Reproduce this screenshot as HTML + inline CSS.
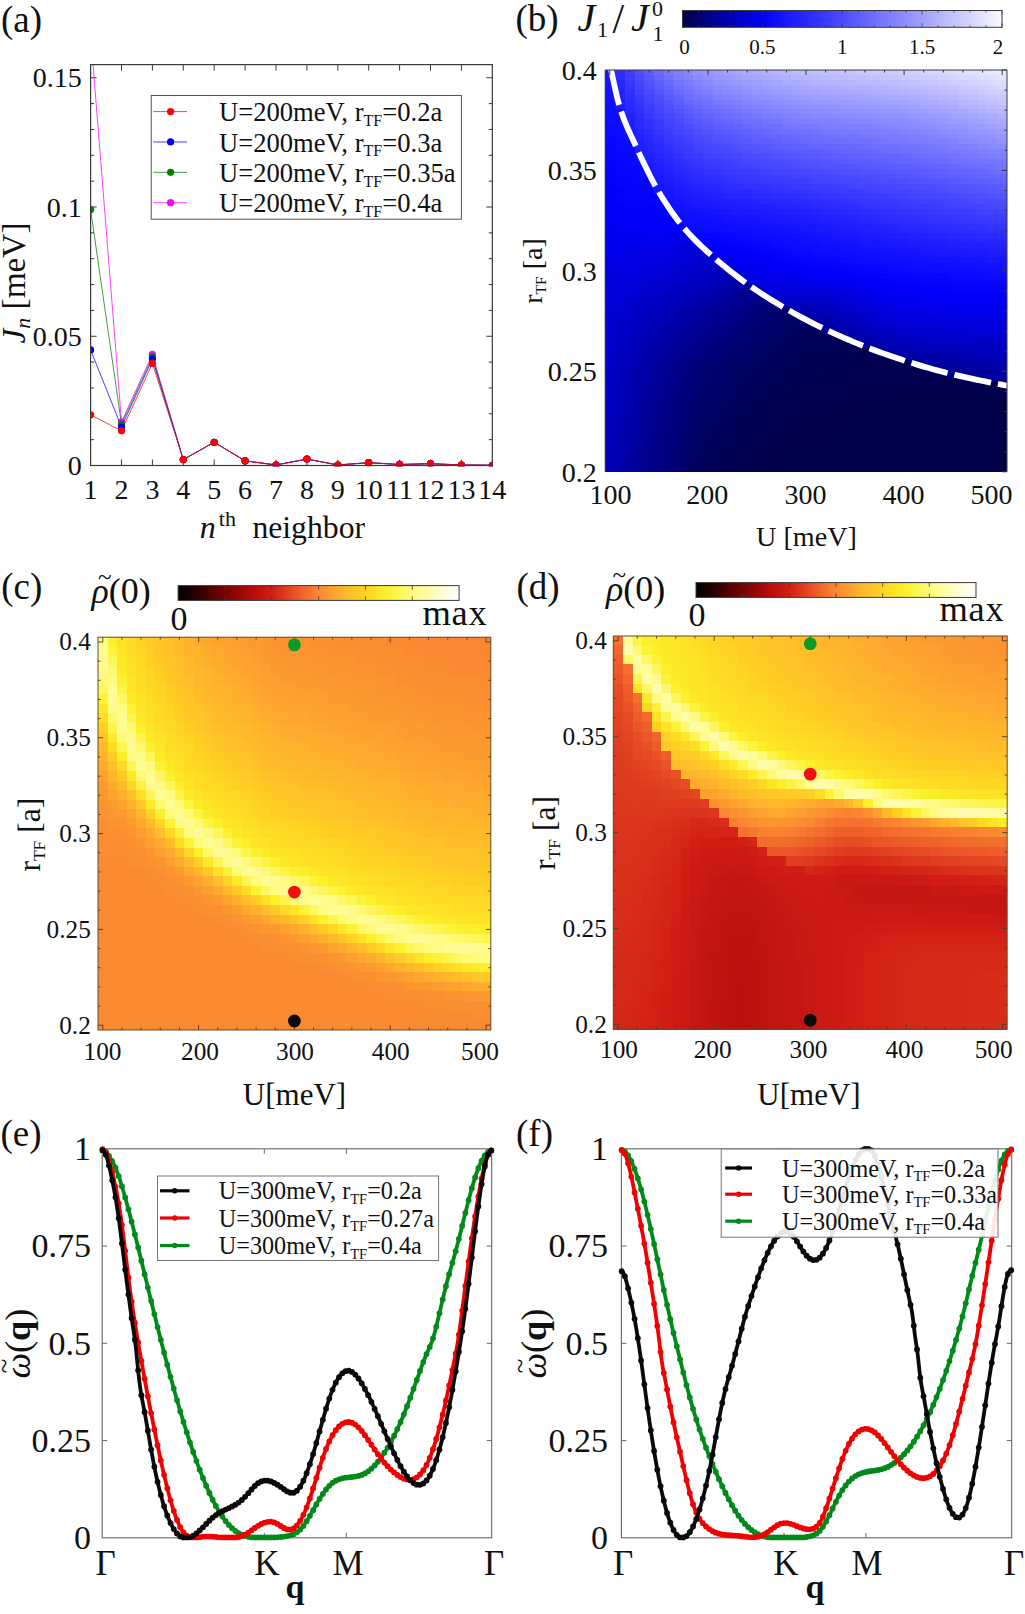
<!DOCTYPE html>
<html><head><meta charset="utf-8"><title>figure</title>
<style>html,body{margin:0;padding:0;background:#fff}svg{display:block}text{font-family:"Liberation Serif",serif;fill:#111}</style>
</head><body>
<svg width="1025" height="1614" viewBox="0 0 1025 1614">
<rect width="1025" height="1614" fill="#fff"/>
<clipPath id="ca"><rect x="90" y="64.6" width="402.9" height="401.7"/></clipPath>
<line x1="121.5" y1="465.5" x2="121.5" y2="459.5" stroke="#3a3a3a" stroke-width="1" />
<line x1="121.5" y1="64.6" x2="121.5" y2="70.6" stroke="#3a3a3a" stroke-width="1" />
<line x1="152.4" y1="465.5" x2="152.4" y2="459.5" stroke="#3a3a3a" stroke-width="1" />
<line x1="152.4" y1="64.6" x2="152.4" y2="70.6" stroke="#3a3a3a" stroke-width="1" />
<line x1="183.3" y1="465.5" x2="183.3" y2="459.5" stroke="#3a3a3a" stroke-width="1" />
<line x1="183.3" y1="64.6" x2="183.3" y2="70.6" stroke="#3a3a3a" stroke-width="1" />
<line x1="214.2" y1="465.5" x2="214.2" y2="459.5" stroke="#3a3a3a" stroke-width="1" />
<line x1="214.2" y1="64.6" x2="214.2" y2="70.6" stroke="#3a3a3a" stroke-width="1" />
<line x1="245.1" y1="465.5" x2="245.1" y2="459.5" stroke="#3a3a3a" stroke-width="1" />
<line x1="245.1" y1="64.6" x2="245.1" y2="70.6" stroke="#3a3a3a" stroke-width="1" />
<line x1="276" y1="465.5" x2="276" y2="459.5" stroke="#3a3a3a" stroke-width="1" />
<line x1="276" y1="64.6" x2="276" y2="70.6" stroke="#3a3a3a" stroke-width="1" />
<line x1="306.9" y1="465.5" x2="306.9" y2="459.5" stroke="#3a3a3a" stroke-width="1" />
<line x1="306.9" y1="64.6" x2="306.9" y2="70.6" stroke="#3a3a3a" stroke-width="1" />
<line x1="337.8" y1="465.5" x2="337.8" y2="459.5" stroke="#3a3a3a" stroke-width="1" />
<line x1="337.8" y1="64.6" x2="337.8" y2="70.6" stroke="#3a3a3a" stroke-width="1" />
<line x1="368.7" y1="465.5" x2="368.7" y2="459.5" stroke="#3a3a3a" stroke-width="1" />
<line x1="368.7" y1="64.6" x2="368.7" y2="70.6" stroke="#3a3a3a" stroke-width="1" />
<line x1="399.6" y1="465.5" x2="399.6" y2="459.5" stroke="#3a3a3a" stroke-width="1" />
<line x1="399.6" y1="64.6" x2="399.6" y2="70.6" stroke="#3a3a3a" stroke-width="1" />
<line x1="430.5" y1="465.5" x2="430.5" y2="459.5" stroke="#3a3a3a" stroke-width="1" />
<line x1="430.5" y1="64.6" x2="430.5" y2="70.6" stroke="#3a3a3a" stroke-width="1" />
<line x1="461.4" y1="465.5" x2="461.4" y2="459.5" stroke="#3a3a3a" stroke-width="1" />
<line x1="461.4" y1="64.6" x2="461.4" y2="70.6" stroke="#3a3a3a" stroke-width="1" />
<line x1="90.6" y1="465.5" x2="96.6" y2="465.5" stroke="#3a3a3a" stroke-width="1" />
<line x1="492.3" y1="465.5" x2="486.3" y2="465.5" stroke="#3a3a3a" stroke-width="1" />
<line x1="90.6" y1="439.65" x2="94.1" y2="439.65" stroke="#3a3a3a" stroke-width="1" />
<line x1="492.3" y1="439.65" x2="488.8" y2="439.65" stroke="#3a3a3a" stroke-width="1" />
<line x1="90.6" y1="413.8" x2="94.1" y2="413.8" stroke="#3a3a3a" stroke-width="1" />
<line x1="492.3" y1="413.8" x2="488.8" y2="413.8" stroke="#3a3a3a" stroke-width="1" />
<line x1="90.6" y1="387.95" x2="94.1" y2="387.95" stroke="#3a3a3a" stroke-width="1" />
<line x1="492.3" y1="387.95" x2="488.8" y2="387.95" stroke="#3a3a3a" stroke-width="1" />
<line x1="90.6" y1="362.1" x2="94.1" y2="362.1" stroke="#3a3a3a" stroke-width="1" />
<line x1="492.3" y1="362.1" x2="488.8" y2="362.1" stroke="#3a3a3a" stroke-width="1" />
<line x1="90.6" y1="336.25" x2="96.6" y2="336.25" stroke="#3a3a3a" stroke-width="1" />
<line x1="492.3" y1="336.25" x2="486.3" y2="336.25" stroke="#3a3a3a" stroke-width="1" />
<line x1="90.6" y1="310.4" x2="94.1" y2="310.4" stroke="#3a3a3a" stroke-width="1" />
<line x1="492.3" y1="310.4" x2="488.8" y2="310.4" stroke="#3a3a3a" stroke-width="1" />
<line x1="90.6" y1="284.55" x2="94.1" y2="284.55" stroke="#3a3a3a" stroke-width="1" />
<line x1="492.3" y1="284.55" x2="488.8" y2="284.55" stroke="#3a3a3a" stroke-width="1" />
<line x1="90.6" y1="258.7" x2="94.1" y2="258.7" stroke="#3a3a3a" stroke-width="1" />
<line x1="492.3" y1="258.7" x2="488.8" y2="258.7" stroke="#3a3a3a" stroke-width="1" />
<line x1="90.6" y1="232.85" x2="94.1" y2="232.85" stroke="#3a3a3a" stroke-width="1" />
<line x1="492.3" y1="232.85" x2="488.8" y2="232.85" stroke="#3a3a3a" stroke-width="1" />
<line x1="90.6" y1="207" x2="96.6" y2="207" stroke="#3a3a3a" stroke-width="1" />
<line x1="492.3" y1="207" x2="486.3" y2="207" stroke="#3a3a3a" stroke-width="1" />
<line x1="90.6" y1="181.15" x2="94.1" y2="181.15" stroke="#3a3a3a" stroke-width="1" />
<line x1="492.3" y1="181.15" x2="488.8" y2="181.15" stroke="#3a3a3a" stroke-width="1" />
<line x1="90.6" y1="155.3" x2="94.1" y2="155.3" stroke="#3a3a3a" stroke-width="1" />
<line x1="492.3" y1="155.3" x2="488.8" y2="155.3" stroke="#3a3a3a" stroke-width="1" />
<line x1="90.6" y1="129.45" x2="94.1" y2="129.45" stroke="#3a3a3a" stroke-width="1" />
<line x1="492.3" y1="129.45" x2="488.8" y2="129.45" stroke="#3a3a3a" stroke-width="1" />
<line x1="90.6" y1="103.6" x2="94.1" y2="103.6" stroke="#3a3a3a" stroke-width="1" />
<line x1="492.3" y1="103.6" x2="488.8" y2="103.6" stroke="#3a3a3a" stroke-width="1" />
<line x1="90.6" y1="77.75" x2="96.6" y2="77.75" stroke="#3a3a3a" stroke-width="1" />
<line x1="492.3" y1="77.75" x2="486.3" y2="77.75" stroke="#3a3a3a" stroke-width="1" />
<g clip-path="url(#ca)">
<polyline points="90.6,33.8 121.5,421.81 152.4,354.35 183.3,459.55 214.2,442.24 245.1,460.85 276,464.98 306.9,459.04 337.8,464.98 368.7,462.66 399.6,464.47 430.5,463.69 461.4,464.98 492.3,465.24" fill="none" stroke="#ff00ff" stroke-width="1" stroke-opacity="0.75"/>
<polyline points="90.6,209.58 121.5,424.14 152.4,356.93 183.3,459.55 214.2,442.24 245.1,460.85 276,464.98 306.9,459.04 337.8,464.98 368.7,462.66 399.6,464.47 430.5,463.69 461.4,464.98 492.3,465.24" fill="none" stroke="#008000" stroke-width="1" stroke-opacity="0.75"/>
<polyline points="90.6,349.95 121.5,426.98 152.4,359 183.3,459.55 214.2,442.24 245.1,460.85 276,464.98 306.9,459.04 337.8,464.98 368.7,462.66 399.6,464.47 430.5,463.69 461.4,464.98 492.3,465.24" fill="none" stroke="#0000ff" stroke-width="1" stroke-opacity="0.75"/>
<polyline points="90.6,414.83 121.5,430.86 152.4,363.39 183.3,459.55 214.2,442.24 245.1,460.85 276,464.98 306.9,459.04 337.8,464.98 368.7,462.66 399.6,464.47 430.5,463.69 461.4,464.98 492.3,465.24" fill="none" stroke="#ff0000" stroke-width="1" stroke-opacity="0.75"/>
<circle cx="90.6" cy="33.8" r="3.6" fill="#ff00ff"/>
<circle cx="121.5" cy="421.81" r="3.6" fill="#ff00ff"/>
<circle cx="152.4" cy="354.35" r="3.6" fill="#ff00ff"/>
<circle cx="183.3" cy="459.55" r="3.6" fill="#ff00ff"/>
<circle cx="214.2" cy="442.24" r="3.6" fill="#ff00ff"/>
<circle cx="245.1" cy="460.85" r="3.6" fill="#ff00ff"/>
<circle cx="276" cy="464.98" r="3.6" fill="#ff00ff"/>
<circle cx="306.9" cy="459.04" r="3.6" fill="#ff00ff"/>
<circle cx="337.8" cy="464.98" r="3.6" fill="#ff00ff"/>
<circle cx="368.7" cy="462.66" r="3.6" fill="#ff00ff"/>
<circle cx="399.6" cy="464.47" r="3.6" fill="#ff00ff"/>
<circle cx="430.5" cy="463.69" r="3.6" fill="#ff00ff"/>
<circle cx="461.4" cy="464.98" r="3.6" fill="#ff00ff"/>
<circle cx="492.3" cy="465.24" r="3.6" fill="#ff00ff"/>
<circle cx="90.6" cy="209.58" r="3.6" fill="#008000"/>
<circle cx="121.5" cy="424.14" r="3.6" fill="#008000"/>
<circle cx="152.4" cy="356.93" r="3.6" fill="#008000"/>
<circle cx="183.3" cy="459.55" r="3.6" fill="#008000"/>
<circle cx="214.2" cy="442.24" r="3.6" fill="#008000"/>
<circle cx="245.1" cy="460.85" r="3.6" fill="#008000"/>
<circle cx="276" cy="464.98" r="3.6" fill="#008000"/>
<circle cx="306.9" cy="459.04" r="3.6" fill="#008000"/>
<circle cx="337.8" cy="464.98" r="3.6" fill="#008000"/>
<circle cx="368.7" cy="462.66" r="3.6" fill="#008000"/>
<circle cx="399.6" cy="464.47" r="3.6" fill="#008000"/>
<circle cx="430.5" cy="463.69" r="3.6" fill="#008000"/>
<circle cx="461.4" cy="464.98" r="3.6" fill="#008000"/>
<circle cx="492.3" cy="465.24" r="3.6" fill="#008000"/>
<circle cx="90.6" cy="349.95" r="3.6" fill="#0000ff"/>
<circle cx="121.5" cy="426.98" r="3.6" fill="#0000ff"/>
<circle cx="152.4" cy="359" r="3.6" fill="#0000ff"/>
<circle cx="183.3" cy="459.55" r="3.6" fill="#0000ff"/>
<circle cx="214.2" cy="442.24" r="3.6" fill="#0000ff"/>
<circle cx="245.1" cy="460.85" r="3.6" fill="#0000ff"/>
<circle cx="276" cy="464.98" r="3.6" fill="#0000ff"/>
<circle cx="306.9" cy="459.04" r="3.6" fill="#0000ff"/>
<circle cx="337.8" cy="464.98" r="3.6" fill="#0000ff"/>
<circle cx="368.7" cy="462.66" r="3.6" fill="#0000ff"/>
<circle cx="399.6" cy="464.47" r="3.6" fill="#0000ff"/>
<circle cx="430.5" cy="463.69" r="3.6" fill="#0000ff"/>
<circle cx="461.4" cy="464.98" r="3.6" fill="#0000ff"/>
<circle cx="492.3" cy="465.24" r="3.6" fill="#0000ff"/>
<circle cx="90.6" cy="414.83" r="3.6" fill="#ff0000"/>
<circle cx="121.5" cy="430.86" r="3.6" fill="#ff0000"/>
<circle cx="152.4" cy="363.39" r="3.6" fill="#ff0000"/>
<circle cx="183.3" cy="459.55" r="3.6" fill="#ff0000"/>
<circle cx="214.2" cy="442.24" r="3.6" fill="#ff0000"/>
<circle cx="245.1" cy="460.85" r="3.6" fill="#ff0000"/>
<circle cx="276" cy="464.98" r="3.6" fill="#ff0000"/>
<circle cx="306.9" cy="459.04" r="3.6" fill="#ff0000"/>
<circle cx="337.8" cy="464.98" r="3.6" fill="#ff0000"/>
<circle cx="368.7" cy="462.66" r="3.6" fill="#ff0000"/>
<circle cx="399.6" cy="464.47" r="3.6" fill="#ff0000"/>
<circle cx="430.5" cy="463.69" r="3.6" fill="#ff0000"/>
<circle cx="461.4" cy="464.98" r="3.6" fill="#ff0000"/>
<circle cx="492.3" cy="465.24" r="3.6" fill="#ff0000"/>
</g>
<rect x="90.6" y="64.6" width="401.7" height="400.9" fill="none" stroke="#3a3a3a" stroke-width="1.2"/>
<text x="81.8" y="475.2" font-size="28" text-anchor="end" >0</text>
<text x="81.8" y="345.95" font-size="28" text-anchor="end" >0.05</text>
<text x="81.8" y="216.7" font-size="28" text-anchor="end" >0.1</text>
<text x="81.8" y="87.45" font-size="28" text-anchor="end" >0.15</text>
<text x="90.6" y="498.5" font-size="28" text-anchor="middle" >1</text>
<text x="121.5" y="498.5" font-size="28" text-anchor="middle" >2</text>
<text x="152.4" y="498.5" font-size="28" text-anchor="middle" >3</text>
<text x="183.3" y="498.5" font-size="28" text-anchor="middle" >4</text>
<text x="214.2" y="498.5" font-size="28" text-anchor="middle" >5</text>
<text x="245.1" y="498.5" font-size="28" text-anchor="middle" >6</text>
<text x="276" y="498.5" font-size="28" text-anchor="middle" >7</text>
<text x="306.9" y="498.5" font-size="28" text-anchor="middle" >8</text>
<text x="337.8" y="498.5" font-size="28" text-anchor="middle" >9</text>
<text x="368.7" y="498.5" font-size="28" text-anchor="middle" >10</text>
<text x="399.6" y="498.5" font-size="28" text-anchor="middle" >11</text>
<text x="430.5" y="498.5" font-size="28" text-anchor="middle" >12</text>
<text x="461.4" y="498.5" font-size="28" text-anchor="middle" >13</text>
<text x="492.3" y="498.5" font-size="28" text-anchor="middle" >14</text>
<text x="199.8" y="538" font-size="32" text-anchor="start" font-style="italic">n</text>
<text x="218.8" y="525.5" font-size="22" text-anchor="start" >th</text>
<text x="252.4" y="538" font-size="31.7" text-anchor="start" >neighbor</text>
<text transform="translate(25.2,283) rotate(-90)" font-size="33.3" text-anchor="middle" ><tspan font-style="italic">J</tspan><tspan font-style="italic" font-size="22" dy="5">n</tspan><tspan dy="-5"> [meV]</tspan></text>
<text x="1" y="31.8" font-size="37" text-anchor="start" >(a)</text>
<rect x="151.2" y="95.5" width="310.2" height="123.7" fill="#fff" stroke="#555" stroke-width="1"/>
<line x1="153.3" y1="111.6" x2="187" y2="111.6" stroke="#ff0000" stroke-width="1" stroke-opacity="0.75"/>
<circle cx="170.6" cy="111.6" r="3.6" fill="#ff0000"/>
<text x="219" y="121.2" font-size="26.6" text-anchor="start" >U=200meV, r<tspan font-size="16" dy="4.8">TF</tspan><tspan dy="-4.8">=0.2a</tspan></text>
<line x1="153.3" y1="141.97" x2="187" y2="141.97" stroke="#0000ff" stroke-width="1" stroke-opacity="0.75"/>
<circle cx="170.6" cy="141.97" r="3.6" fill="#0000ff"/>
<text x="219" y="151.57" font-size="26.6" text-anchor="start" >U=200meV, r<tspan font-size="16" dy="4.8">TF</tspan><tspan dy="-4.8">=0.3a</tspan></text>
<line x1="153.3" y1="172.34" x2="187" y2="172.34" stroke="#008000" stroke-width="1" stroke-opacity="0.75"/>
<circle cx="170.6" cy="172.34" r="3.6" fill="#008000"/>
<text x="219" y="181.94" font-size="26.6" text-anchor="start" >U=200meV, r<tspan font-size="16" dy="4.8">TF</tspan><tspan dy="-4.8">=0.35a</tspan></text>
<line x1="153.3" y1="202.71" x2="187" y2="202.71" stroke="#ff00ff" stroke-width="1" stroke-opacity="0.75"/>
<circle cx="170.6" cy="202.71" r="3.6" fill="#ff00ff"/>
<text x="219" y="212.31" font-size="26.6" text-anchor="start" >U=200meV, r<tspan font-size="16" dy="4.8">TF</tspan><tspan dy="-4.8">=0.4a</tspan></text>
<g transform="translate(605.2,70) scale(9.8000,4.9605)" shape-rendering="crispEdges" fill="none" stroke-width="1.08">
<path stroke="#1818ff" d="M0 0.5h1.04"/>
<path stroke="#2e2eff" d="M1 0.5h1.04"/>
<path stroke="#3e3eff" d="M2 0.5h1.04"/>
<path stroke="#4e4eff" d="M3 0.5h1.04"/>
<path stroke="#5e5eff" d="M4 0.5h1.04"/>
<path stroke="#6a6aff" d="M5 0.5h1.04"/>
<path stroke="#7676ff" d="M6 0.5h1.04"/>
<path stroke="#8080ff" d="M7 0.5h1.04"/>
<path stroke="#8888ff" d="M8 0.5h1.04"/>
<path stroke="#9090ff" d="M9 0.5h1.04"/>
<path stroke="#9696ff" d="M10 0.5h1.04"/>
<path stroke="#9c9cff" d="M11 0.5h1.04"/>
<path stroke="#a0a0ff" d="M12 0.5h1.04"/>
<path stroke="#a6a6ff" d="M13 0.5h1.04"/>
<path stroke="#aaaaff" d="M14 0.5h1.04"/>
<path stroke="#aeaeff" d="M15 0.5h1.04"/>
<path stroke="#b2b2ff" d="M16 0.5h1.04"/>
<path stroke="#b4b4ff" d="M17 0.5h1.04"/>
<path stroke="#b8b8ff" d="M18 0.5h1.04"/>
<path stroke="#babaff" d="M19 0.5h1.04"/>
<path stroke="#bcbcff" d="M20 0.5h1.04"/>
<path stroke="#c0c0ff" d="M21 0.5h1.04"/>
<path stroke="#c2c2ff" d="M22 0.5h2.04"/>
<path stroke="#c4c4ff" d="M24 0.5h1.04"/>
<path stroke="#c6c6ff" d="M25 0.5h1.04"/>
<path stroke="#c8c8ff" d="M26 0.5h1.04"/>
<path stroke="#cacaff" d="M27 0.5h2.04"/>
<path stroke="#ccccff" d="M29 0.5h1.04"/>
<path stroke="#ceceff" d="M30 0.5h1.04"/>
<path stroke="#d0d0ff" d="M31 0.5h1.04"/>
<path stroke="#d4d4ff" d="M32 0.5h1.04"/>
<path stroke="#d6d6ff" d="M33 0.5h1.04"/>
<path stroke="#d8d8ff" d="M34 0.5h1.04"/>
<path stroke="#dcdcff" d="M35 0.5h1.04"/>
<path stroke="#dedeff" d="M36 0.5h1.04"/>
<path stroke="#e0e0ff" d="M37 0.5h1.04"/>
<path stroke="#e4e4ff" d="M38 0.5h1.04"/>
<path stroke="#e8e8ff" d="M39 0.5h1.04"/>
<path stroke="#eaeaff" d="M40 0.5h1"/>
<path stroke="#1616ff" d="M0 1.5h1.04"/>
<path stroke="#2c2cff" d="M1 1.5h1.04"/>
<path stroke="#3c3cff" d="M2 1.5h1.04"/>
<path stroke="#4a4aff" d="M3 1.5h1.04"/>
<path stroke="#5858ff" d="M4 1.5h1.04"/>
<path stroke="#6464ff" d="M5 1.5h1.04"/>
<path stroke="#7070ff" d="M6 1.5h1.04"/>
<path stroke="#7a7aff" d="M7 1.5h1.04"/>
<path stroke="#8282ff" d="M8 1.5h1.04"/>
<path stroke="#8a8aff" d="M9 1.5h1.04"/>
<path stroke="#9090ff" d="M10 1.5h1.04"/>
<path stroke="#9696ff" d="M11 1.5h1.04"/>
<path stroke="#9a9aff" d="M12 1.5h1.04"/>
<path stroke="#9e9eff" d="M13 1.5h1.04"/>
<path stroke="#a2a2ff" d="M14 1.5h1.04"/>
<path stroke="#a6a6ff" d="M15 1.5h1.04"/>
<path stroke="#aaaaff" d="M16 1.5h1.04"/>
<path stroke="#aeaeff" d="M17 1.5h1.04"/>
<path stroke="#b0b0ff" d="M18 1.5h1.04"/>
<path stroke="#b4b4ff" d="M19 1.5h1.04"/>
<path stroke="#b6b6ff" d="M20 1.5h1.04"/>
<path stroke="#b8b8ff" d="M21 1.5h1.04"/>
<path stroke="#babaff" d="M22 1.5h1.04"/>
<path stroke="#bcbcff" d="M23 1.5h1.04"/>
<path stroke="#bebeff" d="M24 1.5h1.04"/>
<path stroke="#c0c0ff" d="M25 1.5h2.04"/>
<path stroke="#c2c2ff" d="M27 1.5h1.04"/>
<path stroke="#c4c4ff" d="M28 1.5h1.04"/>
<path stroke="#c6c6ff" d="M29 1.5h1.04"/>
<path stroke="#c8c8ff" d="M30 1.5h1.04"/>
<path stroke="#cacaff" d="M31 1.5h1.04"/>
<path stroke="#ccccff" d="M32 1.5h1.04"/>
<path stroke="#ceceff" d="M33 1.5h1.04"/>
<path stroke="#d2d2ff" d="M34 1.5h1.04"/>
<path stroke="#d4d4ff" d="M35 1.5h1.04"/>
<path stroke="#d8d8ff" d="M36 1.5h1.04"/>
<path stroke="#dadaff" d="M37 1.5h1.04"/>
<path stroke="#dedeff" d="M38 1.5h1.04"/>
<path stroke="#e0e0ff" d="M39 1.5h1.04"/>
<path stroke="#e4e4ff" d="M40 1.5h1"/>
<path stroke="#1414ff" d="M0 2.5h1.04"/>
<path stroke="#2828ff" d="M1 2.5h1.04"/>
<path stroke="#3838ff" d="M2 2.5h1.04"/>
<path stroke="#4646ff" d="M3 2.5h1.04"/>
<path stroke="#5252ff" d="M4 2.5h1.04"/>
<path stroke="#5e5eff" d="M5 2.5h1.04"/>
<path stroke="#6a6aff" d="M6 2.5h1.04"/>
<path stroke="#7474ff" d="M7 2.5h1.04"/>
<path stroke="#7c7cff" d="M8 2.5h1.04"/>
<path stroke="#8484ff" d="M9 2.5h1.04"/>
<path stroke="#8a8aff" d="M10 2.5h1.04"/>
<path stroke="#9090ff" d="M11 2.5h1.04"/>
<path stroke="#9494ff" d="M12 2.5h1.04"/>
<path stroke="#9898ff" d="M13 2.5h1.04"/>
<path stroke="#9c9cff" d="M14 2.5h1.04"/>
<path stroke="#a0a0ff" d="M15 2.5h1.04"/>
<path stroke="#a4a4ff" d="M16 2.5h1.04"/>
<path stroke="#a6a6ff" d="M17 2.5h1.04"/>
<path stroke="#aaaaff" d="M18 2.5h1.04"/>
<path stroke="#acacff" d="M19 2.5h1.04"/>
<path stroke="#b0b0ff" d="M20 2.5h1.04"/>
<path stroke="#b2b2ff" d="M21 2.5h1.04"/>
<path stroke="#b4b4ff" d="M22 2.5h2.04"/>
<path stroke="#b6b6ff" d="M24 2.5h1.04"/>
<path stroke="#b8b8ff" d="M25 2.5h1.04"/>
<path stroke="#babaff" d="M26 2.5h2.04"/>
<path stroke="#bcbcff" d="M28 2.5h1.04"/>
<path stroke="#bebeff" d="M29 2.5h1.04"/>
<path stroke="#c0c0ff" d="M30 2.5h1.04"/>
<path stroke="#c2c2ff" d="M31 2.5h1.04"/>
<path stroke="#c4c4ff" d="M32 2.5h1.04"/>
<path stroke="#c8c8ff" d="M33 2.5h1.04"/>
<path stroke="#cacaff" d="M34 2.5h1.04"/>
<path stroke="#ceceff" d="M35 2.5h1.04"/>
<path stroke="#d0d0ff" d="M36 2.5h1.04"/>
<path stroke="#d4d4ff" d="M37 2.5h1.04"/>
<path stroke="#d6d6ff" d="M38 2.5h1.04"/>
<path stroke="#dadaff" d="M39 2.5h1.04"/>
<path stroke="#dedeff" d="M40 2.5h1"/>
<path stroke="#1414ff" d="M0 3.5h1.04"/>
<path stroke="#2626ff" d="M1 3.5h1.04"/>
<path stroke="#3434ff" d="M2 3.5h1.04"/>
<path stroke="#4242ff" d="M3 3.5h1.04"/>
<path stroke="#4e4eff" d="M4 3.5h1.04"/>
<path stroke="#5a5aff" d="M5 3.5h1.04"/>
<path stroke="#6464ff" d="M6 3.5h1.04"/>
<path stroke="#6e6eff" d="M7 3.5h1.04"/>
<path stroke="#7676ff" d="M8 3.5h1.04"/>
<path stroke="#7e7eff" d="M9 3.5h1.04"/>
<path stroke="#8484ff" d="M10 3.5h1.04"/>
<path stroke="#8a8aff" d="M11 3.5h1.04"/>
<path stroke="#8e8eff" d="M12 3.5h1.04"/>
<path stroke="#9292ff" d="M13 3.5h1.04"/>
<path stroke="#9696ff" d="M14 3.5h1.04"/>
<path stroke="#9a9aff" d="M15 3.5h1.04"/>
<path stroke="#9e9eff" d="M16 3.5h1.04"/>
<path stroke="#a0a0ff" d="M17 3.5h1.04"/>
<path stroke="#a4a4ff" d="M18 3.5h1.04"/>
<path stroke="#a6a6ff" d="M19 3.5h1.04"/>
<path stroke="#a8a8ff" d="M20 3.5h1.04"/>
<path stroke="#aaaaff" d="M21 3.5h1.04"/>
<path stroke="#acacff" d="M22 3.5h1.04"/>
<path stroke="#aeaeff" d="M23 3.5h1.04"/>
<path stroke="#b0b0ff" d="M24 3.5h1.04"/>
<path stroke="#b2b2ff" d="M25 3.5h2.04"/>
<path stroke="#b4b4ff" d="M27 3.5h1.04"/>
<path stroke="#b6b6ff" d="M28 3.5h1.04"/>
<path stroke="#b8b8ff" d="M29 3.5h1.04"/>
<path stroke="#babaff" d="M30 3.5h1.04"/>
<path stroke="#bcbcff" d="M31 3.5h1.04"/>
<path stroke="#bebeff" d="M32 3.5h1.04"/>
<path stroke="#c0c0ff" d="M33 3.5h1.04"/>
<path stroke="#c4c4ff" d="M34 3.5h1.04"/>
<path stroke="#c6c6ff" d="M35 3.5h1.04"/>
<path stroke="#cacaff" d="M36 3.5h1.04"/>
<path stroke="#ccccff" d="M37 3.5h1.04"/>
<path stroke="#d0d0ff" d="M38 3.5h1.04"/>
<path stroke="#d4d4ff" d="M39 3.5h1.04"/>
<path stroke="#d8d8ff" d="M40 3.5h1"/>
<path stroke="#1212ff" d="M0 4.5h1.04"/>
<path stroke="#2424ff" d="M1 4.5h1.04"/>
<path stroke="#3030ff" d="M2 4.5h1.04"/>
<path stroke="#3e3eff" d="M3 4.5h1.04"/>
<path stroke="#4848ff" d="M4 4.5h1.04"/>
<path stroke="#5454ff" d="M5 4.5h1.04"/>
<path stroke="#5e5eff" d="M6 4.5h1.04"/>
<path stroke="#6868ff" d="M7 4.5h1.04"/>
<path stroke="#7070ff" d="M8 4.5h1.04"/>
<path stroke="#7878ff" d="M9 4.5h1.04"/>
<path stroke="#7e7eff" d="M10 4.5h1.04"/>
<path stroke="#8484ff" d="M11 4.5h1.04"/>
<path stroke="#8888ff" d="M12 4.5h1.04"/>
<path stroke="#8c8cff" d="M13 4.5h1.04"/>
<path stroke="#9090ff" d="M14 4.5h1.04"/>
<path stroke="#9494ff" d="M15 4.5h1.04"/>
<path stroke="#9696ff" d="M16 4.5h1.04"/>
<path stroke="#9a9aff" d="M17 4.5h1.04"/>
<path stroke="#9c9cff" d="M18 4.5h1.04"/>
<path stroke="#a0a0ff" d="M19 4.5h1.04"/>
<path stroke="#a2a2ff" d="M20 4.5h1.04"/>
<path stroke="#a4a4ff" d="M21 4.5h1.04"/>
<path stroke="#a6a6ff" d="M22 4.5h1.04"/>
<path stroke="#a8a8ff" d="M23 4.5h2.04"/>
<path stroke="#aaaaff" d="M25 4.5h1.04"/>
<path stroke="#acacff" d="M26 4.5h1.04"/>
<path stroke="#aeaeff" d="M27 4.5h2.04"/>
<path stroke="#b0b0ff" d="M29 4.5h1.04"/>
<path stroke="#b2b2ff" d="M30 4.5h1.04"/>
<path stroke="#b4b4ff" d="M31 4.5h1.04"/>
<path stroke="#b8b8ff" d="M32 4.5h1.04"/>
<path stroke="#babaff" d="M33 4.5h1.04"/>
<path stroke="#bcbcff" d="M34 4.5h1.04"/>
<path stroke="#c0c0ff" d="M35 4.5h1.04"/>
<path stroke="#c2c2ff" d="M36 4.5h1.04"/>
<path stroke="#c6c6ff" d="M37 4.5h1.04"/>
<path stroke="#cacaff" d="M38 4.5h1.04"/>
<path stroke="#ccccff" d="M39 4.5h1.04"/>
<path stroke="#d0d0ff" d="M40 4.5h1"/>
<path stroke="#1212ff" d="M0 5.5h1.04"/>
<path stroke="#2020ff" d="M1 5.5h1.04"/>
<path stroke="#2e2eff" d="M2 5.5h1.04"/>
<path stroke="#3a3aff" d="M3 5.5h1.04"/>
<path stroke="#4444ff" d="M4 5.5h1.04"/>
<path stroke="#4e4eff" d="M5 5.5h1.04"/>
<path stroke="#5a5aff" d="M6 5.5h1.04"/>
<path stroke="#6262ff" d="M7 5.5h1.04"/>
<path stroke="#6c6cff" d="M8 5.5h1.04"/>
<path stroke="#7272ff" d="M9 5.5h1.04"/>
<path stroke="#7878ff" d="M10 5.5h1.04"/>
<path stroke="#7e7eff" d="M11 5.5h1.04"/>
<path stroke="#8282ff" d="M12 5.5h1.04"/>
<path stroke="#8686ff" d="M13 5.5h1.04"/>
<path stroke="#8a8aff" d="M14 5.5h1.04"/>
<path stroke="#8e8eff" d="M15 5.5h1.04"/>
<path stroke="#9090ff" d="M16 5.5h1.04"/>
<path stroke="#9494ff" d="M17 5.5h1.04"/>
<path stroke="#9696ff" d="M18 5.5h1.04"/>
<path stroke="#9a9aff" d="M19 5.5h1.04"/>
<path stroke="#9c9cff" d="M20 5.5h1.04"/>
<path stroke="#9e9eff" d="M21 5.5h1.04"/>
<path stroke="#a0a0ff" d="M22 5.5h2.04"/>
<path stroke="#a2a2ff" d="M24 5.5h1.04"/>
<path stroke="#a4a4ff" d="M25 5.5h2.04"/>
<path stroke="#a6a6ff" d="M27 5.5h1.04"/>
<path stroke="#a8a8ff" d="M28 5.5h1.04"/>
<path stroke="#aaaaff" d="M29 5.5h1.04"/>
<path stroke="#acacff" d="M30 5.5h1.04"/>
<path stroke="#aeaeff" d="M31 5.5h1.04"/>
<path stroke="#b0b0ff" d="M32 5.5h1.04"/>
<path stroke="#b2b2ff" d="M33 5.5h1.04"/>
<path stroke="#b6b6ff" d="M34 5.5h1.04"/>
<path stroke="#b8b8ff" d="M35 5.5h1.04"/>
<path stroke="#bcbcff" d="M36 5.5h1.04"/>
<path stroke="#c0c0ff" d="M37 5.5h1.04"/>
<path stroke="#c2c2ff" d="M38 5.5h1.04"/>
<path stroke="#c6c6ff" d="M39 5.5h1.04"/>
<path stroke="#cacaff" d="M40 5.5h1"/>
<path stroke="#1010ff" d="M0 6.5h1.04"/>
<path stroke="#1e1eff" d="M1 6.5h1.04"/>
<path stroke="#2a2aff" d="M2 6.5h1.04"/>
<path stroke="#3636ff" d="M3 6.5h1.04"/>
<path stroke="#4040ff" d="M4 6.5h1.04"/>
<path stroke="#4a4aff" d="M5 6.5h1.04"/>
<path stroke="#5454ff" d="M6 6.5h1.04"/>
<path stroke="#5e5eff" d="M7 6.5h1.04"/>
<path stroke="#6666ff" d="M8 6.5h1.04"/>
<path stroke="#6c6cff" d="M9 6.5h1.04"/>
<path stroke="#7272ff" d="M10 6.5h1.04"/>
<path stroke="#7878ff" d="M11 6.5h1.04"/>
<path stroke="#7c7cff" d="M12 6.5h1.04"/>
<path stroke="#8080ff" d="M13 6.5h1.04"/>
<path stroke="#8484ff" d="M14 6.5h1.04"/>
<path stroke="#8888ff" d="M15 6.5h1.04"/>
<path stroke="#8a8aff" d="M16 6.5h1.04"/>
<path stroke="#8e8eff" d="M17 6.5h1.04"/>
<path stroke="#9090ff" d="M18 6.5h1.04"/>
<path stroke="#9292ff" d="M19 6.5h1.04"/>
<path stroke="#9696ff" d="M20 6.5h1.04"/>
<path stroke="#9898ff" d="M21 6.5h2.04"/>
<path stroke="#9a9aff" d="M23 6.5h1.04"/>
<path stroke="#9c9cff" d="M24 6.5h1.04"/>
<path stroke="#9e9eff" d="M25 6.5h2.04"/>
<path stroke="#a0a0ff" d="M27 6.5h1.04"/>
<path stroke="#a2a2ff" d="M28 6.5h2.04"/>
<path stroke="#a4a4ff" d="M30 6.5h1.04"/>
<path stroke="#a8a8ff" d="M31 6.5h1.04"/>
<path stroke="#aaaaff" d="M32 6.5h1.04"/>
<path stroke="#acacff" d="M33 6.5h1.04"/>
<path stroke="#b0b0ff" d="M34 6.5h1.04"/>
<path stroke="#b2b2ff" d="M35 6.5h1.04"/>
<path stroke="#b6b6ff" d="M36 6.5h1.04"/>
<path stroke="#b8b8ff" d="M37 6.5h1.04"/>
<path stroke="#bcbcff" d="M38 6.5h1.04"/>
<path stroke="#c0c0ff" d="M39 6.5h1.04"/>
<path stroke="#c4c4ff" d="M40 6.5h1"/>
<path stroke="#0e0efe" d="M0 7.5h1.04"/>
<path stroke="#1c1cff" d="M1 7.5h1.04"/>
<path stroke="#2828ff" d="M2 7.5h1.04"/>
<path stroke="#3232ff" d="M3 7.5h1.04"/>
<path stroke="#3c3cff" d="M4 7.5h1.04"/>
<path stroke="#4646ff" d="M5 7.5h1.04"/>
<path stroke="#4e4eff" d="M6 7.5h1.04"/>
<path stroke="#5858ff" d="M7 7.5h1.04"/>
<path stroke="#6060ff" d="M8 7.5h1.04"/>
<path stroke="#6868ff" d="M9 7.5h1.04"/>
<path stroke="#6e6eff" d="M10 7.5h1.04"/>
<path stroke="#7272ff" d="M11 7.5h1.04"/>
<path stroke="#7676ff" d="M12 7.5h1.04"/>
<path stroke="#7a7aff" d="M13 7.5h1.04"/>
<path stroke="#7e7eff" d="M14 7.5h1.04"/>
<path stroke="#8282ff" d="M15 7.5h1.04"/>
<path stroke="#8484ff" d="M16 7.5h1.04"/>
<path stroke="#8888ff" d="M17 7.5h1.04"/>
<path stroke="#8a8aff" d="M18 7.5h1.04"/>
<path stroke="#8c8cff" d="M19 7.5h1.04"/>
<path stroke="#9090ff" d="M20 7.5h1.04"/>
<path stroke="#9292ff" d="M21 7.5h2.04"/>
<path stroke="#9494ff" d="M23 7.5h1.04"/>
<path stroke="#9696ff" d="M24 7.5h2.04"/>
<path stroke="#9898ff" d="M26 7.5h1.04"/>
<path stroke="#9a9aff" d="M27 7.5h1.04"/>
<path stroke="#9c9cff" d="M28 7.5h2.04"/>
<path stroke="#9e9eff" d="M30 7.5h1.04"/>
<path stroke="#a0a0ff" d="M31 7.5h1.04"/>
<path stroke="#a4a4ff" d="M32 7.5h1.04"/>
<path stroke="#a6a6ff" d="M33 7.5h1.04"/>
<path stroke="#a8a8ff" d="M34 7.5h1.04"/>
<path stroke="#acacff" d="M35 7.5h1.04"/>
<path stroke="#b0b0ff" d="M36 7.5h1.04"/>
<path stroke="#b2b2ff" d="M37 7.5h1.04"/>
<path stroke="#b6b6ff" d="M38 7.5h1.04"/>
<path stroke="#babaff" d="M39 7.5h1.04"/>
<path stroke="#bebeff" d="M40 7.5h1"/>
<path stroke="#0e0efe" d="M0 8.5h2.04"/>
<path stroke="#2626ff" d="M2 8.5h1.04"/>
<path stroke="#3030ff" d="M3 8.5h1.04"/>
<path stroke="#3a3aff" d="M4 8.5h1.04"/>
<path stroke="#4242ff" d="M5 8.5h1.04"/>
<path stroke="#4a4aff" d="M6 8.5h1.04"/>
<path stroke="#5454ff" d="M7 8.5h1.04"/>
<path stroke="#5c5cff" d="M8 8.5h1.04"/>
<path stroke="#6262ff" d="M9 8.5h1.04"/>
<path stroke="#6868ff" d="M10 8.5h1.04"/>
<path stroke="#6c6cff" d="M11 8.5h1.04"/>
<path stroke="#7070ff" d="M12 8.5h1.04"/>
<path stroke="#7474ff" d="M13 8.5h1.04"/>
<path stroke="#7878ff" d="M14 8.5h1.04"/>
<path stroke="#7c7cff" d="M15 8.5h1.04"/>
<path stroke="#8080ff" d="M16 8.5h1.04"/>
<path stroke="#8282ff" d="M17 8.5h1.04"/>
<path stroke="#8484ff" d="M18 8.5h1.04"/>
<path stroke="#8686ff" d="M19 8.5h1.04"/>
<path stroke="#8a8aff" d="M20 8.5h1.04"/>
<path stroke="#8c8cff" d="M21 8.5h2.04"/>
<path stroke="#8e8eff" d="M23 8.5h1.04"/>
<path stroke="#9090ff" d="M24 8.5h2.04"/>
<path stroke="#9292ff" d="M26 8.5h1.04"/>
<path stroke="#9494ff" d="M27 8.5h1.04"/>
<path stroke="#9696ff" d="M28 8.5h2.04"/>
<path stroke="#9898ff" d="M30 8.5h1.04"/>
<path stroke="#9a9aff" d="M31 8.5h1.04"/>
<path stroke="#9c9cff" d="M32 8.5h1.04"/>
<path stroke="#a0a0ff" d="M33 8.5h1.04"/>
<path stroke="#a2a2ff" d="M34 8.5h1.04"/>
<path stroke="#a6a6ff" d="M35 8.5h1.04"/>
<path stroke="#a8a8ff" d="M36 8.5h1.04"/>
<path stroke="#acacff" d="M37 8.5h1.04"/>
<path stroke="#b0b0ff" d="M38 8.5h1.04"/>
<path stroke="#b4b4ff" d="M39 8.5h1.04"/>
<path stroke="#b8b8ff" d="M40 8.5h1"/>
<path stroke="#0c0cfe" d="M0 9.5h1.04"/>
<path stroke="#0e0efe" d="M1 9.5h1.04"/>
<path stroke="#2222ff" d="M2 9.5h1.04"/>
<path stroke="#2c2cff" d="M3 9.5h1.04"/>
<path stroke="#3636ff" d="M4 9.5h1.04"/>
<path stroke="#3e3eff" d="M5 9.5h1.04"/>
<path stroke="#4646ff" d="M6 9.5h1.04"/>
<path stroke="#4e4eff" d="M7 9.5h1.04"/>
<path stroke="#5656ff" d="M8 9.5h1.04"/>
<path stroke="#5e5eff" d="M9 9.5h1.04"/>
<path stroke="#6262ff" d="M10 9.5h1.04"/>
<path stroke="#6868ff" d="M11 9.5h1.04"/>
<path stroke="#6c6cff" d="M12 9.5h1.04"/>
<path stroke="#7070ff" d="M13 9.5h1.04"/>
<path stroke="#7474ff" d="M14 9.5h1.04"/>
<path stroke="#7676ff" d="M15 9.5h1.04"/>
<path stroke="#7a7aff" d="M16 9.5h1.04"/>
<path stroke="#7c7cff" d="M17 9.5h1.04"/>
<path stroke="#7e7eff" d="M18 9.5h1.04"/>
<path stroke="#8282ff" d="M19 9.5h1.04"/>
<path stroke="#8484ff" d="M20 9.5h1.04"/>
<path stroke="#8686ff" d="M21 9.5h2.04"/>
<path stroke="#8888ff" d="M23 9.5h1.04"/>
<path stroke="#8a8aff" d="M24 9.5h1.04"/>
<path stroke="#8c8cff" d="M25 9.5h2.04"/>
<path stroke="#8e8eff" d="M27 9.5h1.04"/>
<path stroke="#9090ff" d="M28 9.5h2.04"/>
<path stroke="#9292ff" d="M30 9.5h1.04"/>
<path stroke="#9494ff" d="M31 9.5h1.04"/>
<path stroke="#9898ff" d="M32 9.5h1.04"/>
<path stroke="#9a9aff" d="M33 9.5h1.04"/>
<path stroke="#9c9cff" d="M34 9.5h1.04"/>
<path stroke="#a0a0ff" d="M35 9.5h1.04"/>
<path stroke="#a2a2ff" d="M36 9.5h1.04"/>
<path stroke="#a6a6ff" d="M37 9.5h1.04"/>
<path stroke="#aaaaff" d="M38 9.5h1.04"/>
<path stroke="#acacff" d="M39 9.5h1.04"/>
<path stroke="#b0b0ff" d="M40 9.5h1"/>
<path stroke="#0c0cfe" d="M0 10.5h1.04"/>
<path stroke="#0e0efe" d="M1 10.5h1.04"/>
<path stroke="#2020ff" d="M2 10.5h1.04"/>
<path stroke="#2a2aff" d="M3 10.5h1.04"/>
<path stroke="#3232ff" d="M4 10.5h1.04"/>
<path stroke="#3a3aff" d="M5 10.5h1.04"/>
<path stroke="#4242ff" d="M6 10.5h1.04"/>
<path stroke="#4a4aff" d="M7 10.5h1.04"/>
<path stroke="#5252ff" d="M8 10.5h1.04"/>
<path stroke="#5858ff" d="M9 10.5h1.04"/>
<path stroke="#5e5eff" d="M10 10.5h1.04"/>
<path stroke="#6262ff" d="M11 10.5h1.04"/>
<path stroke="#6666ff" d="M12 10.5h1.04"/>
<path stroke="#6a6aff" d="M13 10.5h1.04"/>
<path stroke="#6e6eff" d="M14 10.5h1.04"/>
<path stroke="#7070ff" d="M15 10.5h1.04"/>
<path stroke="#7474ff" d="M16 10.5h1.04"/>
<path stroke="#7676ff" d="M17 10.5h1.04"/>
<path stroke="#7a7aff" d="M18 10.5h1.04"/>
<path stroke="#7c7cff" d="M19 10.5h1.04"/>
<path stroke="#7e7eff" d="M20 10.5h1.04"/>
<path stroke="#8080ff" d="M21 10.5h1.04"/>
<path stroke="#8282ff" d="M22 10.5h2.04"/>
<path stroke="#8484ff" d="M24 10.5h1.04"/>
<path stroke="#8686ff" d="M25 10.5h2.04"/>
<path stroke="#8888ff" d="M27 10.5h1.04"/>
<path stroke="#8a8aff" d="M28 10.5h1.04"/>
<path stroke="#8c8cff" d="M29 10.5h2.04"/>
<path stroke="#8e8eff" d="M31 10.5h1.04"/>
<path stroke="#9292ff" d="M32 10.5h1.04"/>
<path stroke="#9494ff" d="M33 10.5h1.04"/>
<path stroke="#9696ff" d="M34 10.5h1.04"/>
<path stroke="#9a9aff" d="M35 10.5h1.04"/>
<path stroke="#9c9cff" d="M36 10.5h1.04"/>
<path stroke="#a0a0ff" d="M37 10.5h1.04"/>
<path stroke="#a2a2ff" d="M38 10.5h1.04"/>
<path stroke="#a6a6ff" d="M39 10.5h1.04"/>
<path stroke="#aaaaff" d="M40 10.5h1"/>
<path stroke="#0a0afe" d="M0 11.5h1.04"/>
<path stroke="#0c0cfe" d="M1 11.5h1.04"/>
<path stroke="#1e1eff" d="M2 11.5h1.04"/>
<path stroke="#2828ff" d="M3 11.5h1.04"/>
<path stroke="#3030ff" d="M4 11.5h1.04"/>
<path stroke="#3838ff" d="M5 11.5h1.04"/>
<path stroke="#3e3eff" d="M6 11.5h1.04"/>
<path stroke="#4646ff" d="M7 11.5h1.04"/>
<path stroke="#4c4cff" d="M8 11.5h1.04"/>
<path stroke="#5454ff" d="M9 11.5h1.04"/>
<path stroke="#5858ff" d="M10 11.5h1.04"/>
<path stroke="#5c5cff" d="M11 11.5h1.04"/>
<path stroke="#6060ff" d="M12 11.5h1.04"/>
<path stroke="#6464ff" d="M13 11.5h1.04"/>
<path stroke="#6868ff" d="M14 11.5h1.04"/>
<path stroke="#6c6cff" d="M15 11.5h1.04"/>
<path stroke="#6e6eff" d="M16 11.5h1.04"/>
<path stroke="#7070ff" d="M17 11.5h1.04"/>
<path stroke="#7474ff" d="M18 11.5h1.04"/>
<path stroke="#7676ff" d="M19 11.5h1.04"/>
<path stroke="#7878ff" d="M20 11.5h1.04"/>
<path stroke="#7a7aff" d="M21 11.5h1.04"/>
<path stroke="#7c7cff" d="M22 11.5h1.04"/>
<path stroke="#7e7eff" d="M23 11.5h2.04"/>
<path stroke="#8080ff" d="M25 11.5h2.04"/>
<path stroke="#8282ff" d="M27 11.5h1.04"/>
<path stroke="#8484ff" d="M28 11.5h1.04"/>
<path stroke="#8686ff" d="M29 11.5h1.04"/>
<path stroke="#8888ff" d="M30 11.5h1.04"/>
<path stroke="#8a8aff" d="M31 11.5h1.04"/>
<path stroke="#8c8cff" d="M32 11.5h1.04"/>
<path stroke="#8e8eff" d="M33 11.5h1.04"/>
<path stroke="#9090ff" d="M34 11.5h1.04"/>
<path stroke="#9494ff" d="M35 11.5h1.04"/>
<path stroke="#9696ff" d="M36 11.5h1.04"/>
<path stroke="#9a9aff" d="M37 11.5h1.04"/>
<path stroke="#9c9cff" d="M38 11.5h1.04"/>
<path stroke="#a0a0ff" d="M39 11.5h1.04"/>
<path stroke="#a4a4ff" d="M40 11.5h1"/>
<path stroke="#0a0afe" d="M0 12.5h1.04"/>
<path stroke="#0c0cfe" d="M1 12.5h1.04"/>
<path stroke="#1c1cff" d="M2 12.5h1.04"/>
<path stroke="#2424ff" d="M3 12.5h1.04"/>
<path stroke="#2c2cff" d="M4 12.5h1.04"/>
<path stroke="#3434ff" d="M5 12.5h1.04"/>
<path stroke="#3c3cff" d="M6 12.5h1.04"/>
<path stroke="#4242ff" d="M7 12.5h1.04"/>
<path stroke="#4848ff" d="M8 12.5h1.04"/>
<path stroke="#4e4eff" d="M9 12.5h1.04"/>
<path stroke="#5454ff" d="M10 12.5h1.04"/>
<path stroke="#5858ff" d="M11 12.5h1.04"/>
<path stroke="#5c5cff" d="M12 12.5h1.04"/>
<path stroke="#6060ff" d="M13 12.5h1.04"/>
<path stroke="#6262ff" d="M14 12.5h1.04"/>
<path stroke="#6666ff" d="M15 12.5h1.04"/>
<path stroke="#6868ff" d="M16 12.5h1.04"/>
<path stroke="#6c6cff" d="M17 12.5h1.04"/>
<path stroke="#6e6eff" d="M18 12.5h1.04"/>
<path stroke="#7070ff" d="M19 12.5h1.04"/>
<path stroke="#7272ff" d="M20 12.5h1.04"/>
<path stroke="#7474ff" d="M21 12.5h1.04"/>
<path stroke="#7676ff" d="M22 12.5h1.04"/>
<path stroke="#7878ff" d="M23 12.5h2.04"/>
<path stroke="#7a7aff" d="M25 12.5h1.04"/>
<path stroke="#7c7cff" d="M26 12.5h2.04"/>
<path stroke="#7e7eff" d="M28 12.5h1.04"/>
<path stroke="#8080ff" d="M29 12.5h1.04"/>
<path stroke="#8282ff" d="M30 12.5h1.04"/>
<path stroke="#8484ff" d="M31 12.5h1.04"/>
<path stroke="#8686ff" d="M32 12.5h1.04"/>
<path stroke="#8888ff" d="M33 12.5h1.04"/>
<path stroke="#8c8cff" d="M34 12.5h1.04"/>
<path stroke="#8e8eff" d="M35 12.5h1.04"/>
<path stroke="#9090ff" d="M36 12.5h1.04"/>
<path stroke="#9494ff" d="M37 12.5h1.04"/>
<path stroke="#9696ff" d="M38 12.5h1.04"/>
<path stroke="#9a9aff" d="M39 12.5h1.04"/>
<path stroke="#9e9eff" d="M40 12.5h1"/>
<path stroke="#0808fc" d="M0 13.5h1.04"/>
<path stroke="#0c0cfe" d="M1 13.5h2.04"/>
<path stroke="#2222ff" d="M3 13.5h1.04"/>
<path stroke="#2a2aff" d="M4 13.5h1.04"/>
<path stroke="#3030ff" d="M5 13.5h1.04"/>
<path stroke="#3838ff" d="M6 13.5h1.04"/>
<path stroke="#3e3eff" d="M7 13.5h1.04"/>
<path stroke="#4444ff" d="M8 13.5h1.04"/>
<path stroke="#4a4aff" d="M9 13.5h1.04"/>
<path stroke="#4e4eff" d="M10 13.5h1.04"/>
<path stroke="#5252ff" d="M11 13.5h1.04"/>
<path stroke="#5656ff" d="M12 13.5h1.04"/>
<path stroke="#5a5aff" d="M13 13.5h1.04"/>
<path stroke="#5e5eff" d="M14 13.5h1.04"/>
<path stroke="#6060ff" d="M15 13.5h1.04"/>
<path stroke="#6464ff" d="M16 13.5h1.04"/>
<path stroke="#6666ff" d="M17 13.5h1.04"/>
<path stroke="#6868ff" d="M18 13.5h1.04"/>
<path stroke="#6a6aff" d="M19 13.5h1.04"/>
<path stroke="#6c6cff" d="M20 13.5h1.04"/>
<path stroke="#6e6eff" d="M21 13.5h1.04"/>
<path stroke="#7070ff" d="M22 13.5h1.04"/>
<path stroke="#7272ff" d="M23 13.5h1.04"/>
<path stroke="#7474ff" d="M24 13.5h2.04"/>
<path stroke="#7676ff" d="M26 13.5h1.04"/>
<path stroke="#7878ff" d="M27 13.5h1.04"/>
<path stroke="#7a7aff" d="M28 13.5h2.04"/>
<path stroke="#7c7cff" d="M30 13.5h1.04"/>
<path stroke="#7e7eff" d="M31 13.5h1.04"/>
<path stroke="#8080ff" d="M32 13.5h1.04"/>
<path stroke="#8484ff" d="M33 13.5h1.04"/>
<path stroke="#8686ff" d="M34 13.5h1.04"/>
<path stroke="#8888ff" d="M35 13.5h1.04"/>
<path stroke="#8c8cff" d="M36 13.5h1.04"/>
<path stroke="#8e8eff" d="M37 13.5h1.04"/>
<path stroke="#9090ff" d="M38 13.5h1.04"/>
<path stroke="#9494ff" d="M39 13.5h1.04"/>
<path stroke="#9898ff" d="M40 13.5h1"/>
<path stroke="#0808fc" d="M0 14.5h1.04"/>
<path stroke="#0a0afe" d="M1 14.5h1.04"/>
<path stroke="#0c0cfe" d="M2 14.5h1.04"/>
<path stroke="#2020ff" d="M3 14.5h1.04"/>
<path stroke="#2626ff" d="M4 14.5h1.04"/>
<path stroke="#2e2eff" d="M5 14.5h1.04"/>
<path stroke="#3434ff" d="M6 14.5h1.04"/>
<path stroke="#3a3aff" d="M7 14.5h1.04"/>
<path stroke="#4040ff" d="M8 14.5h1.04"/>
<path stroke="#4646ff" d="M9 14.5h1.04"/>
<path stroke="#4a4aff" d="M10 14.5h1.04"/>
<path stroke="#4e4eff" d="M11 14.5h1.04"/>
<path stroke="#5252ff" d="M12 14.5h1.04"/>
<path stroke="#5656ff" d="M13 14.5h1.04"/>
<path stroke="#5858ff" d="M14 14.5h1.04"/>
<path stroke="#5c5cff" d="M15 14.5h1.04"/>
<path stroke="#5e5eff" d="M16 14.5h1.04"/>
<path stroke="#6060ff" d="M17 14.5h1.04"/>
<path stroke="#6464ff" d="M18 14.5h1.04"/>
<path stroke="#6666ff" d="M19 14.5h1.04"/>
<path stroke="#6868ff" d="M20 14.5h1.04"/>
<path stroke="#6a6aff" d="M21 14.5h1.04"/>
<path stroke="#6c6cff" d="M22 14.5h2.04"/>
<path stroke="#6e6eff" d="M24 14.5h1.04"/>
<path stroke="#7070ff" d="M25 14.5h2.04"/>
<path stroke="#7272ff" d="M27 14.5h1.04"/>
<path stroke="#7474ff" d="M28 14.5h1.04"/>
<path stroke="#7676ff" d="M29 14.5h1.04"/>
<path stroke="#7878ff" d="M30 14.5h1.04"/>
<path stroke="#7a7aff" d="M31 14.5h1.04"/>
<path stroke="#7c7cff" d="M32 14.5h1.04"/>
<path stroke="#7e7eff" d="M33 14.5h1.04"/>
<path stroke="#8080ff" d="M34 14.5h1.04"/>
<path stroke="#8282ff" d="M35 14.5h1.04"/>
<path stroke="#8686ff" d="M36 14.5h1.04"/>
<path stroke="#8888ff" d="M37 14.5h1.04"/>
<path stroke="#8c8cff" d="M38 14.5h1.04"/>
<path stroke="#8e8eff" d="M39 14.5h1.04"/>
<path stroke="#9292ff" d="M40 14.5h1"/>
<path stroke="#0606fc" d="M0 15.5h1.04"/>
<path stroke="#0a0afe" d="M1 15.5h2.04"/>
<path stroke="#1e1eff" d="M3 15.5h1.04"/>
<path stroke="#2424ff" d="M4 15.5h1.04"/>
<path stroke="#2a2aff" d="M5 15.5h1.04"/>
<path stroke="#3030ff" d="M6 15.5h1.04"/>
<path stroke="#3838ff" d="M7 15.5h1.04"/>
<path stroke="#3c3cff" d="M8 15.5h1.04"/>
<path stroke="#4242ff" d="M9 15.5h1.04"/>
<path stroke="#4646ff" d="M10 15.5h1.04"/>
<path stroke="#4a4aff" d="M11 15.5h1.04"/>
<path stroke="#4c4cff" d="M12 15.5h1.04"/>
<path stroke="#5050ff" d="M13 15.5h1.04"/>
<path stroke="#5454ff" d="M14 15.5h1.04"/>
<path stroke="#5656ff" d="M15 15.5h1.04"/>
<path stroke="#5858ff" d="M16 15.5h1.04"/>
<path stroke="#5c5cff" d="M17 15.5h1.04"/>
<path stroke="#5e5eff" d="M18 15.5h1.04"/>
<path stroke="#6060ff" d="M19 15.5h1.04"/>
<path stroke="#6262ff" d="M20 15.5h1.04"/>
<path stroke="#6464ff" d="M21 15.5h1.04"/>
<path stroke="#6666ff" d="M22 15.5h1.04"/>
<path stroke="#6868ff" d="M23 15.5h1.04"/>
<path stroke="#6a6aff" d="M24 15.5h2.04"/>
<path stroke="#6c6cff" d="M26 15.5h1.04"/>
<path stroke="#6e6eff" d="M27 15.5h2.04"/>
<path stroke="#7070ff" d="M29 15.5h1.04"/>
<path stroke="#7272ff" d="M30 15.5h1.04"/>
<path stroke="#7474ff" d="M31 15.5h1.04"/>
<path stroke="#7676ff" d="M32 15.5h1.04"/>
<path stroke="#7878ff" d="M33 15.5h1.04"/>
<path stroke="#7a7aff" d="M34 15.5h1.04"/>
<path stroke="#7e7eff" d="M35 15.5h1.04"/>
<path stroke="#8080ff" d="M36 15.5h1.04"/>
<path stroke="#8282ff" d="M37 15.5h1.04"/>
<path stroke="#8686ff" d="M38 15.5h1.04"/>
<path stroke="#8888ff" d="M39 15.5h1.04"/>
<path stroke="#8a8aff" d="M40 15.5h1"/>
<path stroke="#0606fc" d="M0 16.5h1.04"/>
<path stroke="#0808fc" d="M1 16.5h1.04"/>
<path stroke="#0a0afe" d="M2 16.5h1.04"/>
<path stroke="#1c1cff" d="M3 16.5h1.04"/>
<path stroke="#2222ff" d="M4 16.5h1.04"/>
<path stroke="#2828ff" d="M5 16.5h1.04"/>
<path stroke="#2e2eff" d="M6 16.5h1.04"/>
<path stroke="#3434ff" d="M7 16.5h1.04"/>
<path stroke="#3838ff" d="M8 16.5h1.04"/>
<path stroke="#3e3eff" d="M9 16.5h1.04"/>
<path stroke="#4242ff" d="M10 16.5h1.04"/>
<path stroke="#4646ff" d="M11 16.5h1.04"/>
<path stroke="#4848ff" d="M12 16.5h1.04"/>
<path stroke="#4c4cff" d="M13 16.5h1.04"/>
<path stroke="#4e4eff" d="M14 16.5h1.04"/>
<path stroke="#5252ff" d="M15 16.5h1.04"/>
<path stroke="#5454ff" d="M16 16.5h1.04"/>
<path stroke="#5656ff" d="M17 16.5h1.04"/>
<path stroke="#5858ff" d="M18 16.5h1.04"/>
<path stroke="#5a5aff" d="M19 16.5h1.04"/>
<path stroke="#5c5cff" d="M20 16.5h1.04"/>
<path stroke="#5e5eff" d="M21 16.5h1.04"/>
<path stroke="#6060ff" d="M22 16.5h1.04"/>
<path stroke="#6262ff" d="M23 16.5h1.04"/>
<path stroke="#6464ff" d="M24 16.5h1.04"/>
<path stroke="#6666ff" d="M25 16.5h2.04"/>
<path stroke="#6868ff" d="M27 16.5h1.04"/>
<path stroke="#6a6aff" d="M28 16.5h1.04"/>
<path stroke="#6c6cff" d="M29 16.5h1.04"/>
<path stroke="#6e6eff" d="M30 16.5h1.04"/>
<path stroke="#7070ff" d="M31 16.5h1.04"/>
<path stroke="#7272ff" d="M32 16.5h1.04"/>
<path stroke="#7474ff" d="M33 16.5h1.04"/>
<path stroke="#7676ff" d="M34 16.5h1.04"/>
<path stroke="#7878ff" d="M35 16.5h1.04"/>
<path stroke="#7a7aff" d="M36 16.5h1.04"/>
<path stroke="#7c7cff" d="M37 16.5h1.04"/>
<path stroke="#8080ff" d="M38 16.5h1.04"/>
<path stroke="#8282ff" d="M39 16.5h1.04"/>
<path stroke="#8484ff" d="M40 16.5h1"/>
<path stroke="#0606fc" d="M0 17.5h1.04"/>
<path stroke="#0808fc" d="M1 17.5h2.04"/>
<path stroke="#0a0afe" d="M3 17.5h1.04"/>
<path stroke="#2020ff" d="M4 17.5h1.04"/>
<path stroke="#2626ff" d="M5 17.5h1.04"/>
<path stroke="#2a2aff" d="M6 17.5h1.04"/>
<path stroke="#3030ff" d="M7 17.5h1.04"/>
<path stroke="#3636ff" d="M8 17.5h1.04"/>
<path stroke="#3a3aff" d="M9 17.5h1.04"/>
<path stroke="#3e3eff" d="M10 17.5h1.04"/>
<path stroke="#4040ff" d="M11 17.5h1.04"/>
<path stroke="#4444ff" d="M12 17.5h1.04"/>
<path stroke="#4646ff" d="M13 17.5h1.04"/>
<path stroke="#4a4aff" d="M14 17.5h1.04"/>
<path stroke="#4c4cff" d="M15 17.5h1.04"/>
<path stroke="#4e4eff" d="M16 17.5h1.04"/>
<path stroke="#5252ff" d="M17 17.5h1.04"/>
<path stroke="#5454ff" d="M18 17.5h1.04"/>
<path stroke="#5656ff" d="M19 17.5h1.04"/>
<path stroke="#5858ff" d="M20 17.5h1.04"/>
<path stroke="#5a5aff" d="M21 17.5h1.04"/>
<path stroke="#5c5cff" d="M22 17.5h1.04"/>
<path stroke="#5e5eff" d="M23 17.5h2.04"/>
<path stroke="#6060ff" d="M25 17.5h1.04"/>
<path stroke="#6262ff" d="M26 17.5h1.04"/>
<path stroke="#6464ff" d="M27 17.5h2.04"/>
<path stroke="#6666ff" d="M29 17.5h1.04"/>
<path stroke="#6868ff" d="M30 17.5h1.04"/>
<path stroke="#6a6aff" d="M31 17.5h1.04"/>
<path stroke="#6c6cff" d="M32 17.5h1.04"/>
<path stroke="#6e6eff" d="M33 17.5h1.04"/>
<path stroke="#7070ff" d="M34 17.5h1.04"/>
<path stroke="#7272ff" d="M35 17.5h1.04"/>
<path stroke="#7474ff" d="M36 17.5h1.04"/>
<path stroke="#7878ff" d="M37 17.5h1.04"/>
<path stroke="#7a7aff" d="M38 17.5h1.04"/>
<path stroke="#7c7cff" d="M39 17.5h1.04"/>
<path stroke="#7e7eff" d="M40 17.5h1"/>
<path stroke="#0404fc" d="M0 18.5h1.04"/>
<path stroke="#0606fc" d="M1 18.5h1.04"/>
<path stroke="#0808fc" d="M2 18.5h2.04"/>
<path stroke="#1e1eff" d="M4 18.5h1.04"/>
<path stroke="#2222ff" d="M5 18.5h1.04"/>
<path stroke="#2828ff" d="M6 18.5h1.04"/>
<path stroke="#2c2cff" d="M7 18.5h1.04"/>
<path stroke="#3232ff" d="M8 18.5h1.04"/>
<path stroke="#3636ff" d="M9 18.5h1.04"/>
<path stroke="#3a3aff" d="M10 18.5h1.04"/>
<path stroke="#3c3cff" d="M11 18.5h1.04"/>
<path stroke="#4040ff" d="M12 18.5h1.04"/>
<path stroke="#4242ff" d="M13 18.5h1.04"/>
<path stroke="#4646ff" d="M14 18.5h1.04"/>
<path stroke="#4848ff" d="M15 18.5h1.04"/>
<path stroke="#4a4aff" d="M16 18.5h1.04"/>
<path stroke="#4c4cff" d="M17 18.5h1.04"/>
<path stroke="#4e4eff" d="M18 18.5h1.04"/>
<path stroke="#5050ff" d="M19 18.5h1.04"/>
<path stroke="#5252ff" d="M20 18.5h1.04"/>
<path stroke="#5454ff" d="M21 18.5h1.04"/>
<path stroke="#5656ff" d="M22 18.5h1.04"/>
<path stroke="#5858ff" d="M23 18.5h1.04"/>
<path stroke="#5a5aff" d="M24 18.5h1.04"/>
<path stroke="#5c5cff" d="M25 18.5h2.04"/>
<path stroke="#5e5eff" d="M27 18.5h1.04"/>
<path stroke="#6060ff" d="M28 18.5h1.04"/>
<path stroke="#6262ff" d="M29 18.5h1.04"/>
<path stroke="#6464ff" d="M30 18.5h1.04"/>
<path stroke="#6666ff" d="M31 18.5h1.04"/>
<path stroke="#6868ff" d="M32 18.5h1.04"/>
<path stroke="#6a6aff" d="M33 18.5h1.04"/>
<path stroke="#6c6cff" d="M34 18.5h1.04"/>
<path stroke="#6e6eff" d="M35 18.5h1.04"/>
<path stroke="#7070ff" d="M36 18.5h1.04"/>
<path stroke="#7272ff" d="M37 18.5h1.04"/>
<path stroke="#7474ff" d="M38 18.5h1.04"/>
<path stroke="#7676ff" d="M39 18.5h1.04"/>
<path stroke="#7878ff" d="M40 18.5h1"/>
<path stroke="#0404fc" d="M0 19.5h1.04"/>
<path stroke="#0606fc" d="M1 19.5h1.04"/>
<path stroke="#0808fc" d="M2 19.5h2.04"/>
<path stroke="#1a1aff" d="M4 19.5h1.04"/>
<path stroke="#2020ff" d="M5 19.5h1.04"/>
<path stroke="#2424ff" d="M6 19.5h1.04"/>
<path stroke="#2a2aff" d="M7 19.5h1.04"/>
<path stroke="#2e2eff" d="M8 19.5h1.04"/>
<path stroke="#3232ff" d="M9 19.5h1.04"/>
<path stroke="#3636ff" d="M10 19.5h1.04"/>
<path stroke="#3838ff" d="M11 19.5h1.04"/>
<path stroke="#3c3cff" d="M12 19.5h1.04"/>
<path stroke="#3e3eff" d="M13 19.5h1.04"/>
<path stroke="#4040ff" d="M14 19.5h1.04"/>
<path stroke="#4444ff" d="M15 19.5h1.04"/>
<path stroke="#4646ff" d="M16 19.5h1.04"/>
<path stroke="#4848ff" d="M17 19.5h1.04"/>
<path stroke="#4a4aff" d="M18 19.5h1.04"/>
<path stroke="#4c4cff" d="M19 19.5h1.04"/>
<path stroke="#4e4eff" d="M20 19.5h1.04"/>
<path stroke="#5050ff" d="M21 19.5h1.04"/>
<path stroke="#5252ff" d="M22 19.5h2.04"/>
<path stroke="#5454ff" d="M24 19.5h1.04"/>
<path stroke="#5656ff" d="M25 19.5h1.04"/>
<path stroke="#5858ff" d="M26 19.5h1.04"/>
<path stroke="#5a5aff" d="M27 19.5h2.04"/>
<path stroke="#5c5cff" d="M29 19.5h1.04"/>
<path stroke="#5e5eff" d="M30 19.5h1.04"/>
<path stroke="#6060ff" d="M31 19.5h1.04"/>
<path stroke="#6262ff" d="M32 19.5h1.04"/>
<path stroke="#6464ff" d="M33 19.5h1.04"/>
<path stroke="#6666ff" d="M34 19.5h1.04"/>
<path stroke="#6868ff" d="M35 19.5h1.04"/>
<path stroke="#6a6aff" d="M36 19.5h1.04"/>
<path stroke="#6c6cff" d="M37 19.5h1.04"/>
<path stroke="#6e6eff" d="M38 19.5h1.04"/>
<path stroke="#7070ff" d="M39 19.5h1.04"/>
<path stroke="#7474ff" d="M40 19.5h1"/>
<path stroke="#0202fa" d="M0 20.5h1.04"/>
<path stroke="#0606fc" d="M1 20.5h2.04"/>
<path stroke="#0808fc" d="M3 20.5h1.04"/>
<path stroke="#1818ff" d="M4 20.5h1.04"/>
<path stroke="#1e1eff" d="M5 20.5h1.04"/>
<path stroke="#2222ff" d="M6 20.5h1.04"/>
<path stroke="#2626ff" d="M7 20.5h1.04"/>
<path stroke="#2a2aff" d="M8 20.5h1.04"/>
<path stroke="#2e2eff" d="M9 20.5h1.04"/>
<path stroke="#3232ff" d="M10 20.5h1.04"/>
<path stroke="#3434ff" d="M11 20.5h1.04"/>
<path stroke="#3838ff" d="M12 20.5h1.04"/>
<path stroke="#3a3aff" d="M13 20.5h1.04"/>
<path stroke="#3c3cff" d="M14 20.5h1.04"/>
<path stroke="#3e3eff" d="M15 20.5h1.04"/>
<path stroke="#4040ff" d="M16 20.5h1.04"/>
<path stroke="#4242ff" d="M17 20.5h1.04"/>
<path stroke="#4444ff" d="M18 20.5h1.04"/>
<path stroke="#4646ff" d="M19 20.5h1.04"/>
<path stroke="#4848ff" d="M20 20.5h1.04"/>
<path stroke="#4a4aff" d="M21 20.5h1.04"/>
<path stroke="#4c4cff" d="M22 20.5h1.04"/>
<path stroke="#4e4eff" d="M23 20.5h1.04"/>
<path stroke="#5050ff" d="M24 20.5h2.04"/>
<path stroke="#5252ff" d="M26 20.5h1.04"/>
<path stroke="#5454ff" d="M27 20.5h1.04"/>
<path stroke="#5656ff" d="M28 20.5h1.04"/>
<path stroke="#5858ff" d="M29 20.5h1.04"/>
<path stroke="#5a5aff" d="M30 20.5h2.04"/>
<path stroke="#5c5cff" d="M32 20.5h1.04"/>
<path stroke="#5e5eff" d="M33 20.5h1.04"/>
<path stroke="#6060ff" d="M34 20.5h1.04"/>
<path stroke="#6262ff" d="M35 20.5h1.04"/>
<path stroke="#6464ff" d="M36 20.5h1.04"/>
<path stroke="#6666ff" d="M37 20.5h1.04"/>
<path stroke="#6868ff" d="M38 20.5h1.04"/>
<path stroke="#6c6cff" d="M39 20.5h1.04"/>
<path stroke="#6e6eff" d="M40 20.5h1"/>
<path stroke="#0202fa" d="M0 21.5h1.04"/>
<path stroke="#0404fc" d="M1 21.5h1.04"/>
<path stroke="#0606fc" d="M2 21.5h3.04"/>
<path stroke="#1a1aff" d="M5 21.5h1.04"/>
<path stroke="#2020ff" d="M6 21.5h1.04"/>
<path stroke="#2424ff" d="M7 21.5h1.04"/>
<path stroke="#2828ff" d="M8 21.5h1.04"/>
<path stroke="#2c2cff" d="M9 21.5h1.04"/>
<path stroke="#2e2eff" d="M10 21.5h1.04"/>
<path stroke="#3030ff" d="M11 21.5h1.04"/>
<path stroke="#3434ff" d="M12 21.5h1.04"/>
<path stroke="#3636ff" d="M13 21.5h1.04"/>
<path stroke="#3838ff" d="M14 21.5h1.04"/>
<path stroke="#3a3aff" d="M15 21.5h1.04"/>
<path stroke="#3c3cff" d="M16 21.5h1.04"/>
<path stroke="#3e3eff" d="M17 21.5h1.04"/>
<path stroke="#4040ff" d="M18 21.5h1.04"/>
<path stroke="#4242ff" d="M19 21.5h1.04"/>
<path stroke="#4444ff" d="M20 21.5h1.04"/>
<path stroke="#4646ff" d="M21 21.5h2.04"/>
<path stroke="#4848ff" d="M23 21.5h1.04"/>
<path stroke="#4a4aff" d="M24 21.5h1.04"/>
<path stroke="#4c4cff" d="M25 21.5h1.04"/>
<path stroke="#4e4eff" d="M26 21.5h2.04"/>
<path stroke="#5050ff" d="M28 21.5h1.04"/>
<path stroke="#5252ff" d="M29 21.5h1.04"/>
<path stroke="#5454ff" d="M30 21.5h1.04"/>
<path stroke="#5656ff" d="M31 21.5h1.04"/>
<path stroke="#5858ff" d="M32 21.5h1.04"/>
<path stroke="#5a5aff" d="M33 21.5h1.04"/>
<path stroke="#5c5cff" d="M34 21.5h1.04"/>
<path stroke="#5e5eff" d="M35 21.5h1.04"/>
<path stroke="#6060ff" d="M36 21.5h1.04"/>
<path stroke="#6262ff" d="M37 21.5h1.04"/>
<path stroke="#6464ff" d="M38 21.5h1.04"/>
<path stroke="#6666ff" d="M39 21.5h1.04"/>
<path stroke="#6868ff" d="M40 21.5h1"/>
<path stroke="#0202fa" d="M0 22.5h1.04"/>
<path stroke="#0404fc" d="M1 22.5h2.04"/>
<path stroke="#0606fc" d="M3 22.5h2.04"/>
<path stroke="#1818ff" d="M5 22.5h1.04"/>
<path stroke="#1c1cff" d="M6 22.5h1.04"/>
<path stroke="#2020ff" d="M7 22.5h1.04"/>
<path stroke="#2424ff" d="M8 22.5h1.04"/>
<path stroke="#2828ff" d="M9 22.5h1.04"/>
<path stroke="#2a2aff" d="M10 22.5h1.04"/>
<path stroke="#2c2cff" d="M11 22.5h1.04"/>
<path stroke="#3030ff" d="M12 22.5h1.04"/>
<path stroke="#3232ff" d="M13 22.5h1.04"/>
<path stroke="#3434ff" d="M14 22.5h1.04"/>
<path stroke="#3636ff" d="M15 22.5h1.04"/>
<path stroke="#3838ff" d="M16 22.5h1.04"/>
<path stroke="#3a3aff" d="M17 22.5h1.04"/>
<path stroke="#3c3cff" d="M18 22.5h2.04"/>
<path stroke="#3e3eff" d="M20 22.5h1.04"/>
<path stroke="#4040ff" d="M21 22.5h1.04"/>
<path stroke="#4242ff" d="M22 22.5h1.04"/>
<path stroke="#4444ff" d="M23 22.5h1.04"/>
<path stroke="#4646ff" d="M24 22.5h2.04"/>
<path stroke="#4848ff" d="M26 22.5h1.04"/>
<path stroke="#4a4aff" d="M27 22.5h1.04"/>
<path stroke="#4c4cff" d="M28 22.5h2.04"/>
<path stroke="#4e4eff" d="M30 22.5h1.04"/>
<path stroke="#5050ff" d="M31 22.5h1.04"/>
<path stroke="#5252ff" d="M32 22.5h1.04"/>
<path stroke="#5454ff" d="M33 22.5h1.04"/>
<path stroke="#5656ff" d="M34 22.5h1.04"/>
<path stroke="#5858ff" d="M35 22.5h1.04"/>
<path stroke="#5a5aff" d="M36 22.5h1.04"/>
<path stroke="#5c5cff" d="M37 22.5h1.04"/>
<path stroke="#5e5eff" d="M38 22.5h1.04"/>
<path stroke="#6060ff" d="M39 22.5h1.04"/>
<path stroke="#6262ff" d="M40 22.5h1"/>
<path stroke="#0000fa" d="M0 23.5h1.04"/>
<path stroke="#0404fc" d="M1 23.5h3.04"/>
<path stroke="#0606fc" d="M4 23.5h1.04"/>
<path stroke="#1616ff" d="M5 23.5h1.04"/>
<path stroke="#1a1aff" d="M6 23.5h1.04"/>
<path stroke="#1e1eff" d="M7 23.5h1.04"/>
<path stroke="#2020ff" d="M8 23.5h1.04"/>
<path stroke="#2424ff" d="M9 23.5h1.04"/>
<path stroke="#2626ff" d="M10 23.5h1.04"/>
<path stroke="#2828ff" d="M11 23.5h1.04"/>
<path stroke="#2c2cff" d="M12 23.5h1.04"/>
<path stroke="#2e2eff" d="M13 23.5h1.04"/>
<path stroke="#3030ff" d="M14 23.5h1.04"/>
<path stroke="#3232ff" d="M15 23.5h2.04"/>
<path stroke="#3434ff" d="M17 23.5h1.04"/>
<path stroke="#3636ff" d="M18 23.5h1.04"/>
<path stroke="#3838ff" d="M19 23.5h1.04"/>
<path stroke="#3a3aff" d="M20 23.5h1.04"/>
<path stroke="#3c3cff" d="M21 23.5h2.04"/>
<path stroke="#3e3eff" d="M23 23.5h1.04"/>
<path stroke="#4040ff" d="M24 23.5h1.04"/>
<path stroke="#4242ff" d="M25 23.5h1.04"/>
<path stroke="#4444ff" d="M26 23.5h2.04"/>
<path stroke="#4646ff" d="M28 23.5h1.04"/>
<path stroke="#4848ff" d="M29 23.5h1.04"/>
<path stroke="#4a4aff" d="M30 23.5h1.04"/>
<path stroke="#4c4cff" d="M31 23.5h1.04"/>
<path stroke="#4e4eff" d="M32 23.5h2.04"/>
<path stroke="#5050ff" d="M34 23.5h1.04"/>
<path stroke="#5252ff" d="M35 23.5h1.04"/>
<path stroke="#5454ff" d="M36 23.5h1.04"/>
<path stroke="#5656ff" d="M37 23.5h1.04"/>
<path stroke="#5858ff" d="M38 23.5h1.04"/>
<path stroke="#5a5aff" d="M39 23.5h1.04"/>
<path stroke="#5c5cff" d="M40 23.5h1"/>
<path stroke="#0000fa" d="M0 24.5h1.04"/>
<path stroke="#0202fa" d="M1 24.5h1.04"/>
<path stroke="#0404fc" d="M2 24.5h3.04"/>
<path stroke="#1414ff" d="M5 24.5h1.04"/>
<path stroke="#1616ff" d="M6 24.5h1.04"/>
<path stroke="#1a1aff" d="M7 24.5h1.04"/>
<path stroke="#1e1eff" d="M8 24.5h1.04"/>
<path stroke="#2020ff" d="M9 24.5h1.04"/>
<path stroke="#2222ff" d="M10 24.5h1.04"/>
<path stroke="#2424ff" d="M11 24.5h1.04"/>
<path stroke="#2828ff" d="M12 24.5h2.04"/>
<path stroke="#2a2aff" d="M14 24.5h1.04"/>
<path stroke="#2c2cff" d="M15 24.5h1.04"/>
<path stroke="#2e2eff" d="M16 24.5h1.04"/>
<path stroke="#3030ff" d="M17 24.5h1.04"/>
<path stroke="#3232ff" d="M18 24.5h2.04"/>
<path stroke="#3434ff" d="M20 24.5h1.04"/>
<path stroke="#3636ff" d="M21 24.5h1.04"/>
<path stroke="#3838ff" d="M22 24.5h1.04"/>
<path stroke="#3a3aff" d="M23 24.5h1.04"/>
<path stroke="#3c3cff" d="M24 24.5h2.04"/>
<path stroke="#3e3eff" d="M26 24.5h1.04"/>
<path stroke="#4040ff" d="M27 24.5h1.04"/>
<path stroke="#4242ff" d="M28 24.5h1.04"/>
<path stroke="#4444ff" d="M29 24.5h2.04"/>
<path stroke="#4646ff" d="M31 24.5h1.04"/>
<path stroke="#4848ff" d="M32 24.5h1.04"/>
<path stroke="#4a4aff" d="M33 24.5h1.04"/>
<path stroke="#4c4cff" d="M34 24.5h1.04"/>
<path stroke="#4e4eff" d="M35 24.5h1.04"/>
<path stroke="#5050ff" d="M36 24.5h1.04"/>
<path stroke="#5252ff" d="M37 24.5h1.04"/>
<path stroke="#5454ff" d="M38 24.5h1.04"/>
<path stroke="#5656ff" d="M39 24.5h1.04"/>
<path stroke="#5858ff" d="M40 24.5h1"/>
<path stroke="#0000fa" d="M0 25.5h1.04"/>
<path stroke="#0202fa" d="M1 25.5h1.04"/>
<path stroke="#0404fc" d="M2 25.5h4.04"/>
<path stroke="#1414ff" d="M6 25.5h1.04"/>
<path stroke="#1818ff" d="M7 25.5h1.04"/>
<path stroke="#1a1aff" d="M8 25.5h1.04"/>
<path stroke="#1c1cff" d="M9 25.5h1.04"/>
<path stroke="#2020ff" d="M10 25.5h1.04"/>
<path stroke="#2222ff" d="M11 25.5h1.04"/>
<path stroke="#2424ff" d="M12 25.5h2.04"/>
<path stroke="#2626ff" d="M14 25.5h1.04"/>
<path stroke="#2828ff" d="M15 25.5h1.04"/>
<path stroke="#2a2aff" d="M16 25.5h1.04"/>
<path stroke="#2c2cff" d="M17 25.5h2.04"/>
<path stroke="#2e2eff" d="M19 25.5h1.04"/>
<path stroke="#3030ff" d="M20 25.5h1.04"/>
<path stroke="#3232ff" d="M21 25.5h1.04"/>
<path stroke="#3434ff" d="M22 25.5h2.04"/>
<path stroke="#3636ff" d="M24 25.5h1.04"/>
<path stroke="#3838ff" d="M25 25.5h1.04"/>
<path stroke="#3a3aff" d="M26 25.5h1.04"/>
<path stroke="#3c3cff" d="M27 25.5h2.04"/>
<path stroke="#3e3eff" d="M29 25.5h1.04"/>
<path stroke="#4040ff" d="M30 25.5h1.04"/>
<path stroke="#4242ff" d="M31 25.5h1.04"/>
<path stroke="#4444ff" d="M32 25.5h1.04"/>
<path stroke="#4646ff" d="M33 25.5h2.04"/>
<path stroke="#4848ff" d="M35 25.5h1.04"/>
<path stroke="#4a4aff" d="M36 25.5h1.04"/>
<path stroke="#4c4cff" d="M37 25.5h1.04"/>
<path stroke="#4e4eff" d="M38 25.5h1.04"/>
<path stroke="#5050ff" d="M39 25.5h1.04"/>
<path stroke="#5252ff" d="M40 25.5h1"/>
<path stroke="#0000f8" d="M0 26.5h1.04"/>
<path stroke="#0202fa" d="M1 26.5h3.04"/>
<path stroke="#0404fc" d="M4 26.5h2.04"/>
<path stroke="#1212ff" d="M6 26.5h1.04"/>
<path stroke="#1414ff" d="M7 26.5h1.04"/>
<path stroke="#1616ff" d="M8 26.5h1.04"/>
<path stroke="#1a1aff" d="M9 26.5h1.04"/>
<path stroke="#1c1cff" d="M10 26.5h1.04"/>
<path stroke="#1e1eff" d="M11 26.5h1.04"/>
<path stroke="#2020ff" d="M12 26.5h2.04"/>
<path stroke="#2222ff" d="M14 26.5h1.04"/>
<path stroke="#2424ff" d="M15 26.5h1.04"/>
<path stroke="#2626ff" d="M16 26.5h2.04"/>
<path stroke="#2828ff" d="M18 26.5h1.04"/>
<path stroke="#2a2aff" d="M19 26.5h2.04"/>
<path stroke="#2c2cff" d="M21 26.5h1.04"/>
<path stroke="#2e2eff" d="M22 26.5h1.04"/>
<path stroke="#3030ff" d="M23 26.5h1.04"/>
<path stroke="#3232ff" d="M24 26.5h1.04"/>
<path stroke="#3434ff" d="M25 26.5h1.04"/>
<path stroke="#3636ff" d="M26 26.5h2.04"/>
<path stroke="#3838ff" d="M28 26.5h1.04"/>
<path stroke="#3a3aff" d="M29 26.5h1.04"/>
<path stroke="#3c3cff" d="M30 26.5h1.04"/>
<path stroke="#3e3eff" d="M31 26.5h1.04"/>
<path stroke="#4040ff" d="M32 26.5h2.04"/>
<path stroke="#4242ff" d="M34 26.5h1.04"/>
<path stroke="#4444ff" d="M35 26.5h1.04"/>
<path stroke="#4646ff" d="M36 26.5h1.04"/>
<path stroke="#4848ff" d="M37 26.5h1.04"/>
<path stroke="#4a4aff" d="M38 26.5h2.04"/>
<path stroke="#4c4cff" d="M40 26.5h1"/>
<path stroke="#0000f8" d="M0 27.5h1.04"/>
<path stroke="#0000fa" d="M1 27.5h1.04"/>
<path stroke="#0202fa" d="M2 27.5h4.04"/>
<path stroke="#1010ff" d="M6 27.5h1.04"/>
<path stroke="#1212ff" d="M7 27.5h1.04"/>
<path stroke="#1414ff" d="M8 27.5h1.04"/>
<path stroke="#1616ff" d="M9 27.5h1.04"/>
<path stroke="#1818ff" d="M10 27.5h1.04"/>
<path stroke="#1a1aff" d="M11 27.5h1.04"/>
<path stroke="#1c1cff" d="M12 27.5h2.04"/>
<path stroke="#1e1eff" d="M14 27.5h1.04"/>
<path stroke="#2020ff" d="M15 27.5h2.04"/>
<path stroke="#2222ff" d="M17 27.5h1.04"/>
<path stroke="#2424ff" d="M18 27.5h2.04"/>
<path stroke="#2626ff" d="M20 27.5h1.04"/>
<path stroke="#2828ff" d="M21 27.5h1.04"/>
<path stroke="#2a2aff" d="M22 27.5h1.04"/>
<path stroke="#2c2cff" d="M23 27.5h2.04"/>
<path stroke="#2e2eff" d="M25 27.5h1.04"/>
<path stroke="#3030ff" d="M26 27.5h1.04"/>
<path stroke="#3232ff" d="M27 27.5h1.04"/>
<path stroke="#3434ff" d="M28 27.5h1.04"/>
<path stroke="#3636ff" d="M29 27.5h1.04"/>
<path stroke="#3838ff" d="M30 27.5h1.04"/>
<path stroke="#3a3aff" d="M31 27.5h2.04"/>
<path stroke="#3c3cff" d="M33 27.5h1.04"/>
<path stroke="#3e3eff" d="M34 27.5h1.04"/>
<path stroke="#4040ff" d="M35 27.5h1.04"/>
<path stroke="#4242ff" d="M36 27.5h2.04"/>
<path stroke="#4444ff" d="M38 27.5h1.04"/>
<path stroke="#4646ff" d="M39 27.5h1.04"/>
<path stroke="#4848ff" d="M40 27.5h1"/>
<path stroke="#0000f6" d="M0 28.5h1.04"/>
<path stroke="#0000fa" d="M1 28.5h2.04"/>
<path stroke="#0202fa" d="M3 28.5h3.04"/>
<path stroke="#0000fa" d="M6 28.5h1.04"/>
<path stroke="#1010ff" d="M7 28.5h1.04"/>
<path stroke="#1212ff" d="M8 28.5h2.04"/>
<path stroke="#1414ff" d="M10 28.5h1.04"/>
<path stroke="#1616ff" d="M11 28.5h1.04"/>
<path stroke="#1818ff" d="M12 28.5h1.04"/>
<path stroke="#1a1aff" d="M13 28.5h2.04"/>
<path stroke="#1c1cff" d="M15 28.5h2.04"/>
<path stroke="#1e1eff" d="M17 28.5h1.04"/>
<path stroke="#2020ff" d="M18 28.5h2.04"/>
<path stroke="#2222ff" d="M20 28.5h1.04"/>
<path stroke="#2424ff" d="M21 28.5h1.04"/>
<path stroke="#2626ff" d="M22 28.5h2.04"/>
<path stroke="#2828ff" d="M24 28.5h1.04"/>
<path stroke="#2a2aff" d="M25 28.5h1.04"/>
<path stroke="#2c2cff" d="M26 28.5h1.04"/>
<path stroke="#2e2eff" d="M27 28.5h1.04"/>
<path stroke="#3030ff" d="M28 28.5h1.04"/>
<path stroke="#3232ff" d="M29 28.5h1.04"/>
<path stroke="#3434ff" d="M30 28.5h2.04"/>
<path stroke="#3636ff" d="M32 28.5h1.04"/>
<path stroke="#3838ff" d="M33 28.5h1.04"/>
<path stroke="#3a3aff" d="M34 28.5h1.04"/>
<path stroke="#3c3cff" d="M35 28.5h2.04"/>
<path stroke="#3e3eff" d="M37 28.5h1.04"/>
<path stroke="#4040ff" d="M38 28.5h1.04"/>
<path stroke="#4242ff" d="M39 28.5h1.04"/>
<path stroke="#4444ff" d="M40 28.5h1"/>
<path stroke="#0000f4" d="M0 29.5h1.04"/>
<path stroke="#0000f8" d="M1 29.5h1.04"/>
<path stroke="#0000fa" d="M2 29.5h5.04"/>
<path stroke="#0c0cfe" d="M7 29.5h1.04"/>
<path stroke="#0e0efe" d="M8 29.5h1.04"/>
<path stroke="#1010ff" d="M9 29.5h1.04"/>
<path stroke="#1212ff" d="M10 29.5h2.04"/>
<path stroke="#1414ff" d="M12 29.5h1.04"/>
<path stroke="#1616ff" d="M13 29.5h2.04"/>
<path stroke="#1818ff" d="M15 29.5h1.04"/>
<path stroke="#1a1aff" d="M16 29.5h2.04"/>
<path stroke="#1c1cff" d="M18 29.5h2.04"/>
<path stroke="#1e1eff" d="M20 29.5h1.04"/>
<path stroke="#2020ff" d="M21 29.5h1.04"/>
<path stroke="#2222ff" d="M22 29.5h2.04"/>
<path stroke="#2424ff" d="M24 29.5h1.04"/>
<path stroke="#2626ff" d="M25 29.5h1.04"/>
<path stroke="#2828ff" d="M26 29.5h1.04"/>
<path stroke="#2a2aff" d="M27 29.5h1.04"/>
<path stroke="#2c2cff" d="M28 29.5h1.04"/>
<path stroke="#2e2eff" d="M29 29.5h2.04"/>
<path stroke="#3030ff" d="M31 29.5h1.04"/>
<path stroke="#3232ff" d="M32 29.5h1.04"/>
<path stroke="#3434ff" d="M33 29.5h1.04"/>
<path stroke="#3636ff" d="M34 29.5h2.04"/>
<path stroke="#3838ff" d="M36 29.5h1.04"/>
<path stroke="#3a3aff" d="M37 29.5h1.04"/>
<path stroke="#3c3cff" d="M38 29.5h2.04"/>
<path stroke="#3e3eff" d="M40 29.5h1"/>
<path stroke="#0000f4" d="M0 30.5h1.04"/>
<path stroke="#0000f6" d="M1 30.5h1.04"/>
<path stroke="#0000f8" d="M2 30.5h1.04"/>
<path stroke="#0000fa" d="M3 30.5h3.04"/>
<path stroke="#0000f8" d="M6 30.5h1.04"/>
<path stroke="#0a0afe" d="M7 30.5h1.04"/>
<path stroke="#0c0cfe" d="M8 30.5h1.04"/>
<path stroke="#0e0efe" d="M9 30.5h2.04"/>
<path stroke="#1010ff" d="M11 30.5h1.04"/>
<path stroke="#1212ff" d="M12 30.5h2.04"/>
<path stroke="#1414ff" d="M14 30.5h2.04"/>
<path stroke="#1616ff" d="M16 30.5h2.04"/>
<path stroke="#1818ff" d="M18 30.5h1.04"/>
<path stroke="#1a1aff" d="M19 30.5h2.04"/>
<path stroke="#1c1cff" d="M21 30.5h1.04"/>
<path stroke="#1e1eff" d="M22 30.5h1.04"/>
<path stroke="#2020ff" d="M23 30.5h2.04"/>
<path stroke="#2222ff" d="M25 30.5h1.04"/>
<path stroke="#2424ff" d="M26 30.5h1.04"/>
<path stroke="#2626ff" d="M27 30.5h1.04"/>
<path stroke="#2828ff" d="M28 30.5h1.04"/>
<path stroke="#2a2aff" d="M29 30.5h1.04"/>
<path stroke="#2c2cff" d="M30 30.5h2.04"/>
<path stroke="#2e2eff" d="M32 30.5h1.04"/>
<path stroke="#3030ff" d="M33 30.5h1.04"/>
<path stroke="#3232ff" d="M34 30.5h2.04"/>
<path stroke="#3434ff" d="M36 30.5h1.04"/>
<path stroke="#3636ff" d="M37 30.5h1.04"/>
<path stroke="#3838ff" d="M38 30.5h2.04"/>
<path stroke="#3a3aff" d="M40 30.5h1"/>
<path stroke="#0000f2" d="M0 31.5h1.04"/>
<path stroke="#0000f4" d="M1 31.5h1.04"/>
<path stroke="#0000f6" d="M2 31.5h2.04"/>
<path stroke="#0000f8" d="M4 31.5h2.04"/>
<path stroke="#0000f6" d="M6 31.5h1.04"/>
<path stroke="#0000f0" d="M7 31.5h1.04"/>
<path stroke="#0a0afe" d="M8 31.5h2.04"/>
<path stroke="#0c0cfe" d="M10 31.5h1.04"/>
<path stroke="#0e0efe" d="M11 31.5h2.04"/>
<path stroke="#1010ff" d="M13 31.5h2.04"/>
<path stroke="#1212ff" d="M15 31.5h2.04"/>
<path stroke="#1414ff" d="M17 31.5h2.04"/>
<path stroke="#1616ff" d="M19 31.5h1.04"/>
<path stroke="#1818ff" d="M20 31.5h2.04"/>
<path stroke="#1a1aff" d="M22 31.5h1.04"/>
<path stroke="#1c1cff" d="M23 31.5h1.04"/>
<path stroke="#1e1eff" d="M24 31.5h1.04"/>
<path stroke="#2020ff" d="M25 31.5h2.04"/>
<path stroke="#2222ff" d="M27 31.5h1.04"/>
<path stroke="#2424ff" d="M28 31.5h1.04"/>
<path stroke="#2626ff" d="M29 31.5h1.04"/>
<path stroke="#2828ff" d="M30 31.5h2.04"/>
<path stroke="#2a2aff" d="M32 31.5h1.04"/>
<path stroke="#2c2cff" d="M33 31.5h1.04"/>
<path stroke="#2e2eff" d="M34 31.5h2.04"/>
<path stroke="#3030ff" d="M36 31.5h1.04"/>
<path stroke="#3232ff" d="M37 31.5h2.04"/>
<path stroke="#3434ff" d="M39 31.5h1.04"/>
<path stroke="#3636ff" d="M40 31.5h1"/>
<path stroke="#0000f0" d="M0 32.5h1.04"/>
<path stroke="#0000f2" d="M1 32.5h1.04"/>
<path stroke="#0000f4" d="M2 32.5h4.04"/>
<path stroke="#0000f2" d="M6 32.5h1.04"/>
<path stroke="#0000ee" d="M7 32.5h1.04"/>
<path stroke="#0808fc" d="M8 32.5h2.04"/>
<path stroke="#0a0afe" d="M10 32.5h2.04"/>
<path stroke="#0c0cfe" d="M12 32.5h2.04"/>
<path stroke="#0e0efe" d="M14 32.5h2.04"/>
<path stroke="#1010ff" d="M16 32.5h2.04"/>
<path stroke="#1212ff" d="M18 32.5h1.04"/>
<path stroke="#1414ff" d="M19 32.5h2.04"/>
<path stroke="#1616ff" d="M21 32.5h1.04"/>
<path stroke="#1818ff" d="M22 32.5h2.04"/>
<path stroke="#1a1aff" d="M24 32.5h1.04"/>
<path stroke="#1c1cff" d="M25 32.5h1.04"/>
<path stroke="#1e1eff" d="M26 32.5h2.04"/>
<path stroke="#2020ff" d="M28 32.5h1.04"/>
<path stroke="#2222ff" d="M29 32.5h1.04"/>
<path stroke="#2424ff" d="M30 32.5h2.04"/>
<path stroke="#2626ff" d="M32 32.5h1.04"/>
<path stroke="#2828ff" d="M33 32.5h2.04"/>
<path stroke="#2a2aff" d="M35 32.5h1.04"/>
<path stroke="#2c2cff" d="M36 32.5h2.04"/>
<path stroke="#2e2eff" d="M38 32.5h1.04"/>
<path stroke="#3030ff" d="M39 32.5h2"/>
<path stroke="#0000ee" d="M0 33.5h1.04"/>
<path stroke="#0000f0" d="M1 33.5h3.04"/>
<path stroke="#0000f2" d="M4 33.5h2.04"/>
<path stroke="#0000f0" d="M6 33.5h1.04"/>
<path stroke="#0000ea" d="M7 33.5h1.04"/>
<path stroke="#0000e4" d="M8 33.5h1.04"/>
<path stroke="#0606fc" d="M9 33.5h2.04"/>
<path stroke="#0808fc" d="M11 33.5h2.04"/>
<path stroke="#0a0afe" d="M13 33.5h2.04"/>
<path stroke="#0c0cfe" d="M15 33.5h2.04"/>
<path stroke="#0e0efe" d="M17 33.5h1.04"/>
<path stroke="#1010ff" d="M18 33.5h2.04"/>
<path stroke="#1212ff" d="M20 33.5h1.04"/>
<path stroke="#1414ff" d="M21 33.5h2.04"/>
<path stroke="#1616ff" d="M23 33.5h1.04"/>
<path stroke="#1818ff" d="M24 33.5h2.04"/>
<path stroke="#1a1aff" d="M26 33.5h1.04"/>
<path stroke="#1c1cff" d="M27 33.5h1.04"/>
<path stroke="#1e1eff" d="M28 33.5h2.04"/>
<path stroke="#2020ff" d="M30 33.5h1.04"/>
<path stroke="#2222ff" d="M31 33.5h2.04"/>
<path stroke="#2424ff" d="M33 33.5h2.04"/>
<path stroke="#2626ff" d="M35 33.5h1.04"/>
<path stroke="#2828ff" d="M36 33.5h2.04"/>
<path stroke="#2a2aff" d="M38 33.5h2.04"/>
<path stroke="#2c2cff" d="M40 33.5h1"/>
<path stroke="#0000ec" d="M0 34.5h1.04"/>
<path stroke="#0000ee" d="M1 34.5h5.04"/>
<path stroke="#0000ec" d="M6 34.5h1.04"/>
<path stroke="#0000e8" d="M7 34.5h1.04"/>
<path stroke="#0000e2" d="M8 34.5h1.04"/>
<path stroke="#0404fc" d="M9 34.5h3.04"/>
<path stroke="#0606fc" d="M12 34.5h2.04"/>
<path stroke="#0808fc" d="M14 34.5h1.04"/>
<path stroke="#0a0afe" d="M15 34.5h2.04"/>
<path stroke="#0c0cfe" d="M17 34.5h2.04"/>
<path stroke="#0e0efe" d="M19 34.5h1.04"/>
<path stroke="#1010ff" d="M20 34.5h2.04"/>
<path stroke="#1212ff" d="M22 34.5h1.04"/>
<path stroke="#1414ff" d="M23 34.5h2.04"/>
<path stroke="#1616ff" d="M25 34.5h1.04"/>
<path stroke="#1818ff" d="M26 34.5h2.04"/>
<path stroke="#1a1aff" d="M28 34.5h2.04"/>
<path stroke="#1c1cff" d="M30 34.5h1.04"/>
<path stroke="#1e1eff" d="M31 34.5h2.04"/>
<path stroke="#2020ff" d="M33 34.5h2.04"/>
<path stroke="#2222ff" d="M35 34.5h1.04"/>
<path stroke="#2424ff" d="M36 34.5h2.04"/>
<path stroke="#2626ff" d="M38 34.5h2.04"/>
<path stroke="#2828ff" d="M40 34.5h1"/>
<path stroke="#0000ea" d="M0 35.5h6.04"/>
<path stroke="#0000e8" d="M6 35.5h1.04"/>
<path stroke="#0000e4" d="M7 35.5h1.04"/>
<path stroke="#0000de" d="M8 35.5h1.04"/>
<path stroke="#0000d8" d="M9 35.5h1.04"/>
<path stroke="#0202fa" d="M10 35.5h3.04"/>
<path stroke="#0404fc" d="M13 35.5h1.04"/>
<path stroke="#0606fc" d="M14 35.5h2.04"/>
<path stroke="#0808fc" d="M16 35.5h1.04"/>
<path stroke="#0a0afe" d="M17 35.5h2.04"/>
<path stroke="#0c0cfe" d="M19 35.5h1.04"/>
<path stroke="#0e0efe" d="M20 35.5h2.04"/>
<path stroke="#1010ff" d="M22 35.5h2.04"/>
<path stroke="#1212ff" d="M24 35.5h2.04"/>
<path stroke="#1414ff" d="M26 35.5h1.04"/>
<path stroke="#1616ff" d="M27 35.5h2.04"/>
<path stroke="#1818ff" d="M29 35.5h2.04"/>
<path stroke="#1a1aff" d="M31 35.5h2.04"/>
<path stroke="#1c1cff" d="M33 35.5h2.04"/>
<path stroke="#1e1eff" d="M35 35.5h2.04"/>
<path stroke="#2020ff" d="M37 35.5h2.04"/>
<path stroke="#2222ff" d="M39 35.5h2"/>
<path stroke="#0000ea" d="M0 36.5h1.04"/>
<path stroke="#0000e8" d="M1 36.5h4.04"/>
<path stroke="#0000e6" d="M5 36.5h1.04"/>
<path stroke="#0000e4" d="M6 36.5h1.04"/>
<path stroke="#0000e0" d="M7 36.5h1.04"/>
<path stroke="#0000dc" d="M8 36.5h1.04"/>
<path stroke="#0000d4" d="M9 36.5h1.04"/>
<path stroke="#0000f8" d="M10 36.5h1.04"/>
<path stroke="#0000fa" d="M11 36.5h2.04"/>
<path stroke="#0202fa" d="M13 36.5h2.04"/>
<path stroke="#0404fc" d="M15 36.5h1.04"/>
<path stroke="#0606fc" d="M16 36.5h2.04"/>
<path stroke="#0808fc" d="M18 36.5h1.04"/>
<path stroke="#0a0afe" d="M19 36.5h2.04"/>
<path stroke="#0c0cfe" d="M21 36.5h2.04"/>
<path stroke="#0e0efe" d="M23 36.5h1.04"/>
<path stroke="#1010ff" d="M24 36.5h2.04"/>
<path stroke="#1212ff" d="M26 36.5h2.04"/>
<path stroke="#1414ff" d="M28 36.5h2.04"/>
<path stroke="#1616ff" d="M30 36.5h2.04"/>
<path stroke="#1818ff" d="M32 36.5h2.04"/>
<path stroke="#1a1aff" d="M34 36.5h3.04"/>
<path stroke="#1c1cff" d="M37 36.5h2.04"/>
<path stroke="#1e1eff" d="M39 36.5h2"/>
<path stroke="#0000e8" d="M0 37.5h2.04"/>
<path stroke="#0000e6" d="M2 37.5h2.04"/>
<path stroke="#0000e4" d="M4 37.5h1.04"/>
<path stroke="#0000e2" d="M5 37.5h1.04"/>
<path stroke="#0000e0" d="M6 37.5h1.04"/>
<path stroke="#0000dc" d="M7 37.5h1.04"/>
<path stroke="#0000d8" d="M8 37.5h1.04"/>
<path stroke="#0000d2" d="M9 37.5h1.04"/>
<path stroke="#0000cc" d="M10 37.5h1.04"/>
<path stroke="#0000f4" d="M11 37.5h1.04"/>
<path stroke="#0000f6" d="M12 37.5h1.04"/>
<path stroke="#0000f8" d="M13 37.5h1.04"/>
<path stroke="#0000fa" d="M14 37.5h1.04"/>
<path stroke="#0202fa" d="M15 37.5h2.04"/>
<path stroke="#0404fc" d="M17 37.5h1.04"/>
<path stroke="#0606fc" d="M18 37.5h1.04"/>
<path stroke="#0808fc" d="M19 37.5h2.04"/>
<path stroke="#0a0afe" d="M21 37.5h2.04"/>
<path stroke="#0c0cfe" d="M23 37.5h2.04"/>
<path stroke="#0e0efe" d="M25 37.5h2.04"/>
<path stroke="#1010ff" d="M27 37.5h2.04"/>
<path stroke="#1212ff" d="M29 37.5h3.04"/>
<path stroke="#1414ff" d="M32 37.5h2.04"/>
<path stroke="#1616ff" d="M34 37.5h2.04"/>
<path stroke="#1818ff" d="M36 37.5h3.04"/>
<path stroke="#1a1aff" d="M39 37.5h2"/>
<path stroke="#0000e6" d="M0 38.5h2.04"/>
<path stroke="#0000e4" d="M2 38.5h1.04"/>
<path stroke="#0000e2" d="M3 38.5h2.04"/>
<path stroke="#0000e0" d="M5 38.5h1.04"/>
<path stroke="#0000dc" d="M6 38.5h1.04"/>
<path stroke="#0000d8" d="M7 38.5h1.04"/>
<path stroke="#0000d4" d="M8 38.5h1.04"/>
<path stroke="#0000ce" d="M9 38.5h1.04"/>
<path stroke="#0000ca" d="M10 38.5h1.04"/>
<path stroke="#0000ee" d="M11 38.5h1.04"/>
<path stroke="#0000f0" d="M12 38.5h1.04"/>
<path stroke="#0000f2" d="M13 38.5h1.04"/>
<path stroke="#0000f4" d="M14 38.5h1.04"/>
<path stroke="#0000f8" d="M15 38.5h1.04"/>
<path stroke="#0000fa" d="M16 38.5h1.04"/>
<path stroke="#0202fa" d="M17 38.5h1.04"/>
<path stroke="#0404fc" d="M18 38.5h2.04"/>
<path stroke="#0606fc" d="M20 38.5h2.04"/>
<path stroke="#0808fc" d="M22 38.5h2.04"/>
<path stroke="#0a0afe" d="M24 38.5h2.04"/>
<path stroke="#0c0cfe" d="M26 38.5h2.04"/>
<path stroke="#0e0efe" d="M28 38.5h3.04"/>
<path stroke="#1010ff" d="M31 38.5h2.04"/>
<path stroke="#1212ff" d="M33 38.5h3.04"/>
<path stroke="#1414ff" d="M36 38.5h3.04"/>
<path stroke="#1616ff" d="M39 38.5h2"/>
<path stroke="#0000e4" d="M0 39.5h2.04"/>
<path stroke="#0000e2" d="M2 39.5h1.04"/>
<path stroke="#0000e0" d="M3 39.5h1.04"/>
<path stroke="#0000de" d="M4 39.5h1.04"/>
<path stroke="#0000dc" d="M5 39.5h1.04"/>
<path stroke="#0000d8" d="M6 39.5h1.04"/>
<path stroke="#0000d4" d="M7 39.5h1.04"/>
<path stroke="#0000d0" d="M8 39.5h1.04"/>
<path stroke="#0000cc" d="M9 39.5h1.04"/>
<path stroke="#0000c6" d="M10 39.5h1.04"/>
<path stroke="#0000c0" d="M11 39.5h1.04"/>
<path stroke="#0000ec" d="M12 39.5h1.04"/>
<path stroke="#0000ee" d="M13 39.5h1.04"/>
<path stroke="#0000f0" d="M14 39.5h1.04"/>
<path stroke="#0000f2" d="M15 39.5h1.04"/>
<path stroke="#0000f6" d="M16 39.5h1.04"/>
<path stroke="#0000f8" d="M17 39.5h1.04"/>
<path stroke="#0000fa" d="M18 39.5h1.04"/>
<path stroke="#0202fa" d="M19 39.5h2.04"/>
<path stroke="#0404fc" d="M21 39.5h2.04"/>
<path stroke="#0606fc" d="M23 39.5h2.04"/>
<path stroke="#0808fc" d="M25 39.5h2.04"/>
<path stroke="#0a0afe" d="M27 39.5h2.04"/>
<path stroke="#0c0cfe" d="M29 39.5h3.04"/>
<path stroke="#0e0efe" d="M32 39.5h3.04"/>
<path stroke="#1010ff" d="M35 39.5h3.04"/>
<path stroke="#1212ff" d="M38 39.5h3"/>
<path stroke="#0000e2" d="M0 40.5h1.04"/>
<path stroke="#0000e0" d="M1 40.5h2.04"/>
<path stroke="#0000de" d="M3 40.5h1.04"/>
<path stroke="#0000da" d="M4 40.5h1.04"/>
<path stroke="#0000d8" d="M5 40.5h1.04"/>
<path stroke="#0000d4" d="M6 40.5h1.04"/>
<path stroke="#0000d2" d="M7 40.5h1.04"/>
<path stroke="#0000ce" d="M8 40.5h1.04"/>
<path stroke="#0000c8" d="M9 40.5h1.04"/>
<path stroke="#0000c4" d="M10 40.5h1.04"/>
<path stroke="#0000be" d="M11 40.5h1.04"/>
<path stroke="#0000b6" d="M12 40.5h1.04"/>
<path stroke="#0000e8" d="M13 40.5h1.04"/>
<path stroke="#0000ea" d="M14 40.5h1.04"/>
<path stroke="#0000ee" d="M15 40.5h1.04"/>
<path stroke="#0000f0" d="M16 40.5h1.04"/>
<path stroke="#0000f2" d="M17 40.5h1.04"/>
<path stroke="#0000f6" d="M18 40.5h1.04"/>
<path stroke="#0000f8" d="M19 40.5h1.04"/>
<path stroke="#0000fa" d="M20 40.5h2.04"/>
<path stroke="#0202fa" d="M22 40.5h2.04"/>
<path stroke="#0404fc" d="M24 40.5h2.04"/>
<path stroke="#0606fc" d="M26 40.5h2.04"/>
<path stroke="#0808fc" d="M28 40.5h2.04"/>
<path stroke="#0a0afe" d="M30 40.5h3.04"/>
<path stroke="#0c0cfe" d="M33 40.5h4.04"/>
<path stroke="#0e0efe" d="M37 40.5h3.04"/>
<path stroke="#1010ff" d="M40 40.5h1"/>
<path stroke="#0000e0" d="M0 41.5h1.04"/>
<path stroke="#0000de" d="M1 41.5h1.04"/>
<path stroke="#0000dc" d="M2 41.5h1.04"/>
<path stroke="#0000da" d="M3 41.5h1.04"/>
<path stroke="#0000d8" d="M4 41.5h1.04"/>
<path stroke="#0000d4" d="M5 41.5h1.04"/>
<path stroke="#0000d2" d="M6 41.5h1.04"/>
<path stroke="#0000ce" d="M7 41.5h1.04"/>
<path stroke="#0000ca" d="M8 41.5h1.04"/>
<path stroke="#0000c6" d="M9 41.5h1.04"/>
<path stroke="#0000c0" d="M10 41.5h1.04"/>
<path stroke="#0000ba" d="M11 41.5h1.04"/>
<path stroke="#0000b2" d="M12 41.5h1.04"/>
<path stroke="#0000e4" d="M13 41.5h1.04"/>
<path stroke="#0000e6" d="M14 41.5h1.04"/>
<path stroke="#0000e8" d="M15 41.5h1.04"/>
<path stroke="#0000ea" d="M16 41.5h1.04"/>
<path stroke="#0000ec" d="M17 41.5h1.04"/>
<path stroke="#0000ee" d="M18 41.5h1.04"/>
<path stroke="#0000f0" d="M19 41.5h1.04"/>
<path stroke="#0000f2" d="M20 41.5h1.04"/>
<path stroke="#0000f4" d="M21 41.5h1.04"/>
<path stroke="#0000f6" d="M22 41.5h1.04"/>
<path stroke="#0000fa" d="M23 41.5h2.04"/>
<path stroke="#0202fa" d="M25 41.5h2.04"/>
<path stroke="#0404fc" d="M27 41.5h2.04"/>
<path stroke="#0606fc" d="M29 41.5h2.04"/>
<path stroke="#0808fc" d="M31 41.5h4.04"/>
<path stroke="#0a0afe" d="M35 41.5h3.04"/>
<path stroke="#0c0cfe" d="M38 41.5h3"/>
<path stroke="#0000de" d="M0 42.5h1.04"/>
<path stroke="#0000dc" d="M1 42.5h1.04"/>
<path stroke="#0000da" d="M2 42.5h1.04"/>
<path stroke="#0000d8" d="M3 42.5h1.04"/>
<path stroke="#0000d4" d="M4 42.5h1.04"/>
<path stroke="#0000d2" d="M5 42.5h1.04"/>
<path stroke="#0000ce" d="M6 42.5h1.04"/>
<path stroke="#0000ca" d="M7 42.5h1.04"/>
<path stroke="#0000c6" d="M8 42.5h1.04"/>
<path stroke="#0000c2" d="M9 42.5h1.04"/>
<path stroke="#0000bc" d="M10 42.5h1.04"/>
<path stroke="#0000b6" d="M11 42.5h1.04"/>
<path stroke="#0000b0" d="M12 42.5h1.04"/>
<path stroke="#0000a6" d="M13 42.5h1.04"/>
<path stroke="#0000e0" d="M14 42.5h1.04"/>
<path stroke="#0000e2" d="M15 42.5h1.04"/>
<path stroke="#0000e4" d="M16 42.5h1.04"/>
<path stroke="#0000e6" d="M17 42.5h2.04"/>
<path stroke="#0000e8" d="M19 42.5h1.04"/>
<path stroke="#0000ea" d="M20 42.5h1.04"/>
<path stroke="#0000ec" d="M21 42.5h1.04"/>
<path stroke="#0000ee" d="M22 42.5h1.04"/>
<path stroke="#0000f0" d="M23 42.5h1.04"/>
<path stroke="#0000f4" d="M24 42.5h1.04"/>
<path stroke="#0000f6" d="M25 42.5h1.04"/>
<path stroke="#0000fa" d="M26 42.5h2.04"/>
<path stroke="#0202fa" d="M28 42.5h1.04"/>
<path stroke="#0404fc" d="M29 42.5h3.04"/>
<path stroke="#0606fc" d="M32 42.5h3.04"/>
<path stroke="#0808fc" d="M35 42.5h5.04"/>
<path stroke="#0a0afe" d="M40 42.5h1"/>
<path stroke="#0000dc" d="M0 43.5h1.04"/>
<path stroke="#0000da" d="M1 43.5h1.04"/>
<path stroke="#0000d8" d="M2 43.5h1.04"/>
<path stroke="#0000d4" d="M3 43.5h1.04"/>
<path stroke="#0000d2" d="M4 43.5h1.04"/>
<path stroke="#0000ce" d="M5 43.5h1.04"/>
<path stroke="#0000ca" d="M6 43.5h1.04"/>
<path stroke="#0000c6" d="M7 43.5h1.04"/>
<path stroke="#0000c2" d="M8 43.5h1.04"/>
<path stroke="#0000bc" d="M9 43.5h1.04"/>
<path stroke="#0000b8" d="M10 43.5h1.04"/>
<path stroke="#0000b2" d="M11 43.5h1.04"/>
<path stroke="#0000aa" d="M12 43.5h1.04"/>
<path stroke="#0000a2" d="M13 43.5h1.04"/>
<path stroke="#00009a" d="M14 43.5h1.04"/>
<path stroke="#0000dc" d="M15 43.5h1.04"/>
<path stroke="#0000de" d="M16 43.5h2.04"/>
<path stroke="#0000e0" d="M18 43.5h2.04"/>
<path stroke="#0000e2" d="M20 43.5h1.04"/>
<path stroke="#0000e4" d="M21 43.5h1.04"/>
<path stroke="#0000e6" d="M22 43.5h1.04"/>
<path stroke="#0000e8" d="M23 43.5h1.04"/>
<path stroke="#0000ec" d="M24 43.5h1.04"/>
<path stroke="#0000ee" d="M25 43.5h1.04"/>
<path stroke="#0000f2" d="M26 43.5h1.04"/>
<path stroke="#0000f6" d="M27 43.5h1.04"/>
<path stroke="#0000f8" d="M28 43.5h1.04"/>
<path stroke="#0000fa" d="M29 43.5h1.04"/>
<path stroke="#0202fa" d="M30 43.5h3.04"/>
<path stroke="#0404fc" d="M33 43.5h3.04"/>
<path stroke="#0606fc" d="M36 43.5h5"/>
<path stroke="#0000dc" d="M0 44.5h1.04"/>
<path stroke="#0000d8" d="M1 44.5h1.04"/>
<path stroke="#0000d6" d="M2 44.5h1.04"/>
<path stroke="#0000d2" d="M3 44.5h1.04"/>
<path stroke="#0000ce" d="M4 44.5h1.04"/>
<path stroke="#0000ca" d="M5 44.5h1.04"/>
<path stroke="#0000c6" d="M6 44.5h1.04"/>
<path stroke="#0000c2" d="M7 44.5h1.04"/>
<path stroke="#0000bc" d="M8 44.5h1.04"/>
<path stroke="#0000b8" d="M9 44.5h1.04"/>
<path stroke="#0000b2" d="M10 44.5h1.04"/>
<path stroke="#0000ac" d="M11 44.5h1.04"/>
<path stroke="#0000a6" d="M12 44.5h1.04"/>
<path stroke="#00009e" d="M13 44.5h1.04"/>
<path stroke="#000094" d="M14 44.5h1.04"/>
<path stroke="#0000d8" d="M15 44.5h6.04"/>
<path stroke="#0000da" d="M21 44.5h1.04"/>
<path stroke="#0000dc" d="M22 44.5h1.04"/>
<path stroke="#0000de" d="M23 44.5h1.04"/>
<path stroke="#0000e2" d="M24 44.5h1.04"/>
<path stroke="#0000e6" d="M25 44.5h1.04"/>
<path stroke="#0000ea" d="M26 44.5h1.04"/>
<path stroke="#0000f0" d="M27 44.5h1.04"/>
<path stroke="#0000f2" d="M28 44.5h1.04"/>
<path stroke="#0000f6" d="M29 44.5h1.04"/>
<path stroke="#0000f8" d="M30 44.5h1.04"/>
<path stroke="#0000fa" d="M31 44.5h2.04"/>
<path stroke="#0202fa" d="M33 44.5h3.04"/>
<path stroke="#0404fc" d="M36 44.5h5"/>
<path stroke="#0000da" d="M0 45.5h1.04"/>
<path stroke="#0000d6" d="M1 45.5h1.04"/>
<path stroke="#0000d2" d="M2 45.5h1.04"/>
<path stroke="#0000ce" d="M3 45.5h1.04"/>
<path stroke="#0000ca" d="M4 45.5h1.04"/>
<path stroke="#0000c6" d="M5 45.5h1.04"/>
<path stroke="#0000c2" d="M6 45.5h1.04"/>
<path stroke="#0000be" d="M7 45.5h1.04"/>
<path stroke="#0000b8" d="M8 45.5h1.04"/>
<path stroke="#0000b2" d="M9 45.5h1.04"/>
<path stroke="#0000ae" d="M10 45.5h1.04"/>
<path stroke="#0000a8" d="M11 45.5h1.04"/>
<path stroke="#0000a0" d="M12 45.5h1.04"/>
<path stroke="#000098" d="M13 45.5h1.04"/>
<path stroke="#000090" d="M14 45.5h1.04"/>
<path stroke="#000088" d="M15 45.5h1.04"/>
<path stroke="#0000d0" d="M16 45.5h6.04"/>
<path stroke="#0000d2" d="M22 45.5h1.04"/>
<path stroke="#0000d6" d="M23 45.5h1.04"/>
<path stroke="#0000da" d="M24 45.5h1.04"/>
<path stroke="#0000e0" d="M25 45.5h1.04"/>
<path stroke="#0000e4" d="M26 45.5h1.04"/>
<path stroke="#0000ea" d="M27 45.5h1.04"/>
<path stroke="#0000ee" d="M28 45.5h1.04"/>
<path stroke="#0000f2" d="M29 45.5h1.04"/>
<path stroke="#0000f4" d="M30 45.5h2.04"/>
<path stroke="#0000f6" d="M32 45.5h1.04"/>
<path stroke="#0000f8" d="M33 45.5h1.04"/>
<path stroke="#0000fa" d="M34 45.5h3.04"/>
<path stroke="#0202fa" d="M37 45.5h4"/>
<path stroke="#0000d8" d="M0 46.5h1.04"/>
<path stroke="#0000d4" d="M1 46.5h1.04"/>
<path stroke="#0000d0" d="M2 46.5h1.04"/>
<path stroke="#0000cc" d="M3 46.5h1.04"/>
<path stroke="#0000c8" d="M4 46.5h1.04"/>
<path stroke="#0000c4" d="M5 46.5h1.04"/>
<path stroke="#0000be" d="M6 46.5h1.04"/>
<path stroke="#0000ba" d="M7 46.5h1.04"/>
<path stroke="#0000b4" d="M8 46.5h1.04"/>
<path stroke="#0000ae" d="M9 46.5h1.04"/>
<path stroke="#0000a8" d="M10 46.5h1.04"/>
<path stroke="#0000a2" d="M11 46.5h1.04"/>
<path stroke="#00009a" d="M12 46.5h1.04"/>
<path stroke="#000092" d="M13 46.5h1.04"/>
<path stroke="#00008a" d="M14 46.5h1.04"/>
<path stroke="#000084" d="M15 46.5h1.04"/>
<path stroke="#00007c" d="M16 46.5h1.04"/>
<path stroke="#0000c8" d="M17 46.5h1.04"/>
<path stroke="#0000c6" d="M18 46.5h4.04"/>
<path stroke="#0000ca" d="M22 46.5h1.04"/>
<path stroke="#0000ce" d="M23 46.5h1.04"/>
<path stroke="#0000d2" d="M24 46.5h1.04"/>
<path stroke="#0000d8" d="M25 46.5h1.04"/>
<path stroke="#0000de" d="M26 46.5h1.04"/>
<path stroke="#0000e4" d="M27 46.5h1.04"/>
<path stroke="#0000e8" d="M28 46.5h1.04"/>
<path stroke="#0000ec" d="M29 46.5h1.04"/>
<path stroke="#0000ee" d="M30 46.5h1.04"/>
<path stroke="#0000f0" d="M31 46.5h1.04"/>
<path stroke="#0000f2" d="M32 46.5h2.04"/>
<path stroke="#0000f4" d="M34 46.5h1.04"/>
<path stroke="#0000f6" d="M35 46.5h2.04"/>
<path stroke="#0000f8" d="M37 46.5h4"/>
<path stroke="#0000d6" d="M0 47.5h1.04"/>
<path stroke="#0000d2" d="M1 47.5h1.04"/>
<path stroke="#0000ce" d="M2 47.5h1.04"/>
<path stroke="#0000ca" d="M3 47.5h1.04"/>
<path stroke="#0000c4" d="M4 47.5h1.04"/>
<path stroke="#0000c0" d="M5 47.5h1.04"/>
<path stroke="#0000ba" d="M6 47.5h1.04"/>
<path stroke="#0000b4" d="M7 47.5h1.04"/>
<path stroke="#0000ae" d="M8 47.5h1.04"/>
<path stroke="#0000a8" d="M9 47.5h1.04"/>
<path stroke="#0000a2" d="M10 47.5h1.04"/>
<path stroke="#00009c" d="M11 47.5h1.04"/>
<path stroke="#000094" d="M12 47.5h1.04"/>
<path stroke="#00008e" d="M13 47.5h1.04"/>
<path stroke="#000086" d="M14 47.5h1.04"/>
<path stroke="#00007e" d="M15 47.5h1.04"/>
<path stroke="#000078" d="M16 47.5h1.04"/>
<path stroke="#000072" d="M17 47.5h1.04"/>
<path stroke="#0000be" d="M18 47.5h4.04"/>
<path stroke="#0000c2" d="M22 47.5h1.04"/>
<path stroke="#0000c6" d="M23 47.5h1.04"/>
<path stroke="#0000cc" d="M24 47.5h1.04"/>
<path stroke="#0000d2" d="M25 47.5h1.04"/>
<path stroke="#0000d8" d="M26 47.5h1.04"/>
<path stroke="#0000de" d="M27 47.5h1.04"/>
<path stroke="#0000e2" d="M28 47.5h1.04"/>
<path stroke="#0000e6" d="M29 47.5h1.04"/>
<path stroke="#0000ea" d="M30 47.5h2.04"/>
<path stroke="#0000ec" d="M32 47.5h1.04"/>
<path stroke="#0000ee" d="M33 47.5h1.04"/>
<path stroke="#0000f0" d="M34 47.5h2.04"/>
<path stroke="#0000f2" d="M36 47.5h3.04"/>
<path stroke="#0000f4" d="M39 47.5h2"/>
<path stroke="#0000d4" d="M0 48.5h1.04"/>
<path stroke="#0000d0" d="M1 48.5h1.04"/>
<path stroke="#0000cc" d="M2 48.5h1.04"/>
<path stroke="#0000c6" d="M3 48.5h1.04"/>
<path stroke="#0000c2" d="M4 48.5h1.04"/>
<path stroke="#0000bc" d="M5 48.5h1.04"/>
<path stroke="#0000b6" d="M6 48.5h1.04"/>
<path stroke="#0000b0" d="M7 48.5h1.04"/>
<path stroke="#0000aa" d="M8 48.5h1.04"/>
<path stroke="#0000a4" d="M9 48.5h1.04"/>
<path stroke="#00009c" d="M10 48.5h1.04"/>
<path stroke="#000096" d="M11 48.5h1.04"/>
<path stroke="#000090" d="M12 48.5h1.04"/>
<path stroke="#000088" d="M13 48.5h1.04"/>
<path stroke="#000082" d="M14 48.5h1.04"/>
<path stroke="#00007a" d="M15 48.5h1.04"/>
<path stroke="#000074" d="M16 48.5h1.04"/>
<path stroke="#00006e" d="M17 48.5h1.04"/>
<path stroke="#00006a" d="M18 48.5h1.04"/>
<path stroke="#0000b4" d="M19 48.5h2.04"/>
<path stroke="#0000b6" d="M21 48.5h1.04"/>
<path stroke="#0000b8" d="M22 48.5h1.04"/>
<path stroke="#0000be" d="M23 48.5h1.04"/>
<path stroke="#0000c4" d="M24 48.5h1.04"/>
<path stroke="#0000ca" d="M25 48.5h1.04"/>
<path stroke="#0000d2" d="M26 48.5h1.04"/>
<path stroke="#0000d8" d="M27 48.5h1.04"/>
<path stroke="#0000de" d="M28 48.5h1.04"/>
<path stroke="#0000e2" d="M29 48.5h1.04"/>
<path stroke="#0000e4" d="M30 48.5h1.04"/>
<path stroke="#0000e6" d="M31 48.5h1.04"/>
<path stroke="#0000e8" d="M32 48.5h2.04"/>
<path stroke="#0000ea" d="M34 48.5h1.04"/>
<path stroke="#0000ec" d="M35 48.5h3.04"/>
<path stroke="#0000ee" d="M38 48.5h3"/>
<path stroke="#0000d2" d="M0 49.5h1.04"/>
<path stroke="#0000ce" d="M1 49.5h1.04"/>
<path stroke="#0000ca" d="M2 49.5h1.04"/>
<path stroke="#0000c4" d="M3 49.5h1.04"/>
<path stroke="#0000c0" d="M4 49.5h1.04"/>
<path stroke="#0000ba" d="M5 49.5h1.04"/>
<path stroke="#0000b4" d="M6 49.5h1.04"/>
<path stroke="#0000ac" d="M7 49.5h1.04"/>
<path stroke="#0000a6" d="M8 49.5h1.04"/>
<path stroke="#00009e" d="M9 49.5h1.04"/>
<path stroke="#000098" d="M10 49.5h1.04"/>
<path stroke="#000090" d="M11 49.5h1.04"/>
<path stroke="#00008a" d="M12 49.5h1.04"/>
<path stroke="#000084" d="M13 49.5h1.04"/>
<path stroke="#00007e" d="M14 49.5h1.04"/>
<path stroke="#000076" d="M15 49.5h1.04"/>
<path stroke="#000072" d="M16 49.5h1.04"/>
<path stroke="#00006c" d="M17 49.5h1.04"/>
<path stroke="#000066" d="M18 49.5h1.04"/>
<path stroke="#000062" d="M19 49.5h1.04"/>
<path stroke="#0000ac" d="M20 49.5h1.04"/>
<path stroke="#0000ae" d="M21 49.5h1.04"/>
<path stroke="#0000b2" d="M22 49.5h1.04"/>
<path stroke="#0000b6" d="M23 49.5h1.04"/>
<path stroke="#0000bc" d="M24 49.5h1.04"/>
<path stroke="#0000c4" d="M25 49.5h1.04"/>
<path stroke="#0000ca" d="M26 49.5h1.04"/>
<path stroke="#0000d2" d="M27 49.5h1.04"/>
<path stroke="#0000d8" d="M28 49.5h1.04"/>
<path stroke="#0000dc" d="M29 49.5h1.04"/>
<path stroke="#0000de" d="M30 49.5h1.04"/>
<path stroke="#0000e0" d="M31 49.5h1.04"/>
<path stroke="#0000e2" d="M32 49.5h1.04"/>
<path stroke="#0000e4" d="M33 49.5h2.04"/>
<path stroke="#0000e6" d="M35 49.5h2.04"/>
<path stroke="#0000e8" d="M37 49.5h4"/>
<path stroke="#0000d2" d="M0 50.5h1.04"/>
<path stroke="#0000cc" d="M1 50.5h1.04"/>
<path stroke="#0000c8" d="M2 50.5h1.04"/>
<path stroke="#0000c2" d="M3 50.5h1.04"/>
<path stroke="#0000bc" d="M4 50.5h1.04"/>
<path stroke="#0000b6" d="M5 50.5h1.04"/>
<path stroke="#0000b0" d="M6 50.5h1.04"/>
<path stroke="#0000a8" d="M7 50.5h1.04"/>
<path stroke="#0000a2" d="M8 50.5h1.04"/>
<path stroke="#00009a" d="M9 50.5h1.04"/>
<path stroke="#000092" d="M10 50.5h1.04"/>
<path stroke="#00008c" d="M11 50.5h1.04"/>
<path stroke="#000086" d="M12 50.5h1.04"/>
<path stroke="#000080" d="M13 50.5h1.04"/>
<path stroke="#00007a" d="M14 50.5h1.04"/>
<path stroke="#000074" d="M15 50.5h1.04"/>
<path stroke="#00006e" d="M16 50.5h1.04"/>
<path stroke="#00006a" d="M17 50.5h1.04"/>
<path stroke="#000064" d="M18 50.5h1.04"/>
<path stroke="#000062" d="M19 50.5h1.04"/>
<path stroke="#0000a6" d="M20 50.5h1.04"/>
<path stroke="#0000a8" d="M21 50.5h1.04"/>
<path stroke="#0000aa" d="M22 50.5h1.04"/>
<path stroke="#0000b0" d="M23 50.5h1.04"/>
<path stroke="#0000b6" d="M24 50.5h1.04"/>
<path stroke="#0000be" d="M25 50.5h1.04"/>
<path stroke="#0000c4" d="M26 50.5h1.04"/>
<path stroke="#0000cc" d="M27 50.5h1.04"/>
<path stroke="#0000d2" d="M28 50.5h1.04"/>
<path stroke="#0000d6" d="M29 50.5h1.04"/>
<path stroke="#0000d8" d="M30 50.5h1.04"/>
<path stroke="#0000da" d="M31 50.5h1.04"/>
<path stroke="#0000dc" d="M32 50.5h1.04"/>
<path stroke="#0000de" d="M33 50.5h2.04"/>
<path stroke="#0000e0" d="M35 50.5h2.04"/>
<path stroke="#0000e2" d="M37 50.5h4"/>
<path stroke="#0000d0" d="M0 51.5h1.04"/>
<path stroke="#0000ca" d="M1 51.5h1.04"/>
<path stroke="#0000c6" d="M2 51.5h1.04"/>
<path stroke="#0000c0" d="M3 51.5h1.04"/>
<path stroke="#0000ba" d="M4 51.5h1.04"/>
<path stroke="#0000b4" d="M5 51.5h1.04"/>
<path stroke="#0000ac" d="M6 51.5h1.04"/>
<path stroke="#0000a6" d="M7 51.5h1.04"/>
<path stroke="#00009e" d="M8 51.5h1.04"/>
<path stroke="#000096" d="M9 51.5h1.04"/>
<path stroke="#00008e" d="M10 51.5h1.04"/>
<path stroke="#000088" d="M11 51.5h1.04"/>
<path stroke="#000082" d="M12 51.5h1.04"/>
<path stroke="#00007c" d="M13 51.5h1.04"/>
<path stroke="#000076" d="M14 51.5h1.04"/>
<path stroke="#000072" d="M15 51.5h1.04"/>
<path stroke="#00006c" d="M16 51.5h1.04"/>
<path stroke="#000068" d="M17 51.5h1.04"/>
<path stroke="#000064" d="M18 51.5h1.04"/>
<path stroke="#000060" d="M19 51.5h1.04"/>
<path stroke="#00005e" d="M20 51.5h1.04"/>
<path stroke="#0000a0" d="M21 51.5h1.04"/>
<path stroke="#0000a4" d="M22 51.5h1.04"/>
<path stroke="#0000aa" d="M23 51.5h1.04"/>
<path stroke="#0000b0" d="M24 51.5h1.04"/>
<path stroke="#0000b6" d="M25 51.5h1.04"/>
<path stroke="#0000be" d="M26 51.5h1.04"/>
<path stroke="#0000c4" d="M27 51.5h1.04"/>
<path stroke="#0000ca" d="M28 51.5h1.04"/>
<path stroke="#0000d0" d="M29 51.5h1.04"/>
<path stroke="#0000d2" d="M30 51.5h1.04"/>
<path stroke="#0000d4" d="M31 51.5h1.04"/>
<path stroke="#0000d6" d="M32 51.5h1.04"/>
<path stroke="#0000d8" d="M33 51.5h2.04"/>
<path stroke="#0000da" d="M35 51.5h2.04"/>
<path stroke="#0000dc" d="M37 51.5h4"/>
<path stroke="#0000ce" d="M0 52.5h1.04"/>
<path stroke="#0000ca" d="M1 52.5h1.04"/>
<path stroke="#0000c4" d="M2 52.5h1.04"/>
<path stroke="#0000be" d="M3 52.5h1.04"/>
<path stroke="#0000b6" d="M4 52.5h1.04"/>
<path stroke="#0000b0" d="M5 52.5h1.04"/>
<path stroke="#0000aa" d="M6 52.5h1.04"/>
<path stroke="#0000a2" d="M7 52.5h1.04"/>
<path stroke="#00009a" d="M8 52.5h1.04"/>
<path stroke="#000092" d="M9 52.5h1.04"/>
<path stroke="#00008a" d="M10 52.5h1.04"/>
<path stroke="#000084" d="M11 52.5h1.04"/>
<path stroke="#000080" d="M12 52.5h1.04"/>
<path stroke="#00007a" d="M13 52.5h1.04"/>
<path stroke="#000074" d="M14 52.5h1.04"/>
<path stroke="#00006e" d="M15 52.5h1.04"/>
<path stroke="#00006a" d="M16 52.5h1.04"/>
<path stroke="#000066" d="M17 52.5h1.04"/>
<path stroke="#000062" d="M18 52.5h1.04"/>
<path stroke="#00005e" d="M19 52.5h1.04"/>
<path stroke="#00005c" d="M20 52.5h1.04"/>
<path stroke="#00005a" d="M21 52.5h1.04"/>
<path stroke="#00009e" d="M22 52.5h1.04"/>
<path stroke="#0000a4" d="M23 52.5h1.04"/>
<path stroke="#0000aa" d="M24 52.5h1.04"/>
<path stroke="#0000b0" d="M25 52.5h1.04"/>
<path stroke="#0000b8" d="M26 52.5h1.04"/>
<path stroke="#0000be" d="M27 52.5h1.04"/>
<path stroke="#0000c4" d="M28 52.5h1.04"/>
<path stroke="#0000c8" d="M29 52.5h1.04"/>
<path stroke="#0000cc" d="M30 52.5h1.04"/>
<path stroke="#0000ce" d="M31 52.5h2.04"/>
<path stroke="#0000d0" d="M33 52.5h1.04"/>
<path stroke="#0000d2" d="M34 52.5h1.04"/>
<path stroke="#0000d4" d="M35 52.5h2.04"/>
<path stroke="#0000d6" d="M37 52.5h4"/>
<path stroke="#0000ce" d="M0 53.5h1.04"/>
<path stroke="#0000c8" d="M1 53.5h1.04"/>
<path stroke="#0000c2" d="M2 53.5h1.04"/>
<path stroke="#0000ba" d="M3 53.5h1.04"/>
<path stroke="#0000b4" d="M4 53.5h1.04"/>
<path stroke="#0000ae" d="M5 53.5h1.04"/>
<path stroke="#0000a6" d="M6 53.5h1.04"/>
<path stroke="#00009e" d="M7 53.5h1.04"/>
<path stroke="#000096" d="M8 53.5h1.04"/>
<path stroke="#00008e" d="M9 53.5h1.04"/>
<path stroke="#000088" d="M10 53.5h1.04"/>
<path stroke="#000082" d="M11 53.5h1.04"/>
<path stroke="#00007c" d="M12 53.5h1.04"/>
<path stroke="#000076" d="M13 53.5h1.04"/>
<path stroke="#000070" d="M14 53.5h1.04"/>
<path stroke="#00006c" d="M15 53.5h1.04"/>
<path stroke="#000068" d="M16 53.5h1.04"/>
<path stroke="#000064" d="M17 53.5h1.04"/>
<path stroke="#000060" d="M18 53.5h1.04"/>
<path stroke="#00005c" d="M19 53.5h1.04"/>
<path stroke="#00005a" d="M20 53.5h2.04"/>
<path stroke="#000058" d="M22 53.5h1.04"/>
<path stroke="#000056" d="M23 53.5h1.04"/>
<path stroke="#0000a2" d="M24 53.5h1.04"/>
<path stroke="#0000aa" d="M25 53.5h1.04"/>
<path stroke="#0000b0" d="M26 53.5h1.04"/>
<path stroke="#0000b6" d="M27 53.5h1.04"/>
<path stroke="#0000bc" d="M28 53.5h1.04"/>
<path stroke="#0000c2" d="M29 53.5h1.04"/>
<path stroke="#0000c4" d="M30 53.5h1.04"/>
<path stroke="#0000c6" d="M31 53.5h1.04"/>
<path stroke="#0000c8" d="M32 53.5h1.04"/>
<path stroke="#0000ca" d="M33 53.5h1.04"/>
<path stroke="#0000cc" d="M34 53.5h2.04"/>
<path stroke="#0000ce" d="M36 53.5h1.04"/>
<path stroke="#0000d0" d="M37 53.5h4"/>
<path stroke="#0000cc" d="M0 54.5h1.04"/>
<path stroke="#0000c6" d="M1 54.5h1.04"/>
<path stroke="#0000c0" d="M2 54.5h1.04"/>
<path stroke="#0000b8" d="M3 54.5h1.04"/>
<path stroke="#0000b2" d="M4 54.5h1.04"/>
<path stroke="#0000aa" d="M5 54.5h1.04"/>
<path stroke="#0000a2" d="M6 54.5h1.04"/>
<path stroke="#00009a" d="M7 54.5h1.04"/>
<path stroke="#000092" d="M8 54.5h1.04"/>
<path stroke="#00008a" d="M9 54.5h1.04"/>
<path stroke="#000084" d="M10 54.5h1.04"/>
<path stroke="#00007e" d="M11 54.5h1.04"/>
<path stroke="#000078" d="M12 54.5h1.04"/>
<path stroke="#000074" d="M13 54.5h1.04"/>
<path stroke="#00006e" d="M14 54.5h1.04"/>
<path stroke="#00006a" d="M15 54.5h1.04"/>
<path stroke="#000066" d="M16 54.5h1.04"/>
<path stroke="#000062" d="M17 54.5h1.04"/>
<path stroke="#00005e" d="M18 54.5h1.04"/>
<path stroke="#00005c" d="M19 54.5h1.04"/>
<path stroke="#00005a" d="M20 54.5h1.04"/>
<path stroke="#000058" d="M21 54.5h1.04"/>
<path stroke="#000056" d="M22 54.5h2.04"/>
<path stroke="#000054" d="M24 54.5h1.04"/>
<path stroke="#0000a2" d="M25 54.5h1.04"/>
<path stroke="#0000aa" d="M26 54.5h1.04"/>
<path stroke="#0000b0" d="M27 54.5h1.04"/>
<path stroke="#0000b4" d="M28 54.5h1.04"/>
<path stroke="#0000ba" d="M29 54.5h1.04"/>
<path stroke="#0000bc" d="M30 54.5h1.04"/>
<path stroke="#0000be" d="M31 54.5h1.04"/>
<path stroke="#0000c0" d="M32 54.5h1.04"/>
<path stroke="#0000c2" d="M33 54.5h1.04"/>
<path stroke="#0000c4" d="M34 54.5h1.04"/>
<path stroke="#0000c6" d="M35 54.5h1.04"/>
<path stroke="#0000c8" d="M36 54.5h2.04"/>
<path stroke="#0000ca" d="M38 54.5h3"/>
<path stroke="#0000cc" d="M0 55.5h1.04"/>
<path stroke="#0000c4" d="M1 55.5h1.04"/>
<path stroke="#0000be" d="M2 55.5h1.04"/>
<path stroke="#0000b6" d="M3 55.5h1.04"/>
<path stroke="#0000ae" d="M4 55.5h1.04"/>
<path stroke="#0000a8" d="M5 55.5h1.04"/>
<path stroke="#0000a0" d="M6 55.5h1.04"/>
<path stroke="#000096" d="M7 55.5h1.04"/>
<path stroke="#00008e" d="M8 55.5h1.04"/>
<path stroke="#000086" d="M9 55.5h1.04"/>
<path stroke="#000080" d="M10 55.5h1.04"/>
<path stroke="#00007a" d="M11 55.5h1.04"/>
<path stroke="#000076" d="M12 55.5h1.04"/>
<path stroke="#000070" d="M13 55.5h1.04"/>
<path stroke="#00006c" d="M14 55.5h1.04"/>
<path stroke="#000068" d="M15 55.5h1.04"/>
<path stroke="#000064" d="M16 55.5h1.04"/>
<path stroke="#000060" d="M17 55.5h1.04"/>
<path stroke="#00005c" d="M18 55.5h1.04"/>
<path stroke="#00005a" d="M19 55.5h1.04"/>
<path stroke="#000058" d="M20 55.5h2.04"/>
<path stroke="#000056" d="M22 55.5h1.04"/>
<path stroke="#000054" d="M23 55.5h2.04"/>
<path stroke="#000052" d="M25 55.5h1.04"/>
<path stroke="#0000a2" d="M26 55.5h1.04"/>
<path stroke="#0000a8" d="M27 55.5h1.04"/>
<path stroke="#0000ae" d="M28 55.5h1.04"/>
<path stroke="#0000b2" d="M29 55.5h1.04"/>
<path stroke="#0000b4" d="M30 55.5h1.04"/>
<path stroke="#0000b6" d="M31 55.5h1.04"/>
<path stroke="#0000ba" d="M32 55.5h1.04"/>
<path stroke="#0000bc" d="M33 55.5h1.04"/>
<path stroke="#0000be" d="M34 55.5h1.04"/>
<path stroke="#0000c0" d="M35 55.5h2.04"/>
<path stroke="#0000c2" d="M37 55.5h1.04"/>
<path stroke="#0000c4" d="M38 55.5h3"/>
<path stroke="#0000cc" d="M0 56.5h1.04"/>
<path stroke="#0000c4" d="M1 56.5h1.04"/>
<path stroke="#0000bc" d="M2 56.5h1.04"/>
<path stroke="#0000b4" d="M3 56.5h1.04"/>
<path stroke="#0000ac" d="M4 56.5h1.04"/>
<path stroke="#0000a4" d="M5 56.5h1.04"/>
<path stroke="#00009c" d="M6 56.5h1.04"/>
<path stroke="#000094" d="M7 56.5h1.04"/>
<path stroke="#00008a" d="M8 56.5h1.04"/>
<path stroke="#000082" d="M9 56.5h1.04"/>
<path stroke="#00007c" d="M10 56.5h1.04"/>
<path stroke="#000078" d="M11 56.5h1.04"/>
<path stroke="#000072" d="M12 56.5h1.04"/>
<path stroke="#00006e" d="M13 56.5h1.04"/>
<path stroke="#00006a" d="M14 56.5h1.04"/>
<path stroke="#000064" d="M15 56.5h1.04"/>
<path stroke="#000062" d="M16 56.5h1.04"/>
<path stroke="#00005e" d="M17 56.5h1.04"/>
<path stroke="#00005c" d="M18 56.5h1.04"/>
<path stroke="#000058" d="M19 56.5h2.04"/>
<path stroke="#000056" d="M21 56.5h1.04"/>
<path stroke="#000054" d="M22 56.5h2.04"/>
<path stroke="#000052" d="M24 56.5h2.04"/>
<path stroke="#000050" d="M26 56.5h1.04"/>
<path stroke="#0000a0" d="M27 56.5h1.04"/>
<path stroke="#0000a6" d="M28 56.5h1.04"/>
<path stroke="#0000aa" d="M29 56.5h1.04"/>
<path stroke="#0000ac" d="M30 56.5h1.04"/>
<path stroke="#0000b0" d="M31 56.5h1.04"/>
<path stroke="#0000b2" d="M32 56.5h1.04"/>
<path stroke="#0000b4" d="M33 56.5h1.04"/>
<path stroke="#0000b6" d="M34 56.5h1.04"/>
<path stroke="#0000b8" d="M35 56.5h1.04"/>
<path stroke="#0000ba" d="M36 56.5h2.04"/>
<path stroke="#0000bc" d="M38 56.5h1.04"/>
<path stroke="#0000be" d="M39 56.5h2"/>
<path stroke="#0000ca" d="M0 57.5h1.04"/>
<path stroke="#0000c2" d="M1 57.5h1.04"/>
<path stroke="#0000ba" d="M2 57.5h1.04"/>
<path stroke="#0000b2" d="M3 57.5h1.04"/>
<path stroke="#0000aa" d="M4 57.5h1.04"/>
<path stroke="#0000a2" d="M5 57.5h1.04"/>
<path stroke="#000098" d="M6 57.5h1.04"/>
<path stroke="#000090" d="M7 57.5h1.04"/>
<path stroke="#000088" d="M8 57.5h1.04"/>
<path stroke="#000080" d="M9 57.5h1.04"/>
<path stroke="#00007a" d="M10 57.5h1.04"/>
<path stroke="#000074" d="M11 57.5h1.04"/>
<path stroke="#000070" d="M12 57.5h1.04"/>
<path stroke="#00006a" d="M13 57.5h1.04"/>
<path stroke="#000066" d="M14 57.5h1.04"/>
<path stroke="#000062" d="M15 57.5h1.04"/>
<path stroke="#000060" d="M16 57.5h1.04"/>
<path stroke="#00005c" d="M17 57.5h1.04"/>
<path stroke="#00005a" d="M18 57.5h1.04"/>
<path stroke="#000058" d="M19 57.5h1.04"/>
<path stroke="#000056" d="M20 57.5h2.04"/>
<path stroke="#000054" d="M22 57.5h2.04"/>
<path stroke="#000052" d="M24 57.5h2.04"/>
<path stroke="#000050" d="M26 57.5h3.04"/>
<path stroke="#0000a2" d="M29 57.5h1.04"/>
<path stroke="#0000a4" d="M30 57.5h1.04"/>
<path stroke="#0000a8" d="M31 57.5h1.04"/>
<path stroke="#0000aa" d="M32 57.5h1.04"/>
<path stroke="#0000ac" d="M33 57.5h1.04"/>
<path stroke="#0000ae" d="M34 57.5h1.04"/>
<path stroke="#0000b0" d="M35 57.5h1.04"/>
<path stroke="#0000b2" d="M36 57.5h1.04"/>
<path stroke="#0000b4" d="M37 57.5h1.04"/>
<path stroke="#0000b6" d="M38 57.5h2.04"/>
<path stroke="#0000b8" d="M40 57.5h1"/>
<path stroke="#0000ca" d="M0 58.5h1.04"/>
<path stroke="#0000c0" d="M1 58.5h1.04"/>
<path stroke="#0000b8" d="M2 58.5h1.04"/>
<path stroke="#0000b0" d="M3 58.5h1.04"/>
<path stroke="#0000a8" d="M4 58.5h1.04"/>
<path stroke="#00009e" d="M5 58.5h1.04"/>
<path stroke="#000096" d="M6 58.5h1.04"/>
<path stroke="#00008c" d="M7 58.5h1.04"/>
<path stroke="#000084" d="M8 58.5h1.04"/>
<path stroke="#00007c" d="M9 58.5h1.04"/>
<path stroke="#000076" d="M10 58.5h1.04"/>
<path stroke="#000072" d="M11 58.5h1.04"/>
<path stroke="#00006c" d="M12 58.5h1.04"/>
<path stroke="#000068" d="M13 58.5h1.04"/>
<path stroke="#000064" d="M14 58.5h1.04"/>
<path stroke="#000060" d="M15 58.5h1.04"/>
<path stroke="#00005e" d="M16 58.5h1.04"/>
<path stroke="#00005a" d="M17 58.5h1.04"/>
<path stroke="#000058" d="M18 58.5h1.04"/>
<path stroke="#000056" d="M19 58.5h2.04"/>
<path stroke="#000054" d="M21 58.5h2.04"/>
<path stroke="#000052" d="M23 58.5h3.04"/>
<path stroke="#000050" d="M26 58.5h4.04"/>
<path stroke="#00009c" d="M30 58.5h1.04"/>
<path stroke="#0000a0" d="M31 58.5h1.04"/>
<path stroke="#0000a2" d="M32 58.5h1.04"/>
<path stroke="#0000a4" d="M33 58.5h1.04"/>
<path stroke="#0000a6" d="M34 58.5h1.04"/>
<path stroke="#0000aa" d="M35 58.5h1.04"/>
<path stroke="#0000ac" d="M36 58.5h1.04"/>
<path stroke="#0000ae" d="M37 58.5h2.04"/>
<path stroke="#0000b0" d="M39 58.5h1.04"/>
<path stroke="#0000b2" d="M40 58.5h1"/>
<path stroke="#0000c8" d="M0 59.5h1.04"/>
<path stroke="#0000c0" d="M1 59.5h1.04"/>
<path stroke="#0000b6" d="M2 59.5h1.04"/>
<path stroke="#0000ae" d="M3 59.5h1.04"/>
<path stroke="#0000a6" d="M4 59.5h1.04"/>
<path stroke="#00009c" d="M5 59.5h1.04"/>
<path stroke="#000094" d="M6 59.5h1.04"/>
<path stroke="#00008a" d="M7 59.5h1.04"/>
<path stroke="#000082" d="M8 59.5h1.04"/>
<path stroke="#00007a" d="M9 59.5h1.04"/>
<path stroke="#000074" d="M10 59.5h1.04"/>
<path stroke="#000070" d="M11 59.5h1.04"/>
<path stroke="#00006a" d="M12 59.5h1.04"/>
<path stroke="#000066" d="M13 59.5h1.04"/>
<path stroke="#000062" d="M14 59.5h1.04"/>
<path stroke="#000060" d="M15 59.5h1.04"/>
<path stroke="#00005c" d="M16 59.5h1.04"/>
<path stroke="#00005a" d="M17 59.5h1.04"/>
<path stroke="#000058" d="M18 59.5h1.04"/>
<path stroke="#000056" d="M19 59.5h1.04"/>
<path stroke="#000054" d="M20 59.5h2.04"/>
<path stroke="#000052" d="M22 59.5h3.04"/>
<path stroke="#000050" d="M25 59.5h7.04"/>
<path stroke="#00009a" d="M32 59.5h1.04"/>
<path stroke="#00009c" d="M33 59.5h1.04"/>
<path stroke="#0000a0" d="M34 59.5h1.04"/>
<path stroke="#0000a2" d="M35 59.5h1.04"/>
<path stroke="#0000a4" d="M36 59.5h1.04"/>
<path stroke="#0000a6" d="M37 59.5h1.04"/>
<path stroke="#0000a8" d="M38 59.5h1.04"/>
<path stroke="#0000aa" d="M39 59.5h1.04"/>
<path stroke="#0000ac" d="M40 59.5h1"/>
<path stroke="#0000c8" d="M0 60.5h1.04"/>
<path stroke="#0000be" d="M1 60.5h1.04"/>
<path stroke="#0000b4" d="M2 60.5h1.04"/>
<path stroke="#0000ac" d="M3 60.5h1.04"/>
<path stroke="#0000a4" d="M4 60.5h1.04"/>
<path stroke="#00009a" d="M5 60.5h1.04"/>
<path stroke="#000092" d="M6 60.5h1.04"/>
<path stroke="#000088" d="M7 60.5h1.04"/>
<path stroke="#00007e" d="M8 60.5h1.04"/>
<path stroke="#000078" d="M9 60.5h1.04"/>
<path stroke="#000072" d="M10 60.5h1.04"/>
<path stroke="#00006c" d="M11 60.5h1.04"/>
<path stroke="#000068" d="M12 60.5h1.04"/>
<path stroke="#000064" d="M13 60.5h1.04"/>
<path stroke="#000060" d="M14 60.5h1.04"/>
<path stroke="#00005e" d="M15 60.5h1.04"/>
<path stroke="#00005a" d="M16 60.5h1.04"/>
<path stroke="#000058" d="M17 60.5h1.04"/>
<path stroke="#000056" d="M18 60.5h1.04"/>
<path stroke="#000054" d="M19 60.5h2.04"/>
<path stroke="#000052" d="M21 60.5h3.04"/>
<path stroke="#000050" d="M24 60.5h9.04"/>
<path stroke="#000094" d="M33 60.5h1.04"/>
<path stroke="#000098" d="M34 60.5h1.04"/>
<path stroke="#00009a" d="M35 60.5h1.04"/>
<path stroke="#00009c" d="M36 60.5h1.04"/>
<path stroke="#0000a0" d="M37 60.5h1.04"/>
<path stroke="#0000a2" d="M38 60.5h1.04"/>
<path stroke="#0000a4" d="M39 60.5h1.04"/>
<path stroke="#0000a6" d="M40 60.5h1"/>
<path stroke="#0000c6" d="M0 61.5h1.04"/>
<path stroke="#0000bc" d="M1 61.5h1.04"/>
<path stroke="#0000b4" d="M2 61.5h1.04"/>
<path stroke="#0000aa" d="M3 61.5h1.04"/>
<path stroke="#0000a2" d="M4 61.5h1.04"/>
<path stroke="#000098" d="M5 61.5h1.04"/>
<path stroke="#000090" d="M6 61.5h1.04"/>
<path stroke="#000086" d="M7 61.5h1.04"/>
<path stroke="#00007c" d="M8 61.5h1.04"/>
<path stroke="#000076" d="M9 61.5h1.04"/>
<path stroke="#000070" d="M10 61.5h1.04"/>
<path stroke="#00006c" d="M11 61.5h1.04"/>
<path stroke="#000066" d="M12 61.5h1.04"/>
<path stroke="#000062" d="M13 61.5h1.04"/>
<path stroke="#000060" d="M14 61.5h1.04"/>
<path stroke="#00005c" d="M15 61.5h1.04"/>
<path stroke="#00005a" d="M16 61.5h1.04"/>
<path stroke="#000056" d="M17 61.5h1.04"/>
<path stroke="#000054" d="M18 61.5h2.04"/>
<path stroke="#000052" d="M20 61.5h3.04"/>
<path stroke="#000050" d="M23 61.5h12.04"/>
<path stroke="#000092" d="M35 61.5h1.04"/>
<path stroke="#000096" d="M36 61.5h1.04"/>
<path stroke="#000098" d="M37 61.5h1.04"/>
<path stroke="#00009c" d="M38 61.5h1.04"/>
<path stroke="#00009e" d="M39 61.5h1.04"/>
<path stroke="#0000a0" d="M40 61.5h1"/>
<path stroke="#0000c6" d="M0 62.5h1.04"/>
<path stroke="#0000bc" d="M1 62.5h1.04"/>
<path stroke="#0000b2" d="M2 62.5h1.04"/>
<path stroke="#0000a8" d="M3 62.5h1.04"/>
<path stroke="#0000a0" d="M4 62.5h1.04"/>
<path stroke="#000096" d="M5 62.5h1.04"/>
<path stroke="#00008e" d="M6 62.5h1.04"/>
<path stroke="#000084" d="M7 62.5h1.04"/>
<path stroke="#00007a" d="M8 62.5h1.04"/>
<path stroke="#000074" d="M9 62.5h1.04"/>
<path stroke="#00006e" d="M10 62.5h1.04"/>
<path stroke="#00006a" d="M11 62.5h1.04"/>
<path stroke="#000066" d="M12 62.5h1.04"/>
<path stroke="#000062" d="M13 62.5h1.04"/>
<path stroke="#00005e" d="M14 62.5h1.04"/>
<path stroke="#00005a" d="M15 62.5h1.04"/>
<path stroke="#000058" d="M16 62.5h1.04"/>
<path stroke="#000056" d="M17 62.5h1.04"/>
<path stroke="#000054" d="M18 62.5h1.04"/>
<path stroke="#000052" d="M19 62.5h3.04"/>
<path stroke="#000050" d="M22 62.5h6.04"/>
<path stroke="#00004e" d="M28 62.5h10.04"/>
<path stroke="#000094" d="M38 62.5h1.04"/>
<path stroke="#000098" d="M39 62.5h1.04"/>
<path stroke="#00009a" d="M40 62.5h1"/>
<path stroke="#0000c4" d="M0 63.5h1.04"/>
<path stroke="#0000ba" d="M1 63.5h1.04"/>
<path stroke="#0000b0" d="M2 63.5h1.04"/>
<path stroke="#0000a8" d="M3 63.5h1.04"/>
<path stroke="#00009e" d="M4 63.5h1.04"/>
<path stroke="#000094" d="M5 63.5h1.04"/>
<path stroke="#00008c" d="M6 63.5h1.04"/>
<path stroke="#000082" d="M7 63.5h1.04"/>
<path stroke="#00007a" d="M8 63.5h1.04"/>
<path stroke="#000072" d="M9 63.5h1.04"/>
<path stroke="#00006c" d="M10 63.5h1.04"/>
<path stroke="#000068" d="M11 63.5h1.04"/>
<path stroke="#000064" d="M12 63.5h1.04"/>
<path stroke="#000060" d="M13 63.5h1.04"/>
<path stroke="#00005c" d="M14 63.5h1.04"/>
<path stroke="#00005a" d="M15 63.5h1.04"/>
<path stroke="#000056" d="M16 63.5h1.04"/>
<path stroke="#000054" d="M17 63.5h1.04"/>
<path stroke="#000052" d="M18 63.5h2.04"/>
<path stroke="#000050" d="M20 63.5h5.04"/>
<path stroke="#00004e" d="M25 63.5h15.04"/>
<path stroke="#000094" d="M40 63.5h1"/>
<path stroke="#0000c4" d="M0 64.5h1.04"/>
<path stroke="#0000ba" d="M1 64.5h1.04"/>
<path stroke="#0000b0" d="M2 64.5h1.04"/>
<path stroke="#0000a6" d="M3 64.5h1.04"/>
<path stroke="#00009c" d="M4 64.5h1.04"/>
<path stroke="#000094" d="M5 64.5h1.04"/>
<path stroke="#00008a" d="M6 64.5h1.04"/>
<path stroke="#000080" d="M7 64.5h1.04"/>
<path stroke="#000078" d="M8 64.5h1.04"/>
<path stroke="#000070" d="M9 64.5h1.04"/>
<path stroke="#00006a" d="M10 64.5h1.04"/>
<path stroke="#000066" d="M11 64.5h1.04"/>
<path stroke="#000062" d="M12 64.5h1.04"/>
<path stroke="#00005e" d="M13 64.5h1.04"/>
<path stroke="#00005c" d="M14 64.5h1.04"/>
<path stroke="#000058" d="M15 64.5h1.04"/>
<path stroke="#000056" d="M16 64.5h1.04"/>
<path stroke="#000054" d="M17 64.5h1.04"/>
<path stroke="#000052" d="M18 64.5h1.04"/>
<path stroke="#000050" d="M19 64.5h4.04"/>
<path stroke="#00004e" d="M23 64.5h18"/>
<path stroke="#0000c2" d="M0 65.5h1.04"/>
<path stroke="#0000b8" d="M1 65.5h1.04"/>
<path stroke="#0000ae" d="M2 65.5h1.04"/>
<path stroke="#0000a6" d="M3 65.5h1.04"/>
<path stroke="#00009c" d="M4 65.5h1.04"/>
<path stroke="#000092" d="M5 65.5h1.04"/>
<path stroke="#000088" d="M6 65.5h1.04"/>
<path stroke="#00007e" d="M7 65.5h1.04"/>
<path stroke="#000076" d="M8 65.5h1.04"/>
<path stroke="#00006e" d="M9 65.5h1.04"/>
<path stroke="#000068" d="M10 65.5h1.04"/>
<path stroke="#000064" d="M11 65.5h1.04"/>
<path stroke="#000062" d="M12 65.5h1.04"/>
<path stroke="#00005e" d="M13 65.5h1.04"/>
<path stroke="#00005a" d="M14 65.5h1.04"/>
<path stroke="#000058" d="M15 65.5h1.04"/>
<path stroke="#000056" d="M16 65.5h1.04"/>
<path stroke="#000052" d="M17 65.5h2.04"/>
<path stroke="#000050" d="M19 65.5h2.04"/>
<path stroke="#00004e" d="M21 65.5h4.04"/>
<path stroke="#00004c" d="M25 65.5h16"/>
<path stroke="#0000c0" d="M0 66.5h1.04"/>
<path stroke="#0000b6" d="M1 66.5h1.04"/>
<path stroke="#0000ae" d="M2 66.5h1.04"/>
<path stroke="#0000a4" d="M3 66.5h1.04"/>
<path stroke="#00009a" d="M4 66.5h1.04"/>
<path stroke="#000090" d="M5 66.5h1.04"/>
<path stroke="#000088" d="M6 66.5h1.04"/>
<path stroke="#00007e" d="M7 66.5h1.04"/>
<path stroke="#000074" d="M8 66.5h1.04"/>
<path stroke="#00006c" d="M9 66.5h1.04"/>
<path stroke="#000068" d="M10 66.5h1.04"/>
<path stroke="#000064" d="M11 66.5h1.04"/>
<path stroke="#000060" d="M12 66.5h1.04"/>
<path stroke="#00005c" d="M13 66.5h1.04"/>
<path stroke="#00005a" d="M14 66.5h1.04"/>
<path stroke="#000056" d="M15 66.5h1.04"/>
<path stroke="#000054" d="M16 66.5h1.04"/>
<path stroke="#000052" d="M17 66.5h1.04"/>
<path stroke="#000050" d="M18 66.5h2.04"/>
<path stroke="#00004e" d="M20 66.5h3.04"/>
<path stroke="#00004c" d="M23 66.5h7.04"/>
<path stroke="#00004a" d="M30 66.5h11"/>
<path stroke="#0000c0" d="M0 67.5h1.04"/>
<path stroke="#0000b6" d="M1 67.5h1.04"/>
<path stroke="#0000ac" d="M2 67.5h1.04"/>
<path stroke="#0000a2" d="M3 67.5h1.04"/>
<path stroke="#000098" d="M4 67.5h1.04"/>
<path stroke="#000090" d="M5 67.5h1.04"/>
<path stroke="#000086" d="M6 67.5h1.04"/>
<path stroke="#00007c" d="M7 67.5h1.04"/>
<path stroke="#000074" d="M8 67.5h1.04"/>
<path stroke="#00006c" d="M9 67.5h1.04"/>
<path stroke="#000066" d="M10 67.5h1.04"/>
<path stroke="#000062" d="M11 67.5h1.04"/>
<path stroke="#00005e" d="M12 67.5h1.04"/>
<path stroke="#00005c" d="M13 67.5h1.04"/>
<path stroke="#000058" d="M14 67.5h1.04"/>
<path stroke="#000056" d="M15 67.5h1.04"/>
<path stroke="#000054" d="M16 67.5h1.04"/>
<path stroke="#000052" d="M17 67.5h1.04"/>
<path stroke="#000050" d="M18 67.5h1.04"/>
<path stroke="#00004e" d="M19 67.5h3.04"/>
<path stroke="#00004c" d="M22 67.5h4.04"/>
<path stroke="#00004a" d="M26 67.5h15"/>
<path stroke="#0000be" d="M0 68.5h1.04"/>
<path stroke="#0000b4" d="M1 68.5h1.04"/>
<path stroke="#0000aa" d="M2 68.5h1.04"/>
<path stroke="#0000a2" d="M3 68.5h1.04"/>
<path stroke="#000098" d="M4 68.5h1.04"/>
<path stroke="#00008e" d="M5 68.5h1.04"/>
<path stroke="#000084" d="M6 68.5h1.04"/>
<path stroke="#00007a" d="M7 68.5h1.04"/>
<path stroke="#000072" d="M8 68.5h1.04"/>
<path stroke="#00006a" d="M9 68.5h1.04"/>
<path stroke="#000064" d="M10 68.5h1.04"/>
<path stroke="#000062" d="M11 68.5h1.04"/>
<path stroke="#00005e" d="M12 68.5h1.04"/>
<path stroke="#00005a" d="M13 68.5h1.04"/>
<path stroke="#000058" d="M14 68.5h1.04"/>
<path stroke="#000054" d="M15 68.5h1.04"/>
<path stroke="#000052" d="M16 68.5h1.04"/>
<path stroke="#000050" d="M17 68.5h2.04"/>
<path stroke="#00004e" d="M19 68.5h2.04"/>
<path stroke="#00004c" d="M21 68.5h3.04"/>
<path stroke="#00004a" d="M24 68.5h17"/>
<path stroke="#0000be" d="M0 69.5h1.04"/>
<path stroke="#0000b4" d="M1 69.5h1.04"/>
<path stroke="#0000aa" d="M2 69.5h1.04"/>
<path stroke="#0000a0" d="M3 69.5h1.04"/>
<path stroke="#000096" d="M4 69.5h1.04"/>
<path stroke="#00008c" d="M5 69.5h1.04"/>
<path stroke="#000084" d="M6 69.5h1.04"/>
<path stroke="#00007a" d="M7 69.5h1.04"/>
<path stroke="#000070" d="M8 69.5h1.04"/>
<path stroke="#00006a" d="M9 69.5h1.04"/>
<path stroke="#000064" d="M10 69.5h1.04"/>
<path stroke="#000060" d="M11 69.5h1.04"/>
<path stroke="#00005c" d="M12 69.5h1.04"/>
<path stroke="#00005a" d="M13 69.5h1.04"/>
<path stroke="#000056" d="M14 69.5h1.04"/>
<path stroke="#000054" d="M15 69.5h1.04"/>
<path stroke="#000052" d="M16 69.5h1.04"/>
<path stroke="#000050" d="M17 69.5h1.04"/>
<path stroke="#00004e" d="M18 69.5h2.04"/>
<path stroke="#00004c" d="M20 69.5h3.04"/>
<path stroke="#00004a" d="M23 69.5h4.04"/>
<path stroke="#000048" d="M27 69.5h14"/>
<path stroke="#0000be" d="M0 70.5h1.04"/>
<path stroke="#0000b2" d="M1 70.5h1.04"/>
<path stroke="#0000a8" d="M2 70.5h1.04"/>
<path stroke="#00009e" d="M3 70.5h1.04"/>
<path stroke="#000094" d="M4 70.5h1.04"/>
<path stroke="#00008c" d="M5 70.5h1.04"/>
<path stroke="#000082" d="M6 70.5h1.04"/>
<path stroke="#000078" d="M7 70.5h1.04"/>
<path stroke="#000070" d="M8 70.5h1.04"/>
<path stroke="#000068" d="M9 70.5h1.04"/>
<path stroke="#000062" d="M10 70.5h1.04"/>
<path stroke="#00005e" d="M11 70.5h1.04"/>
<path stroke="#00005c" d="M12 70.5h1.04"/>
<path stroke="#000058" d="M13 70.5h1.04"/>
<path stroke="#000056" d="M14 70.5h1.04"/>
<path stroke="#000054" d="M15 70.5h1.04"/>
<path stroke="#000052" d="M16 70.5h1.04"/>
<path stroke="#000050" d="M17 70.5h1.04"/>
<path stroke="#00004e" d="M18 70.5h1.04"/>
<path stroke="#00004c" d="M19 70.5h3.04"/>
<path stroke="#00004a" d="M22 70.5h4.04"/>
<path stroke="#000048" d="M26 70.5h15"/>
<path stroke="#0000bc" d="M0 71.5h1.04"/>
<path stroke="#0000b2" d="M1 71.5h1.04"/>
<path stroke="#0000a8" d="M2 71.5h1.04"/>
<path stroke="#00009e" d="M3 71.5h1.04"/>
<path stroke="#000094" d="M4 71.5h1.04"/>
<path stroke="#00008a" d="M5 71.5h1.04"/>
<path stroke="#000080" d="M6 71.5h1.04"/>
<path stroke="#000076" d="M7 71.5h1.04"/>
<path stroke="#00006e" d="M8 71.5h1.04"/>
<path stroke="#000066" d="M9 71.5h1.04"/>
<path stroke="#000062" d="M10 71.5h1.04"/>
<path stroke="#00005e" d="M11 71.5h1.04"/>
<path stroke="#00005a" d="M12 71.5h1.04"/>
<path stroke="#000058" d="M13 71.5h1.04"/>
<path stroke="#000054" d="M14 71.5h1.04"/>
<path stroke="#000052" d="M15 71.5h1.04"/>
<path stroke="#000050" d="M16 71.5h1.04"/>
<path stroke="#00004e" d="M17 71.5h2.04"/>
<path stroke="#00004c" d="M19 71.5h2.04"/>
<path stroke="#00004a" d="M21 71.5h4.04"/>
<path stroke="#000048" d="M25 71.5h16"/>
<path stroke="#0000bc" d="M0 72.5h1.04"/>
<path stroke="#0000b2" d="M1 72.5h1.04"/>
<path stroke="#0000a6" d="M2 72.5h1.04"/>
<path stroke="#00009c" d="M3 72.5h1.04"/>
<path stroke="#000092" d="M4 72.5h1.04"/>
<path stroke="#000088" d="M5 72.5h1.04"/>
<path stroke="#000080" d="M6 72.5h1.04"/>
<path stroke="#000076" d="M7 72.5h1.04"/>
<path stroke="#00006c" d="M8 72.5h1.04"/>
<path stroke="#000066" d="M9 72.5h1.04"/>
<path stroke="#000060" d="M10 72.5h1.04"/>
<path stroke="#00005c" d="M11 72.5h1.04"/>
<path stroke="#00005a" d="M12 72.5h1.04"/>
<path stroke="#000056" d="M13 72.5h1.04"/>
<path stroke="#000054" d="M14 72.5h1.04"/>
<path stroke="#000052" d="M15 72.5h1.04"/>
<path stroke="#000050" d="M16 72.5h1.04"/>
<path stroke="#00004e" d="M17 72.5h1.04"/>
<path stroke="#00004c" d="M18 72.5h2.04"/>
<path stroke="#00004a" d="M20 72.5h5.04"/>
<path stroke="#000048" d="M25 72.5h16"/>
<path stroke="#0000ba" d="M0 73.5h1.04"/>
<path stroke="#0000b0" d="M1 73.5h1.04"/>
<path stroke="#0000a6" d="M2 73.5h1.04"/>
<path stroke="#00009c" d="M3 73.5h1.04"/>
<path stroke="#000092" d="M4 73.5h1.04"/>
<path stroke="#000088" d="M5 73.5h1.04"/>
<path stroke="#00007e" d="M6 73.5h1.04"/>
<path stroke="#000074" d="M7 73.5h1.04"/>
<path stroke="#00006c" d="M8 73.5h1.04"/>
<path stroke="#000064" d="M9 73.5h1.04"/>
<path stroke="#00005e" d="M10 73.5h1.04"/>
<path stroke="#00005c" d="M11 73.5h1.04"/>
<path stroke="#000058" d="M12 73.5h1.04"/>
<path stroke="#000056" d="M13 73.5h1.04"/>
<path stroke="#000054" d="M14 73.5h1.04"/>
<path stroke="#000050" d="M15 73.5h1.04"/>
<path stroke="#00004e" d="M16 73.5h2.04"/>
<path stroke="#00004c" d="M18 73.5h2.04"/>
<path stroke="#00004a" d="M20 73.5h4.04"/>
<path stroke="#000048" d="M24 73.5h17"/>
<path stroke="#0000ba" d="M0 74.5h1.04"/>
<path stroke="#0000b0" d="M1 74.5h1.04"/>
<path stroke="#0000a6" d="M2 74.5h1.04"/>
<path stroke="#00009a" d="M3 74.5h1.04"/>
<path stroke="#000090" d="M4 74.5h1.04"/>
<path stroke="#000086" d="M5 74.5h1.04"/>
<path stroke="#00007c" d="M6 74.5h1.04"/>
<path stroke="#000074" d="M7 74.5h1.04"/>
<path stroke="#00006a" d="M8 74.5h1.04"/>
<path stroke="#000062" d="M9 74.5h1.04"/>
<path stroke="#00005e" d="M10 74.5h1.04"/>
<path stroke="#00005a" d="M11 74.5h1.04"/>
<path stroke="#000058" d="M12 74.5h1.04"/>
<path stroke="#000054" d="M13 74.5h1.04"/>
<path stroke="#000052" d="M14 74.5h1.04"/>
<path stroke="#000050" d="M15 74.5h1.04"/>
<path stroke="#00004e" d="M16 74.5h1.04"/>
<path stroke="#00004c" d="M17 74.5h2.04"/>
<path stroke="#00004a" d="M19 74.5h5.04"/>
<path stroke="#000048" d="M24 74.5h17"/>
<path stroke="#0000ba" d="M0 75.5h1.04"/>
<path stroke="#0000ae" d="M1 75.5h1.04"/>
<path stroke="#0000a4" d="M2 75.5h1.04"/>
<path stroke="#00009a" d="M3 75.5h1.04"/>
<path stroke="#000090" d="M4 75.5h1.04"/>
<path stroke="#000086" d="M5 75.5h1.04"/>
<path stroke="#00007c" d="M6 75.5h1.04"/>
<path stroke="#000072" d="M7 75.5h1.04"/>
<path stroke="#000068" d="M8 75.5h1.04"/>
<path stroke="#000062" d="M9 75.5h1.04"/>
<path stroke="#00005c" d="M10 75.5h1.04"/>
<path stroke="#00005a" d="M11 75.5h1.04"/>
<path stroke="#000056" d="M12 75.5h1.04"/>
<path stroke="#000054" d="M13 75.5h1.04"/>
<path stroke="#000052" d="M14 75.5h1.04"/>
<path stroke="#000050" d="M15 75.5h1.04"/>
<path stroke="#00004e" d="M16 75.5h1.04"/>
<path stroke="#00004c" d="M17 75.5h1.04"/>
<path stroke="#00004a" d="M18 75.5h5.04"/>
<path stroke="#000048" d="M23 75.5h18"/>
<path stroke="#0000b8" d="M0 76.5h1.04"/>
<path stroke="#0000ae" d="M1 76.5h1.04"/>
<path stroke="#0000a4" d="M2 76.5h1.04"/>
<path stroke="#000098" d="M3 76.5h1.04"/>
<path stroke="#00008e" d="M4 76.5h1.04"/>
<path stroke="#000084" d="M5 76.5h1.04"/>
<path stroke="#00007a" d="M6 76.5h1.04"/>
<path stroke="#000070" d="M7 76.5h1.04"/>
<path stroke="#000068" d="M8 76.5h1.04"/>
<path stroke="#000060" d="M9 76.5h1.04"/>
<path stroke="#00005c" d="M10 76.5h1.04"/>
<path stroke="#000058" d="M11 76.5h1.04"/>
<path stroke="#000056" d="M12 76.5h1.04"/>
<path stroke="#000052" d="M13 76.5h1.04"/>
<path stroke="#000050" d="M14 76.5h1.04"/>
<path stroke="#00004e" d="M15 76.5h1.04"/>
<path stroke="#00004c" d="M16 76.5h2.04"/>
<path stroke="#00004a" d="M18 76.5h4.04"/>
<path stroke="#000048" d="M22 76.5h19"/>
<path stroke="#0000b8" d="M0 77.5h1.04"/>
<path stroke="#0000ae" d="M1 77.5h1.04"/>
<path stroke="#0000a2" d="M2 77.5h1.04"/>
<path stroke="#000098" d="M3 77.5h1.04"/>
<path stroke="#00008c" d="M4 77.5h1.04"/>
<path stroke="#000084" d="M5 77.5h1.04"/>
<path stroke="#00007a" d="M6 77.5h1.04"/>
<path stroke="#000070" d="M7 77.5h1.04"/>
<path stroke="#000066" d="M8 77.5h1.04"/>
<path stroke="#000060" d="M9 77.5h1.04"/>
<path stroke="#00005a" d="M10 77.5h1.04"/>
<path stroke="#000058" d="M11 77.5h1.04"/>
<path stroke="#000054" d="M12 77.5h1.04"/>
<path stroke="#000052" d="M13 77.5h1.04"/>
<path stroke="#000050" d="M14 77.5h1.04"/>
<path stroke="#00004e" d="M15 77.5h1.04"/>
<path stroke="#00004c" d="M16 77.5h1.04"/>
<path stroke="#00004a" d="M17 77.5h3.04"/>
<path stroke="#000048" d="M20 77.5h21"/>
<path stroke="#0000b8" d="M0 78.5h1.04"/>
<path stroke="#0000ac" d="M1 78.5h1.04"/>
<path stroke="#0000a2" d="M2 78.5h1.04"/>
<path stroke="#000096" d="M3 78.5h1.04"/>
<path stroke="#00008c" d="M4 78.5h1.04"/>
<path stroke="#000082" d="M5 78.5h1.04"/>
<path stroke="#000078" d="M6 78.5h1.04"/>
<path stroke="#00006e" d="M7 78.5h1.04"/>
<path stroke="#000066" d="M8 78.5h1.04"/>
<path stroke="#00005e" d="M9 78.5h1.04"/>
<path stroke="#00005a" d="M10 78.5h1.04"/>
<path stroke="#000056" d="M11 78.5h1.04"/>
<path stroke="#000054" d="M12 78.5h1.04"/>
<path stroke="#000052" d="M13 78.5h1.04"/>
<path stroke="#000050" d="M14 78.5h1.04"/>
<path stroke="#00004e" d="M15 78.5h1.04"/>
<path stroke="#00004c" d="M16 78.5h1.04"/>
<path stroke="#00004a" d="M17 78.5h2.04"/>
<path stroke="#000048" d="M19 78.5h22"/>
<path stroke="#0000b6" d="M0 79.5h1.04"/>
<path stroke="#0000ac" d="M1 79.5h1.04"/>
<path stroke="#0000a0" d="M2 79.5h1.04"/>
<path stroke="#000096" d="M3 79.5h1.04"/>
<path stroke="#00008a" d="M4 79.5h1.04"/>
<path stroke="#000082" d="M5 79.5h1.04"/>
<path stroke="#000078" d="M6 79.5h1.04"/>
<path stroke="#00006e" d="M7 79.5h1.04"/>
<path stroke="#000064" d="M8 79.5h1.04"/>
<path stroke="#00005c" d="M9 79.5h1.04"/>
<path stroke="#000058" d="M10 79.5h1.04"/>
<path stroke="#000056" d="M11 79.5h1.04"/>
<path stroke="#000052" d="M12 79.5h1.04"/>
<path stroke="#000050" d="M13 79.5h1.04"/>
<path stroke="#00004e" d="M14 79.5h1.04"/>
<path stroke="#00004c" d="M15 79.5h2.04"/>
<path stroke="#00004a" d="M17 79.5h2.04"/>
<path stroke="#000048" d="M19 79.5h22"/>
<path stroke="#0000b6" d="M0 80.5h1.04"/>
<path stroke="#0000aa" d="M1 80.5h1.04"/>
<path stroke="#0000a0" d="M2 80.5h1.04"/>
<path stroke="#000094" d="M3 80.5h1.04"/>
<path stroke="#00008a" d="M4 80.5h1.04"/>
<path stroke="#000080" d="M5 80.5h1.04"/>
<path stroke="#000076" d="M6 80.5h1.04"/>
<path stroke="#00006c" d="M7 80.5h1.04"/>
<path stroke="#000064" d="M8 80.5h1.04"/>
<path stroke="#00005c" d="M9 80.5h1.04"/>
<path stroke="#000058" d="M10 80.5h1.04"/>
<path stroke="#000054" d="M11 80.5h1.04"/>
<path stroke="#000052" d="M12 80.5h1.04"/>
<path stroke="#000050" d="M13 80.5h1.04"/>
<path stroke="#00004e" d="M14 80.5h1.04"/>
<path stroke="#00004c" d="M15 80.5h1.04"/>
<path stroke="#00004a" d="M16 80.5h2.04"/>
<path stroke="#000048" d="M18 80.5h23"/>
</g>
<clipPath id="cb"><rect x="605.2" y="70" width="401.8" height="401.8"/></clipPath>
<path d="M610.78 68.32 L614.11 84.26 L617.44 98.77 L620.77 110.35 L624.1 119.69 L627.43 127.81 L630.76 135.17 L634.09 142.25 L637.42 149.47 L640.76 156.66 L644.09 163.73 L647.42 170.61 L650.75 177.26 L654.08 183.61 L657.41 189.62 L660.74 195.24 L664.07 200.56 L667.4 205.68 L670.73 210.58 L674.06 215.27 L677.39 219.76 L680.72 224.03 L684.05 228.08 L687.38 231.92 L690.71 235.58 L694.04 239.06 L697.37 242.4 L700.7 245.61 L704.03 248.72 L707.36 251.74 L710.69 254.69 L714.03 257.6 L717.36 260.47 L720.69 263.31 L724.02 266.09 L727.35 268.81 L730.68 271.47 L734.01 274.08 L737.34 276.63 L740.67 279.14 L744 281.59 L747.33 283.98 L750.66 286.33 L753.99 288.63 L757.32 290.88 L760.65 293.09 L763.98 295.25 L767.31 297.37 L770.64 299.46 L773.97 301.5 L777.3 303.52 L780.63 305.51 L783.96 307.46 L787.3 309.4 L790.63 311.3 L793.96 313.18 L797.29 315.03 L800.62 316.85 L803.95 318.65 L807.28 320.4 L810.61 322.13 L813.94 323.82 L817.27 325.48 L820.6 327.11 L823.93 328.72 L827.26 330.3 L830.59 331.86 L833.92 333.39 L837.25 334.9 L840.58 336.38 L843.91 337.84 L847.24 339.27 L850.57 340.69 L853.9 342.07 L857.23 343.44 L860.57 344.78 L863.9 346.1 L867.23 347.4 L870.56 348.69 L873.89 349.95 L877.22 351.19 L880.55 352.41 L883.88 353.62 L887.21 354.8 L890.54 355.96 L893.87 357.1 L897.2 358.22 L900.53 359.32 L903.86 360.4 L907.19 361.48 L910.52 362.54 L913.85 363.58 L917.18 364.61 L920.51 365.62 L923.84 366.62 L927.17 367.59 L930.5 368.54 L933.84 369.48 L937.17 370.38 L940.5 371.27 L943.83 372.13 L947.16 372.97 L950.49 373.79 L953.82 374.6 L957.15 375.38 L960.48 376.15 L963.81 376.91 L967.14 377.65 L970.47 378.38 L973.8 379.1 L977.13 379.81 L980.46 380.51 L983.79 381.21 L987.12 381.89 L990.45 382.55 L993.78 383.2 L997.11 383.84 L1000.44 384.47 L1003.77 385.08 L1007.11 385.68" fill="none" stroke="#fff" stroke-width="5.8" stroke-dasharray="37.5 7" clip-path="url(#cb)"/>
<path d="M605.2 471.8V70H1007V471.8" fill="none" stroke="#3a3a3a" stroke-width="1"/>
<line x1="609.8" y1="70" x2="609.8" y2="75" stroke="#3a3a3a" stroke-width="1" />
<line x1="629.42" y1="70" x2="629.42" y2="72.5" stroke="#3a3a3a" stroke-width="1" />
<line x1="649.04" y1="70" x2="649.04" y2="72.5" stroke="#3a3a3a" stroke-width="1" />
<line x1="668.66" y1="70" x2="668.66" y2="72.5" stroke="#3a3a3a" stroke-width="1" />
<line x1="688.28" y1="70" x2="688.28" y2="72.5" stroke="#3a3a3a" stroke-width="1" />
<line x1="707.9" y1="70" x2="707.9" y2="75" stroke="#3a3a3a" stroke-width="1" />
<line x1="727.52" y1="70" x2="727.52" y2="72.5" stroke="#3a3a3a" stroke-width="1" />
<line x1="747.14" y1="70" x2="747.14" y2="72.5" stroke="#3a3a3a" stroke-width="1" />
<line x1="766.76" y1="70" x2="766.76" y2="72.5" stroke="#3a3a3a" stroke-width="1" />
<line x1="786.38" y1="70" x2="786.38" y2="72.5" stroke="#3a3a3a" stroke-width="1" />
<line x1="806" y1="70" x2="806" y2="75" stroke="#3a3a3a" stroke-width="1" />
<line x1="825.62" y1="70" x2="825.62" y2="72.5" stroke="#3a3a3a" stroke-width="1" />
<line x1="845.24" y1="70" x2="845.24" y2="72.5" stroke="#3a3a3a" stroke-width="1" />
<line x1="864.86" y1="70" x2="864.86" y2="72.5" stroke="#3a3a3a" stroke-width="1" />
<line x1="884.48" y1="70" x2="884.48" y2="72.5" stroke="#3a3a3a" stroke-width="1" />
<line x1="904.1" y1="70" x2="904.1" y2="75" stroke="#3a3a3a" stroke-width="1" />
<line x1="923.72" y1="70" x2="923.72" y2="72.5" stroke="#3a3a3a" stroke-width="1" />
<line x1="943.34" y1="70" x2="943.34" y2="72.5" stroke="#3a3a3a" stroke-width="1" />
<line x1="962.96" y1="70" x2="962.96" y2="72.5" stroke="#3a3a3a" stroke-width="1" />
<line x1="982.58" y1="70" x2="982.58" y2="72.5" stroke="#3a3a3a" stroke-width="1" />
<line x1="1002.2" y1="70" x2="1002.2" y2="75" stroke="#3a3a3a" stroke-width="1" />
<line x1="1007" y1="471.8" x2="1002" y2="471.8" stroke="#3a3a3a" stroke-width="1" />
<line x1="1007" y1="451.71" x2="1004.5" y2="451.71" stroke="#3a3a3a" stroke-width="1" />
<line x1="1007" y1="431.62" x2="1004.5" y2="431.62" stroke="#3a3a3a" stroke-width="1" />
<line x1="1007" y1="411.53" x2="1004.5" y2="411.53" stroke="#3a3a3a" stroke-width="1" />
<line x1="1007" y1="391.44" x2="1004.5" y2="391.44" stroke="#3a3a3a" stroke-width="1" />
<line x1="1007" y1="371.35" x2="1002" y2="371.35" stroke="#3a3a3a" stroke-width="1" />
<line x1="1007" y1="351.26" x2="1004.5" y2="351.26" stroke="#3a3a3a" stroke-width="1" />
<line x1="1007" y1="331.17" x2="1004.5" y2="331.17" stroke="#3a3a3a" stroke-width="1" />
<line x1="1007" y1="311.08" x2="1004.5" y2="311.08" stroke="#3a3a3a" stroke-width="1" />
<line x1="1007" y1="290.99" x2="1004.5" y2="290.99" stroke="#3a3a3a" stroke-width="1" />
<line x1="1007" y1="270.9" x2="1002" y2="270.9" stroke="#3a3a3a" stroke-width="1" />
<line x1="1007" y1="250.81" x2="1004.5" y2="250.81" stroke="#3a3a3a" stroke-width="1" />
<line x1="1007" y1="230.72" x2="1004.5" y2="230.72" stroke="#3a3a3a" stroke-width="1" />
<line x1="1007" y1="210.63" x2="1004.5" y2="210.63" stroke="#3a3a3a" stroke-width="1" />
<line x1="1007" y1="190.54" x2="1004.5" y2="190.54" stroke="#3a3a3a" stroke-width="1" />
<line x1="1007" y1="170.45" x2="1002" y2="170.45" stroke="#3a3a3a" stroke-width="1" />
<line x1="1007" y1="150.36" x2="1004.5" y2="150.36" stroke="#3a3a3a" stroke-width="1" />
<line x1="1007" y1="130.27" x2="1004.5" y2="130.27" stroke="#3a3a3a" stroke-width="1" />
<line x1="1007" y1="110.18" x2="1004.5" y2="110.18" stroke="#3a3a3a" stroke-width="1" />
<line x1="1007" y1="90.09" x2="1004.5" y2="90.09" stroke="#3a3a3a" stroke-width="1" />
<line x1="1007" y1="70" x2="1002" y2="70" stroke="#3a3a3a" stroke-width="1" />
<text x="596.8" y="80" font-size="28" text-anchor="end" >0.4</text>
<text x="596.8" y="180.45" font-size="28" text-anchor="end" >0.35</text>
<text x="596.8" y="280.9" font-size="28" text-anchor="end" >0.3</text>
<text x="596.8" y="381.35" font-size="28" text-anchor="end" >0.25</text>
<text x="596.8" y="481.8" font-size="28" text-anchor="end" >0.2</text>
<text x="610.5" y="504.2" font-size="28" text-anchor="middle" >100</text>
<text x="707.3" y="504.2" font-size="28" text-anchor="middle" >200</text>
<text x="805.5" y="504.2" font-size="28" text-anchor="middle" >300</text>
<text x="903.6" y="504.2" font-size="28" text-anchor="middle" >400</text>
<text x="991.5" y="504.2" font-size="28" text-anchor="middle" >500</text>
<text x="806.5" y="546" font-size="28.2" text-anchor="middle" >U [meV]</text>
<text transform="translate(541.5,271) rotate(-90)" font-size="28" text-anchor="middle" >r<tspan font-size="15.5" dy="4.5">TF</tspan><tspan dy="-4.5"> [a]</tspan></text>
<text x="515.5" y="31" font-size="37" text-anchor="start" >(b)</text>
<text x="577.5" y="30.5" font-size="40" text-anchor="start" font-style="italic">J</text>
<text x="597" y="37" font-size="22" text-anchor="start" >1</text>
<text x="612.5" y="33" font-size="42" text-anchor="start" >/</text>
<text x="631" y="30.5" font-size="40" text-anchor="start" font-style="italic">J</text>
<text x="652" y="15.5" font-size="22" text-anchor="start" >0</text>
<text x="652.5" y="40.5" font-size="22" text-anchor="start" >1</text>
<linearGradient id="gb" x1="0" x2="1" y1="0" y2="0"><stop offset="0" stop-color="#000048"/><stop offset="0.04" stop-color="#000067"/><stop offset="0.08" stop-color="#000086"/><stop offset="0.12" stop-color="#0000a5"/><stop offset="0.17" stop-color="#0000c1"/><stop offset="0.21" stop-color="#0000de"/><stop offset="0.25" stop-color="#0000fa"/><stop offset="0.29" stop-color="#0d0dfe"/><stop offset="0.33" stop-color="#1919ff"/><stop offset="0.38" stop-color="#2626ff"/><stop offset="0.42" stop-color="#3232ff"/><stop offset="0.46" stop-color="#3e3eff"/><stop offset="0.5" stop-color="#4b4bff"/><stop offset="0.54" stop-color="#5959ff"/><stop offset="0.58" stop-color="#6767ff"/><stop offset="0.62" stop-color="#7676ff"/><stop offset="0.67" stop-color="#8484ff"/><stop offset="0.71" stop-color="#9292ff"/><stop offset="0.75" stop-color="#a0a0ff"/><stop offset="0.79" stop-color="#afafff"/><stop offset="0.83" stop-color="#bebeff"/><stop offset="0.88" stop-color="#cdcdff"/><stop offset="0.92" stop-color="#dcdcff"/><stop offset="0.96" stop-color="#ebebff"/><stop offset="1" stop-color="#fafaff"/></linearGradient>
<rect x="682.5" y="10.5" width="319.5" height="16.8" fill="url(#gb)" stroke="#3a3a3a" stroke-width="1"/>
<line x1="682.5" y1="10.5" x2="682.5" y2="14.5" stroke="#3a3a3a" stroke-width="0.8" />
<line x1="682.5" y1="27.3" x2="682.5" y2="23.3" stroke="#3a3a3a" stroke-width="0.8" />
<line x1="698.48" y1="10.5" x2="698.48" y2="12.5" stroke="#3a3a3a" stroke-width="0.8" />
<line x1="698.48" y1="27.3" x2="698.48" y2="25.3" stroke="#3a3a3a" stroke-width="0.8" />
<line x1="714.45" y1="10.5" x2="714.45" y2="12.5" stroke="#3a3a3a" stroke-width="0.8" />
<line x1="714.45" y1="27.3" x2="714.45" y2="25.3" stroke="#3a3a3a" stroke-width="0.8" />
<line x1="730.42" y1="10.5" x2="730.42" y2="12.5" stroke="#3a3a3a" stroke-width="0.8" />
<line x1="730.42" y1="27.3" x2="730.42" y2="25.3" stroke="#3a3a3a" stroke-width="0.8" />
<line x1="746.4" y1="10.5" x2="746.4" y2="12.5" stroke="#3a3a3a" stroke-width="0.8" />
<line x1="746.4" y1="27.3" x2="746.4" y2="25.3" stroke="#3a3a3a" stroke-width="0.8" />
<line x1="762.38" y1="10.5" x2="762.38" y2="14.5" stroke="#3a3a3a" stroke-width="0.8" />
<line x1="762.38" y1="27.3" x2="762.38" y2="23.3" stroke="#3a3a3a" stroke-width="0.8" />
<line x1="778.35" y1="10.5" x2="778.35" y2="12.5" stroke="#3a3a3a" stroke-width="0.8" />
<line x1="778.35" y1="27.3" x2="778.35" y2="25.3" stroke="#3a3a3a" stroke-width="0.8" />
<line x1="794.33" y1="10.5" x2="794.33" y2="12.5" stroke="#3a3a3a" stroke-width="0.8" />
<line x1="794.33" y1="27.3" x2="794.33" y2="25.3" stroke="#3a3a3a" stroke-width="0.8" />
<line x1="810.3" y1="10.5" x2="810.3" y2="12.5" stroke="#3a3a3a" stroke-width="0.8" />
<line x1="810.3" y1="27.3" x2="810.3" y2="25.3" stroke="#3a3a3a" stroke-width="0.8" />
<line x1="826.27" y1="10.5" x2="826.27" y2="12.5" stroke="#3a3a3a" stroke-width="0.8" />
<line x1="826.27" y1="27.3" x2="826.27" y2="25.3" stroke="#3a3a3a" stroke-width="0.8" />
<line x1="842.25" y1="10.5" x2="842.25" y2="14.5" stroke="#3a3a3a" stroke-width="0.8" />
<line x1="842.25" y1="27.3" x2="842.25" y2="23.3" stroke="#3a3a3a" stroke-width="0.8" />
<line x1="858.23" y1="10.5" x2="858.23" y2="12.5" stroke="#3a3a3a" stroke-width="0.8" />
<line x1="858.23" y1="27.3" x2="858.23" y2="25.3" stroke="#3a3a3a" stroke-width="0.8" />
<line x1="874.2" y1="10.5" x2="874.2" y2="12.5" stroke="#3a3a3a" stroke-width="0.8" />
<line x1="874.2" y1="27.3" x2="874.2" y2="25.3" stroke="#3a3a3a" stroke-width="0.8" />
<line x1="890.17" y1="10.5" x2="890.17" y2="12.5" stroke="#3a3a3a" stroke-width="0.8" />
<line x1="890.17" y1="27.3" x2="890.17" y2="25.3" stroke="#3a3a3a" stroke-width="0.8" />
<line x1="906.15" y1="10.5" x2="906.15" y2="12.5" stroke="#3a3a3a" stroke-width="0.8" />
<line x1="906.15" y1="27.3" x2="906.15" y2="25.3" stroke="#3a3a3a" stroke-width="0.8" />
<line x1="922.12" y1="10.5" x2="922.12" y2="14.5" stroke="#3a3a3a" stroke-width="0.8" />
<line x1="922.12" y1="27.3" x2="922.12" y2="23.3" stroke="#3a3a3a" stroke-width="0.8" />
<line x1="938.1" y1="10.5" x2="938.1" y2="12.5" stroke="#3a3a3a" stroke-width="0.8" />
<line x1="938.1" y1="27.3" x2="938.1" y2="25.3" stroke="#3a3a3a" stroke-width="0.8" />
<line x1="954.08" y1="10.5" x2="954.08" y2="12.5" stroke="#3a3a3a" stroke-width="0.8" />
<line x1="954.08" y1="27.3" x2="954.08" y2="25.3" stroke="#3a3a3a" stroke-width="0.8" />
<line x1="970.05" y1="10.5" x2="970.05" y2="12.5" stroke="#3a3a3a" stroke-width="0.8" />
<line x1="970.05" y1="27.3" x2="970.05" y2="25.3" stroke="#3a3a3a" stroke-width="0.8" />
<line x1="986.02" y1="10.5" x2="986.02" y2="12.5" stroke="#3a3a3a" stroke-width="0.8" />
<line x1="986.02" y1="27.3" x2="986.02" y2="25.3" stroke="#3a3a3a" stroke-width="0.8" />
<line x1="1002" y1="10.5" x2="1002" y2="14.5" stroke="#3a3a3a" stroke-width="0.8" />
<line x1="1002" y1="27.3" x2="1002" y2="23.3" stroke="#3a3a3a" stroke-width="0.8" />
<text x="684.5" y="53.8" font-size="21" text-anchor="middle" >0</text>
<text x="762.38" y="53.8" font-size="21" text-anchor="middle" >0.5</text>
<text x="842.25" y="53.8" font-size="21" text-anchor="middle" >1</text>
<text x="922.12" y="53.8" font-size="21" text-anchor="middle" >1.5</text>
<text x="998" y="53.8" font-size="21" text-anchor="middle" >2</text>
<g transform="translate(98,637.2) scale(9.5805,9.5805)" shape-rendering="crispEdges" fill="none" stroke-width="1.08">
<path stroke="#fffa8a" d="M0 0.5h1.04"/>
<path stroke="#fcf02e" d="M1 0.5h1.04"/>
<path stroke="#fee226" d="M2 0.5h1.04"/>
<path stroke="#feda24" d="M3 0.5h1.04"/>
<path stroke="#ffd224" d="M4 0.5h1.04"/>
<path stroke="#ffca26" d="M5 0.5h1.04"/>
<path stroke="#ffc428" d="M6 0.5h1.04"/>
<path stroke="#ffbe2a" d="M7 0.5h1.04"/>
<path stroke="#ffb82a" d="M8 0.5h1.04"/>
<path stroke="#ffb22c" d="M9 0.5h1.04"/>
<path stroke="#feac2e" d="M10 0.5h1.04"/>
<path stroke="#fea82e" d="M11 0.5h1.04"/>
<path stroke="#fea42e" d="M12 0.5h1.04"/>
<path stroke="#fea22e" d="M13 0.5h1.04"/>
<path stroke="#fc9e30" d="M14 0.5h1.04"/>
<path stroke="#fc9c30" d="M15 0.5h1.04"/>
<path stroke="#fc9a30" d="M16 0.5h1.04"/>
<path stroke="#fc9630" d="M17 0.5h1.04"/>
<path stroke="#fc9430" d="M18 0.5h1.04"/>
<path stroke="#fc9230" d="M19 0.5h3.04"/>
<path stroke="#fc9030" d="M22 0.5h3.04"/>
<path stroke="#fa8e32" d="M25 0.5h2.04"/>
<path stroke="#fa8c32" d="M27 0.5h3.04"/>
<path stroke="#fa8a32" d="M30 0.5h2.04"/>
<path stroke="#fa8832" d="M32 0.5h4.04"/>
<path stroke="#fa8632" d="M36 0.5h5"/>
<path stroke="#fffc94" d="M0 1.5h1.04"/>
<path stroke="#fcf240" d="M1 1.5h1.04"/>
<path stroke="#fee426" d="M2 1.5h1.04"/>
<path stroke="#fedc24" d="M3 1.5h1.04"/>
<path stroke="#fed624" d="M4 1.5h1.04"/>
<path stroke="#ffce24" d="M5 1.5h1.04"/>
<path stroke="#ffc626" d="M6 1.5h1.04"/>
<path stroke="#ffc028" d="M7 1.5h1.04"/>
<path stroke="#ffba2a" d="M8 1.5h1.04"/>
<path stroke="#ffb42c" d="M9 1.5h1.04"/>
<path stroke="#ffb02c" d="M10 1.5h1.04"/>
<path stroke="#feac2e" d="M11 1.5h1.04"/>
<path stroke="#fea82e" d="M12 1.5h1.04"/>
<path stroke="#fea42e" d="M13 1.5h1.04"/>
<path stroke="#fea22e" d="M14 1.5h1.04"/>
<path stroke="#fc9e30" d="M15 1.5h1.04"/>
<path stroke="#fc9c30" d="M16 1.5h1.04"/>
<path stroke="#fc9830" d="M17 1.5h1.04"/>
<path stroke="#fc9630" d="M18 1.5h1.04"/>
<path stroke="#fc9430" d="M19 1.5h3.04"/>
<path stroke="#fc9230" d="M22 1.5h2.04"/>
<path stroke="#fc9030" d="M24 1.5h3.04"/>
<path stroke="#fa8e32" d="M27 1.5h3.04"/>
<path stroke="#fa8c32" d="M30 1.5h2.04"/>
<path stroke="#fa8a32" d="M32 1.5h2.04"/>
<path stroke="#fa8832" d="M34 1.5h5.04"/>
<path stroke="#fa8632" d="M39 1.5h2"/>
<path stroke="#fffc96" d="M0 2.5h1.04"/>
<path stroke="#fef656" d="M1 2.5h1.04"/>
<path stroke="#fce826" d="M2 2.5h1.04"/>
<path stroke="#fede24" d="M3 2.5h1.04"/>
<path stroke="#fed824" d="M4 2.5h1.04"/>
<path stroke="#ffd024" d="M5 2.5h1.04"/>
<path stroke="#ffca26" d="M6 2.5h1.04"/>
<path stroke="#ffc428" d="M7 2.5h1.04"/>
<path stroke="#ffbe2a" d="M8 2.5h1.04"/>
<path stroke="#ffb82a" d="M9 2.5h1.04"/>
<path stroke="#ffb22c" d="M10 2.5h1.04"/>
<path stroke="#feae2e" d="M11 2.5h1.04"/>
<path stroke="#feaa2e" d="M12 2.5h1.04"/>
<path stroke="#fea62e" d="M13 2.5h1.04"/>
<path stroke="#fea42e" d="M14 2.5h1.04"/>
<path stroke="#fea22e" d="M15 2.5h1.04"/>
<path stroke="#fc9e30" d="M16 2.5h1.04"/>
<path stroke="#fc9c30" d="M17 2.5h1.04"/>
<path stroke="#fc9830" d="M18 2.5h1.04"/>
<path stroke="#fc9630" d="M19 2.5h3.04"/>
<path stroke="#fc9430" d="M22 2.5h2.04"/>
<path stroke="#fc9230" d="M24 2.5h3.04"/>
<path stroke="#fc9030" d="M27 2.5h2.04"/>
<path stroke="#fa8e32" d="M29 2.5h2.04"/>
<path stroke="#fa8c32" d="M31 2.5h3.04"/>
<path stroke="#fa8a32" d="M34 2.5h3.04"/>
<path stroke="#fa8832" d="M37 2.5h4"/>
<path stroke="#fffa8c" d="M0 3.5h1.04"/>
<path stroke="#fef86e" d="M1 3.5h1.04"/>
<path stroke="#fcec28" d="M2 3.5h1.04"/>
<path stroke="#fee026" d="M3 3.5h1.04"/>
<path stroke="#feda24" d="M4 3.5h1.04"/>
<path stroke="#ffd424" d="M5 3.5h1.04"/>
<path stroke="#ffcc26" d="M6 3.5h1.04"/>
<path stroke="#ffc626" d="M7 3.5h1.04"/>
<path stroke="#ffc028" d="M8 3.5h1.04"/>
<path stroke="#ffba2a" d="M9 3.5h1.04"/>
<path stroke="#ffb62c" d="M10 3.5h1.04"/>
<path stroke="#ffb22c" d="M11 3.5h1.04"/>
<path stroke="#feae2e" d="M12 3.5h1.04"/>
<path stroke="#feaa2e" d="M13 3.5h1.04"/>
<path stroke="#fea82e" d="M14 3.5h1.04"/>
<path stroke="#fea42e" d="M15 3.5h1.04"/>
<path stroke="#fea22e" d="M16 3.5h1.04"/>
<path stroke="#fc9e30" d="M17 3.5h1.04"/>
<path stroke="#fc9a30" d="M18 3.5h2.04"/>
<path stroke="#fc9830" d="M20 3.5h2.04"/>
<path stroke="#fc9630" d="M22 3.5h2.04"/>
<path stroke="#fc9430" d="M24 3.5h3.04"/>
<path stroke="#fc9230" d="M27 3.5h2.04"/>
<path stroke="#fc9030" d="M29 3.5h2.04"/>
<path stroke="#fa8e32" d="M31 3.5h2.04"/>
<path stroke="#fa8c32" d="M33 3.5h3.04"/>
<path stroke="#fa8a32" d="M36 3.5h5"/>
<path stroke="#fffa78" d="M0 4.5h1.04"/>
<path stroke="#fffa84" d="M1 4.5h1.04"/>
<path stroke="#fcf030" d="M2 4.5h1.04"/>
<path stroke="#fee426" d="M3 4.5h1.04"/>
<path stroke="#fedc24" d="M4 4.5h1.04"/>
<path stroke="#fed624" d="M5 4.5h1.04"/>
<path stroke="#ffd024" d="M6 4.5h1.04"/>
<path stroke="#ffc826" d="M7 4.5h1.04"/>
<path stroke="#ffc228" d="M8 4.5h1.04"/>
<path stroke="#ffbe2a" d="M9 4.5h1.04"/>
<path stroke="#ffb82a" d="M10 4.5h1.04"/>
<path stroke="#ffb42c" d="M11 4.5h1.04"/>
<path stroke="#ffb02c" d="M12 4.5h1.04"/>
<path stroke="#feae2e" d="M13 4.5h1.04"/>
<path stroke="#feaa2e" d="M14 4.5h1.04"/>
<path stroke="#fea82e" d="M15 4.5h1.04"/>
<path stroke="#fea42e" d="M16 4.5h1.04"/>
<path stroke="#fea02e" d="M17 4.5h1.04"/>
<path stroke="#fc9e30" d="M18 4.5h1.04"/>
<path stroke="#fc9c30" d="M19 4.5h2.04"/>
<path stroke="#fc9a30" d="M21 4.5h2.04"/>
<path stroke="#fc9830" d="M23 4.5h2.04"/>
<path stroke="#fc9630" d="M25 4.5h2.04"/>
<path stroke="#fc9430" d="M27 4.5h2.04"/>
<path stroke="#fc9230" d="M29 4.5h2.04"/>
<path stroke="#fc9030" d="M31 4.5h2.04"/>
<path stroke="#fa8e32" d="M33 4.5h3.04"/>
<path stroke="#fa8c32" d="M36 4.5h4.04"/>
<path stroke="#fa8a32" d="M40 4.5h1"/>
<path stroke="#fef65c" d="M0 5.5h1.04"/>
<path stroke="#fffc94" d="M1 5.5h1.04"/>
<path stroke="#fef446" d="M2 5.5h1.04"/>
<path stroke="#fee626" d="M3 5.5h1.04"/>
<path stroke="#fede24" d="M4 5.5h1.04"/>
<path stroke="#fed824" d="M5 5.5h1.04"/>
<path stroke="#ffd224" d="M6 5.5h1.04"/>
<path stroke="#ffcc26" d="M7 5.5h1.04"/>
<path stroke="#ffc626" d="M8 5.5h1.04"/>
<path stroke="#ffc028" d="M9 5.5h1.04"/>
<path stroke="#ffbc2a" d="M10 5.5h1.04"/>
<path stroke="#ffb62a" d="M11 5.5h1.04"/>
<path stroke="#ffb42c" d="M12 5.5h1.04"/>
<path stroke="#ffb02c" d="M13 5.5h1.04"/>
<path stroke="#feae2e" d="M14 5.5h1.04"/>
<path stroke="#feaa2e" d="M15 5.5h1.04"/>
<path stroke="#fea62e" d="M16 5.5h1.04"/>
<path stroke="#fea42e" d="M17 5.5h1.04"/>
<path stroke="#fea02e" d="M18 5.5h1.04"/>
<path stroke="#fc9e30" d="M19 5.5h2.04"/>
<path stroke="#fc9c30" d="M21 5.5h2.04"/>
<path stroke="#fc9a30" d="M23 5.5h2.04"/>
<path stroke="#fc9830" d="M25 5.5h2.04"/>
<path stroke="#fc9630" d="M27 5.5h2.04"/>
<path stroke="#fc9430" d="M29 5.5h2.04"/>
<path stroke="#fc9230" d="M31 5.5h2.04"/>
<path stroke="#fc9030" d="M33 5.5h2.04"/>
<path stroke="#fa8e32" d="M35 5.5h4.04"/>
<path stroke="#fa8c32" d="M39 5.5h2"/>
<path stroke="#fcf23c" d="M0 6.5h1.04"/>
<path stroke="#fffc96" d="M1 6.5h1.04"/>
<path stroke="#fef864" d="M2 6.5h1.04"/>
<path stroke="#fcec28" d="M3 6.5h1.04"/>
<path stroke="#fee226" d="M4 6.5h1.04"/>
<path stroke="#fedc24" d="M5 6.5h1.04"/>
<path stroke="#fed624" d="M6 6.5h1.04"/>
<path stroke="#ffd024" d="M7 6.5h1.04"/>
<path stroke="#ffca26" d="M8 6.5h1.04"/>
<path stroke="#ffc428" d="M9 6.5h1.04"/>
<path stroke="#ffbe28" d="M10 6.5h1.04"/>
<path stroke="#ffba2a" d="M11 6.5h1.04"/>
<path stroke="#ffb62c" d="M12 6.5h1.04"/>
<path stroke="#ffb42c" d="M13 6.5h1.04"/>
<path stroke="#ffb02c" d="M14 6.5h1.04"/>
<path stroke="#feae2e" d="M15 6.5h1.04"/>
<path stroke="#feaa2e" d="M16 6.5h1.04"/>
<path stroke="#fea62e" d="M17 6.5h1.04"/>
<path stroke="#fea42e" d="M18 6.5h1.04"/>
<path stroke="#fea22e" d="M19 6.5h1.04"/>
<path stroke="#fea02e" d="M20 6.5h2.04"/>
<path stroke="#fc9e30" d="M22 6.5h2.04"/>
<path stroke="#fc9c30" d="M24 6.5h2.04"/>
<path stroke="#fc9a30" d="M26 6.5h1.04"/>
<path stroke="#fc9830" d="M27 6.5h2.04"/>
<path stroke="#fc9630" d="M29 6.5h2.04"/>
<path stroke="#fc9430" d="M31 6.5h2.04"/>
<path stroke="#fc9230" d="M33 6.5h2.04"/>
<path stroke="#fc9030" d="M35 6.5h3.04"/>
<path stroke="#fa8e32" d="M38 6.5h3"/>
<path stroke="#fcea28" d="M0 7.5h1.04"/>
<path stroke="#fffa88" d="M1 7.5h1.04"/>
<path stroke="#fffa80" d="M2 7.5h1.04"/>
<path stroke="#fcf232" d="M3 7.5h1.04"/>
<path stroke="#fee426" d="M4 7.5h1.04"/>
<path stroke="#fede24" d="M5 7.5h1.04"/>
<path stroke="#fed824" d="M6 7.5h1.04"/>
<path stroke="#ffd224" d="M7 7.5h1.04"/>
<path stroke="#ffcc26" d="M8 7.5h1.04"/>
<path stroke="#ffc626" d="M9 7.5h1.04"/>
<path stroke="#ffc228" d="M10 7.5h1.04"/>
<path stroke="#ffbe2a" d="M11 7.5h1.04"/>
<path stroke="#ffba2a" d="M12 7.5h1.04"/>
<path stroke="#ffb62c" d="M13 7.5h1.04"/>
<path stroke="#ffb42c" d="M14 7.5h1.04"/>
<path stroke="#ffb02c" d="M15 7.5h1.04"/>
<path stroke="#feae2e" d="M16 7.5h1.04"/>
<path stroke="#feaa2e" d="M17 7.5h1.04"/>
<path stroke="#fea62e" d="M18 7.5h1.04"/>
<path stroke="#fea42e" d="M19 7.5h2.04"/>
<path stroke="#fea22e" d="M21 7.5h2.04"/>
<path stroke="#fea02e" d="M23 7.5h1.04"/>
<path stroke="#fc9e30" d="M24 7.5h2.04"/>
<path stroke="#fc9c30" d="M26 7.5h2.04"/>
<path stroke="#fc9a30" d="M28 7.5h2.04"/>
<path stroke="#fc9830" d="M30 7.5h1.04"/>
<path stroke="#fc9630" d="M31 7.5h2.04"/>
<path stroke="#fc9430" d="M33 7.5h2.04"/>
<path stroke="#fc9230" d="M35 7.5h3.04"/>
<path stroke="#fc9030" d="M38 7.5h3"/>
<path stroke="#fede24" d="M0 8.5h1.04"/>
<path stroke="#fef86c" d="M1 8.5h1.04"/>
<path stroke="#fffc94" d="M2 8.5h1.04"/>
<path stroke="#fef450" d="M3 8.5h1.04"/>
<path stroke="#fcea26" d="M4 8.5h1.04"/>
<path stroke="#fee026" d="M5 8.5h1.04"/>
<path stroke="#feda24" d="M6 8.5h1.04"/>
<path stroke="#fed624" d="M7 8.5h1.04"/>
<path stroke="#ffd024" d="M8 8.5h1.04"/>
<path stroke="#ffca26" d="M9 8.5h1.04"/>
<path stroke="#ffc628" d="M10 8.5h1.04"/>
<path stroke="#ffc028" d="M11 8.5h1.04"/>
<path stroke="#ffbc2a" d="M12 8.5h1.04"/>
<path stroke="#ffba2a" d="M13 8.5h1.04"/>
<path stroke="#ffb62a" d="M14 8.5h1.04"/>
<path stroke="#ffb42c" d="M15 8.5h1.04"/>
<path stroke="#ffb02c" d="M16 8.5h1.04"/>
<path stroke="#feae2e" d="M17 8.5h1.04"/>
<path stroke="#feaa2e" d="M18 8.5h1.04"/>
<path stroke="#fea82e" d="M19 8.5h1.04"/>
<path stroke="#fea62e" d="M20 8.5h2.04"/>
<path stroke="#fea42e" d="M22 8.5h2.04"/>
<path stroke="#fea22e" d="M24 8.5h1.04"/>
<path stroke="#fea02e" d="M25 8.5h2.04"/>
<path stroke="#fc9e30" d="M27 8.5h1.04"/>
<path stroke="#fc9c30" d="M28 8.5h2.04"/>
<path stroke="#fc9a30" d="M30 8.5h2.04"/>
<path stroke="#fc9830" d="M32 8.5h1.04"/>
<path stroke="#fc9630" d="M33 8.5h2.04"/>
<path stroke="#fc9430" d="M35 8.5h3.04"/>
<path stroke="#fc9230" d="M38 8.5h3"/>
<path stroke="#ffd024" d="M0 9.5h1.04"/>
<path stroke="#fef448" d="M1 9.5h1.04"/>
<path stroke="#fffc94" d="M2 9.5h1.04"/>
<path stroke="#fefa72" d="M3 9.5h1.04"/>
<path stroke="#fcf02c" d="M4 9.5h1.04"/>
<path stroke="#fee426" d="M5 9.5h1.04"/>
<path stroke="#fede24" d="M6 9.5h1.04"/>
<path stroke="#fed824" d="M7 9.5h1.04"/>
<path stroke="#ffd424" d="M8 9.5h1.04"/>
<path stroke="#ffce24" d="M9 9.5h1.04"/>
<path stroke="#ffc826" d="M10 9.5h1.04"/>
<path stroke="#ffc428" d="M11 9.5h1.04"/>
<path stroke="#ffc028" d="M12 9.5h1.04"/>
<path stroke="#ffbc2a" d="M13 9.5h1.04"/>
<path stroke="#ffba2a" d="M14 9.5h1.04"/>
<path stroke="#ffb82a" d="M15 9.5h1.04"/>
<path stroke="#ffb42c" d="M16 9.5h1.04"/>
<path stroke="#ffb02c" d="M17 9.5h1.04"/>
<path stroke="#feae2e" d="M18 9.5h1.04"/>
<path stroke="#feac2e" d="M19 9.5h1.04"/>
<path stroke="#feaa2e" d="M20 9.5h2.04"/>
<path stroke="#fea82e" d="M22 9.5h1.04"/>
<path stroke="#fea62e" d="M23 9.5h1.04"/>
<path stroke="#fea42e" d="M24 9.5h2.04"/>
<path stroke="#fea22e" d="M26 9.5h1.04"/>
<path stroke="#fea02e" d="M27 9.5h2.04"/>
<path stroke="#fc9e30" d="M29 9.5h2.04"/>
<path stroke="#fc9c30" d="M31 9.5h1.04"/>
<path stroke="#fc9a30" d="M32 9.5h2.04"/>
<path stroke="#fc9830" d="M34 9.5h2.04"/>
<path stroke="#fc9630" d="M36 9.5h3.04"/>
<path stroke="#fc9430" d="M39 9.5h2"/>
<path stroke="#ffc428" d="M0 10.5h1.04"/>
<path stroke="#fcec28" d="M1 10.5h1.04"/>
<path stroke="#fffa7c" d="M2 10.5h1.04"/>
<path stroke="#fffa8e" d="M3 10.5h1.04"/>
<path stroke="#fef44a" d="M4 10.5h1.04"/>
<path stroke="#fcea26" d="M5 10.5h1.04"/>
<path stroke="#fee226" d="M6 10.5h1.04"/>
<path stroke="#fedc24" d="M7 10.5h1.04"/>
<path stroke="#fed624" d="M8 10.5h1.04"/>
<path stroke="#ffd224" d="M9 10.5h1.04"/>
<path stroke="#ffcc26" d="M10 10.5h1.04"/>
<path stroke="#ffc826" d="M11 10.5h1.04"/>
<path stroke="#ffc428" d="M12 10.5h1.04"/>
<path stroke="#ffc028" d="M13 10.5h1.04"/>
<path stroke="#ffbe2a" d="M14 10.5h1.04"/>
<path stroke="#ffba2a" d="M15 10.5h1.04"/>
<path stroke="#ffb82a" d="M16 10.5h1.04"/>
<path stroke="#ffb42c" d="M17 10.5h1.04"/>
<path stroke="#ffb02c" d="M18 10.5h1.04"/>
<path stroke="#feae2e" d="M19 10.5h2.04"/>
<path stroke="#feac2e" d="M21 10.5h2.04"/>
<path stroke="#feaa2e" d="M23 10.5h1.04"/>
<path stroke="#fea82e" d="M24 10.5h1.04"/>
<path stroke="#fea62e" d="M25 10.5h2.04"/>
<path stroke="#fea42e" d="M27 10.5h1.04"/>
<path stroke="#fea22e" d="M28 10.5h2.04"/>
<path stroke="#fea02e" d="M30 10.5h1.04"/>
<path stroke="#fc9e30" d="M31 10.5h1.04"/>
<path stroke="#fc9c30" d="M32 10.5h2.04"/>
<path stroke="#fc9a30" d="M34 10.5h2.04"/>
<path stroke="#fc9830" d="M36 10.5h4.04"/>
<path stroke="#fc9630" d="M40 10.5h1"/>
<path stroke="#ffba2a" d="M0 11.5h1.04"/>
<path stroke="#fedc24" d="M1 11.5h1.04"/>
<path stroke="#fef654" d="M2 11.5h1.04"/>
<path stroke="#fffc96" d="M3 11.5h1.04"/>
<path stroke="#fef870" d="M4 11.5h1.04"/>
<path stroke="#fcf02e" d="M5 11.5h1.04"/>
<path stroke="#fee626" d="M6 11.5h1.04"/>
<path stroke="#fede24" d="M7 11.5h1.04"/>
<path stroke="#feda24" d="M8 11.5h1.04"/>
<path stroke="#fed624" d="M9 11.5h1.04"/>
<path stroke="#ffd024" d="M10 11.5h1.04"/>
<path stroke="#ffcc26" d="M11 11.5h1.04"/>
<path stroke="#ffc826" d="M12 11.5h1.04"/>
<path stroke="#ffc428" d="M13 11.5h1.04"/>
<path stroke="#ffc028" d="M14 11.5h1.04"/>
<path stroke="#ffbe2a" d="M15 11.5h1.04"/>
<path stroke="#ffba2a" d="M16 11.5h1.04"/>
<path stroke="#ffb82a" d="M17 11.5h1.04"/>
<path stroke="#ffb42c" d="M18 11.5h1.04"/>
<path stroke="#ffb22c" d="M19 11.5h2.04"/>
<path stroke="#ffb02c" d="M21 11.5h1.04"/>
<path stroke="#feae2e" d="M22 11.5h2.04"/>
<path stroke="#feac2e" d="M24 11.5h1.04"/>
<path stroke="#feaa2e" d="M25 11.5h1.04"/>
<path stroke="#fea82e" d="M26 11.5h2.04"/>
<path stroke="#fea62e" d="M28 11.5h1.04"/>
<path stroke="#fea42e" d="M29 11.5h2.04"/>
<path stroke="#fea22e" d="M31 11.5h1.04"/>
<path stroke="#fea02e" d="M32 11.5h1.04"/>
<path stroke="#fc9e30" d="M33 11.5h2.04"/>
<path stroke="#fc9c30" d="M35 11.5h2.04"/>
<path stroke="#fc9a30" d="M37 11.5h4"/>
<path stroke="#ffb22c" d="M0 12.5h1.04"/>
<path stroke="#ffcc26" d="M1 12.5h1.04"/>
<path stroke="#fcee28" d="M2 12.5h1.04"/>
<path stroke="#fffa80" d="M3 12.5h1.04"/>
<path stroke="#fffa8e" d="M4 12.5h1.04"/>
<path stroke="#fef652" d="M5 12.5h1.04"/>
<path stroke="#fcec28" d="M6 12.5h1.04"/>
<path stroke="#fee226" d="M7 12.5h1.04"/>
<path stroke="#fede24" d="M8 12.5h1.04"/>
<path stroke="#fed824" d="M9 12.5h1.04"/>
<path stroke="#ffd424" d="M10 12.5h1.04"/>
<path stroke="#ffd024" d="M11 12.5h1.04"/>
<path stroke="#ffcc26" d="M12 12.5h1.04"/>
<path stroke="#ffc826" d="M13 12.5h1.04"/>
<path stroke="#ffc428" d="M14 12.5h1.04"/>
<path stroke="#ffc228" d="M15 12.5h1.04"/>
<path stroke="#ffbe2a" d="M16 12.5h1.04"/>
<path stroke="#ffba2a" d="M17 12.5h1.04"/>
<path stroke="#ffb82a" d="M18 12.5h1.04"/>
<path stroke="#ffb62c" d="M19 12.5h1.04"/>
<path stroke="#ffb42c" d="M20 12.5h2.04"/>
<path stroke="#ffb22c" d="M22 12.5h1.04"/>
<path stroke="#ffb02c" d="M23 12.5h2.04"/>
<path stroke="#feae2e" d="M25 12.5h1.04"/>
<path stroke="#feac2e" d="M26 12.5h1.04"/>
<path stroke="#feaa2e" d="M27 12.5h2.04"/>
<path stroke="#fea82e" d="M29 12.5h1.04"/>
<path stroke="#fea62e" d="M30 12.5h1.04"/>
<path stroke="#fea42e" d="M31 12.5h1.04"/>
<path stroke="#fea22e" d="M32 12.5h2.04"/>
<path stroke="#fea02e" d="M34 12.5h2.04"/>
<path stroke="#fc9e30" d="M36 12.5h2.04"/>
<path stroke="#fc9c30" d="M38 12.5h3"/>
<path stroke="#feaa2e" d="M0 13.5h1.04"/>
<path stroke="#ffc028" d="M1 13.5h1.04"/>
<path stroke="#feda24" d="M2 13.5h1.04"/>
<path stroke="#fef652" d="M3 13.5h1.04"/>
<path stroke="#fffc96" d="M4 13.5h1.04"/>
<path stroke="#fffa7a" d="M5 13.5h1.04"/>
<path stroke="#fcf23a" d="M6 13.5h1.04"/>
<path stroke="#fce826" d="M7 13.5h1.04"/>
<path stroke="#fee026" d="M8 13.5h1.04"/>
<path stroke="#fedc24" d="M9 13.5h1.04"/>
<path stroke="#fed824" d="M10 13.5h1.04"/>
<path stroke="#ffd424" d="M11 13.5h1.04"/>
<path stroke="#ffd024" d="M12 13.5h1.04"/>
<path stroke="#ffcc26" d="M13 13.5h1.04"/>
<path stroke="#ffc826" d="M14 13.5h1.04"/>
<path stroke="#ffc628" d="M15 13.5h1.04"/>
<path stroke="#ffc228" d="M16 13.5h1.04"/>
<path stroke="#ffbe28" d="M17 13.5h1.04"/>
<path stroke="#ffbc2a" d="M18 13.5h1.04"/>
<path stroke="#ffba2a" d="M19 13.5h1.04"/>
<path stroke="#ffb82a" d="M20 13.5h1.04"/>
<path stroke="#ffb62a" d="M21 13.5h1.04"/>
<path stroke="#ffb62c" d="M22 13.5h1.04"/>
<path stroke="#ffb42c" d="M23 13.5h1.04"/>
<path stroke="#ffb22c" d="M24 13.5h2.04"/>
<path stroke="#ffb02c" d="M26 13.5h1.04"/>
<path stroke="#feae2e" d="M27 13.5h1.04"/>
<path stroke="#feac2e" d="M28 13.5h2.04"/>
<path stroke="#feaa2e" d="M30 13.5h1.04"/>
<path stroke="#fea82e" d="M31 13.5h1.04"/>
<path stroke="#fea62e" d="M32 13.5h1.04"/>
<path stroke="#fea42e" d="M33 13.5h2.04"/>
<path stroke="#fea22e" d="M35 13.5h2.04"/>
<path stroke="#fea02e" d="M37 13.5h3.04"/>
<path stroke="#fc9e30" d="M40 13.5h1"/>
<path stroke="#fea22e" d="M0 14.5h1.04"/>
<path stroke="#ffb42c" d="M1 14.5h1.04"/>
<path stroke="#ffc826" d="M2 14.5h1.04"/>
<path stroke="#fcea26" d="M3 14.5h1.04"/>
<path stroke="#fefa76" d="M4 14.5h1.04"/>
<path stroke="#fffc94" d="M5 14.5h1.04"/>
<path stroke="#fef864" d="M6 14.5h1.04"/>
<path stroke="#fcf02c" d="M7 14.5h1.04"/>
<path stroke="#fee626" d="M8 14.5h1.04"/>
<path stroke="#fee024" d="M9 14.5h1.04"/>
<path stroke="#fedc24" d="M10 14.5h1.04"/>
<path stroke="#fed824" d="M11 14.5h1.04"/>
<path stroke="#ffd424" d="M12 14.5h1.04"/>
<path stroke="#ffd024" d="M13 14.5h1.04"/>
<path stroke="#ffcc26" d="M14 14.5h1.04"/>
<path stroke="#ffca26" d="M15 14.5h1.04"/>
<path stroke="#ffc626" d="M16 14.5h1.04"/>
<path stroke="#ffc228" d="M17 14.5h1.04"/>
<path stroke="#ffc028" d="M18 14.5h1.04"/>
<path stroke="#ffbe2a" d="M19 14.5h1.04"/>
<path stroke="#ffbc2a" d="M20 14.5h1.04"/>
<path stroke="#ffba2a" d="M21 14.5h1.04"/>
<path stroke="#ffb82a" d="M22 14.5h2.04"/>
<path stroke="#ffb62c" d="M24 14.5h1.04"/>
<path stroke="#ffb42c" d="M25 14.5h2.04"/>
<path stroke="#ffb22c" d="M27 14.5h1.04"/>
<path stroke="#ffb02c" d="M28 14.5h1.04"/>
<path stroke="#feae2e" d="M29 14.5h2.04"/>
<path stroke="#feac2e" d="M31 14.5h1.04"/>
<path stroke="#feaa2e" d="M32 14.5h1.04"/>
<path stroke="#fea82e" d="M33 14.5h1.04"/>
<path stroke="#fea62e" d="M34 14.5h2.04"/>
<path stroke="#fea42e" d="M36 14.5h3.04"/>
<path stroke="#fea22e" d="M39 14.5h2"/>
<path stroke="#fc9c30" d="M0 15.5h1.04"/>
<path stroke="#feaa2e" d="M1 15.5h1.04"/>
<path stroke="#ffba2a" d="M2 15.5h1.04"/>
<path stroke="#ffd424" d="M3 15.5h1.04"/>
<path stroke="#fcf23e" d="M4 15.5h1.04"/>
<path stroke="#fffa8c" d="M5 15.5h2.04"/>
<path stroke="#fef654" d="M7 15.5h1.04"/>
<path stroke="#fcee28" d="M8 15.5h1.04"/>
<path stroke="#fee426" d="M9 15.5h1.04"/>
<path stroke="#fede24" d="M10 15.5h1.04"/>
<path stroke="#feda24" d="M11 15.5h1.04"/>
<path stroke="#fed824" d="M12 15.5h1.04"/>
<path stroke="#ffd424" d="M13 15.5h1.04"/>
<path stroke="#ffd024" d="M14 15.5h1.04"/>
<path stroke="#ffce24" d="M15 15.5h1.04"/>
<path stroke="#ffca26" d="M16 15.5h1.04"/>
<path stroke="#ffc626" d="M17 15.5h1.04"/>
<path stroke="#ffc428" d="M18 15.5h1.04"/>
<path stroke="#ffc228" d="M19 15.5h1.04"/>
<path stroke="#ffc028" d="M20 15.5h1.04"/>
<path stroke="#ffbe28" d="M21 15.5h1.04"/>
<path stroke="#ffbc2a" d="M22 15.5h2.04"/>
<path stroke="#ffba2a" d="M24 15.5h1.04"/>
<path stroke="#ffb82a" d="M25 15.5h1.04"/>
<path stroke="#ffb62c" d="M26 15.5h1.04"/>
<path stroke="#ffb42c" d="M27 15.5h2.04"/>
<path stroke="#ffb22c" d="M29 15.5h1.04"/>
<path stroke="#ffb02c" d="M30 15.5h2.04"/>
<path stroke="#feae2e" d="M32 15.5h1.04"/>
<path stroke="#feac2e" d="M33 15.5h1.04"/>
<path stroke="#feaa2e" d="M34 15.5h2.04"/>
<path stroke="#fea82e" d="M36 15.5h2.04"/>
<path stroke="#fea62e" d="M38 15.5h2.04"/>
<path stroke="#fea42e" d="M40 15.5h1"/>
<path stroke="#fc9830" d="M0 16.5h1.04"/>
<path stroke="#fea22e" d="M1 16.5h1.04"/>
<path stroke="#feae2e" d="M2 16.5h1.04"/>
<path stroke="#ffc028" d="M3 16.5h1.04"/>
<path stroke="#fee026" d="M4 16.5h1.04"/>
<path stroke="#fef65c" d="M5 16.5h1.04"/>
<path stroke="#fffc96" d="M6 16.5h1.04"/>
<path stroke="#fffa80" d="M7 16.5h1.04"/>
<path stroke="#fef44a" d="M8 16.5h1.04"/>
<path stroke="#fcec28" d="M9 16.5h1.04"/>
<path stroke="#fee426" d="M10 16.5h1.04"/>
<path stroke="#fede24" d="M11 16.5h1.04"/>
<path stroke="#fedc24" d="M12 16.5h1.04"/>
<path stroke="#fed824" d="M13 16.5h1.04"/>
<path stroke="#fed624" d="M14 16.5h1.04"/>
<path stroke="#ffd224" d="M15 16.5h1.04"/>
<path stroke="#ffce24" d="M16 16.5h1.04"/>
<path stroke="#ffca26" d="M17 16.5h1.04"/>
<path stroke="#ffc826" d="M18 16.5h1.04"/>
<path stroke="#ffc628" d="M19 16.5h1.04"/>
<path stroke="#ffc428" d="M20 16.5h1.04"/>
<path stroke="#ffc228" d="M21 16.5h1.04"/>
<path stroke="#ffc028" d="M22 16.5h2.04"/>
<path stroke="#ffbe2a" d="M24 16.5h1.04"/>
<path stroke="#ffbc2a" d="M25 16.5h1.04"/>
<path stroke="#ffba2a" d="M26 16.5h1.04"/>
<path stroke="#ffb82a" d="M27 16.5h2.04"/>
<path stroke="#ffb62c" d="M29 16.5h1.04"/>
<path stroke="#ffb42c" d="M30 16.5h1.04"/>
<path stroke="#ffb22c" d="M31 16.5h1.04"/>
<path stroke="#ffb02c" d="M32 16.5h2.04"/>
<path stroke="#feae2e" d="M34 16.5h1.04"/>
<path stroke="#feac2e" d="M35 16.5h2.04"/>
<path stroke="#feaa2e" d="M37 16.5h3.04"/>
<path stroke="#fea82e" d="M40 16.5h1"/>
<path stroke="#fc9430" d="M0 17.5h1.04"/>
<path stroke="#fc9c30" d="M1 17.5h1.04"/>
<path stroke="#fea22e" d="M2 17.5h1.04"/>
<path stroke="#ffb22c" d="M3 17.5h1.04"/>
<path stroke="#ffca26" d="M4 17.5h1.04"/>
<path stroke="#fcea26" d="M5 17.5h1.04"/>
<path stroke="#fef86e" d="M6 17.5h1.04"/>
<path stroke="#fffc98" d="M7 17.5h1.04"/>
<path stroke="#fffa78" d="M8 17.5h1.04"/>
<path stroke="#fef444" d="M9 17.5h1.04"/>
<path stroke="#fcec28" d="M10 17.5h1.04"/>
<path stroke="#fee426" d="M11 17.5h1.04"/>
<path stroke="#fee024" d="M12 17.5h1.04"/>
<path stroke="#fedc24" d="M13 17.5h1.04"/>
<path stroke="#fed824" d="M14 17.5h1.04"/>
<path stroke="#fed624" d="M15 17.5h1.04"/>
<path stroke="#ffd224" d="M16 17.5h1.04"/>
<path stroke="#ffce24" d="M17 17.5h1.04"/>
<path stroke="#ffcc26" d="M18 17.5h1.04"/>
<path stroke="#ffca26" d="M19 17.5h1.04"/>
<path stroke="#ffc826" d="M20 17.5h1.04"/>
<path stroke="#ffc626" d="M21 17.5h1.04"/>
<path stroke="#ffc428" d="M22 17.5h2.04"/>
<path stroke="#ffc228" d="M24 17.5h1.04"/>
<path stroke="#ffc028" d="M25 17.5h1.04"/>
<path stroke="#ffbe2a" d="M26 17.5h1.04"/>
<path stroke="#ffbc2a" d="M27 17.5h1.04"/>
<path stroke="#ffba2a" d="M28 17.5h2.04"/>
<path stroke="#ffb82a" d="M30 17.5h1.04"/>
<path stroke="#ffb62c" d="M31 17.5h1.04"/>
<path stroke="#ffb42c" d="M32 17.5h1.04"/>
<path stroke="#ffb22c" d="M33 17.5h2.04"/>
<path stroke="#ffb02c" d="M35 17.5h2.04"/>
<path stroke="#feae2e" d="M37 17.5h2.04"/>
<path stroke="#feac2e" d="M39 17.5h2"/>
<path stroke="#fc9230" d="M0 18.5h1.04"/>
<path stroke="#fc9630" d="M1 18.5h1.04"/>
<path stroke="#fc9a30" d="M2 18.5h1.04"/>
<path stroke="#fea42e" d="M3 18.5h1.04"/>
<path stroke="#ffb62a" d="M4 18.5h1.04"/>
<path stroke="#ffd024" d="M5 18.5h1.04"/>
<path stroke="#fcf02c" d="M6 18.5h1.04"/>
<path stroke="#fffa7a" d="M7 18.5h1.04"/>
<path stroke="#fffc96" d="M8 18.5h1.04"/>
<path stroke="#fefa74" d="M9 18.5h1.04"/>
<path stroke="#fef444" d="M10 18.5h1.04"/>
<path stroke="#fcec28" d="M11 18.5h1.04"/>
<path stroke="#fee426" d="M12 18.5h1.04"/>
<path stroke="#fee026" d="M13 18.5h1.04"/>
<path stroke="#fede24" d="M14 18.5h1.04"/>
<path stroke="#feda24" d="M15 18.5h1.04"/>
<path stroke="#fed624" d="M16 18.5h1.04"/>
<path stroke="#ffd424" d="M17 18.5h1.04"/>
<path stroke="#ffd024" d="M18 18.5h1.04"/>
<path stroke="#ffce24" d="M19 18.5h1.04"/>
<path stroke="#ffcc26" d="M20 18.5h2.04"/>
<path stroke="#ffca26" d="M22 18.5h1.04"/>
<path stroke="#ffc826" d="M23 18.5h1.04"/>
<path stroke="#ffc628" d="M24 18.5h1.04"/>
<path stroke="#ffc428" d="M25 18.5h1.04"/>
<path stroke="#ffc228" d="M26 18.5h1.04"/>
<path stroke="#ffc028" d="M27 18.5h1.04"/>
<path stroke="#ffbe28" d="M28 18.5h1.04"/>
<path stroke="#ffbe2a" d="M29 18.5h1.04"/>
<path stroke="#ffbc2a" d="M30 18.5h1.04"/>
<path stroke="#ffba2a" d="M31 18.5h1.04"/>
<path stroke="#ffb82a" d="M32 18.5h1.04"/>
<path stroke="#ffb62c" d="M33 18.5h2.04"/>
<path stroke="#ffb42c" d="M35 18.5h2.04"/>
<path stroke="#ffb22c" d="M37 18.5h2.04"/>
<path stroke="#ffb02c" d="M39 18.5h2"/>
<path stroke="#fa8e32" d="M0 19.5h1.04"/>
<path stroke="#fc9230" d="M1 19.5h1.04"/>
<path stroke="#fc9430" d="M2 19.5h1.04"/>
<path stroke="#fc9c30" d="M3 19.5h1.04"/>
<path stroke="#fea82e" d="M4 19.5h1.04"/>
<path stroke="#ffba2a" d="M5 19.5h1.04"/>
<path stroke="#fed624" d="M6 19.5h1.04"/>
<path stroke="#fcf238" d="M7 19.5h1.04"/>
<path stroke="#fffa80" d="M8 19.5h1.04"/>
<path stroke="#fffc96" d="M9 19.5h1.04"/>
<path stroke="#fefa76" d="M10 19.5h1.04"/>
<path stroke="#fef448" d="M11 19.5h1.04"/>
<path stroke="#fcf028" d="M12 19.5h1.04"/>
<path stroke="#fee626" d="M13 19.5h1.04"/>
<path stroke="#fee226" d="M14 19.5h1.04"/>
<path stroke="#fede24" d="M15 19.5h1.04"/>
<path stroke="#fedc24" d="M16 19.5h1.04"/>
<path stroke="#fed824" d="M17 19.5h1.04"/>
<path stroke="#fed624" d="M18 19.5h1.04"/>
<path stroke="#ffd424" d="M19 19.5h1.04"/>
<path stroke="#ffd224" d="M20 19.5h1.04"/>
<path stroke="#ffd024" d="M21 19.5h1.04"/>
<path stroke="#ffce24" d="M22 19.5h1.04"/>
<path stroke="#ffcc26" d="M23 19.5h1.04"/>
<path stroke="#ffca26" d="M24 19.5h1.04"/>
<path stroke="#ffc826" d="M25 19.5h1.04"/>
<path stroke="#ffc626" d="M26 19.5h1.04"/>
<path stroke="#ffc428" d="M27 19.5h1.04"/>
<path stroke="#ffc228" d="M28 19.5h2.04"/>
<path stroke="#ffc028" d="M30 19.5h1.04"/>
<path stroke="#ffbe2a" d="M31 19.5h1.04"/>
<path stroke="#ffbc2a" d="M32 19.5h1.04"/>
<path stroke="#ffba2a" d="M33 19.5h1.04"/>
<path stroke="#ffb82a" d="M34 19.5h2.04"/>
<path stroke="#ffb62a" d="M36 19.5h1.04"/>
<path stroke="#ffb62c" d="M37 19.5h1.04"/>
<path stroke="#ffb42c" d="M38 19.5h3"/>
<path stroke="#fa8e32" d="M0 20.5h1.04"/>
<path stroke="#fc9030" d="M1 20.5h2.04"/>
<path stroke="#fc9430" d="M3 20.5h1.04"/>
<path stroke="#fc9c30" d="M4 20.5h1.04"/>
<path stroke="#feaa2e" d="M5 20.5h1.04"/>
<path stroke="#ffbe2a" d="M6 20.5h1.04"/>
<path stroke="#fed824" d="M7 20.5h1.04"/>
<path stroke="#fcf23c" d="M8 20.5h1.04"/>
<path stroke="#fffa80" d="M9 20.5h1.04"/>
<path stroke="#fffc96" d="M10 20.5h1.04"/>
<path stroke="#fffa7e" d="M11 20.5h1.04"/>
<path stroke="#fef654" d="M12 20.5h1.04"/>
<path stroke="#fcf030" d="M13 20.5h1.04"/>
<path stroke="#fcea26" d="M14 20.5h1.04"/>
<path stroke="#fee426" d="M15 20.5h1.04"/>
<path stroke="#fee024" d="M16 20.5h1.04"/>
<path stroke="#fedc24" d="M17 20.5h1.04"/>
<path stroke="#feda24" d="M18 20.5h1.04"/>
<path stroke="#fed824" d="M19 20.5h1.04"/>
<path stroke="#fed624" d="M20 20.5h1.04"/>
<path stroke="#ffd424" d="M21 20.5h1.04"/>
<path stroke="#ffd224" d="M22 20.5h1.04"/>
<path stroke="#ffd024" d="M23 20.5h1.04"/>
<path stroke="#ffce24" d="M24 20.5h1.04"/>
<path stroke="#ffcc26" d="M25 20.5h1.04"/>
<path stroke="#ffca26" d="M26 20.5h1.04"/>
<path stroke="#ffc826" d="M27 20.5h2.04"/>
<path stroke="#ffc628" d="M29 20.5h1.04"/>
<path stroke="#ffc428" d="M30 20.5h1.04"/>
<path stroke="#ffc228" d="M31 20.5h1.04"/>
<path stroke="#ffc028" d="M32 20.5h1.04"/>
<path stroke="#ffbe28" d="M33 20.5h1.04"/>
<path stroke="#ffbc2a" d="M34 20.5h2.04"/>
<path stroke="#ffba2a" d="M36 20.5h2.04"/>
<path stroke="#ffb82a" d="M38 20.5h3"/>
<path stroke="#fa8c32" d="M0 21.5h1.04"/>
<path stroke="#fa8e32" d="M1 21.5h2.04"/>
<path stroke="#fc9030" d="M3 21.5h1.04"/>
<path stroke="#fc9430" d="M4 21.5h1.04"/>
<path stroke="#fc9e30" d="M5 21.5h1.04"/>
<path stroke="#feac2e" d="M6 21.5h1.04"/>
<path stroke="#ffbe28" d="M7 21.5h1.04"/>
<path stroke="#feda24" d="M8 21.5h1.04"/>
<path stroke="#fcf238" d="M9 21.5h1.04"/>
<path stroke="#fffa78" d="M10 21.5h1.04"/>
<path stroke="#fffc96" d="M11 21.5h1.04"/>
<path stroke="#fffa88" d="M12 21.5h1.04"/>
<path stroke="#fef862" d="M13 21.5h1.04"/>
<path stroke="#fcf23c" d="M14 21.5h1.04"/>
<path stroke="#fcee28" d="M15 21.5h1.04"/>
<path stroke="#fee626" d="M16 21.5h1.04"/>
<path stroke="#fee226" d="M17 21.5h1.04"/>
<path stroke="#fede24" d="M18 21.5h1.04"/>
<path stroke="#fedc24" d="M19 21.5h1.04"/>
<path stroke="#feda24" d="M20 21.5h1.04"/>
<path stroke="#fed824" d="M21 21.5h1.04"/>
<path stroke="#fed624" d="M22 21.5h2.04"/>
<path stroke="#ffd424" d="M24 21.5h1.04"/>
<path stroke="#ffd224" d="M25 21.5h1.04"/>
<path stroke="#ffd024" d="M26 21.5h1.04"/>
<path stroke="#ffce26" d="M27 21.5h1.04"/>
<path stroke="#ffcc26" d="M28 21.5h1.04"/>
<path stroke="#ffca26" d="M29 21.5h1.04"/>
<path stroke="#ffc826" d="M30 21.5h1.04"/>
<path stroke="#ffc626" d="M31 21.5h1.04"/>
<path stroke="#ffc428" d="M32 21.5h1.04"/>
<path stroke="#ffc228" d="M33 21.5h2.04"/>
<path stroke="#ffc028" d="M35 21.5h1.04"/>
<path stroke="#ffbe28" d="M36 21.5h1.04"/>
<path stroke="#ffbe2a" d="M37 21.5h1.04"/>
<path stroke="#ffbc2a" d="M38 21.5h3"/>
<path stroke="#fa8c32" d="M0 22.5h4.04"/>
<path stroke="#fc9030" d="M4 22.5h1.04"/>
<path stroke="#fc9430" d="M5 22.5h1.04"/>
<path stroke="#fc9e30" d="M6 22.5h1.04"/>
<path stroke="#feac2e" d="M7 22.5h1.04"/>
<path stroke="#ffbe28" d="M8 22.5h1.04"/>
<path stroke="#fed624" d="M9 22.5h1.04"/>
<path stroke="#fcf02c" d="M10 22.5h1.04"/>
<path stroke="#fef86c" d="M11 22.5h1.04"/>
<path stroke="#fffa92" d="M12 22.5h1.04"/>
<path stroke="#fffa90" d="M13 22.5h1.04"/>
<path stroke="#fefa74" d="M14 22.5h1.04"/>
<path stroke="#fef44e" d="M15 22.5h1.04"/>
<path stroke="#fcf02e" d="M16 22.5h1.04"/>
<path stroke="#fcea26" d="M17 22.5h1.04"/>
<path stroke="#fee426" d="M18 22.5h1.04"/>
<path stroke="#fee226" d="M19 22.5h1.04"/>
<path stroke="#fee024" d="M20 22.5h1.04"/>
<path stroke="#fede24" d="M21 22.5h1.04"/>
<path stroke="#fedc24" d="M22 22.5h1.04"/>
<path stroke="#feda24" d="M23 22.5h1.04"/>
<path stroke="#fed824" d="M24 22.5h1.04"/>
<path stroke="#fed624" d="M25 22.5h1.04"/>
<path stroke="#ffd424" d="M26 22.5h1.04"/>
<path stroke="#ffd224" d="M27 22.5h1.04"/>
<path stroke="#ffd024" d="M28 22.5h1.04"/>
<path stroke="#ffce24" d="M29 22.5h1.04"/>
<path stroke="#ffcc26" d="M30 22.5h1.04"/>
<path stroke="#ffca26" d="M31 22.5h1.04"/>
<path stroke="#ffc826" d="M32 22.5h1.04"/>
<path stroke="#ffc626" d="M33 22.5h1.04"/>
<path stroke="#ffc628" d="M34 22.5h1.04"/>
<path stroke="#ffc428" d="M35 22.5h1.04"/>
<path stroke="#ffc228" d="M36 22.5h3.04"/>
<path stroke="#ffc028" d="M39 22.5h2"/>
<path stroke="#fa8a32" d="M0 23.5h3.04"/>
<path stroke="#fa8c32" d="M3 23.5h2.04"/>
<path stroke="#fc9030" d="M5 23.5h1.04"/>
<path stroke="#fc9430" d="M6 23.5h1.04"/>
<path stroke="#fc9e30" d="M7 23.5h1.04"/>
<path stroke="#feaa2e" d="M8 23.5h1.04"/>
<path stroke="#ffbc2a" d="M9 23.5h1.04"/>
<path stroke="#ffd024" d="M10 23.5h1.04"/>
<path stroke="#fcea26" d="M11 23.5h1.04"/>
<path stroke="#fef656" d="M12 23.5h1.04"/>
<path stroke="#fffa86" d="M13 23.5h1.04"/>
<path stroke="#fffc96" d="M14 23.5h1.04"/>
<path stroke="#fffa84" d="M15 23.5h1.04"/>
<path stroke="#fef862" d="M16 23.5h1.04"/>
<path stroke="#fcf440" d="M17 23.5h1.04"/>
<path stroke="#fcf02a" d="M18 23.5h1.04"/>
<path stroke="#fcea26" d="M19 23.5h1.04"/>
<path stroke="#fee626" d="M20 23.5h1.04"/>
<path stroke="#fee226" d="M21 23.5h1.04"/>
<path stroke="#fee026" d="M22 23.5h1.04"/>
<path stroke="#fede24" d="M23 23.5h1.04"/>
<path stroke="#fedc24" d="M24 23.5h1.04"/>
<path stroke="#feda24" d="M25 23.5h1.04"/>
<path stroke="#fed824" d="M26 23.5h1.04"/>
<path stroke="#fed624" d="M27 23.5h1.04"/>
<path stroke="#ffd424" d="M28 23.5h2.04"/>
<path stroke="#ffd224" d="M30 23.5h1.04"/>
<path stroke="#ffd024" d="M31 23.5h1.04"/>
<path stroke="#ffce26" d="M32 23.5h1.04"/>
<path stroke="#ffcc26" d="M33 23.5h1.04"/>
<path stroke="#ffca26" d="M34 23.5h1.04"/>
<path stroke="#ffc826" d="M35 23.5h2.04"/>
<path stroke="#ffc626" d="M37 23.5h1.04"/>
<path stroke="#ffc628" d="M38 23.5h1.04"/>
<path stroke="#ffc428" d="M39 23.5h2"/>
<path stroke="#fa8a32" d="M0 24.5h5.04"/>
<path stroke="#fa8c32" d="M5 24.5h1.04"/>
<path stroke="#fa8e32" d="M6 24.5h1.04"/>
<path stroke="#fc9430" d="M7 24.5h1.04"/>
<path stroke="#fc9c30" d="M8 24.5h1.04"/>
<path stroke="#fea82e" d="M9 24.5h1.04"/>
<path stroke="#ffb62c" d="M10 24.5h1.04"/>
<path stroke="#ffc826" d="M11 24.5h1.04"/>
<path stroke="#fee024" d="M12 24.5h1.04"/>
<path stroke="#fcf23c" d="M13 24.5h1.04"/>
<path stroke="#fefa72" d="M14 24.5h1.04"/>
<path stroke="#fffc94" d="M15 24.5h1.04"/>
<path stroke="#fffa92" d="M16 24.5h1.04"/>
<path stroke="#fffa7c" d="M17 24.5h1.04"/>
<path stroke="#fef660" d="M18 24.5h1.04"/>
<path stroke="#fef446" d="M19 24.5h1.04"/>
<path stroke="#fcf232" d="M20 24.5h1.04"/>
<path stroke="#fcee28" d="M21 24.5h1.04"/>
<path stroke="#fce826" d="M22 24.5h1.04"/>
<path stroke="#fee426" d="M23 24.5h1.04"/>
<path stroke="#fee226" d="M24 24.5h1.04"/>
<path stroke="#fee024" d="M25 24.5h1.04"/>
<path stroke="#fede24" d="M26 24.5h1.04"/>
<path stroke="#fedc24" d="M27 24.5h1.04"/>
<path stroke="#feda24" d="M28 24.5h1.04"/>
<path stroke="#fed824" d="M29 24.5h1.04"/>
<path stroke="#fed624" d="M30 24.5h1.04"/>
<path stroke="#ffd424" d="M31 24.5h1.04"/>
<path stroke="#ffd224" d="M32 24.5h1.04"/>
<path stroke="#ffd024" d="M33 24.5h1.04"/>
<path stroke="#ffce24" d="M34 24.5h2.04"/>
<path stroke="#ffcc26" d="M36 24.5h2.04"/>
<path stroke="#ffca26" d="M38 24.5h2.04"/>
<path stroke="#ffc826" d="M40 24.5h1"/>
<path stroke="#fa8a32" d="M0 25.5h6.04"/>
<path stroke="#fa8c32" d="M6 25.5h1.04"/>
<path stroke="#fa8e32" d="M7 25.5h1.04"/>
<path stroke="#fc9230" d="M8 25.5h1.04"/>
<path stroke="#fc9a30" d="M9 25.5h1.04"/>
<path stroke="#fea22e" d="M10 25.5h1.04"/>
<path stroke="#ffb02c" d="M11 25.5h1.04"/>
<path stroke="#ffc028" d="M12 25.5h1.04"/>
<path stroke="#ffd424" d="M13 25.5h1.04"/>
<path stroke="#fcec28" d="M14 25.5h1.04"/>
<path stroke="#fef656" d="M15 25.5h1.04"/>
<path stroke="#fffa82" d="M16 25.5h1.04"/>
<path stroke="#fffc96" d="M17 25.5h1.04"/>
<path stroke="#fffa92" d="M18 25.5h1.04"/>
<path stroke="#fffa82" d="M19 25.5h1.04"/>
<path stroke="#fef86c" d="M20 25.5h1.04"/>
<path stroke="#fef654" d="M21 25.5h1.04"/>
<path stroke="#fcf23c" d="M22 25.5h1.04"/>
<path stroke="#fcf028" d="M23 25.5h1.04"/>
<path stroke="#fcea26" d="M24 25.5h1.04"/>
<path stroke="#fee626" d="M25 25.5h1.04"/>
<path stroke="#fee226" d="M26 25.5h1.04"/>
<path stroke="#fee026" d="M27 25.5h1.04"/>
<path stroke="#fede24" d="M28 25.5h1.04"/>
<path stroke="#fedc24" d="M29 25.5h1.04"/>
<path stroke="#feda24" d="M30 25.5h1.04"/>
<path stroke="#fed824" d="M31 25.5h1.04"/>
<path stroke="#fed624" d="M32 25.5h2.04"/>
<path stroke="#ffd424" d="M34 25.5h1.04"/>
<path stroke="#ffd224" d="M35 25.5h2.04"/>
<path stroke="#ffd024" d="M37 25.5h1.04"/>
<path stroke="#ffce24" d="M38 25.5h2.04"/>
<path stroke="#ffce26" d="M40 25.5h1"/>
<path stroke="#fa8a32" d="M0 26.5h7.04"/>
<path stroke="#fa8c32" d="M7 26.5h1.04"/>
<path stroke="#fa8e32" d="M8 26.5h1.04"/>
<path stroke="#fc9030" d="M9 26.5h1.04"/>
<path stroke="#fc9630" d="M10 26.5h1.04"/>
<path stroke="#fc9e30" d="M11 26.5h1.04"/>
<path stroke="#feaa2e" d="M12 26.5h1.04"/>
<path stroke="#ffb82a" d="M13 26.5h1.04"/>
<path stroke="#ffca26" d="M14 26.5h1.04"/>
<path stroke="#fede24" d="M15 26.5h1.04"/>
<path stroke="#fcf230" d="M16 26.5h1.04"/>
<path stroke="#fef65e" d="M17 26.5h1.04"/>
<path stroke="#fffa80" d="M18 26.5h1.04"/>
<path stroke="#fffa92" d="M19 26.5h1.04"/>
<path stroke="#fffc96" d="M20 26.5h1.04"/>
<path stroke="#fffa8c" d="M21 26.5h1.04"/>
<path stroke="#fefa78" d="M22 26.5h1.04"/>
<path stroke="#fef65e" d="M23 26.5h1.04"/>
<path stroke="#fef446" d="M24 26.5h1.04"/>
<path stroke="#fcf230" d="M25 26.5h1.04"/>
<path stroke="#fcec28" d="M26 26.5h1.04"/>
<path stroke="#fce826" d="M27 26.5h1.04"/>
<path stroke="#fee426" d="M28 26.5h1.04"/>
<path stroke="#fee226" d="M29 26.5h1.04"/>
<path stroke="#fee024" d="M30 26.5h1.04"/>
<path stroke="#fede24" d="M31 26.5h1.04"/>
<path stroke="#fedc24" d="M32 26.5h1.04"/>
<path stroke="#feda24" d="M33 26.5h1.04"/>
<path stroke="#fed824" d="M34 26.5h2.04"/>
<path stroke="#fed624" d="M36 26.5h1.04"/>
<path stroke="#ffd424" d="M37 26.5h3.04"/>
<path stroke="#ffd224" d="M40 26.5h1"/>
<path stroke="#fa8a32" d="M0 27.5h8.04"/>
<path stroke="#fa8c32" d="M8 27.5h2.04"/>
<path stroke="#fc9030" d="M10 27.5h1.04"/>
<path stroke="#fc9430" d="M11 27.5h1.04"/>
<path stroke="#fc9a30" d="M12 27.5h1.04"/>
<path stroke="#fea22e" d="M13 27.5h1.04"/>
<path stroke="#ffb02c" d="M14 27.5h1.04"/>
<path stroke="#ffbe2a" d="M15 27.5h1.04"/>
<path stroke="#ffce24" d="M16 27.5h1.04"/>
<path stroke="#fee024" d="M17 27.5h1.04"/>
<path stroke="#fcf028" d="M18 27.5h1.04"/>
<path stroke="#fef44c" d="M19 27.5h1.04"/>
<path stroke="#fef86e" d="M20 27.5h1.04"/>
<path stroke="#fffa8a" d="M21 27.5h1.04"/>
<path stroke="#fffc96" d="M22 27.5h1.04"/>
<path stroke="#fffa92" d="M23 27.5h1.04"/>
<path stroke="#fffa82" d="M24 27.5h1.04"/>
<path stroke="#fef86a" d="M25 27.5h1.04"/>
<path stroke="#fef652" d="M26 27.5h1.04"/>
<path stroke="#fcf23a" d="M27 27.5h1.04"/>
<path stroke="#fcf028" d="M28 27.5h1.04"/>
<path stroke="#fcea26" d="M29 27.5h1.04"/>
<path stroke="#fee626" d="M30 27.5h1.04"/>
<path stroke="#fee226" d="M31 27.5h1.04"/>
<path stroke="#fee026" d="M32 27.5h1.04"/>
<path stroke="#fede24" d="M33 27.5h2.04"/>
<path stroke="#fedc24" d="M35 27.5h1.04"/>
<path stroke="#feda24" d="M36 27.5h2.04"/>
<path stroke="#fed824" d="M38 27.5h3"/>
<path stroke="#fa8a32" d="M0 28.5h10.04"/>
<path stroke="#fa8c32" d="M10 28.5h1.04"/>
<path stroke="#fa8e32" d="M11 28.5h1.04"/>
<path stroke="#fc9030" d="M12 28.5h1.04"/>
<path stroke="#fc9630" d="M13 28.5h1.04"/>
<path stroke="#fc9c30" d="M14 28.5h1.04"/>
<path stroke="#fea82e" d="M15 28.5h1.04"/>
<path stroke="#ffb22c" d="M16 28.5h1.04"/>
<path stroke="#ffbe2a" d="M17 28.5h1.04"/>
<path stroke="#ffca26" d="M18 28.5h1.04"/>
<path stroke="#fed824" d="M19 28.5h1.04"/>
<path stroke="#fee626" d="M20 28.5h1.04"/>
<path stroke="#fcf23a" d="M21 28.5h1.04"/>
<path stroke="#fef860" d="M22 28.5h1.04"/>
<path stroke="#fffa80" d="M23 28.5h1.04"/>
<path stroke="#fffc94" d="M24 28.5h1.04"/>
<path stroke="#fffc96" d="M25 28.5h1.04"/>
<path stroke="#fffa8a" d="M26 28.5h1.04"/>
<path stroke="#fefa76" d="M27 28.5h1.04"/>
<path stroke="#fef65e" d="M28 28.5h1.04"/>
<path stroke="#fef448" d="M29 28.5h1.04"/>
<path stroke="#fcf232" d="M30 28.5h1.04"/>
<path stroke="#fcee28" d="M31 28.5h1.04"/>
<path stroke="#fce826" d="M32 28.5h1.04"/>
<path stroke="#fee626" d="M33 28.5h1.04"/>
<path stroke="#fee426" d="M34 28.5h1.04"/>
<path stroke="#fee226" d="M35 28.5h1.04"/>
<path stroke="#fee026" d="M36 28.5h1.04"/>
<path stroke="#fede24" d="M37 28.5h2.04"/>
<path stroke="#fedc24" d="M39 28.5h2"/>
<path stroke="#fa8a32" d="M0 29.5h12.04"/>
<path stroke="#fa8c32" d="M12 29.5h1.04"/>
<path stroke="#fa8e32" d="M13 29.5h1.04"/>
<path stroke="#fc9230" d="M14 29.5h1.04"/>
<path stroke="#fc9830" d="M15 29.5h1.04"/>
<path stroke="#fc9e30" d="M16 29.5h1.04"/>
<path stroke="#fea62e" d="M17 29.5h1.04"/>
<path stroke="#feae2e" d="M18 29.5h1.04"/>
<path stroke="#ffb62a" d="M19 29.5h1.04"/>
<path stroke="#ffc228" d="M20 29.5h1.04"/>
<path stroke="#ffd024" d="M21 29.5h1.04"/>
<path stroke="#fee024" d="M22 29.5h1.04"/>
<path stroke="#fcf028" d="M23 29.5h1.04"/>
<path stroke="#fef450" d="M24 29.5h1.04"/>
<path stroke="#fefa72" d="M25 29.5h1.04"/>
<path stroke="#fffa8c" d="M26 29.5h1.04"/>
<path stroke="#fffc96" d="M27 29.5h1.04"/>
<path stroke="#fffa92" d="M28 29.5h1.04"/>
<path stroke="#fffa82" d="M29 29.5h1.04"/>
<path stroke="#fef86e" d="M30 29.5h1.04"/>
<path stroke="#fef656" d="M31 29.5h1.04"/>
<path stroke="#fcf442" d="M32 29.5h1.04"/>
<path stroke="#fcf232" d="M33 29.5h1.04"/>
<path stroke="#fcee28" d="M34 29.5h1.04"/>
<path stroke="#fcea28" d="M35 29.5h1.04"/>
<path stroke="#fce826" d="M36 29.5h1.04"/>
<path stroke="#fee626" d="M37 29.5h1.04"/>
<path stroke="#fee426" d="M38 29.5h1.04"/>
<path stroke="#fee226" d="M39 29.5h2"/>
<path stroke="#fa8a32" d="M0 30.5h13.04"/>
<path stroke="#fa8c32" d="M13 30.5h2.04"/>
<path stroke="#fc9030" d="M15 30.5h1.04"/>
<path stroke="#fc9230" d="M16 30.5h1.04"/>
<path stroke="#fc9630" d="M17 30.5h1.04"/>
<path stroke="#fc9a30" d="M18 30.5h1.04"/>
<path stroke="#fea02e" d="M19 30.5h1.04"/>
<path stroke="#fea82e" d="M20 30.5h1.04"/>
<path stroke="#ffb22c" d="M21 30.5h1.04"/>
<path stroke="#ffbe2a" d="M22 30.5h1.04"/>
<path stroke="#ffca26" d="M23 30.5h1.04"/>
<path stroke="#fed824" d="M24 30.5h1.04"/>
<path stroke="#fce826" d="M25 30.5h1.04"/>
<path stroke="#fcf23c" d="M26 30.5h1.04"/>
<path stroke="#fef862" d="M27 30.5h1.04"/>
<path stroke="#fffa7e" d="M28 30.5h1.04"/>
<path stroke="#fffa92" d="M29 30.5h1.04"/>
<path stroke="#fffc96" d="M30 30.5h1.04"/>
<path stroke="#fffa8e" d="M31 30.5h1.04"/>
<path stroke="#fffa7e" d="M32 30.5h1.04"/>
<path stroke="#fef86c" d="M33 30.5h1.04"/>
<path stroke="#fef65c" d="M34 30.5h1.04"/>
<path stroke="#fef44c" d="M35 30.5h1.04"/>
<path stroke="#fcf23e" d="M36 30.5h1.04"/>
<path stroke="#fcf234" d="M37 30.5h1.04"/>
<path stroke="#fcf02a" d="M38 30.5h1.04"/>
<path stroke="#fcee28" d="M39 30.5h1.04"/>
<path stroke="#fcec28" d="M40 30.5h1"/>
<path stroke="#fa8a32" d="M0 31.5h15.04"/>
<path stroke="#fa8c32" d="M15 31.5h2.04"/>
<path stroke="#fa8e32" d="M17 31.5h1.04"/>
<path stroke="#fc9030" d="M18 31.5h1.04"/>
<path stroke="#fc9430" d="M19 31.5h1.04"/>
<path stroke="#fc9830" d="M20 31.5h1.04"/>
<path stroke="#fc9e30" d="M21 31.5h1.04"/>
<path stroke="#fea62e" d="M22 31.5h1.04"/>
<path stroke="#feae2e" d="M23 31.5h1.04"/>
<path stroke="#ffb82a" d="M24 31.5h1.04"/>
<path stroke="#ffc428" d="M25 31.5h1.04"/>
<path stroke="#ffd224" d="M26 31.5h1.04"/>
<path stroke="#fee026" d="M27 31.5h1.04"/>
<path stroke="#fcf028" d="M28 31.5h1.04"/>
<path stroke="#fef44c" d="M29 31.5h1.04"/>
<path stroke="#fef86e" d="M30 31.5h1.04"/>
<path stroke="#fffa86" d="M31 31.5h1.04"/>
<path stroke="#fffc94" d="M32 31.5h1.04"/>
<path stroke="#fffc96" d="M33 31.5h1.04"/>
<path stroke="#fffa92" d="M34 31.5h1.04"/>
<path stroke="#fffa88" d="M35 31.5h1.04"/>
<path stroke="#fffa7c" d="M36 31.5h1.04"/>
<path stroke="#fefa70" d="M37 31.5h1.04"/>
<path stroke="#fef864" d="M38 31.5h1.04"/>
<path stroke="#fef65a" d="M39 31.5h1.04"/>
<path stroke="#fef650" d="M40 31.5h1"/>
<path stroke="#fa8a32" d="M0 32.5h17.04"/>
<path stroke="#fa8c32" d="M17 32.5h2.04"/>
<path stroke="#fa8e32" d="M19 32.5h1.04"/>
<path stroke="#fc9030" d="M20 32.5h1.04"/>
<path stroke="#fc9230" d="M21 32.5h1.04"/>
<path stroke="#fc9630" d="M22 32.5h1.04"/>
<path stroke="#fc9a30" d="M23 32.5h1.04"/>
<path stroke="#fea22e" d="M24 32.5h1.04"/>
<path stroke="#feaa2e" d="M25 32.5h1.04"/>
<path stroke="#ffb42c" d="M26 32.5h1.04"/>
<path stroke="#ffbe2a" d="M27 32.5h1.04"/>
<path stroke="#ffca26" d="M28 32.5h1.04"/>
<path stroke="#fed824" d="M29 32.5h1.04"/>
<path stroke="#fee626" d="M30 32.5h1.04"/>
<path stroke="#fcf232" d="M31 32.5h1.04"/>
<path stroke="#fef650" d="M32 32.5h1.04"/>
<path stroke="#fef86a" d="M33 32.5h1.04"/>
<path stroke="#fffa7e" d="M34 32.5h1.04"/>
<path stroke="#fffa8c" d="M35 32.5h1.04"/>
<path stroke="#fffc94" d="M36 32.5h1.04"/>
<path stroke="#fffc98" d="M37 32.5h1.04"/>
<path stroke="#fffc96" d="M38 32.5h1.04"/>
<path stroke="#fffa92" d="M39 32.5h1.04"/>
<path stroke="#fffa8c" d="M40 32.5h1"/>
<path stroke="#fa8a32" d="M0 33.5h20.04"/>
<path stroke="#fa8c32" d="M20 33.5h2.04"/>
<path stroke="#fa8e32" d="M22 33.5h1.04"/>
<path stroke="#fc9030" d="M23 33.5h1.04"/>
<path stroke="#fc9430" d="M24 33.5h1.04"/>
<path stroke="#fc9830" d="M25 33.5h1.04"/>
<path stroke="#fc9e30" d="M26 33.5h1.04"/>
<path stroke="#fea62e" d="M27 33.5h1.04"/>
<path stroke="#feae2e" d="M28 33.5h1.04"/>
<path stroke="#ffb62a" d="M29 33.5h1.04"/>
<path stroke="#ffc228" d="M30 33.5h1.04"/>
<path stroke="#ffcc26" d="M31 33.5h1.04"/>
<path stroke="#fed824" d="M32 33.5h1.04"/>
<path stroke="#fee226" d="M33 33.5h1.04"/>
<path stroke="#fcee28" d="M34 33.5h1.04"/>
<path stroke="#fcf23a" d="M35 33.5h1.04"/>
<path stroke="#fef450" d="M36 33.5h1.04"/>
<path stroke="#fef862" d="M37 33.5h1.04"/>
<path stroke="#fefa72" d="M38 33.5h1.04"/>
<path stroke="#fffa7e" d="M39 33.5h1.04"/>
<path stroke="#fffa86" d="M40 33.5h1"/>
<path stroke="#fa8a32" d="M0 34.5h23.04"/>
<path stroke="#fa8c32" d="M23 34.5h1.04"/>
<path stroke="#fa8e32" d="M24 34.5h1.04"/>
<path stroke="#fc9030" d="M25 34.5h1.04"/>
<path stroke="#fc9230" d="M26 34.5h1.04"/>
<path stroke="#fc9630" d="M27 34.5h1.04"/>
<path stroke="#fc9a30" d="M28 34.5h1.04"/>
<path stroke="#fea02e" d="M29 34.5h1.04"/>
<path stroke="#fea82e" d="M30 34.5h1.04"/>
<path stroke="#ffb02c" d="M31 34.5h1.04"/>
<path stroke="#ffb82a" d="M32 34.5h1.04"/>
<path stroke="#ffbe28" d="M33 34.5h1.04"/>
<path stroke="#ffc626" d="M34 34.5h1.04"/>
<path stroke="#ffd024" d="M35 34.5h1.04"/>
<path stroke="#fed824" d="M36 34.5h1.04"/>
<path stroke="#fede24" d="M37 34.5h1.04"/>
<path stroke="#fee626" d="M38 34.5h1.04"/>
<path stroke="#fcec28" d="M39 34.5h1.04"/>
<path stroke="#fcf02e" d="M40 34.5h1"/>
<path stroke="#fa8a32" d="M0 35.5h25.04"/>
<path stroke="#fa8c32" d="M25 35.5h2.04"/>
<path stroke="#fa8e32" d="M27 35.5h1.04"/>
<path stroke="#fc9030" d="M28 35.5h1.04"/>
<path stroke="#fc9430" d="M29 35.5h1.04"/>
<path stroke="#fc9830" d="M30 35.5h1.04"/>
<path stroke="#fc9c30" d="M31 35.5h1.04"/>
<path stroke="#fea02e" d="M32 35.5h1.04"/>
<path stroke="#fea62e" d="M33 35.5h1.04"/>
<path stroke="#feac2e" d="M34 35.5h1.04"/>
<path stroke="#ffb22c" d="M35 35.5h1.04"/>
<path stroke="#ffb62c" d="M36 35.5h1.04"/>
<path stroke="#ffbc2a" d="M37 35.5h1.04"/>
<path stroke="#ffc028" d="M38 35.5h1.04"/>
<path stroke="#ffc628" d="M39 35.5h1.04"/>
<path stroke="#ffca26" d="M40 35.5h1"/>
<path stroke="#fa8a32" d="M0 36.5h28.04"/>
<path stroke="#fa8c32" d="M28 36.5h1.04"/>
<path stroke="#fa8e32" d="M29 36.5h2.04"/>
<path stroke="#fc9030" d="M31 36.5h1.04"/>
<path stroke="#fc9430" d="M32 36.5h1.04"/>
<path stroke="#fc9630" d="M33 36.5h1.04"/>
<path stroke="#fc9830" d="M34 36.5h1.04"/>
<path stroke="#fc9c30" d="M35 36.5h1.04"/>
<path stroke="#fea02e" d="M36 36.5h1.04"/>
<path stroke="#fea22e" d="M37 36.5h1.04"/>
<path stroke="#fea62e" d="M38 36.5h1.04"/>
<path stroke="#feaa2e" d="M39 36.5h1.04"/>
<path stroke="#feae2e" d="M40 36.5h1"/>
<path stroke="#fa8a32" d="M0 37.5h30.04"/>
<path stroke="#fa8c32" d="M30 37.5h3.04"/>
<path stroke="#fa8e32" d="M33 37.5h1.04"/>
<path stroke="#fc9030" d="M34 37.5h2.04"/>
<path stroke="#fc9230" d="M36 37.5h1.04"/>
<path stroke="#fc9430" d="M37 37.5h1.04"/>
<path stroke="#fc9630" d="M38 37.5h1.04"/>
<path stroke="#fc9830" d="M39 37.5h1.04"/>
<path stroke="#fc9a30" d="M40 37.5h1"/>
<path stroke="#fa8a32" d="M0 38.5h34.04"/>
<path stroke="#fa8c32" d="M34 38.5h3.04"/>
<path stroke="#fa8e32" d="M37 38.5h3.04"/>
<path stroke="#fc9030" d="M40 38.5h1"/>
<path stroke="#fa8a32" d="M0 39.5h39.04"/>
<path stroke="#fa8c32" d="M39 39.5h2"/>
<path stroke="#fa8a32" d="M0 40.5h41"/>
</g>
<rect x="98" y="637.2" width="392.8" height="392.8" fill="none" stroke="#6b4a2a" stroke-width="1"/>
<line x1="102.79" y1="637.2" x2="102.79" y2="642.2" stroke="#5a3a20" stroke-width="0.9" />
<line x1="102.79" y1="1030" x2="102.79" y2="1025" stroke="#5a3a20" stroke-width="0.9" />
<line x1="98" y1="1025.21" x2="103" y2="1025.21" stroke="#5a3a20" stroke-width="0.9" />
<line x1="490.8" y1="1025.21" x2="485.8" y2="1025.21" stroke="#5a3a20" stroke-width="0.9" />
<line x1="121.95" y1="637.2" x2="121.95" y2="639.7" stroke="#5a3a20" stroke-width="0.9" />
<line x1="121.95" y1="1030" x2="121.95" y2="1027.5" stroke="#5a3a20" stroke-width="0.9" />
<line x1="98" y1="1006.05" x2="100.5" y2="1006.05" stroke="#5a3a20" stroke-width="0.9" />
<line x1="490.8" y1="1006.05" x2="488.3" y2="1006.05" stroke="#5a3a20" stroke-width="0.9" />
<line x1="141.11" y1="637.2" x2="141.11" y2="639.7" stroke="#5a3a20" stroke-width="0.9" />
<line x1="141.11" y1="1030" x2="141.11" y2="1027.5" stroke="#5a3a20" stroke-width="0.9" />
<line x1="98" y1="986.89" x2="100.5" y2="986.89" stroke="#5a3a20" stroke-width="0.9" />
<line x1="490.8" y1="986.89" x2="488.3" y2="986.89" stroke="#5a3a20" stroke-width="0.9" />
<line x1="160.27" y1="637.2" x2="160.27" y2="639.7" stroke="#5a3a20" stroke-width="0.9" />
<line x1="160.27" y1="1030" x2="160.27" y2="1027.5" stroke="#5a3a20" stroke-width="0.9" />
<line x1="98" y1="967.73" x2="100.5" y2="967.73" stroke="#5a3a20" stroke-width="0.9" />
<line x1="490.8" y1="967.73" x2="488.3" y2="967.73" stroke="#5a3a20" stroke-width="0.9" />
<line x1="179.43" y1="637.2" x2="179.43" y2="639.7" stroke="#5a3a20" stroke-width="0.9" />
<line x1="179.43" y1="1030" x2="179.43" y2="1027.5" stroke="#5a3a20" stroke-width="0.9" />
<line x1="98" y1="948.57" x2="100.5" y2="948.57" stroke="#5a3a20" stroke-width="0.9" />
<line x1="490.8" y1="948.57" x2="488.3" y2="948.57" stroke="#5a3a20" stroke-width="0.9" />
<line x1="198.6" y1="637.2" x2="198.6" y2="642.2" stroke="#5a3a20" stroke-width="0.9" />
<line x1="198.6" y1="1030" x2="198.6" y2="1025" stroke="#5a3a20" stroke-width="0.9" />
<line x1="98" y1="929.4" x2="103" y2="929.4" stroke="#5a3a20" stroke-width="0.9" />
<line x1="490.8" y1="929.4" x2="485.8" y2="929.4" stroke="#5a3a20" stroke-width="0.9" />
<line x1="217.76" y1="637.2" x2="217.76" y2="639.7" stroke="#5a3a20" stroke-width="0.9" />
<line x1="217.76" y1="1030" x2="217.76" y2="1027.5" stroke="#5a3a20" stroke-width="0.9" />
<line x1="98" y1="910.24" x2="100.5" y2="910.24" stroke="#5a3a20" stroke-width="0.9" />
<line x1="490.8" y1="910.24" x2="488.3" y2="910.24" stroke="#5a3a20" stroke-width="0.9" />
<line x1="236.92" y1="637.2" x2="236.92" y2="639.7" stroke="#5a3a20" stroke-width="0.9" />
<line x1="236.92" y1="1030" x2="236.92" y2="1027.5" stroke="#5a3a20" stroke-width="0.9" />
<line x1="98" y1="891.08" x2="100.5" y2="891.08" stroke="#5a3a20" stroke-width="0.9" />
<line x1="490.8" y1="891.08" x2="488.3" y2="891.08" stroke="#5a3a20" stroke-width="0.9" />
<line x1="256.08" y1="637.2" x2="256.08" y2="639.7" stroke="#5a3a20" stroke-width="0.9" />
<line x1="256.08" y1="1030" x2="256.08" y2="1027.5" stroke="#5a3a20" stroke-width="0.9" />
<line x1="98" y1="871.92" x2="100.5" y2="871.92" stroke="#5a3a20" stroke-width="0.9" />
<line x1="490.8" y1="871.92" x2="488.3" y2="871.92" stroke="#5a3a20" stroke-width="0.9" />
<line x1="275.24" y1="637.2" x2="275.24" y2="639.7" stroke="#5a3a20" stroke-width="0.9" />
<line x1="275.24" y1="1030" x2="275.24" y2="1027.5" stroke="#5a3a20" stroke-width="0.9" />
<line x1="98" y1="852.76" x2="100.5" y2="852.76" stroke="#5a3a20" stroke-width="0.9" />
<line x1="490.8" y1="852.76" x2="488.3" y2="852.76" stroke="#5a3a20" stroke-width="0.9" />
<line x1="294.4" y1="637.2" x2="294.4" y2="642.2" stroke="#5a3a20" stroke-width="0.9" />
<line x1="294.4" y1="1030" x2="294.4" y2="1025" stroke="#5a3a20" stroke-width="0.9" />
<line x1="98" y1="833.6" x2="103" y2="833.6" stroke="#5a3a20" stroke-width="0.9" />
<line x1="490.8" y1="833.6" x2="485.8" y2="833.6" stroke="#5a3a20" stroke-width="0.9" />
<line x1="313.56" y1="637.2" x2="313.56" y2="639.7" stroke="#5a3a20" stroke-width="0.9" />
<line x1="313.56" y1="1030" x2="313.56" y2="1027.5" stroke="#5a3a20" stroke-width="0.9" />
<line x1="98" y1="814.44" x2="100.5" y2="814.44" stroke="#5a3a20" stroke-width="0.9" />
<line x1="490.8" y1="814.44" x2="488.3" y2="814.44" stroke="#5a3a20" stroke-width="0.9" />
<line x1="332.72" y1="637.2" x2="332.72" y2="639.7" stroke="#5a3a20" stroke-width="0.9" />
<line x1="332.72" y1="1030" x2="332.72" y2="1027.5" stroke="#5a3a20" stroke-width="0.9" />
<line x1="98" y1="795.28" x2="100.5" y2="795.28" stroke="#5a3a20" stroke-width="0.9" />
<line x1="490.8" y1="795.28" x2="488.3" y2="795.28" stroke="#5a3a20" stroke-width="0.9" />
<line x1="351.88" y1="637.2" x2="351.88" y2="639.7" stroke="#5a3a20" stroke-width="0.9" />
<line x1="351.88" y1="1030" x2="351.88" y2="1027.5" stroke="#5a3a20" stroke-width="0.9" />
<line x1="98" y1="776.12" x2="100.5" y2="776.12" stroke="#5a3a20" stroke-width="0.9" />
<line x1="490.8" y1="776.12" x2="488.3" y2="776.12" stroke="#5a3a20" stroke-width="0.9" />
<line x1="371.04" y1="637.2" x2="371.04" y2="639.7" stroke="#5a3a20" stroke-width="0.9" />
<line x1="371.04" y1="1030" x2="371.04" y2="1027.5" stroke="#5a3a20" stroke-width="0.9" />
<line x1="98" y1="756.96" x2="100.5" y2="756.96" stroke="#5a3a20" stroke-width="0.9" />
<line x1="490.8" y1="756.96" x2="488.3" y2="756.96" stroke="#5a3a20" stroke-width="0.9" />
<line x1="390.2" y1="637.2" x2="390.2" y2="642.2" stroke="#5a3a20" stroke-width="0.9" />
<line x1="390.2" y1="1030" x2="390.2" y2="1025" stroke="#5a3a20" stroke-width="0.9" />
<line x1="98" y1="737.8" x2="103" y2="737.8" stroke="#5a3a20" stroke-width="0.9" />
<line x1="490.8" y1="737.8" x2="485.8" y2="737.8" stroke="#5a3a20" stroke-width="0.9" />
<line x1="409.37" y1="637.2" x2="409.37" y2="639.7" stroke="#5a3a20" stroke-width="0.9" />
<line x1="409.37" y1="1030" x2="409.37" y2="1027.5" stroke="#5a3a20" stroke-width="0.9" />
<line x1="98" y1="718.63" x2="100.5" y2="718.63" stroke="#5a3a20" stroke-width="0.9" />
<line x1="490.8" y1="718.63" x2="488.3" y2="718.63" stroke="#5a3a20" stroke-width="0.9" />
<line x1="428.53" y1="637.2" x2="428.53" y2="639.7" stroke="#5a3a20" stroke-width="0.9" />
<line x1="428.53" y1="1030" x2="428.53" y2="1027.5" stroke="#5a3a20" stroke-width="0.9" />
<line x1="98" y1="699.47" x2="100.5" y2="699.47" stroke="#5a3a20" stroke-width="0.9" />
<line x1="490.8" y1="699.47" x2="488.3" y2="699.47" stroke="#5a3a20" stroke-width="0.9" />
<line x1="447.69" y1="637.2" x2="447.69" y2="639.7" stroke="#5a3a20" stroke-width="0.9" />
<line x1="447.69" y1="1030" x2="447.69" y2="1027.5" stroke="#5a3a20" stroke-width="0.9" />
<line x1="98" y1="680.31" x2="100.5" y2="680.31" stroke="#5a3a20" stroke-width="0.9" />
<line x1="490.8" y1="680.31" x2="488.3" y2="680.31" stroke="#5a3a20" stroke-width="0.9" />
<line x1="466.85" y1="637.2" x2="466.85" y2="639.7" stroke="#5a3a20" stroke-width="0.9" />
<line x1="466.85" y1="1030" x2="466.85" y2="1027.5" stroke="#5a3a20" stroke-width="0.9" />
<line x1="98" y1="661.15" x2="100.5" y2="661.15" stroke="#5a3a20" stroke-width="0.9" />
<line x1="490.8" y1="661.15" x2="488.3" y2="661.15" stroke="#5a3a20" stroke-width="0.9" />
<line x1="486.01" y1="637.2" x2="486.01" y2="642.2" stroke="#5a3a20" stroke-width="0.9" />
<line x1="486.01" y1="1030" x2="486.01" y2="1025" stroke="#5a3a20" stroke-width="0.9" />
<line x1="98" y1="641.99" x2="103" y2="641.99" stroke="#5a3a20" stroke-width="0.9" />
<line x1="490.8" y1="641.99" x2="485.8" y2="641.99" stroke="#5a3a20" stroke-width="0.9" />
<circle cx="294.4" cy="644.86" r="6.4" fill="#0a9a28"/>
<circle cx="294.4" cy="892.04" r="6.4" fill="#f01010"/>
<circle cx="294.4" cy="1020.99" r="6.4" fill="#0a0a0a"/>
<text x="90.8" y="650.49" font-size="25.3" text-anchor="end" >0.4</text>
<text x="90.8" y="746.3" font-size="25.3" text-anchor="end" >0.35</text>
<text x="90.8" y="842.1" font-size="25.3" text-anchor="end" >0.3</text>
<text x="90.8" y="937.9" font-size="25.3" text-anchor="end" >0.25</text>
<text x="90.8" y="1033.71" font-size="25.3" text-anchor="end" >0.2</text>
<text x="102.5" y="1060.2" font-size="25.3" text-anchor="middle" >100</text>
<text x="200" y="1060.2" font-size="25.3" text-anchor="middle" >200</text>
<text x="295" y="1060.2" font-size="25.3" text-anchor="middle" >300</text>
<text x="390.8" y="1060.2" font-size="25.3" text-anchor="middle" >400</text>
<text x="480" y="1060.2" font-size="25.3" text-anchor="middle" >500</text>
<text x="294.5" y="1105" font-size="31" text-anchor="middle" >U[meV]</text>
<text transform="translate(39.6,834.7) rotate(-90)" font-size="31.5" text-anchor="middle" >r<tspan font-size="17.5" dy="5">TF</tspan><tspan dy="-5"> [a]</tspan></text>
<text x="1.2" y="598.8" font-size="37" text-anchor="start" >(c)</text>
<text x="91.5" y="602.5" font-size="36" text-anchor="start" ><tspan font-style="italic">ρ</tspan>(0)</text>
<text x="98" y="584.5" font-size="25" text-anchor="start" >~</text>
<linearGradient id="gh" x1="0" x2="1" y1="0" y2="0"><stop offset="0" stop-color="#000000"/><stop offset="0.04" stop-color="#1a0000"/><stop offset="0.08" stop-color="#350000"/><stop offset="0.12" stop-color="#580101"/><stop offset="0.17" stop-color="#7a0303"/><stop offset="0.21" stop-color="#950606"/><stop offset="0.25" stop-color="#af0a0a"/><stop offset="0.29" stop-color="#c0130f"/><stop offset="0.33" stop-color="#d11e15"/><stop offset="0.38" stop-color="#de3a1e"/><stop offset="0.42" stop-color="#eb5627"/><stop offset="0.46" stop-color="#f36f2d"/><stop offset="0.5" stop-color="#fa8732"/><stop offset="0.54" stop-color="#fd9c2f"/><stop offset="0.58" stop-color="#ffb02d"/><stop offset="0.62" stop-color="#ffc228"/><stop offset="0.67" stop-color="#ffd423"/><stop offset="0.71" stop-color="#fde426"/><stop offset="0.75" stop-color="#fcf131"/><stop offset="0.79" stop-color="#fef656"/><stop offset="0.83" stop-color="#fffa7b"/><stop offset="0.88" stop-color="#fffca0"/><stop offset="0.92" stop-color="#fffdc5"/><stop offset="0.96" stop-color="#fffee2"/><stop offset="1" stop-color="#ffffff"/></linearGradient>
<rect x="178.1" y="585.6" width="281" height="14.8" fill="url(#gh)" stroke="#3a3a3a" stroke-width="1"/>
<line x1="224.93" y1="585.6" x2="224.93" y2="589.6" stroke="#3a3a3a" stroke-width="0.8" />
<line x1="224.93" y1="600.4" x2="224.93" y2="596.4" stroke="#3a3a3a" stroke-width="0.8" />
<line x1="271.77" y1="585.6" x2="271.77" y2="589.6" stroke="#3a3a3a" stroke-width="0.8" />
<line x1="271.77" y1="600.4" x2="271.77" y2="596.4" stroke="#3a3a3a" stroke-width="0.8" />
<line x1="318.6" y1="585.6" x2="318.6" y2="589.6" stroke="#3a3a3a" stroke-width="0.8" />
<line x1="318.6" y1="600.4" x2="318.6" y2="596.4" stroke="#3a3a3a" stroke-width="0.8" />
<line x1="365.43" y1="585.6" x2="365.43" y2="589.6" stroke="#3a3a3a" stroke-width="0.8" />
<line x1="365.43" y1="600.4" x2="365.43" y2="596.4" stroke="#3a3a3a" stroke-width="0.8" />
<line x1="412.27" y1="585.6" x2="412.27" y2="589.6" stroke="#3a3a3a" stroke-width="0.8" />
<line x1="412.27" y1="600.4" x2="412.27" y2="596.4" stroke="#3a3a3a" stroke-width="0.8" />
<text x="179" y="629.5" font-size="34" text-anchor="middle" >0</text>
<text x="422.5" y="625" font-size="36.5" text-anchor="start" letter-spacing="0.7">max</text>
<g transform="translate(613.3,636) scale(9.6073,9.5902)" shape-rendering="crispEdges" fill="none" stroke-width="1.08">
<path stroke="#f4722e" d="M0 0.5h1.04"/>
<path stroke="#fffc98" d="M1 0.5h1.04"/>
<path stroke="#fef444" d="M2 0.5h1.04"/>
<path stroke="#fcee28" d="M3 0.5h1.04"/>
<path stroke="#fcec28" d="M4 0.5h1.04"/>
<path stroke="#fcea26" d="M5 0.5h1.04"/>
<path stroke="#fee626" d="M6 0.5h1.04"/>
<path stroke="#fee226" d="M7 0.5h1.04"/>
<path stroke="#fede24" d="M8 0.5h1.04"/>
<path stroke="#feda24" d="M9 0.5h1.04"/>
<path stroke="#fed624" d="M10 0.5h1.04"/>
<path stroke="#ffd224" d="M11 0.5h1.04"/>
<path stroke="#ffd024" d="M12 0.5h1.04"/>
<path stroke="#ffcc26" d="M13 0.5h1.04"/>
<path stroke="#ffca26" d="M14 0.5h1.04"/>
<path stroke="#ffc826" d="M15 0.5h1.04"/>
<path stroke="#ffc428" d="M16 0.5h1.04"/>
<path stroke="#ffc228" d="M17 0.5h1.04"/>
<path stroke="#ffc028" d="M18 0.5h1.04"/>
<path stroke="#ffbe2a" d="M19 0.5h1.04"/>
<path stroke="#ffba2a" d="M20 0.5h1.04"/>
<path stroke="#ffb82a" d="M21 0.5h1.04"/>
<path stroke="#ffb62c" d="M22 0.5h1.04"/>
<path stroke="#ffb22c" d="M23 0.5h1.04"/>
<path stroke="#ffb02c" d="M24 0.5h1.04"/>
<path stroke="#feae2e" d="M25 0.5h1.04"/>
<path stroke="#feaa2e" d="M26 0.5h1.04"/>
<path stroke="#fea82e" d="M27 0.5h1.04"/>
<path stroke="#fea42e" d="M28 0.5h1.04"/>
<path stroke="#fea22e" d="M29 0.5h1.04"/>
<path stroke="#fea02e" d="M30 0.5h1.04"/>
<path stroke="#fc9e30" d="M31 0.5h1.04"/>
<path stroke="#fc9c30" d="M32 0.5h1.04"/>
<path stroke="#fc9a30" d="M33 0.5h2.04"/>
<path stroke="#fc9830" d="M35 0.5h1.04"/>
<path stroke="#fc9630" d="M36 0.5h2.04"/>
<path stroke="#fc9430" d="M38 0.5h2.04"/>
<path stroke="#fc9230" d="M40 0.5h1"/>
<path stroke="#f0682c" d="M0 1.5h1.04"/>
<path stroke="#fffcae" d="M1 1.5h1.04"/>
<path stroke="#fefa76" d="M2 1.5h1.04"/>
<path stroke="#fcf238" d="M3 1.5h1.04"/>
<path stroke="#fcee28" d="M4 1.5h1.04"/>
<path stroke="#fcea26" d="M5 1.5h1.04"/>
<path stroke="#fce826" d="M6 1.5h1.04"/>
<path stroke="#fee426" d="M7 1.5h1.04"/>
<path stroke="#fee026" d="M8 1.5h1.04"/>
<path stroke="#fedc24" d="M9 1.5h1.04"/>
<path stroke="#fed824" d="M10 1.5h1.04"/>
<path stroke="#ffd424" d="M11 1.5h1.04"/>
<path stroke="#ffd224" d="M12 1.5h1.04"/>
<path stroke="#ffce24" d="M13 1.5h1.04"/>
<path stroke="#ffcc26" d="M14 1.5h1.04"/>
<path stroke="#ffc826" d="M15 1.5h1.04"/>
<path stroke="#ffc626" d="M16 1.5h1.04"/>
<path stroke="#ffc428" d="M17 1.5h1.04"/>
<path stroke="#ffc228" d="M18 1.5h1.04"/>
<path stroke="#ffbe28" d="M19 1.5h1.04"/>
<path stroke="#ffbc2a" d="M20 1.5h1.04"/>
<path stroke="#ffba2a" d="M21 1.5h1.04"/>
<path stroke="#ffb82a" d="M22 1.5h1.04"/>
<path stroke="#ffb42c" d="M23 1.5h1.04"/>
<path stroke="#ffb22c" d="M24 1.5h1.04"/>
<path stroke="#ffb02c" d="M25 1.5h1.04"/>
<path stroke="#feac2e" d="M26 1.5h1.04"/>
<path stroke="#feaa2e" d="M27 1.5h1.04"/>
<path stroke="#fea62e" d="M28 1.5h1.04"/>
<path stroke="#fea42e" d="M29 1.5h1.04"/>
<path stroke="#fea22e" d="M30 1.5h1.04"/>
<path stroke="#fea02e" d="M31 1.5h1.04"/>
<path stroke="#fc9e30" d="M32 1.5h2.04"/>
<path stroke="#fc9c30" d="M34 1.5h1.04"/>
<path stroke="#fc9a30" d="M35 1.5h1.04"/>
<path stroke="#fc9830" d="M36 1.5h2.04"/>
<path stroke="#fc9630" d="M38 1.5h2.04"/>
<path stroke="#fc9430" d="M40 1.5h1"/>
<path stroke="#ee602a" d="M0 2.5h1.04"/>
<path stroke="#fef866" d="M1 2.5h1.04"/>
<path stroke="#fffca6" d="M2 2.5h1.04"/>
<path stroke="#fef866" d="M3 2.5h1.04"/>
<path stroke="#fcf234" d="M4 2.5h1.04"/>
<path stroke="#fcec28" d="M5 2.5h1.04"/>
<path stroke="#fce826" d="M6 2.5h1.04"/>
<path stroke="#fee626" d="M7 2.5h1.04"/>
<path stroke="#fee226" d="M8 2.5h1.04"/>
<path stroke="#fede24" d="M9 2.5h1.04"/>
<path stroke="#feda24" d="M10 2.5h1.04"/>
<path stroke="#fed624" d="M11 2.5h1.04"/>
<path stroke="#ffd424" d="M12 2.5h1.04"/>
<path stroke="#ffd024" d="M13 2.5h1.04"/>
<path stroke="#ffce24" d="M14 2.5h1.04"/>
<path stroke="#ffca26" d="M15 2.5h1.04"/>
<path stroke="#ffc826" d="M16 2.5h1.04"/>
<path stroke="#ffc626" d="M17 2.5h1.04"/>
<path stroke="#ffc428" d="M18 2.5h1.04"/>
<path stroke="#ffc228" d="M19 2.5h1.04"/>
<path stroke="#ffbe28" d="M20 2.5h1.04"/>
<path stroke="#ffbc2a" d="M21 2.5h1.04"/>
<path stroke="#ffba2a" d="M22 2.5h1.04"/>
<path stroke="#ffb62a" d="M23 2.5h1.04"/>
<path stroke="#ffb42c" d="M24 2.5h1.04"/>
<path stroke="#ffb22c" d="M25 2.5h1.04"/>
<path stroke="#ffb02c" d="M26 2.5h1.04"/>
<path stroke="#feac2e" d="M27 2.5h1.04"/>
<path stroke="#feaa2e" d="M28 2.5h1.04"/>
<path stroke="#fea82e" d="M29 2.5h1.04"/>
<path stroke="#fea62e" d="M30 2.5h1.04"/>
<path stroke="#fea42e" d="M31 2.5h1.04"/>
<path stroke="#fea22e" d="M32 2.5h1.04"/>
<path stroke="#fea02e" d="M33 2.5h1.04"/>
<path stroke="#fc9e30" d="M34 2.5h1.04"/>
<path stroke="#fc9c30" d="M35 2.5h2.04"/>
<path stroke="#fc9a30" d="M37 2.5h2.04"/>
<path stroke="#fc9830" d="M39 2.5h2"/>
<path stroke="#ec5a28" d="M0 3.5h1.04"/>
<path stroke="#f4722e" d="M1 3.5h1.04"/>
<path stroke="#fffc96" d="M2 3.5h1.04"/>
<path stroke="#fffc9e" d="M3 3.5h1.04"/>
<path stroke="#fef65a" d="M4 3.5h1.04"/>
<path stroke="#fcee28" d="M5 3.5h1.04"/>
<path stroke="#fcea26" d="M6 3.5h1.04"/>
<path stroke="#fee626" d="M7 3.5h1.04"/>
<path stroke="#fee426" d="M8 3.5h1.04"/>
<path stroke="#fee024" d="M9 3.5h1.04"/>
<path stroke="#fedc24" d="M10 3.5h1.04"/>
<path stroke="#fed824" d="M11 3.5h1.04"/>
<path stroke="#fed624" d="M12 3.5h1.04"/>
<path stroke="#ffd224" d="M13 3.5h1.04"/>
<path stroke="#ffd024" d="M14 3.5h1.04"/>
<path stroke="#ffce26" d="M15 3.5h1.04"/>
<path stroke="#ffca26" d="M16 3.5h1.04"/>
<path stroke="#ffc826" d="M17 3.5h1.04"/>
<path stroke="#ffc628" d="M18 3.5h1.04"/>
<path stroke="#ffc428" d="M19 3.5h1.04"/>
<path stroke="#ffc028" d="M20 3.5h1.04"/>
<path stroke="#ffbe28" d="M21 3.5h1.04"/>
<path stroke="#ffbc2a" d="M22 3.5h1.04"/>
<path stroke="#ffba2a" d="M23 3.5h1.04"/>
<path stroke="#ffb62a" d="M24 3.5h1.04"/>
<path stroke="#ffb42c" d="M25 3.5h1.04"/>
<path stroke="#ffb22c" d="M26 3.5h1.04"/>
<path stroke="#ffb02c" d="M27 3.5h1.04"/>
<path stroke="#feac2e" d="M28 3.5h1.04"/>
<path stroke="#feaa2e" d="M29 3.5h1.04"/>
<path stroke="#fea82e" d="M30 3.5h1.04"/>
<path stroke="#fea62e" d="M31 3.5h1.04"/>
<path stroke="#fea42e" d="M32 3.5h1.04"/>
<path stroke="#fea22e" d="M33 3.5h2.04"/>
<path stroke="#fea02e" d="M35 3.5h1.04"/>
<path stroke="#fc9e30" d="M36 3.5h2.04"/>
<path stroke="#fc9c30" d="M38 3.5h2.04"/>
<path stroke="#fc9a30" d="M40 3.5h1"/>
<path stroke="#ea5426" d="M0 4.5h1.04"/>
<path stroke="#f0682c" d="M1 4.5h1.04"/>
<path stroke="#fef44e" d="M2 4.5h1.04"/>
<path stroke="#fffca4" d="M3 4.5h1.04"/>
<path stroke="#fffa8e" d="M4 4.5h1.04"/>
<path stroke="#fcf23c" d="M5 4.5h1.04"/>
<path stroke="#fcec28" d="M6 4.5h1.04"/>
<path stroke="#fce826" d="M7 4.5h1.04"/>
<path stroke="#fee426" d="M8 4.5h1.04"/>
<path stroke="#fee226" d="M9 4.5h1.04"/>
<path stroke="#fede24" d="M10 4.5h1.04"/>
<path stroke="#feda24" d="M11 4.5h1.04"/>
<path stroke="#fed824" d="M12 4.5h1.04"/>
<path stroke="#fed624" d="M13 4.5h1.04"/>
<path stroke="#ffd224" d="M14 4.5h1.04"/>
<path stroke="#ffd024" d="M15 4.5h1.04"/>
<path stroke="#ffcc26" d="M16 4.5h1.04"/>
<path stroke="#ffca26" d="M17 4.5h1.04"/>
<path stroke="#ffc826" d="M18 4.5h1.04"/>
<path stroke="#ffc628" d="M19 4.5h1.04"/>
<path stroke="#ffc428" d="M20 4.5h1.04"/>
<path stroke="#ffc028" d="M21 4.5h1.04"/>
<path stroke="#ffbe28" d="M22 4.5h1.04"/>
<path stroke="#ffbc2a" d="M23 4.5h1.04"/>
<path stroke="#ffba2a" d="M24 4.5h1.04"/>
<path stroke="#ffb62a" d="M25 4.5h1.04"/>
<path stroke="#ffb42c" d="M26 4.5h1.04"/>
<path stroke="#ffb22c" d="M27 4.5h1.04"/>
<path stroke="#ffb02c" d="M28 4.5h1.04"/>
<path stroke="#feae2e" d="M29 4.5h1.04"/>
<path stroke="#feac2e" d="M30 4.5h1.04"/>
<path stroke="#feaa2e" d="M31 4.5h1.04"/>
<path stroke="#fea82e" d="M32 4.5h1.04"/>
<path stroke="#fea62e" d="M33 4.5h1.04"/>
<path stroke="#fea42e" d="M34 4.5h1.04"/>
<path stroke="#fea22e" d="M35 4.5h2.04"/>
<path stroke="#fea02e" d="M37 4.5h2.04"/>
<path stroke="#fc9e30" d="M39 4.5h2"/>
<path stroke="#e84e24" d="M0 5.5h1.04"/>
<path stroke="#ee5e2a" d="M1 5.5h1.04"/>
<path stroke="#fee226" d="M2 5.5h1.04"/>
<path stroke="#fef864" d="M3 5.5h1.04"/>
<path stroke="#fffcae" d="M4 5.5h1.04"/>
<path stroke="#fef870" d="M5 5.5h1.04"/>
<path stroke="#fcf02c" d="M6 5.5h1.04"/>
<path stroke="#fcea26" d="M7 5.5h1.04"/>
<path stroke="#fee626" d="M8 5.5h1.04"/>
<path stroke="#fee426" d="M9 5.5h1.04"/>
<path stroke="#fee026" d="M10 5.5h1.04"/>
<path stroke="#fedc24" d="M11 5.5h1.04"/>
<path stroke="#feda24" d="M12 5.5h1.04"/>
<path stroke="#fed824" d="M13 5.5h1.04"/>
<path stroke="#ffd424" d="M14 5.5h1.04"/>
<path stroke="#ffd224" d="M15 5.5h1.04"/>
<path stroke="#ffd024" d="M16 5.5h1.04"/>
<path stroke="#ffce26" d="M17 5.5h1.04"/>
<path stroke="#ffca26" d="M18 5.5h1.04"/>
<path stroke="#ffc826" d="M19 5.5h1.04"/>
<path stroke="#ffc626" d="M20 5.5h1.04"/>
<path stroke="#ffc428" d="M21 5.5h1.04"/>
<path stroke="#ffc228" d="M22 5.5h1.04"/>
<path stroke="#ffbe28" d="M23 5.5h1.04"/>
<path stroke="#ffbc2a" d="M24 5.5h1.04"/>
<path stroke="#ffba2a" d="M25 5.5h1.04"/>
<path stroke="#ffb82a" d="M26 5.5h1.04"/>
<path stroke="#ffb42c" d="M27 5.5h1.04"/>
<path stroke="#ffb22c" d="M28 5.5h1.04"/>
<path stroke="#ffb02c" d="M29 5.5h1.04"/>
<path stroke="#feae2e" d="M30 5.5h1.04"/>
<path stroke="#feac2e" d="M31 5.5h2.04"/>
<path stroke="#feaa2e" d="M33 5.5h1.04"/>
<path stroke="#fea82e" d="M34 5.5h1.04"/>
<path stroke="#fea62e" d="M35 5.5h2.04"/>
<path stroke="#fea42e" d="M37 5.5h1.04"/>
<path stroke="#fea22e" d="M38 5.5h2.04"/>
<path stroke="#fea02e" d="M40 5.5h1"/>
<path stroke="#e64a24" d="M0 6.5h1.04"/>
<path stroke="#ec5828" d="M1 6.5h1.04"/>
<path stroke="#f4702e" d="M2 6.5h1.04"/>
<path stroke="#fcea28" d="M3 6.5h1.04"/>
<path stroke="#fffa84" d="M4 6.5h1.04"/>
<path stroke="#fffca4" d="M5 6.5h1.04"/>
<path stroke="#fef65e" d="M6 6.5h1.04"/>
<path stroke="#fcf02e" d="M7 6.5h1.04"/>
<path stroke="#fcea28" d="M8 6.5h1.04"/>
<path stroke="#fee626" d="M9 6.5h1.04"/>
<path stroke="#fee226" d="M10 6.5h1.04"/>
<path stroke="#fee024" d="M11 6.5h1.04"/>
<path stroke="#fedc24" d="M12 6.5h1.04"/>
<path stroke="#feda24" d="M13 6.5h1.04"/>
<path stroke="#fed824" d="M14 6.5h1.04"/>
<path stroke="#fed624" d="M15 6.5h1.04"/>
<path stroke="#ffd224" d="M16 6.5h1.04"/>
<path stroke="#ffd024" d="M17 6.5h1.04"/>
<path stroke="#ffce24" d="M18 6.5h1.04"/>
<path stroke="#ffcc26" d="M19 6.5h1.04"/>
<path stroke="#ffca26" d="M20 6.5h1.04"/>
<path stroke="#ffc626" d="M21 6.5h1.04"/>
<path stroke="#ffc428" d="M22 6.5h1.04"/>
<path stroke="#ffc228" d="M23 6.5h1.04"/>
<path stroke="#ffc028" d="M24 6.5h1.04"/>
<path stroke="#ffbc2a" d="M25 6.5h1.04"/>
<path stroke="#ffba2a" d="M26 6.5h1.04"/>
<path stroke="#ffb82a" d="M27 6.5h1.04"/>
<path stroke="#ffb62c" d="M28 6.5h1.04"/>
<path stroke="#ffb42c" d="M29 6.5h1.04"/>
<path stroke="#ffb22c" d="M30 6.5h1.04"/>
<path stroke="#ffb02c" d="M31 6.5h1.04"/>
<path stroke="#feae2e" d="M32 6.5h2.04"/>
<path stroke="#feac2e" d="M34 6.5h1.04"/>
<path stroke="#feaa2e" d="M35 6.5h1.04"/>
<path stroke="#fea82e" d="M36 6.5h2.04"/>
<path stroke="#fea62e" d="M38 6.5h2.04"/>
<path stroke="#fea42e" d="M40 6.5h1"/>
<path stroke="#e44622" d="M0 7.5h1.04"/>
<path stroke="#ea5226" d="M1 7.5h1.04"/>
<path stroke="#f0662a" d="M2 7.5h1.04"/>
<path stroke="#fed624" d="M3 7.5h1.04"/>
<path stroke="#fcf23e" d="M4 7.5h1.04"/>
<path stroke="#fffc98" d="M5 7.5h1.04"/>
<path stroke="#fffca2" d="M6 7.5h1.04"/>
<path stroke="#fef86c" d="M7 7.5h1.04"/>
<path stroke="#fcf23c" d="M8 7.5h1.04"/>
<path stroke="#fcec28" d="M9 7.5h1.04"/>
<path stroke="#fee626" d="M10 7.5h1.04"/>
<path stroke="#fee226" d="M11 7.5h1.04"/>
<path stroke="#fee024" d="M12 7.5h1.04"/>
<path stroke="#fedc24" d="M13 7.5h1.04"/>
<path stroke="#feda24" d="M14 7.5h1.04"/>
<path stroke="#fed824" d="M15 7.5h1.04"/>
<path stroke="#fed624" d="M16 7.5h1.04"/>
<path stroke="#ffd424" d="M17 7.5h1.04"/>
<path stroke="#ffd024" d="M18 7.5h1.04"/>
<path stroke="#ffce24" d="M19 7.5h1.04"/>
<path stroke="#ffcc26" d="M20 7.5h1.04"/>
<path stroke="#ffca26" d="M21 7.5h1.04"/>
<path stroke="#ffc826" d="M22 7.5h1.04"/>
<path stroke="#ffc428" d="M23 7.5h1.04"/>
<path stroke="#ffc228" d="M24 7.5h1.04"/>
<path stroke="#ffc028" d="M25 7.5h1.04"/>
<path stroke="#ffbe2a" d="M26 7.5h1.04"/>
<path stroke="#ffbc2a" d="M27 7.5h1.04"/>
<path stroke="#ffb82a" d="M28 7.5h1.04"/>
<path stroke="#ffb62a" d="M29 7.5h1.04"/>
<path stroke="#ffb62c" d="M30 7.5h1.04"/>
<path stroke="#ffb42c" d="M31 7.5h1.04"/>
<path stroke="#ffb22c" d="M32 7.5h1.04"/>
<path stroke="#ffb02c" d="M33 7.5h2.04"/>
<path stroke="#feae2e" d="M35 7.5h2.04"/>
<path stroke="#feac2e" d="M37 7.5h1.04"/>
<path stroke="#feaa2e" d="M38 7.5h2.04"/>
<path stroke="#fea82e" d="M40 7.5h1"/>
<path stroke="#e24422" d="M0 8.5h1.04"/>
<path stroke="#e64c24" d="M1 8.5h1.04"/>
<path stroke="#ee5c28" d="M2 8.5h1.04"/>
<path stroke="#f26a2c" d="M3 8.5h1.04"/>
<path stroke="#fee026" d="M4 8.5h1.04"/>
<path stroke="#fef450" d="M5 8.5h1.04"/>
<path stroke="#fffa92" d="M6 8.5h1.04"/>
<path stroke="#fffcac" d="M7 8.5h1.04"/>
<path stroke="#fffa86" d="M8 8.5h1.04"/>
<path stroke="#fef44e" d="M9 8.5h1.04"/>
<path stroke="#fcee28" d="M10 8.5h1.04"/>
<path stroke="#fee626" d="M11 8.5h1.04"/>
<path stroke="#fee226" d="M12 8.5h1.04"/>
<path stroke="#fee026" d="M13 8.5h1.04"/>
<path stroke="#fede24" d="M14 8.5h1.04"/>
<path stroke="#fedc24" d="M15 8.5h1.04"/>
<path stroke="#fed824" d="M16 8.5h1.04"/>
<path stroke="#fed624" d="M17 8.5h1.04"/>
<path stroke="#ffd424" d="M18 8.5h1.04"/>
<path stroke="#ffd224" d="M19 8.5h1.04"/>
<path stroke="#ffd024" d="M20 8.5h1.04"/>
<path stroke="#ffce24" d="M21 8.5h1.04"/>
<path stroke="#ffcc26" d="M22 8.5h1.04"/>
<path stroke="#ffc826" d="M23 8.5h1.04"/>
<path stroke="#ffc626" d="M24 8.5h1.04"/>
<path stroke="#ffc428" d="M25 8.5h1.04"/>
<path stroke="#ffc228" d="M26 8.5h1.04"/>
<path stroke="#ffbe28" d="M27 8.5h1.04"/>
<path stroke="#ffbc2a" d="M28 8.5h1.04"/>
<path stroke="#ffba2a" d="M29 8.5h2.04"/>
<path stroke="#ffb82a" d="M31 8.5h1.04"/>
<path stroke="#ffb62c" d="M32 8.5h1.04"/>
<path stroke="#ffb42c" d="M33 8.5h2.04"/>
<path stroke="#ffb22c" d="M35 8.5h2.04"/>
<path stroke="#ffb02c" d="M37 8.5h2.04"/>
<path stroke="#feae2e" d="M39 8.5h2"/>
<path stroke="#e24220" d="M0 9.5h1.04"/>
<path stroke="#e44822" d="M1 9.5h1.04"/>
<path stroke="#ea5628" d="M2 9.5h1.04"/>
<path stroke="#ee602a" d="M3 9.5h1.04"/>
<path stroke="#ffd024" d="M4 9.5h1.04"/>
<path stroke="#fee426" d="M5 9.5h1.04"/>
<path stroke="#fcf23a" d="M6 9.5h1.04"/>
<path stroke="#fefa76" d="M7 9.5h1.04"/>
<path stroke="#fffca8" d="M8 9.5h1.04"/>
<path stroke="#fffc9a" d="M9 9.5h1.04"/>
<path stroke="#fef65e" d="M10 9.5h1.04"/>
<path stroke="#fcf02c" d="M11 9.5h1.04"/>
<path stroke="#fce826" d="M12 9.5h1.04"/>
<path stroke="#fee426" d="M13 9.5h1.04"/>
<path stroke="#fee226" d="M14 9.5h1.04"/>
<path stroke="#fede24" d="M15 9.5h1.04"/>
<path stroke="#fedc24" d="M16 9.5h1.04"/>
<path stroke="#feda24" d="M17 9.5h1.04"/>
<path stroke="#fed824" d="M18 9.5h1.04"/>
<path stroke="#fed624" d="M19 9.5h1.04"/>
<path stroke="#ffd424" d="M20 9.5h1.04"/>
<path stroke="#ffd224" d="M21 9.5h1.04"/>
<path stroke="#ffd024" d="M22 9.5h1.04"/>
<path stroke="#ffcc26" d="M23 9.5h1.04"/>
<path stroke="#ffca26" d="M24 9.5h1.04"/>
<path stroke="#ffc826" d="M25 9.5h1.04"/>
<path stroke="#ffc628" d="M26 9.5h1.04"/>
<path stroke="#ffc428" d="M27 9.5h1.04"/>
<path stroke="#ffc028" d="M28 9.5h1.04"/>
<path stroke="#ffbe28" d="M29 9.5h1.04"/>
<path stroke="#ffbe2a" d="M30 9.5h1.04"/>
<path stroke="#ffbc2a" d="M31 9.5h1.04"/>
<path stroke="#ffba2a" d="M32 9.5h1.04"/>
<path stroke="#ffb82a" d="M33 9.5h2.04"/>
<path stroke="#ffb62c" d="M35 9.5h2.04"/>
<path stroke="#ffb42c" d="M37 9.5h2.04"/>
<path stroke="#ffb22c" d="M39 9.5h2"/>
<path stroke="#e04020" d="M0 10.5h1.04"/>
<path stroke="#e44422" d="M1 10.5h1.04"/>
<path stroke="#e84e24" d="M2 10.5h1.04"/>
<path stroke="#ec5828" d="M3 10.5h1.04"/>
<path stroke="#f0662a" d="M4 10.5h1.04"/>
<path stroke="#ffd224" d="M5 10.5h1.04"/>
<path stroke="#fede24" d="M6 10.5h1.04"/>
<path stroke="#fcea28" d="M7 10.5h1.04"/>
<path stroke="#fef654" d="M8 10.5h1.04"/>
<path stroke="#fffc96" d="M9 10.5h1.04"/>
<path stroke="#fffca6" d="M10 10.5h1.04"/>
<path stroke="#fefa76" d="M11 10.5h1.04"/>
<path stroke="#fcf442" d="M12 10.5h1.04"/>
<path stroke="#fcee28" d="M13 10.5h1.04"/>
<path stroke="#fce826" d="M14 10.5h1.04"/>
<path stroke="#fee426" d="M15 10.5h1.04"/>
<path stroke="#fee026" d="M16 10.5h1.04"/>
<path stroke="#fede24" d="M17 10.5h1.04"/>
<path stroke="#fedc24" d="M18 10.5h1.04"/>
<path stroke="#feda24" d="M19 10.5h1.04"/>
<path stroke="#fed824" d="M20 10.5h1.04"/>
<path stroke="#fed624" d="M21 10.5h1.04"/>
<path stroke="#ffd424" d="M22 10.5h1.04"/>
<path stroke="#ffd224" d="M23 10.5h1.04"/>
<path stroke="#ffce24" d="M24 10.5h1.04"/>
<path stroke="#ffcc26" d="M25 10.5h1.04"/>
<path stroke="#ffca26" d="M26 10.5h1.04"/>
<path stroke="#ffc826" d="M27 10.5h1.04"/>
<path stroke="#ffc628" d="M28 10.5h1.04"/>
<path stroke="#ffc428" d="M29 10.5h1.04"/>
<path stroke="#ffc228" d="M30 10.5h1.04"/>
<path stroke="#ffc028" d="M31 10.5h1.04"/>
<path stroke="#ffbe28" d="M32 10.5h1.04"/>
<path stroke="#ffbe2a" d="M33 10.5h1.04"/>
<path stroke="#ffbc2a" d="M34 10.5h2.04"/>
<path stroke="#ffba2a" d="M36 10.5h2.04"/>
<path stroke="#ffb82a" d="M38 10.5h2.04"/>
<path stroke="#ffb62a" d="M40 10.5h1"/>
<path stroke="#e03e20" d="M0 11.5h1.04"/>
<path stroke="#e24220" d="M1 11.5h1.04"/>
<path stroke="#e64a24" d="M2 11.5h1.04"/>
<path stroke="#e85026" d="M3 11.5h1.04"/>
<path stroke="#ec5c28" d="M4 11.5h1.04"/>
<path stroke="#ffc826" d="M5 11.5h1.04"/>
<path stroke="#ffd024" d="M6 11.5h1.04"/>
<path stroke="#fed624" d="M7 11.5h1.04"/>
<path stroke="#fee026" d="M8 11.5h1.04"/>
<path stroke="#fcf238" d="M9 11.5h1.04"/>
<path stroke="#fffa7e" d="M10 11.5h1.04"/>
<path stroke="#fffcac" d="M11 11.5h1.04"/>
<path stroke="#fffc96" d="M12 11.5h1.04"/>
<path stroke="#fef86c" d="M13 11.5h1.04"/>
<path stroke="#fef444" d="M14 11.5h1.04"/>
<path stroke="#fcee28" d="M15 11.5h1.04"/>
<path stroke="#fce826" d="M16 11.5h1.04"/>
<path stroke="#fee226" d="M17 11.5h1.04"/>
<path stroke="#fee026" d="M18 11.5h1.04"/>
<path stroke="#fede24" d="M19 11.5h1.04"/>
<path stroke="#fedc24" d="M20 11.5h1.04"/>
<path stroke="#feda24" d="M21 11.5h1.04"/>
<path stroke="#fed824" d="M22 11.5h1.04"/>
<path stroke="#fed624" d="M23 11.5h1.04"/>
<path stroke="#ffd424" d="M24 11.5h1.04"/>
<path stroke="#ffd224" d="M25 11.5h1.04"/>
<path stroke="#ffd024" d="M26 11.5h1.04"/>
<path stroke="#ffcc26" d="M27 11.5h1.04"/>
<path stroke="#ffca26" d="M28 11.5h1.04"/>
<path stroke="#ffc826" d="M29 11.5h1.04"/>
<path stroke="#ffc626" d="M30 11.5h1.04"/>
<path stroke="#ffc628" d="M31 11.5h1.04"/>
<path stroke="#ffc428" d="M32 11.5h1.04"/>
<path stroke="#ffc228" d="M33 11.5h2.04"/>
<path stroke="#ffc028" d="M35 11.5h2.04"/>
<path stroke="#ffbe2a" d="M37 11.5h2.04"/>
<path stroke="#ffbc2a" d="M39 11.5h2"/>
<path stroke="#de3c1e" d="M0 12.5h1.04"/>
<path stroke="#e04020" d="M1 12.5h1.04"/>
<path stroke="#e44622" d="M2 12.5h1.04"/>
<path stroke="#e64a24" d="M3 12.5h1.04"/>
<path stroke="#ea5226" d="M4 12.5h1.04"/>
<path stroke="#ee5e2a" d="M5 12.5h1.04"/>
<path stroke="#ffc628" d="M6 12.5h1.04"/>
<path stroke="#ffca26" d="M7 12.5h1.04"/>
<path stroke="#ffce24" d="M8 12.5h1.04"/>
<path stroke="#fed824" d="M9 12.5h1.04"/>
<path stroke="#fcec28" d="M10 12.5h1.04"/>
<path stroke="#fef65a" d="M11 12.5h1.04"/>
<path stroke="#fffa90" d="M12 12.5h1.04"/>
<path stroke="#fffcac" d="M13 12.5h1.04"/>
<path stroke="#fffc9a" d="M14 12.5h1.04"/>
<path stroke="#fefa72" d="M15 12.5h1.04"/>
<path stroke="#fef448" d="M16 12.5h1.04"/>
<path stroke="#fcf02a" d="M17 12.5h1.04"/>
<path stroke="#fcea26" d="M18 12.5h1.04"/>
<path stroke="#fee426" d="M19 12.5h1.04"/>
<path stroke="#fee226" d="M20 12.5h1.04"/>
<path stroke="#fee024" d="M21 12.5h1.04"/>
<path stroke="#fedc24" d="M22 12.5h1.04"/>
<path stroke="#feda24" d="M23 12.5h1.04"/>
<path stroke="#fed824" d="M24 12.5h1.04"/>
<path stroke="#fed624" d="M25 12.5h1.04"/>
<path stroke="#ffd424" d="M26 12.5h1.04"/>
<path stroke="#ffd224" d="M27 12.5h1.04"/>
<path stroke="#ffd024" d="M28 12.5h1.04"/>
<path stroke="#ffce24" d="M29 12.5h1.04"/>
<path stroke="#ffcc26" d="M30 12.5h1.04"/>
<path stroke="#ffca26" d="M31 12.5h2.04"/>
<path stroke="#ffc826" d="M33 12.5h1.04"/>
<path stroke="#ffc626" d="M34 12.5h1.04"/>
<path stroke="#ffc628" d="M35 12.5h1.04"/>
<path stroke="#ffc428" d="M36 12.5h2.04"/>
<path stroke="#ffc228" d="M38 12.5h3"/>
<path stroke="#de3a1e" d="M0 13.5h1.04"/>
<path stroke="#e03e20" d="M1 13.5h1.04"/>
<path stroke="#e24220" d="M2 13.5h1.04"/>
<path stroke="#e44422" d="M3 13.5h1.04"/>
<path stroke="#e64a24" d="M4 13.5h1.04"/>
<path stroke="#ea5426" d="M5 13.5h1.04"/>
<path stroke="#ffbc2a" d="M6 13.5h1.04"/>
<path stroke="#ffc028" d="M7 13.5h1.04"/>
<path stroke="#ffc228" d="M8 13.5h1.04"/>
<path stroke="#ffc826" d="M9 13.5h1.04"/>
<path stroke="#ffd024" d="M10 13.5h1.04"/>
<path stroke="#fede24" d="M11 13.5h1.04"/>
<path stroke="#fcee28" d="M12 13.5h1.04"/>
<path stroke="#fef656" d="M13 13.5h1.04"/>
<path stroke="#fffa88" d="M14 13.5h1.04"/>
<path stroke="#fffcaa" d="M15 13.5h1.04"/>
<path stroke="#fffca0" d="M16 13.5h1.04"/>
<path stroke="#fffa7e" d="M17 13.5h1.04"/>
<path stroke="#fef65c" d="M18 13.5h1.04"/>
<path stroke="#fcf440" d="M19 13.5h1.04"/>
<path stroke="#fcf02a" d="M20 13.5h1.04"/>
<path stroke="#fcea26" d="M21 13.5h1.04"/>
<path stroke="#fee426" d="M22 13.5h1.04"/>
<path stroke="#fee226" d="M23 13.5h1.04"/>
<path stroke="#fede24" d="M24 13.5h1.04"/>
<path stroke="#fedc24" d="M25 13.5h1.04"/>
<path stroke="#feda24" d="M26 13.5h1.04"/>
<path stroke="#fed824" d="M27 13.5h1.04"/>
<path stroke="#fed624" d="M28 13.5h1.04"/>
<path stroke="#ffd424" d="M29 13.5h1.04"/>
<path stroke="#ffd224" d="M30 13.5h1.04"/>
<path stroke="#ffd024" d="M31 13.5h2.04"/>
<path stroke="#ffce24" d="M33 13.5h1.04"/>
<path stroke="#ffcc26" d="M34 13.5h2.04"/>
<path stroke="#ffca26" d="M36 13.5h3.04"/>
<path stroke="#ffc826" d="M39 13.5h2"/>
<path stroke="#de3a1e" d="M0 14.5h1.04"/>
<path stroke="#de3c1e" d="M1 14.5h1.04"/>
<path stroke="#e03e20" d="M2 14.5h1.04"/>
<path stroke="#e24020" d="M3 14.5h1.04"/>
<path stroke="#e24422" d="M4 14.5h1.04"/>
<path stroke="#e64a24" d="M5 14.5h1.04"/>
<path stroke="#ea5226" d="M6 14.5h1.04"/>
<path stroke="#ffb42c" d="M7 14.5h1.04"/>
<path stroke="#ffb62a" d="M8 14.5h1.04"/>
<path stroke="#ffba2a" d="M9 14.5h1.04"/>
<path stroke="#ffc028" d="M10 14.5h1.04"/>
<path stroke="#ffc826" d="M11 14.5h1.04"/>
<path stroke="#ffd224" d="M12 14.5h1.04"/>
<path stroke="#fedc24" d="M13 14.5h1.04"/>
<path stroke="#fcec28" d="M14 14.5h1.04"/>
<path stroke="#fef44c" d="M15 14.5h1.04"/>
<path stroke="#fffa7c" d="M16 14.5h1.04"/>
<path stroke="#fffca0" d="M17 14.5h1.04"/>
<path stroke="#fffcac" d="M18 14.5h1.04"/>
<path stroke="#fffc9e" d="M19 14.5h1.04"/>
<path stroke="#fffa84" d="M20 14.5h1.04"/>
<path stroke="#fef866" d="M21 14.5h1.04"/>
<path stroke="#fef448" d="M22 14.5h1.04"/>
<path stroke="#fcf230" d="M23 14.5h1.04"/>
<path stroke="#fcec28" d="M24 14.5h1.04"/>
<path stroke="#fce826" d="M25 14.5h1.04"/>
<path stroke="#fee226" d="M26 14.5h1.04"/>
<path stroke="#fede24" d="M27 14.5h1.04"/>
<path stroke="#fedc24" d="M28 14.5h1.04"/>
<path stroke="#feda24" d="M29 14.5h1.04"/>
<path stroke="#fed824" d="M30 14.5h2.04"/>
<path stroke="#fed624" d="M32 14.5h1.04"/>
<path stroke="#ffd424" d="M33 14.5h2.04"/>
<path stroke="#ffd224" d="M35 14.5h2.04"/>
<path stroke="#ffd024" d="M37 14.5h2.04"/>
<path stroke="#ffce24" d="M39 14.5h2"/>
<path stroke="#de381e" d="M0 15.5h1.04"/>
<path stroke="#de3a1e" d="M1 15.5h1.04"/>
<path stroke="#de3c1e" d="M2 15.5h1.04"/>
<path stroke="#e03e20" d="M3 15.5h1.04"/>
<path stroke="#e04020" d="M4 15.5h1.04"/>
<path stroke="#e24422" d="M5 15.5h1.04"/>
<path stroke="#e44822" d="M6 15.5h1.04"/>
<path stroke="#e64c24" d="M7 15.5h1.04"/>
<path stroke="#feaa2e" d="M8 15.5h1.04"/>
<path stroke="#feae2e" d="M9 15.5h1.04"/>
<path stroke="#ffb22c" d="M10 15.5h1.04"/>
<path stroke="#ffba2a" d="M11 15.5h1.04"/>
<path stroke="#ffc028" d="M12 15.5h1.04"/>
<path stroke="#ffc626" d="M13 15.5h1.04"/>
<path stroke="#ffce24" d="M14 15.5h1.04"/>
<path stroke="#fed824" d="M15 15.5h1.04"/>
<path stroke="#fee426" d="M16 15.5h1.04"/>
<path stroke="#fcee28" d="M17 15.5h1.04"/>
<path stroke="#fcf442" d="M18 15.5h1.04"/>
<path stroke="#fef868" d="M19 15.5h1.04"/>
<path stroke="#fffc94" d="M20 15.5h1.04"/>
<path stroke="#fffcb2" d="M21 15.5h1.04"/>
<path stroke="#fffca4" d="M22 15.5h1.04"/>
<path stroke="#fffa90" d="M23 15.5h1.04"/>
<path stroke="#fffa78" d="M24 15.5h1.04"/>
<path stroke="#fef65e" d="M25 15.5h1.04"/>
<path stroke="#fef444" d="M26 15.5h1.04"/>
<path stroke="#fcf02a" d="M27 15.5h1.04"/>
<path stroke="#fcea26" d="M28 15.5h1.04"/>
<path stroke="#fee426" d="M29 15.5h1.04"/>
<path stroke="#fee226" d="M30 15.5h1.04"/>
<path stroke="#fee024" d="M31 15.5h1.04"/>
<path stroke="#fede24" d="M32 15.5h1.04"/>
<path stroke="#fedc24" d="M33 15.5h1.04"/>
<path stroke="#feda24" d="M34 15.5h2.04"/>
<path stroke="#fed824" d="M36 15.5h2.04"/>
<path stroke="#fed624" d="M38 15.5h3"/>
<path stroke="#dc381e" d="M0 16.5h1.04"/>
<path stroke="#de381e" d="M1 16.5h1.04"/>
<path stroke="#de3a1e" d="M2 16.5h2.04"/>
<path stroke="#de3c1e" d="M4 16.5h1.04"/>
<path stroke="#e03e20" d="M5 16.5h1.04"/>
<path stroke="#e04020" d="M6 16.5h1.04"/>
<path stroke="#e24220" d="M7 16.5h1.04"/>
<path stroke="#e44622" d="M8 16.5h1.04"/>
<path stroke="#fc9e30" d="M9 16.5h1.04"/>
<path stroke="#fea42e" d="M10 16.5h1.04"/>
<path stroke="#feaa2e" d="M11 16.5h1.04"/>
<path stroke="#ffb22c" d="M12 16.5h1.04"/>
<path stroke="#ffb82a" d="M13 16.5h1.04"/>
<path stroke="#ffbe2a" d="M14 16.5h1.04"/>
<path stroke="#ffc428" d="M15 16.5h1.04"/>
<path stroke="#ffc826" d="M16 16.5h1.04"/>
<path stroke="#ffca26" d="M17 16.5h2.04"/>
<path stroke="#ffcc26" d="M19 16.5h1.04"/>
<path stroke="#ffd024" d="M20 16.5h1.04"/>
<path stroke="#fede24" d="M21 16.5h1.04"/>
<path stroke="#fcf236" d="M22 16.5h1.04"/>
<path stroke="#fef86e" d="M23 16.5h1.04"/>
<path stroke="#fffc9e" d="M24 16.5h1.04"/>
<path stroke="#fffcae" d="M25 16.5h1.04"/>
<path stroke="#fffca2" d="M26 16.5h1.04"/>
<path stroke="#fffa8a" d="M27 16.5h1.04"/>
<path stroke="#fef870" d="M28 16.5h1.04"/>
<path stroke="#fef65a" d="M29 16.5h1.04"/>
<path stroke="#fef446" d="M30 16.5h1.04"/>
<path stroke="#fcf238" d="M31 16.5h1.04"/>
<path stroke="#fcf02c" d="M32 16.5h1.04"/>
<path stroke="#fcee28" d="M33 16.5h1.04"/>
<path stroke="#fcea26" d="M34 16.5h1.04"/>
<path stroke="#fce826" d="M35 16.5h1.04"/>
<path stroke="#fee426" d="M36 16.5h2.04"/>
<path stroke="#fee226" d="M38 16.5h1.04"/>
<path stroke="#fee026" d="M39 16.5h1.04"/>
<path stroke="#fee024" d="M40 16.5h1"/>
<path stroke="#dc361c" d="M0 17.5h1.04"/>
<path stroke="#dc381e" d="M1 17.5h1.04"/>
<path stroke="#de381e" d="M2 17.5h1.04"/>
<path stroke="#dc381e" d="M3 17.5h1.04"/>
<path stroke="#de381e" d="M4 17.5h1.04"/>
<path stroke="#de3a1e" d="M5 17.5h4.04"/>
<path stroke="#e03e20" d="M9 17.5h1.04"/>
<path stroke="#fc9230" d="M10 17.5h1.04"/>
<path stroke="#fc9a30" d="M11 17.5h1.04"/>
<path stroke="#fea02e" d="M12 17.5h1.04"/>
<path stroke="#fea82e" d="M13 17.5h1.04"/>
<path stroke="#ffb02c" d="M14 17.5h1.04"/>
<path stroke="#ffb42c" d="M15 17.5h1.04"/>
<path stroke="#ffb82a" d="M16 17.5h2.04"/>
<path stroke="#ffb62c" d="M18 17.5h1.04"/>
<path stroke="#ffb02c" d="M19 17.5h1.04"/>
<path stroke="#feac2e" d="M20 17.5h1.04"/>
<path stroke="#fea62e" d="M21 17.5h1.04"/>
<path stroke="#fea42e" d="M22 17.5h1.04"/>
<path stroke="#feaa2e" d="M23 17.5h1.04"/>
<path stroke="#ffb62c" d="M24 17.5h1.04"/>
<path stroke="#ffce24" d="M25 17.5h1.04"/>
<path stroke="#fcf02a" d="M26 17.5h1.04"/>
<path stroke="#fefa78" d="M27 17.5h1.04"/>
<path stroke="#fffca8" d="M28 17.5h1.04"/>
<path stroke="#fffcac" d="M29 17.5h1.04"/>
<path stroke="#fffca6" d="M30 17.5h1.04"/>
<path stroke="#fffc9c" d="M31 17.5h1.04"/>
<path stroke="#fffa90" d="M32 17.5h1.04"/>
<path stroke="#fffa84" d="M33 17.5h1.04"/>
<path stroke="#fefa76" d="M34 17.5h1.04"/>
<path stroke="#fef86c" d="M35 17.5h1.04"/>
<path stroke="#fef860" d="M36 17.5h1.04"/>
<path stroke="#fef658" d="M37 17.5h1.04"/>
<path stroke="#fef44e" d="M38 17.5h1.04"/>
<path stroke="#fef446" d="M39 17.5h1.04"/>
<path stroke="#fcf240" d="M40 17.5h1"/>
<path stroke="#dc361c" d="M0 18.5h6.04"/>
<path stroke="#dc341c" d="M6 18.5h1.04"/>
<path stroke="#da321c" d="M7 18.5h2.04"/>
<path stroke="#da341c" d="M9 18.5h1.04"/>
<path stroke="#dc361c" d="M10 18.5h1.04"/>
<path stroke="#fa8832" d="M11 18.5h1.04"/>
<path stroke="#fc9030" d="M12 18.5h1.04"/>
<path stroke="#fc9630" d="M13 18.5h1.04"/>
<path stroke="#fc9e30" d="M14 18.5h1.04"/>
<path stroke="#fea42e" d="M15 18.5h1.04"/>
<path stroke="#fea82e" d="M16 18.5h2.04"/>
<path stroke="#fea42e" d="M18 18.5h1.04"/>
<path stroke="#fc9e30" d="M19 18.5h1.04"/>
<path stroke="#fc9830" d="M20 18.5h1.04"/>
<path stroke="#fc9230" d="M21 18.5h1.04"/>
<path stroke="#fa8c32" d="M22 18.5h1.04"/>
<path stroke="#fa8632" d="M23 18.5h1.04"/>
<path stroke="#f88432" d="M24 18.5h1.04"/>
<path stroke="#fa8832" d="M25 18.5h1.04"/>
<path stroke="#fc9030" d="M26 18.5h1.04"/>
<path stroke="#fea22e" d="M27 18.5h1.04"/>
<path stroke="#ffba2a" d="M28 18.5h1.04"/>
<path stroke="#ffd024" d="M29 18.5h1.04"/>
<path stroke="#fee626" d="M30 18.5h1.04"/>
<path stroke="#fcf23c" d="M31 18.5h1.04"/>
<path stroke="#fef864" d="M32 18.5h1.04"/>
<path stroke="#fffa82" d="M33 18.5h1.04"/>
<path stroke="#fffc9a" d="M34 18.5h1.04"/>
<path stroke="#fffcaa" d="M35 18.5h1.04"/>
<path stroke="#fffcb2" d="M36 18.5h1.04"/>
<path stroke="#fffcac" d="M37 18.5h1.04"/>
<path stroke="#fffcaa" d="M38 18.5h1.04"/>
<path stroke="#fffca6" d="M39 18.5h1.04"/>
<path stroke="#fffca4" d="M40 18.5h1"/>
<path stroke="#dc341c" d="M0 19.5h4.04"/>
<path stroke="#da321c" d="M4 19.5h2.04"/>
<path stroke="#da301a" d="M6 19.5h1.04"/>
<path stroke="#d82e1a" d="M7 19.5h1.04"/>
<path stroke="#d62a18" d="M8 19.5h2.04"/>
<path stroke="#d82c1a" d="M10 19.5h1.04"/>
<path stroke="#d82e1a" d="M11 19.5h1.04"/>
<path stroke="#f87e30" d="M12 19.5h1.04"/>
<path stroke="#fa8632" d="M13 19.5h1.04"/>
<path stroke="#fa8c32" d="M14 19.5h1.04"/>
<path stroke="#fc9230" d="M15 19.5h1.04"/>
<path stroke="#fc9630" d="M16 19.5h1.04"/>
<path stroke="#fc9430" d="M17 19.5h1.04"/>
<path stroke="#fc9230" d="M18 19.5h1.04"/>
<path stroke="#fa8c32" d="M19 19.5h1.04"/>
<path stroke="#fa8832" d="M20 19.5h1.04"/>
<path stroke="#f88030" d="M21 19.5h1.04"/>
<path stroke="#f6782e" d="M22 19.5h1.04"/>
<path stroke="#f4722e" d="M23 19.5h1.04"/>
<path stroke="#f4702e" d="M24 19.5h2.04"/>
<path stroke="#f4742e" d="M26 19.5h1.04"/>
<path stroke="#f67a30" d="M27 19.5h1.04"/>
<path stroke="#f88030" d="M28 19.5h1.04"/>
<path stroke="#fa8432" d="M29 19.5h1.04"/>
<path stroke="#fa8c32" d="M30 19.5h1.04"/>
<path stroke="#fc9430" d="M31 19.5h1.04"/>
<path stroke="#fc9c30" d="M32 19.5h1.04"/>
<path stroke="#fea62e" d="M33 19.5h1.04"/>
<path stroke="#ffb02c" d="M34 19.5h1.04"/>
<path stroke="#ffba2a" d="M35 19.5h1.04"/>
<path stroke="#ffc428" d="M36 19.5h1.04"/>
<path stroke="#ffce24" d="M37 19.5h1.04"/>
<path stroke="#fed824" d="M38 19.5h1.04"/>
<path stroke="#fee226" d="M39 19.5h1.04"/>
<path stroke="#fcea26" d="M40 19.5h1"/>
<path stroke="#dc341c" d="M0 20.5h3.04"/>
<path stroke="#da321c" d="M3 20.5h1.04"/>
<path stroke="#da301a" d="M4 20.5h2.04"/>
<path stroke="#d82c1a" d="M6 20.5h1.04"/>
<path stroke="#d62a18" d="M7 20.5h1.04"/>
<path stroke="#d42618" d="M8 20.5h1.04"/>
<path stroke="#d42416" d="M9 20.5h3.04"/>
<path stroke="#d42618" d="M12 20.5h1.04"/>
<path stroke="#f4702e" d="M13 20.5h1.04"/>
<path stroke="#f6782e" d="M14 20.5h1.04"/>
<path stroke="#f87e30" d="M15 20.5h1.04"/>
<path stroke="#f88232" d="M16 20.5h1.04"/>
<path stroke="#f88230" d="M17 20.5h1.04"/>
<path stroke="#f87e30" d="M18 20.5h1.04"/>
<path stroke="#f67a30" d="M19 20.5h1.04"/>
<path stroke="#f4742e" d="M20 20.5h1.04"/>
<path stroke="#f26e2c" d="M21 20.5h1.04"/>
<path stroke="#f0662c" d="M22 20.5h1.04"/>
<path stroke="#ee602a" d="M23 20.5h1.04"/>
<path stroke="#ee5e2a" d="M24 20.5h2.04"/>
<path stroke="#f0622a" d="M26 20.5h1.04"/>
<path stroke="#f0662a" d="M27 20.5h1.04"/>
<path stroke="#f26a2c" d="M28 20.5h1.04"/>
<path stroke="#f26c2c" d="M29 20.5h1.04"/>
<path stroke="#f4702e" d="M30 20.5h1.04"/>
<path stroke="#f4742e" d="M31 20.5h1.04"/>
<path stroke="#f6762e" d="M32 20.5h1.04"/>
<path stroke="#f67a30" d="M33 20.5h1.04"/>
<path stroke="#f67c30" d="M34 20.5h1.04"/>
<path stroke="#f87e30" d="M35 20.5h1.04"/>
<path stroke="#f88230" d="M36 20.5h1.04"/>
<path stroke="#fa8432" d="M37 20.5h1.04"/>
<path stroke="#fa8832" d="M38 20.5h1.04"/>
<path stroke="#fa8a32" d="M39 20.5h1.04"/>
<path stroke="#fa8c32" d="M40 20.5h1"/>
<path stroke="#da341c" d="M0 21.5h2.04"/>
<path stroke="#da321c" d="M2 21.5h1.04"/>
<path stroke="#da301a" d="M3 21.5h1.04"/>
<path stroke="#d8301a" d="M4 21.5h1.04"/>
<path stroke="#d82e1a" d="M5 21.5h1.04"/>
<path stroke="#d62a18" d="M6 21.5h1.04"/>
<path stroke="#d42618" d="M7 21.5h1.04"/>
<path stroke="#d22016" d="M8 21.5h1.04"/>
<path stroke="#d01e14" d="M9 21.5h2.04"/>
<path stroke="#d01c14" d="M11 21.5h1.04"/>
<path stroke="#d01e14" d="M12 21.5h1.04"/>
<path stroke="#d22016" d="M13 21.5h1.04"/>
<path stroke="#d42618" d="M14 21.5h1.04"/>
<path stroke="#f26a2c" d="M15 21.5h1.04"/>
<path stroke="#f26e2c" d="M16 21.5h1.04"/>
<path stroke="#f26c2c" d="M17 21.5h1.04"/>
<path stroke="#f26a2c" d="M18 21.5h1.04"/>
<path stroke="#f0662a" d="M19 21.5h1.04"/>
<path stroke="#ee622a" d="M20 21.5h1.04"/>
<path stroke="#ec5a28" d="M21 21.5h1.04"/>
<path stroke="#ea5426" d="M22 21.5h1.04"/>
<path stroke="#e84e24" d="M23 21.5h1.04"/>
<path stroke="#e64c24" d="M24 21.5h2.04"/>
<path stroke="#e85026" d="M26 21.5h1.04"/>
<path stroke="#ea5426" d="M27 21.5h1.04"/>
<path stroke="#ec5628" d="M28 21.5h1.04"/>
<path stroke="#ec5a28" d="M29 21.5h1.04"/>
<path stroke="#ee5c2a" d="M30 21.5h1.04"/>
<path stroke="#ee602a" d="M31 21.5h1.04"/>
<path stroke="#f0622a" d="M32 21.5h1.04"/>
<path stroke="#f0642a" d="M33 21.5h1.04"/>
<path stroke="#f0662c" d="M34 21.5h1.04"/>
<path stroke="#f2682c" d="M35 21.5h1.04"/>
<path stroke="#f26a2c" d="M36 21.5h1.04"/>
<path stroke="#f26c2c" d="M37 21.5h1.04"/>
<path stroke="#f26e2c" d="M38 21.5h1.04"/>
<path stroke="#f2702c" d="M39 21.5h1.04"/>
<path stroke="#f4702e" d="M40 21.5h1"/>
<path stroke="#da321c" d="M0 22.5h3.04"/>
<path stroke="#da301a" d="M3 22.5h1.04"/>
<path stroke="#d82e1a" d="M4 22.5h1.04"/>
<path stroke="#d82c1a" d="M5 22.5h1.04"/>
<path stroke="#d62818" d="M6 22.5h1.04"/>
<path stroke="#d22216" d="M7 22.5h1.04"/>
<path stroke="#d01e14" d="M8 22.5h1.04"/>
<path stroke="#ce1c14" d="M9 22.5h1.04"/>
<path stroke="#ce1a14" d="M10 22.5h1.04"/>
<path stroke="#cc1a12" d="M11 22.5h2.04"/>
<path stroke="#ce1a14" d="M13 22.5h1.04"/>
<path stroke="#d01c14" d="M14 22.5h1.04"/>
<path stroke="#d22216" d="M15 22.5h1.04"/>
<path stroke="#ec5828" d="M16 22.5h2.04"/>
<path stroke="#ea5628" d="M18 22.5h1.04"/>
<path stroke="#ea5226" d="M19 22.5h1.04"/>
<path stroke="#e84e24" d="M20 22.5h1.04"/>
<path stroke="#e44822" d="M21 22.5h1.04"/>
<path stroke="#e24220" d="M22 22.5h1.04"/>
<path stroke="#e03c1e" d="M23 22.5h1.04"/>
<path stroke="#de3a1e" d="M24 22.5h2.04"/>
<path stroke="#e03c1e" d="M26 22.5h1.04"/>
<path stroke="#e04020" d="M27 22.5h1.04"/>
<path stroke="#e24220" d="M28 22.5h1.04"/>
<path stroke="#e44622" d="M29 22.5h1.04"/>
<path stroke="#e44822" d="M30 22.5h1.04"/>
<path stroke="#e64c24" d="M31 22.5h1.04"/>
<path stroke="#e84e24" d="M32 22.5h1.04"/>
<path stroke="#e85226" d="M33 22.5h1.04"/>
<path stroke="#ea5426" d="M34 22.5h1.04"/>
<path stroke="#ea5628" d="M35 22.5h1.04"/>
<path stroke="#ec5828" d="M36 22.5h1.04"/>
<path stroke="#ec5a28" d="M37 22.5h2.04"/>
<path stroke="#ee5c28" d="M39 22.5h1.04"/>
<path stroke="#ee5e2a" d="M40 22.5h1"/>
<path stroke="#da321c" d="M0 23.5h2.04"/>
<path stroke="#da301a" d="M2 23.5h1.04"/>
<path stroke="#d82e1a" d="M3 23.5h1.04"/>
<path stroke="#d82c1a" d="M4 23.5h1.04"/>
<path stroke="#d62a18" d="M5 23.5h1.04"/>
<path stroke="#d42618" d="M6 23.5h1.04"/>
<path stroke="#d22016" d="M7 23.5h1.04"/>
<path stroke="#ce1c14" d="M8 23.5h1.04"/>
<path stroke="#cc1a12" d="M9 23.5h1.04"/>
<path stroke="#ca1a12" d="M10 23.5h1.04"/>
<path stroke="#ca1812" d="M11 23.5h3.04"/>
<path stroke="#cc1a12" d="M14 23.5h1.04"/>
<path stroke="#d01c14" d="M15 23.5h1.04"/>
<path stroke="#d21e14" d="M16 23.5h1.04"/>
<path stroke="#d22016" d="M17 23.5h1.04"/>
<path stroke="#e03e20" d="M18 23.5h1.04"/>
<path stroke="#e03c1e" d="M19 23.5h1.04"/>
<path stroke="#de3a1e" d="M20 23.5h1.04"/>
<path stroke="#dc341c" d="M21 23.5h1.04"/>
<path stroke="#d8301a" d="M22 23.5h1.04"/>
<path stroke="#d82c1a" d="M23 23.5h1.04"/>
<path stroke="#d62a18" d="M24 23.5h2.04"/>
<path stroke="#d82c1a" d="M26 23.5h1.04"/>
<path stroke="#d82e1a" d="M27 23.5h1.04"/>
<path stroke="#da301a" d="M28 23.5h1.04"/>
<path stroke="#da321c" d="M29 23.5h1.04"/>
<path stroke="#dc361c" d="M30 23.5h1.04"/>
<path stroke="#de381e" d="M31 23.5h1.04"/>
<path stroke="#de3a1e" d="M32 23.5h1.04"/>
<path stroke="#e03e20" d="M33 23.5h1.04"/>
<path stroke="#e04020" d="M34 23.5h1.04"/>
<path stroke="#e24220" d="M35 23.5h1.04"/>
<path stroke="#e24422" d="M36 23.5h1.04"/>
<path stroke="#e44422" d="M37 23.5h1.04"/>
<path stroke="#e44622" d="M38 23.5h1.04"/>
<path stroke="#e44822" d="M39 23.5h1.04"/>
<path stroke="#e64a24" d="M40 23.5h1"/>
<path stroke="#da301a" d="M0 24.5h3.04"/>
<path stroke="#d82e1a" d="M3 24.5h1.04"/>
<path stroke="#d82c1a" d="M4 24.5h1.04"/>
<path stroke="#d62818" d="M5 24.5h1.04"/>
<path stroke="#d42416" d="M6 24.5h1.04"/>
<path stroke="#d01e14" d="M7 24.5h1.04"/>
<path stroke="#ce1a14" d="M8 24.5h1.04"/>
<path stroke="#ca1a12" d="M9 24.5h1.04"/>
<path stroke="#c81812" d="M10 24.5h1.04"/>
<path stroke="#c61812" d="M11 24.5h1.04"/>
<path stroke="#c61612" d="M12 24.5h1.04"/>
<path stroke="#c81812" d="M13 24.5h2.04"/>
<path stroke="#cc1a12" d="M15 24.5h1.04"/>
<path stroke="#ce1a14" d="M16 24.5h1.04"/>
<path stroke="#d01c14" d="M17 24.5h3.04"/>
<path stroke="#d62818" d="M20 24.5h1.04"/>
<path stroke="#d42216" d="M21 24.5h1.04"/>
<path stroke="#d21e14" d="M22 24.5h1.04"/>
<path stroke="#d01c14" d="M23 24.5h4.04"/>
<path stroke="#d01e14" d="M27 24.5h1.04"/>
<path stroke="#d22016" d="M28 24.5h1.04"/>
<path stroke="#d22216" d="M29 24.5h1.04"/>
<path stroke="#d42416" d="M30 24.5h1.04"/>
<path stroke="#d42618" d="M31 24.5h1.04"/>
<path stroke="#d62818" d="M32 24.5h1.04"/>
<path stroke="#d62a18" d="M33 24.5h1.04"/>
<path stroke="#d82c1a" d="M34 24.5h1.04"/>
<path stroke="#d82e1a" d="M35 24.5h1.04"/>
<path stroke="#da301a" d="M36 24.5h1.04"/>
<path stroke="#da321c" d="M37 24.5h1.04"/>
<path stroke="#da341c" d="M38 24.5h1.04"/>
<path stroke="#dc341c" d="M39 24.5h1.04"/>
<path stroke="#dc361c" d="M40 24.5h1"/>
<path stroke="#da301a" d="M0 25.5h2.04"/>
<path stroke="#d82e1a" d="M2 25.5h1.04"/>
<path stroke="#d82c1a" d="M3 25.5h1.04"/>
<path stroke="#d62a18" d="M4 25.5h1.04"/>
<path stroke="#d62818" d="M5 25.5h1.04"/>
<path stroke="#d42216" d="M6 25.5h1.04"/>
<path stroke="#d01c14" d="M7 25.5h1.04"/>
<path stroke="#cc1a12" d="M8 25.5h1.04"/>
<path stroke="#ca1812" d="M9 25.5h1.04"/>
<path stroke="#c61612" d="M10 25.5h1.04"/>
<path stroke="#c41610" d="M11 25.5h3.04"/>
<path stroke="#c61612" d="M14 25.5h1.04"/>
<path stroke="#c81812" d="M15 25.5h1.04"/>
<path stroke="#ca1a12" d="M16 25.5h1.04"/>
<path stroke="#cc1a12" d="M17 25.5h1.04"/>
<path stroke="#ce1a14" d="M18 25.5h1.04"/>
<path stroke="#ce1c14" d="M19 25.5h3.04"/>
<path stroke="#ce1a14" d="M22 25.5h1.04"/>
<path stroke="#c81812" d="M23 25.5h4.04"/>
<path stroke="#ca1812" d="M27 25.5h2.04"/>
<path stroke="#ca1a12" d="M29 25.5h1.04"/>
<path stroke="#cc1a12" d="M30 25.5h1.04"/>
<path stroke="#cc1a14" d="M31 25.5h1.04"/>
<path stroke="#ce1a14" d="M32 25.5h1.04"/>
<path stroke="#d01c14" d="M33 25.5h2.04"/>
<path stroke="#d01e14" d="M35 25.5h1.04"/>
<path stroke="#d22016" d="M36 25.5h2.04"/>
<path stroke="#d22216" d="M38 25.5h1.04"/>
<path stroke="#d42416" d="M39 25.5h2"/>
<path stroke="#da301a" d="M0 26.5h1.04"/>
<path stroke="#d8301a" d="M1 26.5h1.04"/>
<path stroke="#d82e1a" d="M2 26.5h1.04"/>
<path stroke="#d82c1a" d="M3 26.5h1.04"/>
<path stroke="#d62a18" d="M4 26.5h1.04"/>
<path stroke="#d42618" d="M5 26.5h1.04"/>
<path stroke="#d22216" d="M6 26.5h1.04"/>
<path stroke="#d01c14" d="M7 26.5h1.04"/>
<path stroke="#cc1a12" d="M8 26.5h1.04"/>
<path stroke="#c81812" d="M9 26.5h1.04"/>
<path stroke="#c61610" d="M10 26.5h1.04"/>
<path stroke="#c41610" d="M11 26.5h1.04"/>
<path stroke="#c21410" d="M12 26.5h2.04"/>
<path stroke="#c41610" d="M14 26.5h1.04"/>
<path stroke="#c61612" d="M15 26.5h1.04"/>
<path stroke="#c81812" d="M16 26.5h1.04"/>
<path stroke="#ca1812" d="M17 26.5h1.04"/>
<path stroke="#cc1a12" d="M18 26.5h2.04"/>
<path stroke="#ce1a14" d="M20 26.5h2.04"/>
<path stroke="#cc1a12" d="M22 26.5h1.04"/>
<path stroke="#ca1812" d="M23 26.5h1.04"/>
<path stroke="#c81812" d="M24 26.5h1.04"/>
<path stroke="#c61610" d="M25 26.5h1.04"/>
<path stroke="#c41610" d="M26 26.5h7.04"/>
<path stroke="#c81812" d="M33 26.5h3.04"/>
<path stroke="#ca1812" d="M36 26.5h2.04"/>
<path stroke="#ca1a12" d="M38 26.5h1.04"/>
<path stroke="#cc1a12" d="M39 26.5h2"/>
<path stroke="#d82e1a" d="M0 27.5h3.04"/>
<path stroke="#d62a18" d="M3 27.5h1.04"/>
<path stroke="#d62818" d="M4 27.5h1.04"/>
<path stroke="#d42416" d="M5 27.5h1.04"/>
<path stroke="#d22016" d="M6 27.5h1.04"/>
<path stroke="#ce1c14" d="M7 27.5h1.04"/>
<path stroke="#ca1812" d="M8 27.5h1.04"/>
<path stroke="#c61812" d="M9 27.5h1.04"/>
<path stroke="#c41610" d="M10 27.5h1.04"/>
<path stroke="#c21410" d="M11 27.5h1.04"/>
<path stroke="#c01410" d="M12 27.5h2.04"/>
<path stroke="#c21410" d="M14 27.5h1.04"/>
<path stroke="#c41610" d="M15 27.5h1.04"/>
<path stroke="#c61612" d="M16 27.5h1.04"/>
<path stroke="#c81812" d="M17 27.5h1.04"/>
<path stroke="#ca1812" d="M18 27.5h1.04"/>
<path stroke="#cc1a12" d="M19 27.5h2.04"/>
<path stroke="#cc1a14" d="M21 27.5h1.04"/>
<path stroke="#cc1a12" d="M22 27.5h1.04"/>
<path stroke="#ca1a12" d="M23 27.5h1.04"/>
<path stroke="#c81812" d="M24 27.5h2.04"/>
<path stroke="#c61612" d="M26 27.5h4.04"/>
<path stroke="#c61610" d="M30 27.5h3.04"/>
<path stroke="#c41610" d="M33 27.5h8"/>
<path stroke="#d82e1a" d="M0 28.5h2.04"/>
<path stroke="#d82c1a" d="M2 28.5h1.04"/>
<path stroke="#d62a18" d="M3 28.5h1.04"/>
<path stroke="#d62818" d="M4 28.5h1.04"/>
<path stroke="#d42416" d="M5 28.5h1.04"/>
<path stroke="#d22016" d="M6 28.5h1.04"/>
<path stroke="#ce1a14" d="M7 28.5h1.04"/>
<path stroke="#ca1812" d="M8 28.5h1.04"/>
<path stroke="#c61610" d="M9 28.5h1.04"/>
<path stroke="#c41610" d="M10 28.5h1.04"/>
<path stroke="#c01410" d="M11 28.5h4.04"/>
<path stroke="#c21410" d="M15 28.5h1.04"/>
<path stroke="#c61610" d="M16 28.5h1.04"/>
<path stroke="#c81812" d="M17 28.5h2.04"/>
<path stroke="#ca1812" d="M19 28.5h1.04"/>
<path stroke="#cc1a12" d="M20 28.5h4.04"/>
<path stroke="#ca1812" d="M24 28.5h7.04"/>
<path stroke="#c81812" d="M31 28.5h6.04"/>
<path stroke="#c61612" d="M37 28.5h3.04"/>
<path stroke="#c61610" d="M40 28.5h1"/>
<path stroke="#d82e1a" d="M0 29.5h1.04"/>
<path stroke="#d82c1a" d="M1 29.5h2.04"/>
<path stroke="#d62a18" d="M3 29.5h1.04"/>
<path stroke="#d42618" d="M4 29.5h1.04"/>
<path stroke="#d42416" d="M5 29.5h1.04"/>
<path stroke="#d21e14" d="M6 29.5h1.04"/>
<path stroke="#ce1a14" d="M7 29.5h1.04"/>
<path stroke="#c81812" d="M8 29.5h1.04"/>
<path stroke="#c61610" d="M9 29.5h1.04"/>
<path stroke="#c21410" d="M10 29.5h1.04"/>
<path stroke="#c01410" d="M11 29.5h1.04"/>
<path stroke="#be120e" d="M12 29.5h2.04"/>
<path stroke="#c01410" d="M14 29.5h1.04"/>
<path stroke="#c21410" d="M15 29.5h1.04"/>
<path stroke="#c41610" d="M16 29.5h1.04"/>
<path stroke="#c61610" d="M17 29.5h1.04"/>
<path stroke="#c81812" d="M18 29.5h1.04"/>
<path stroke="#ca1812" d="M19 29.5h2.04"/>
<path stroke="#cc1a12" d="M21 29.5h6.04"/>
<path stroke="#ce1a14" d="M27 29.5h5.04"/>
<path stroke="#cc1a14" d="M32 29.5h1.04"/>
<path stroke="#cc1a12" d="M33 29.5h5.04"/>
<path stroke="#ca1a12" d="M38 29.5h1.04"/>
<path stroke="#ca1812" d="M39 29.5h2"/>
<path stroke="#d82c1a" d="M0 30.5h2.04"/>
<path stroke="#d62a18" d="M2 30.5h1.04"/>
<path stroke="#d62818" d="M3 30.5h1.04"/>
<path stroke="#d42618" d="M4 30.5h1.04"/>
<path stroke="#d42216" d="M5 30.5h1.04"/>
<path stroke="#d01e14" d="M6 30.5h1.04"/>
<path stroke="#cc1a14" d="M7 30.5h1.04"/>
<path stroke="#c81812" d="M8 30.5h1.04"/>
<path stroke="#c41610" d="M9 30.5h1.04"/>
<path stroke="#c21410" d="M10 30.5h1.04"/>
<path stroke="#c0120e" d="M11 30.5h1.04"/>
<path stroke="#be120e" d="M12 30.5h3.04"/>
<path stroke="#c01410" d="M15 30.5h1.04"/>
<path stroke="#c21410" d="M16 30.5h1.04"/>
<path stroke="#c61610" d="M17 30.5h1.04"/>
<path stroke="#c61812" d="M18 30.5h1.04"/>
<path stroke="#c81812" d="M19 30.5h1.04"/>
<path stroke="#ca1812" d="M20 30.5h1.04"/>
<path stroke="#cc1a12" d="M21 30.5h2.04"/>
<path stroke="#cc1a14" d="M23 30.5h1.04"/>
<path stroke="#ce1a14" d="M24 30.5h2.04"/>
<path stroke="#ce1c14" d="M26 30.5h1.04"/>
<path stroke="#d01c14" d="M27 30.5h2.04"/>
<path stroke="#d01e14" d="M29 30.5h4.04"/>
<path stroke="#d01c14" d="M33 30.5h7.04"/>
<path stroke="#ce1c14" d="M40 30.5h1"/>
<path stroke="#d82c1a" d="M0 31.5h2.04"/>
<path stroke="#d62a18" d="M2 31.5h1.04"/>
<path stroke="#d62818" d="M3 31.5h1.04"/>
<path stroke="#d42416" d="M4 31.5h1.04"/>
<path stroke="#d22216" d="M5 31.5h1.04"/>
<path stroke="#d01c14" d="M6 31.5h1.04"/>
<path stroke="#cc1a12" d="M7 31.5h1.04"/>
<path stroke="#c81812" d="M8 31.5h1.04"/>
<path stroke="#c41610" d="M9 31.5h1.04"/>
<path stroke="#c21410" d="M10 31.5h1.04"/>
<path stroke="#be120e" d="M11 31.5h4.04"/>
<path stroke="#c01410" d="M15 31.5h1.04"/>
<path stroke="#c21410" d="M16 31.5h1.04"/>
<path stroke="#c41610" d="M17 31.5h1.04"/>
<path stroke="#c61612" d="M18 31.5h1.04"/>
<path stroke="#c81812" d="M19 31.5h1.04"/>
<path stroke="#ca1812" d="M20 31.5h1.04"/>
<path stroke="#ca1a12" d="M21 31.5h1.04"/>
<path stroke="#cc1a12" d="M22 31.5h1.04"/>
<path stroke="#ce1a14" d="M23 31.5h1.04"/>
<path stroke="#ce1c14" d="M24 31.5h1.04"/>
<path stroke="#d01c14" d="M25 31.5h2.04"/>
<path stroke="#d21e14" d="M27 31.5h1.04"/>
<path stroke="#d22016" d="M28 31.5h1.04"/>
<path stroke="#d22216" d="M29 31.5h11.04"/>
<path stroke="#d22016" d="M40 31.5h1"/>
<path stroke="#d82c1a" d="M0 32.5h1.04"/>
<path stroke="#d62a18" d="M1 32.5h2.04"/>
<path stroke="#d62818" d="M3 32.5h1.04"/>
<path stroke="#d42416" d="M4 32.5h1.04"/>
<path stroke="#d22216" d="M5 32.5h1.04"/>
<path stroke="#d01c14" d="M6 32.5h1.04"/>
<path stroke="#cc1a12" d="M7 32.5h1.04"/>
<path stroke="#c81812" d="M8 32.5h1.04"/>
<path stroke="#c41610" d="M9 32.5h1.04"/>
<path stroke="#c21410" d="M10 32.5h1.04"/>
<path stroke="#be120e" d="M11 32.5h1.04"/>
<path stroke="#bc120e" d="M12 32.5h2.04"/>
<path stroke="#be120e" d="M14 32.5h1.04"/>
<path stroke="#c0120e" d="M15 32.5h1.04"/>
<path stroke="#c21410" d="M16 32.5h1.04"/>
<path stroke="#c41610" d="M17 32.5h1.04"/>
<path stroke="#c61610" d="M18 32.5h1.04"/>
<path stroke="#c81812" d="M19 32.5h1.04"/>
<path stroke="#ca1812" d="M20 32.5h1.04"/>
<path stroke="#ca1a12" d="M21 32.5h1.04"/>
<path stroke="#cc1a12" d="M22 32.5h1.04"/>
<path stroke="#ce1a14" d="M23 32.5h1.04"/>
<path stroke="#ce1c14" d="M24 32.5h1.04"/>
<path stroke="#d01c14" d="M25 32.5h1.04"/>
<path stroke="#d21e14" d="M26 32.5h1.04"/>
<path stroke="#d22016" d="M27 32.5h1.04"/>
<path stroke="#d42216" d="M28 32.5h1.04"/>
<path stroke="#d42416" d="M29 32.5h2.04"/>
<path stroke="#d42618" d="M31 32.5h10"/>
<path stroke="#d62a18" d="M0 33.5h2.04"/>
<path stroke="#d62818" d="M2 33.5h1.04"/>
<path stroke="#d42618" d="M3 33.5h1.04"/>
<path stroke="#d42416" d="M4 33.5h1.04"/>
<path stroke="#d22016" d="M5 33.5h1.04"/>
<path stroke="#d01c14" d="M6 33.5h1.04"/>
<path stroke="#cc1a12" d="M7 33.5h1.04"/>
<path stroke="#c81812" d="M8 33.5h1.04"/>
<path stroke="#c41610" d="M9 33.5h1.04"/>
<path stroke="#c01410" d="M10 33.5h1.04"/>
<path stroke="#be120e" d="M11 33.5h1.04"/>
<path stroke="#bc120e" d="M12 33.5h2.04"/>
<path stroke="#be120e" d="M14 33.5h1.04"/>
<path stroke="#c0120e" d="M15 33.5h1.04"/>
<path stroke="#c21410" d="M16 33.5h1.04"/>
<path stroke="#c41610" d="M17 33.5h1.04"/>
<path stroke="#c61610" d="M18 33.5h1.04"/>
<path stroke="#c81812" d="M19 33.5h2.04"/>
<path stroke="#ca1812" d="M21 33.5h1.04"/>
<path stroke="#cc1a12" d="M22 33.5h1.04"/>
<path stroke="#ce1a14" d="M23 33.5h1.04"/>
<path stroke="#d01c14" d="M24 33.5h2.04"/>
<path stroke="#d22016" d="M26 33.5h1.04"/>
<path stroke="#d22216" d="M27 33.5h1.04"/>
<path stroke="#d42416" d="M28 33.5h1.04"/>
<path stroke="#d42618" d="M29 33.5h2.04"/>
<path stroke="#d62618" d="M31 33.5h1.04"/>
<path stroke="#d62818" d="M32 33.5h6.04"/>
<path stroke="#d62a18" d="M38 33.5h3"/>
<path stroke="#d62a18" d="M0 34.5h2.04"/>
<path stroke="#d62818" d="M2 34.5h1.04"/>
<path stroke="#d42618" d="M3 34.5h1.04"/>
<path stroke="#d42216" d="M4 34.5h1.04"/>
<path stroke="#d22016" d="M5 34.5h1.04"/>
<path stroke="#d01c14" d="M6 34.5h1.04"/>
<path stroke="#cc1a12" d="M7 34.5h1.04"/>
<path stroke="#c61612" d="M8 34.5h1.04"/>
<path stroke="#c41410" d="M9 34.5h1.04"/>
<path stroke="#c01410" d="M10 34.5h1.04"/>
<path stroke="#be120e" d="M11 34.5h1.04"/>
<path stroke="#bc120e" d="M12 34.5h3.04"/>
<path stroke="#be120e" d="M15 34.5h1.04"/>
<path stroke="#c01410" d="M16 34.5h1.04"/>
<path stroke="#c21410" d="M17 34.5h1.04"/>
<path stroke="#c61610" d="M18 34.5h1.04"/>
<path stroke="#c61612" d="M19 34.5h1.04"/>
<path stroke="#c81812" d="M20 34.5h1.04"/>
<path stroke="#ca1812" d="M21 34.5h1.04"/>
<path stroke="#cc1a12" d="M22 34.5h1.04"/>
<path stroke="#ce1a14" d="M23 34.5h1.04"/>
<path stroke="#d01c14" d="M24 34.5h1.04"/>
<path stroke="#d01e14" d="M25 34.5h1.04"/>
<path stroke="#d22016" d="M26 34.5h1.04"/>
<path stroke="#d22216" d="M27 34.5h1.04"/>
<path stroke="#d42416" d="M28 34.5h1.04"/>
<path stroke="#d42618" d="M29 34.5h1.04"/>
<path stroke="#d62618" d="M30 34.5h1.04"/>
<path stroke="#d62818" d="M31 34.5h3.04"/>
<path stroke="#d62a18" d="M34 34.5h7"/>
<path stroke="#d62a18" d="M0 35.5h1.04"/>
<path stroke="#d62818" d="M1 35.5h2.04"/>
<path stroke="#d42618" d="M3 35.5h1.04"/>
<path stroke="#d22216" d="M4 35.5h1.04"/>
<path stroke="#d22016" d="M5 35.5h1.04"/>
<path stroke="#ce1c14" d="M6 35.5h1.04"/>
<path stroke="#ca1a12" d="M7 35.5h1.04"/>
<path stroke="#c61612" d="M8 35.5h1.04"/>
<path stroke="#c21410" d="M9 35.5h1.04"/>
<path stroke="#c01410" d="M10 35.5h1.04"/>
<path stroke="#be120e" d="M11 35.5h1.04"/>
<path stroke="#bc120e" d="M12 35.5h1.04"/>
<path stroke="#bc100e" d="M13 35.5h1.04"/>
<path stroke="#bc120e" d="M14 35.5h1.04"/>
<path stroke="#be120e" d="M15 35.5h1.04"/>
<path stroke="#c01410" d="M16 35.5h1.04"/>
<path stroke="#c21410" d="M17 35.5h1.04"/>
<path stroke="#c41610" d="M18 35.5h1.04"/>
<path stroke="#c61612" d="M19 35.5h1.04"/>
<path stroke="#c81812" d="M20 35.5h1.04"/>
<path stroke="#ca1812" d="M21 35.5h1.04"/>
<path stroke="#cc1a12" d="M22 35.5h1.04"/>
<path stroke="#ce1a14" d="M23 35.5h1.04"/>
<path stroke="#d01c14" d="M24 35.5h1.04"/>
<path stroke="#d01e14" d="M25 35.5h1.04"/>
<path stroke="#d22016" d="M26 35.5h1.04"/>
<path stroke="#d22216" d="M27 35.5h1.04"/>
<path stroke="#d42416" d="M28 35.5h1.04"/>
<path stroke="#d42618" d="M29 35.5h1.04"/>
<path stroke="#d62818" d="M30 35.5h3.04"/>
<path stroke="#d62a18" d="M33 35.5h5.04"/>
<path stroke="#d82c1a" d="M38 35.5h3"/>
<path stroke="#d62818" d="M0 36.5h2.04"/>
<path stroke="#d42618" d="M2 36.5h1.04"/>
<path stroke="#d42416" d="M3 36.5h1.04"/>
<path stroke="#d22216" d="M4 36.5h1.04"/>
<path stroke="#d21e14" d="M5 36.5h1.04"/>
<path stroke="#ce1c14" d="M6 36.5h1.04"/>
<path stroke="#ca1812" d="M7 36.5h1.04"/>
<path stroke="#c61610" d="M8 36.5h1.04"/>
<path stroke="#c21410" d="M9 36.5h1.04"/>
<path stroke="#c01410" d="M10 36.5h1.04"/>
<path stroke="#be120e" d="M11 36.5h1.04"/>
<path stroke="#bc100e" d="M12 36.5h2.04"/>
<path stroke="#bc120e" d="M14 36.5h1.04"/>
<path stroke="#be120e" d="M15 36.5h1.04"/>
<path stroke="#c01410" d="M16 36.5h1.04"/>
<path stroke="#c21410" d="M17 36.5h1.04"/>
<path stroke="#c41610" d="M18 36.5h1.04"/>
<path stroke="#c61612" d="M19 36.5h1.04"/>
<path stroke="#c81812" d="M20 36.5h1.04"/>
<path stroke="#ca1812" d="M21 36.5h1.04"/>
<path stroke="#cc1a12" d="M22 36.5h1.04"/>
<path stroke="#ce1a14" d="M23 36.5h1.04"/>
<path stroke="#d01c14" d="M24 36.5h1.04"/>
<path stroke="#d01e14" d="M25 36.5h1.04"/>
<path stroke="#d22016" d="M26 36.5h1.04"/>
<path stroke="#d22216" d="M27 36.5h1.04"/>
<path stroke="#d42416" d="M28 36.5h1.04"/>
<path stroke="#d42618" d="M29 36.5h1.04"/>
<path stroke="#d62818" d="M30 36.5h3.04"/>
<path stroke="#d62a18" d="M33 36.5h4.04"/>
<path stroke="#d82c1a" d="M37 36.5h4"/>
<path stroke="#d62818" d="M0 37.5h2.04"/>
<path stroke="#d42618" d="M2 37.5h1.04"/>
<path stroke="#d42416" d="M3 37.5h1.04"/>
<path stroke="#d22016" d="M4 37.5h1.04"/>
<path stroke="#d01e14" d="M5 37.5h1.04"/>
<path stroke="#ce1c14" d="M6 37.5h1.04"/>
<path stroke="#ca1812" d="M7 37.5h1.04"/>
<path stroke="#c61610" d="M8 37.5h1.04"/>
<path stroke="#c21410" d="M9 37.5h1.04"/>
<path stroke="#c01410" d="M10 37.5h1.04"/>
<path stroke="#be120e" d="M11 37.5h1.04"/>
<path stroke="#bc100e" d="M12 37.5h2.04"/>
<path stroke="#bc120e" d="M14 37.5h1.04"/>
<path stroke="#be120e" d="M15 37.5h1.04"/>
<path stroke="#c01410" d="M16 37.5h1.04"/>
<path stroke="#c21410" d="M17 37.5h1.04"/>
<path stroke="#c41610" d="M18 37.5h1.04"/>
<path stroke="#c61612" d="M19 37.5h1.04"/>
<path stroke="#c81812" d="M20 37.5h1.04"/>
<path stroke="#ca1812" d="M21 37.5h1.04"/>
<path stroke="#cc1a12" d="M22 37.5h1.04"/>
<path stroke="#ce1a14" d="M23 37.5h1.04"/>
<path stroke="#d01c14" d="M24 37.5h1.04"/>
<path stroke="#d01e14" d="M25 37.5h1.04"/>
<path stroke="#d22016" d="M26 37.5h1.04"/>
<path stroke="#d22216" d="M27 37.5h1.04"/>
<path stroke="#d42416" d="M28 37.5h1.04"/>
<path stroke="#d42618" d="M29 37.5h1.04"/>
<path stroke="#d62818" d="M30 37.5h3.04"/>
<path stroke="#d62a18" d="M33 37.5h4.04"/>
<path stroke="#d82c1a" d="M37 37.5h4"/>
<path stroke="#d62818" d="M0 38.5h1.04"/>
<path stroke="#d62618" d="M1 38.5h1.04"/>
<path stroke="#d42618" d="M2 38.5h1.04"/>
<path stroke="#d42416" d="M3 38.5h1.04"/>
<path stroke="#d22016" d="M4 38.5h1.04"/>
<path stroke="#d01e14" d="M5 38.5h1.04"/>
<path stroke="#ce1a14" d="M6 38.5h1.04"/>
<path stroke="#ca1812" d="M7 38.5h1.04"/>
<path stroke="#c61610" d="M8 38.5h1.04"/>
<path stroke="#c21410" d="M9 38.5h1.04"/>
<path stroke="#c0120e" d="M10 38.5h1.04"/>
<path stroke="#bc120e" d="M11 38.5h1.04"/>
<path stroke="#bc100e" d="M12 38.5h2.04"/>
<path stroke="#bc120e" d="M14 38.5h1.04"/>
<path stroke="#be120e" d="M15 38.5h1.04"/>
<path stroke="#c01410" d="M16 38.5h1.04"/>
<path stroke="#c21410" d="M17 38.5h1.04"/>
<path stroke="#c41610" d="M18 38.5h1.04"/>
<path stroke="#c61612" d="M19 38.5h1.04"/>
<path stroke="#c81812" d="M20 38.5h1.04"/>
<path stroke="#ca1812" d="M21 38.5h1.04"/>
<path stroke="#cc1a12" d="M22 38.5h1.04"/>
<path stroke="#ce1a14" d="M23 38.5h1.04"/>
<path stroke="#d01c14" d="M24 38.5h1.04"/>
<path stroke="#d01e14" d="M25 38.5h1.04"/>
<path stroke="#d22016" d="M26 38.5h1.04"/>
<path stroke="#d22216" d="M27 38.5h1.04"/>
<path stroke="#d42416" d="M28 38.5h1.04"/>
<path stroke="#d42618" d="M29 38.5h1.04"/>
<path stroke="#d62818" d="M30 38.5h3.04"/>
<path stroke="#d62a18" d="M33 38.5h4.04"/>
<path stroke="#d82c1a" d="M37 38.5h4"/>
<path stroke="#d42618" d="M0 39.5h2.04"/>
<path stroke="#d42416" d="M2 39.5h1.04"/>
<path stroke="#d22216" d="M3 39.5h1.04"/>
<path stroke="#d22016" d="M4 39.5h1.04"/>
<path stroke="#d01c14" d="M5 39.5h1.04"/>
<path stroke="#ce1a14" d="M6 39.5h1.04"/>
<path stroke="#ca1812" d="M7 39.5h1.04"/>
<path stroke="#c61610" d="M8 39.5h1.04"/>
<path stroke="#c21410" d="M9 39.5h1.04"/>
<path stroke="#c0120e" d="M10 39.5h1.04"/>
<path stroke="#bc120e" d="M11 39.5h1.04"/>
<path stroke="#bc100e" d="M12 39.5h2.04"/>
<path stroke="#bc120e" d="M14 39.5h1.04"/>
<path stroke="#be120e" d="M15 39.5h1.04"/>
<path stroke="#c01410" d="M16 39.5h1.04"/>
<path stroke="#c21410" d="M17 39.5h1.04"/>
<path stroke="#c41610" d="M18 39.5h1.04"/>
<path stroke="#c61610" d="M19 39.5h1.04"/>
<path stroke="#c81812" d="M20 39.5h1.04"/>
<path stroke="#ca1812" d="M21 39.5h1.04"/>
<path stroke="#cc1a12" d="M22 39.5h1.04"/>
<path stroke="#ce1a14" d="M23 39.5h1.04"/>
<path stroke="#d01c14" d="M24 39.5h1.04"/>
<path stroke="#d01e14" d="M25 39.5h1.04"/>
<path stroke="#d22016" d="M26 39.5h1.04"/>
<path stroke="#d22216" d="M27 39.5h1.04"/>
<path stroke="#d42416" d="M28 39.5h1.04"/>
<path stroke="#d42618" d="M29 39.5h1.04"/>
<path stroke="#d62818" d="M30 39.5h3.04"/>
<path stroke="#d62a18" d="M33 39.5h4.04"/>
<path stroke="#d82c1a" d="M37 39.5h4"/>
<path stroke="#d42618" d="M0 40.5h2.04"/>
<path stroke="#d42416" d="M2 40.5h1.04"/>
<path stroke="#d22216" d="M3 40.5h1.04"/>
<path stroke="#d22016" d="M4 40.5h1.04"/>
<path stroke="#d01c14" d="M5 40.5h1.04"/>
<path stroke="#ce1a14" d="M6 40.5h1.04"/>
<path stroke="#ca1812" d="M7 40.5h1.04"/>
<path stroke="#c61610" d="M8 40.5h1.04"/>
<path stroke="#c21410" d="M9 40.5h1.04"/>
<path stroke="#c0120e" d="M10 40.5h1.04"/>
<path stroke="#bc120e" d="M11 40.5h1.04"/>
<path stroke="#bc100e" d="M12 40.5h1.04"/>
<path stroke="#ba100e" d="M13 40.5h1.04"/>
<path stroke="#bc120e" d="M14 40.5h1.04"/>
<path stroke="#be120e" d="M15 40.5h1.04"/>
<path stroke="#c01410" d="M16 40.5h1.04"/>
<path stroke="#c21410" d="M17 40.5h1.04"/>
<path stroke="#c41610" d="M18 40.5h1.04"/>
<path stroke="#c61610" d="M19 40.5h1.04"/>
<path stroke="#c81812" d="M20 40.5h1.04"/>
<path stroke="#ca1812" d="M21 40.5h1.04"/>
<path stroke="#cc1a12" d="M22 40.5h1.04"/>
<path stroke="#ce1a14" d="M23 40.5h1.04"/>
<path stroke="#d01c14" d="M24 40.5h1.04"/>
<path stroke="#d01e14" d="M25 40.5h1.04"/>
<path stroke="#d22016" d="M26 40.5h1.04"/>
<path stroke="#d22216" d="M27 40.5h1.04"/>
<path stroke="#d42416" d="M28 40.5h1.04"/>
<path stroke="#d42618" d="M29 40.5h1.04"/>
<path stroke="#d62818" d="M30 40.5h3.04"/>
<path stroke="#d62a18" d="M33 40.5h4.04"/>
<path stroke="#d82c1a" d="M37 40.5h4"/>
</g>
<rect x="613.3" y="636" width="393.9" height="393.2" fill="none" stroke="#6b4a2a" stroke-width="1"/>
<line x1="618.1" y1="636" x2="618.1" y2="641" stroke="#5a3a20" stroke-width="0.9" />
<line x1="618.1" y1="1029.2" x2="618.1" y2="1024.2" stroke="#5a3a20" stroke-width="0.9" />
<line x1="613.3" y1="1024.4" x2="618.3" y2="1024.4" stroke="#5a3a20" stroke-width="0.9" />
<line x1="1007.2" y1="1024.4" x2="1002.2" y2="1024.4" stroke="#5a3a20" stroke-width="0.9" />
<line x1="637.32" y1="636" x2="637.32" y2="638.5" stroke="#5a3a20" stroke-width="0.9" />
<line x1="637.32" y1="1029.2" x2="637.32" y2="1026.7" stroke="#5a3a20" stroke-width="0.9" />
<line x1="613.3" y1="1005.22" x2="615.8" y2="1005.22" stroke="#5a3a20" stroke-width="0.9" />
<line x1="1007.2" y1="1005.22" x2="1004.7" y2="1005.22" stroke="#5a3a20" stroke-width="0.9" />
<line x1="656.53" y1="636" x2="656.53" y2="638.5" stroke="#5a3a20" stroke-width="0.9" />
<line x1="656.53" y1="1029.2" x2="656.53" y2="1026.7" stroke="#5a3a20" stroke-width="0.9" />
<line x1="613.3" y1="986.04" x2="615.8" y2="986.04" stroke="#5a3a20" stroke-width="0.9" />
<line x1="1007.2" y1="986.04" x2="1004.7" y2="986.04" stroke="#5a3a20" stroke-width="0.9" />
<line x1="675.75" y1="636" x2="675.75" y2="638.5" stroke="#5a3a20" stroke-width="0.9" />
<line x1="675.75" y1="1029.2" x2="675.75" y2="1026.7" stroke="#5a3a20" stroke-width="0.9" />
<line x1="613.3" y1="966.86" x2="615.8" y2="966.86" stroke="#5a3a20" stroke-width="0.9" />
<line x1="1007.2" y1="966.86" x2="1004.7" y2="966.86" stroke="#5a3a20" stroke-width="0.9" />
<line x1="694.96" y1="636" x2="694.96" y2="638.5" stroke="#5a3a20" stroke-width="0.9" />
<line x1="694.96" y1="1029.2" x2="694.96" y2="1026.7" stroke="#5a3a20" stroke-width="0.9" />
<line x1="613.3" y1="947.68" x2="615.8" y2="947.68" stroke="#5a3a20" stroke-width="0.9" />
<line x1="1007.2" y1="947.68" x2="1004.7" y2="947.68" stroke="#5a3a20" stroke-width="0.9" />
<line x1="714.18" y1="636" x2="714.18" y2="641" stroke="#5a3a20" stroke-width="0.9" />
<line x1="714.18" y1="1029.2" x2="714.18" y2="1024.2" stroke="#5a3a20" stroke-width="0.9" />
<line x1="613.3" y1="928.5" x2="618.3" y2="928.5" stroke="#5a3a20" stroke-width="0.9" />
<line x1="1007.2" y1="928.5" x2="1002.2" y2="928.5" stroke="#5a3a20" stroke-width="0.9" />
<line x1="733.39" y1="636" x2="733.39" y2="638.5" stroke="#5a3a20" stroke-width="0.9" />
<line x1="733.39" y1="1029.2" x2="733.39" y2="1026.7" stroke="#5a3a20" stroke-width="0.9" />
<line x1="613.3" y1="909.32" x2="615.8" y2="909.32" stroke="#5a3a20" stroke-width="0.9" />
<line x1="1007.2" y1="909.32" x2="1004.7" y2="909.32" stroke="#5a3a20" stroke-width="0.9" />
<line x1="752.61" y1="636" x2="752.61" y2="638.5" stroke="#5a3a20" stroke-width="0.9" />
<line x1="752.61" y1="1029.2" x2="752.61" y2="1026.7" stroke="#5a3a20" stroke-width="0.9" />
<line x1="613.3" y1="890.14" x2="615.8" y2="890.14" stroke="#5a3a20" stroke-width="0.9" />
<line x1="1007.2" y1="890.14" x2="1004.7" y2="890.14" stroke="#5a3a20" stroke-width="0.9" />
<line x1="771.82" y1="636" x2="771.82" y2="638.5" stroke="#5a3a20" stroke-width="0.9" />
<line x1="771.82" y1="1029.2" x2="771.82" y2="1026.7" stroke="#5a3a20" stroke-width="0.9" />
<line x1="613.3" y1="870.96" x2="615.8" y2="870.96" stroke="#5a3a20" stroke-width="0.9" />
<line x1="1007.2" y1="870.96" x2="1004.7" y2="870.96" stroke="#5a3a20" stroke-width="0.9" />
<line x1="791.04" y1="636" x2="791.04" y2="638.5" stroke="#5a3a20" stroke-width="0.9" />
<line x1="791.04" y1="1029.2" x2="791.04" y2="1026.7" stroke="#5a3a20" stroke-width="0.9" />
<line x1="613.3" y1="851.78" x2="615.8" y2="851.78" stroke="#5a3a20" stroke-width="0.9" />
<line x1="1007.2" y1="851.78" x2="1004.7" y2="851.78" stroke="#5a3a20" stroke-width="0.9" />
<line x1="810.25" y1="636" x2="810.25" y2="641" stroke="#5a3a20" stroke-width="0.9" />
<line x1="810.25" y1="1029.2" x2="810.25" y2="1024.2" stroke="#5a3a20" stroke-width="0.9" />
<line x1="613.3" y1="832.6" x2="618.3" y2="832.6" stroke="#5a3a20" stroke-width="0.9" />
<line x1="1007.2" y1="832.6" x2="1002.2" y2="832.6" stroke="#5a3a20" stroke-width="0.9" />
<line x1="829.46" y1="636" x2="829.46" y2="638.5" stroke="#5a3a20" stroke-width="0.9" />
<line x1="829.46" y1="1029.2" x2="829.46" y2="1026.7" stroke="#5a3a20" stroke-width="0.9" />
<line x1="613.3" y1="813.42" x2="615.8" y2="813.42" stroke="#5a3a20" stroke-width="0.9" />
<line x1="1007.2" y1="813.42" x2="1004.7" y2="813.42" stroke="#5a3a20" stroke-width="0.9" />
<line x1="848.68" y1="636" x2="848.68" y2="638.5" stroke="#5a3a20" stroke-width="0.9" />
<line x1="848.68" y1="1029.2" x2="848.68" y2="1026.7" stroke="#5a3a20" stroke-width="0.9" />
<line x1="613.3" y1="794.24" x2="615.8" y2="794.24" stroke="#5a3a20" stroke-width="0.9" />
<line x1="1007.2" y1="794.24" x2="1004.7" y2="794.24" stroke="#5a3a20" stroke-width="0.9" />
<line x1="867.89" y1="636" x2="867.89" y2="638.5" stroke="#5a3a20" stroke-width="0.9" />
<line x1="867.89" y1="1029.2" x2="867.89" y2="1026.7" stroke="#5a3a20" stroke-width="0.9" />
<line x1="613.3" y1="775.06" x2="615.8" y2="775.06" stroke="#5a3a20" stroke-width="0.9" />
<line x1="1007.2" y1="775.06" x2="1004.7" y2="775.06" stroke="#5a3a20" stroke-width="0.9" />
<line x1="887.11" y1="636" x2="887.11" y2="638.5" stroke="#5a3a20" stroke-width="0.9" />
<line x1="887.11" y1="1029.2" x2="887.11" y2="1026.7" stroke="#5a3a20" stroke-width="0.9" />
<line x1="613.3" y1="755.88" x2="615.8" y2="755.88" stroke="#5a3a20" stroke-width="0.9" />
<line x1="1007.2" y1="755.88" x2="1004.7" y2="755.88" stroke="#5a3a20" stroke-width="0.9" />
<line x1="906.32" y1="636" x2="906.32" y2="641" stroke="#5a3a20" stroke-width="0.9" />
<line x1="906.32" y1="1029.2" x2="906.32" y2="1024.2" stroke="#5a3a20" stroke-width="0.9" />
<line x1="613.3" y1="736.7" x2="618.3" y2="736.7" stroke="#5a3a20" stroke-width="0.9" />
<line x1="1007.2" y1="736.7" x2="1002.2" y2="736.7" stroke="#5a3a20" stroke-width="0.9" />
<line x1="925.54" y1="636" x2="925.54" y2="638.5" stroke="#5a3a20" stroke-width="0.9" />
<line x1="925.54" y1="1029.2" x2="925.54" y2="1026.7" stroke="#5a3a20" stroke-width="0.9" />
<line x1="613.3" y1="717.52" x2="615.8" y2="717.52" stroke="#5a3a20" stroke-width="0.9" />
<line x1="1007.2" y1="717.52" x2="1004.7" y2="717.52" stroke="#5a3a20" stroke-width="0.9" />
<line x1="944.75" y1="636" x2="944.75" y2="638.5" stroke="#5a3a20" stroke-width="0.9" />
<line x1="944.75" y1="1029.2" x2="944.75" y2="1026.7" stroke="#5a3a20" stroke-width="0.9" />
<line x1="613.3" y1="698.34" x2="615.8" y2="698.34" stroke="#5a3a20" stroke-width="0.9" />
<line x1="1007.2" y1="698.34" x2="1004.7" y2="698.34" stroke="#5a3a20" stroke-width="0.9" />
<line x1="963.97" y1="636" x2="963.97" y2="638.5" stroke="#5a3a20" stroke-width="0.9" />
<line x1="963.97" y1="1029.2" x2="963.97" y2="1026.7" stroke="#5a3a20" stroke-width="0.9" />
<line x1="613.3" y1="679.16" x2="615.8" y2="679.16" stroke="#5a3a20" stroke-width="0.9" />
<line x1="1007.2" y1="679.16" x2="1004.7" y2="679.16" stroke="#5a3a20" stroke-width="0.9" />
<line x1="983.18" y1="636" x2="983.18" y2="638.5" stroke="#5a3a20" stroke-width="0.9" />
<line x1="983.18" y1="1029.2" x2="983.18" y2="1026.7" stroke="#5a3a20" stroke-width="0.9" />
<line x1="613.3" y1="659.98" x2="615.8" y2="659.98" stroke="#5a3a20" stroke-width="0.9" />
<line x1="1007.2" y1="659.98" x2="1004.7" y2="659.98" stroke="#5a3a20" stroke-width="0.9" />
<line x1="1002.4" y1="636" x2="1002.4" y2="641" stroke="#5a3a20" stroke-width="0.9" />
<line x1="1002.4" y1="1029.2" x2="1002.4" y2="1024.2" stroke="#5a3a20" stroke-width="0.9" />
<line x1="613.3" y1="640.8" x2="618.3" y2="640.8" stroke="#5a3a20" stroke-width="0.9" />
<line x1="1007.2" y1="640.8" x2="1002.2" y2="640.8" stroke="#5a3a20" stroke-width="0.9" />
<circle cx="810.25" cy="643.67" r="6.4" fill="#0a9a28"/>
<circle cx="810.25" cy="774.1" r="6.4" fill="#f01010"/>
<circle cx="810.25" cy="1020.19" r="6.4" fill="#0a0a0a"/>
<text x="606.8" y="649.3" font-size="25.3" text-anchor="end" >0.4</text>
<text x="606.8" y="745.2" font-size="25.3" text-anchor="end" >0.35</text>
<text x="606.8" y="841.1" font-size="25.3" text-anchor="end" >0.3</text>
<text x="606.8" y="937" font-size="25.3" text-anchor="end" >0.25</text>
<text x="606.8" y="1032.9" font-size="25.3" text-anchor="end" >0.2</text>
<text x="619" y="1057.8" font-size="25.3" text-anchor="middle" >100</text>
<text x="712.7" y="1057.8" font-size="25.3" text-anchor="middle" >200</text>
<text x="808.5" y="1057.8" font-size="25.3" text-anchor="middle" >300</text>
<text x="904.4" y="1057.8" font-size="25.3" text-anchor="middle" >400</text>
<text x="993.7" y="1057.8" font-size="25.3" text-anchor="middle" >500</text>
<text x="809" y="1105" font-size="31" text-anchor="middle" >U[meV]</text>
<text transform="translate(555,833) rotate(-90)" font-size="31.5" text-anchor="middle" >r<tspan font-size="17.5" dy="5">TF</tspan><tspan dy="-5"> [a]</tspan></text>
<text x="516.5" y="598.8" font-size="37" text-anchor="start" >(d)</text>
<text x="606" y="601" font-size="36" text-anchor="start" ><tspan font-style="italic">ρ</tspan>(0)</text>
<text x="612.5" y="583" font-size="25" text-anchor="start" >~</text>
<rect x="696" y="582.6" width="280" height="14.8" fill="url(#gh)" stroke="#3a3a3a" stroke-width="1"/>
<line x1="742.67" y1="582.6" x2="742.67" y2="586.6" stroke="#3a3a3a" stroke-width="0.8" />
<line x1="742.67" y1="597.4" x2="742.67" y2="593.4" stroke="#3a3a3a" stroke-width="0.8" />
<line x1="789.33" y1="582.6" x2="789.33" y2="586.6" stroke="#3a3a3a" stroke-width="0.8" />
<line x1="789.33" y1="597.4" x2="789.33" y2="593.4" stroke="#3a3a3a" stroke-width="0.8" />
<line x1="836" y1="582.6" x2="836" y2="586.6" stroke="#3a3a3a" stroke-width="0.8" />
<line x1="836" y1="597.4" x2="836" y2="593.4" stroke="#3a3a3a" stroke-width="0.8" />
<line x1="882.67" y1="582.6" x2="882.67" y2="586.6" stroke="#3a3a3a" stroke-width="0.8" />
<line x1="882.67" y1="597.4" x2="882.67" y2="593.4" stroke="#3a3a3a" stroke-width="0.8" />
<line x1="929.33" y1="582.6" x2="929.33" y2="586.6" stroke="#3a3a3a" stroke-width="0.8" />
<line x1="929.33" y1="597.4" x2="929.33" y2="593.4" stroke="#3a3a3a" stroke-width="0.8" />
<text x="697" y="625.5" font-size="34" text-anchor="middle" >0</text>
<text x="939.5" y="620.5" font-size="36.5" text-anchor="start" letter-spacing="0.7">max</text>
<clipPath id="ce"><rect x="99.2" y="1145.8" width="395.5" height="395"/></clipPath>
<rect x="102.2" y="1148.8" width="389.5" height="389" fill="#fff" stroke="#666" stroke-width="1.1"/>
<line x1="264.3" y1="1148.8" x2="264.3" y2="1153.8" stroke="#666" stroke-width="1" />
<line x1="264.3" y1="1537.8" x2="264.3" y2="1532.8" stroke="#666" stroke-width="1" />
<line x1="346.3" y1="1148.8" x2="346.3" y2="1153.8" stroke="#666" stroke-width="1" />
<line x1="346.3" y1="1537.8" x2="346.3" y2="1532.8" stroke="#666" stroke-width="1" />
<line x1="102.2" y1="1440.55" x2="107.2" y2="1440.55" stroke="#666" stroke-width="1" />
<line x1="491.7" y1="1440.55" x2="486.7" y2="1440.55" stroke="#666" stroke-width="1" />
<line x1="102.2" y1="1343.3" x2="107.2" y2="1343.3" stroke="#666" stroke-width="1" />
<line x1="491.7" y1="1343.3" x2="486.7" y2="1343.3" stroke="#666" stroke-width="1" />
<line x1="102.2" y1="1246.05" x2="107.2" y2="1246.05" stroke="#666" stroke-width="1" />
<line x1="491.7" y1="1246.05" x2="486.7" y2="1246.05" stroke="#666" stroke-width="1" />
<g clip-path="url(#ce)"><polyline points="102.5,1149.64 103.15,1149.74 103.8,1150 104.44,1150.39 105.09,1150.9 105.74,1151.53 106.39,1152.25 107.04,1153.06 107.68,1153.95 108.33,1154.89 108.98,1155.88 109.63,1156.9 110.28,1157.94 110.92,1159 111.57,1160.09 112.22,1161.21 112.87,1162.38 113.52,1163.61 114.16,1164.9 114.81,1166.27 115.46,1167.72 116.11,1169.26 116.76,1170.88 117.4,1172.58 118.05,1174.36 118.7,1176.2 119.35,1178.11 120,1180.08 120.64,1182.11 121.29,1184.18 121.94,1186.31 122.59,1188.48 123.24,1190.69 123.88,1192.94 124.53,1195.21 125.18,1197.52 125.83,1199.84 126.48,1202.19 127.12,1204.56 127.77,1206.96 128.42,1209.37 129.07,1211.8 129.72,1214.25 130.36,1216.72 131.01,1219.21 131.66,1221.71 132.31,1224.23 132.96,1226.77 133.6,1229.32 134.25,1231.88 134.9,1234.46 135.55,1237.05 136.2,1239.65 136.84,1242.26 137.49,1244.88 138.14,1247.51 138.79,1250.14 139.44,1252.79 140.08,1255.44 140.73,1258.1 141.38,1260.76 142.03,1263.43 142.68,1266.1 143.32,1268.78 143.97,1271.46 144.62,1274.13 145.27,1276.81 145.92,1279.49 146.56,1282.17 147.21,1284.85 147.86,1287.53 148.51,1290.2 149.16,1292.87 149.8,1295.53 150.45,1298.19 151.1,1300.85 151.75,1303.49 152.4,1306.14 153.04,1308.77 153.69,1311.4 154.34,1314.03 154.99,1316.64 155.64,1319.25 156.28,1321.85 156.93,1324.45 157.58,1327.03 158.23,1329.61 158.88,1332.18 159.52,1334.75 160.17,1337.3 160.82,1339.84 161.47,1342.38 162.12,1344.91 162.76,1347.43 163.41,1349.93 164.06,1352.43 164.71,1354.92 165.36,1357.4 166,1359.87 166.65,1362.33 167.3,1364.77 167.95,1367.21 168.6,1369.63 169.24,1372.05 169.89,1374.45 170.54,1376.84 171.19,1379.21 171.84,1381.58 172.48,1383.93 173.13,1386.27 173.78,1388.6 174.43,1390.92 175.08,1393.22 175.72,1395.51 176.37,1397.79 177.02,1400.05 177.67,1402.3 178.32,1404.54 178.96,1406.76 179.61,1408.97 180.26,1411.17 180.91,1413.35 181.56,1415.52 182.2,1417.67 182.85,1419.81 183.5,1421.93 184.15,1424.04 184.8,1426.13 185.44,1428.21 186.09,1430.27 186.74,1432.32 187.39,1434.35 188.04,1436.37 188.68,1438.36 189.33,1440.35 189.98,1442.32 190.63,1444.27 191.28,1446.2 191.92,1448.12 192.57,1450.02 193.22,1451.9 193.87,1453.77 194.52,1455.62 195.16,1457.45 195.81,1459.26 196.46,1461.06 197.11,1462.84 197.76,1464.6 198.4,1466.34 199.05,1468.06 199.7,1469.77 200.35,1471.45 201,1473.12 201.64,1474.77 202.29,1476.4 202.94,1478.01 203.59,1479.6 204.24,1481.17 204.88,1482.72 205.53,1484.26 206.18,1485.77 206.83,1487.26 207.48,1488.73 208.12,1490.18 208.77,1491.61 209.42,1493.02 210.07,1494.41 210.72,1495.78 211.36,1497.12 212.01,1498.45 212.66,1499.75 213.31,1501.03 213.96,1502.29 214.6,1503.53 215.25,1504.75 215.9,1505.94 216.55,1507.11 217.2,1508.26 217.84,1509.38 218.49,1510.49 219.14,1511.57 219.79,1512.62 220.44,1513.66 221.08,1514.67 221.73,1515.65 222.38,1516.62 223.03,1517.55 223.68,1518.47 224.32,1519.36 224.97,1520.22 225.62,1521.07 226.27,1521.88 226.92,1522.68 227.56,1523.44 228.21,1524.19 228.86,1524.91 229.51,1525.61 230.16,1526.28 230.8,1526.94 231.45,1527.57 232.1,1528.17 232.75,1528.76 233.4,1529.32 234.04,1529.86 234.69,1530.38 235.34,1530.88 235.99,1531.35 236.64,1531.81 237.28,1532.24 237.93,1532.65 238.58,1533.04 239.23,1533.41 239.88,1533.77 240.52,1534.1 241.17,1534.41 241.82,1534.71 242.47,1534.99 243.12,1535.25 243.76,1535.49 244.41,1535.72 245.06,1535.94 245.71,1536.14 246.36,1536.33 247,1536.51 247.65,1536.67 248.3,1536.82 248.95,1536.97 249.6,1537.1 250.24,1537.22 250.89,1537.33 251.54,1537.43 252.19,1537.5 252.84,1537.5 253.48,1537.5 254.13,1537.5 254.78,1537.5 255.43,1537.5 256.08,1537.5 256.72,1537.5 257.37,1537.5 258.02,1537.5 258.67,1537.5 259.32,1537.5 259.96,1537.5 260.61,1537.5 261.26,1537.5 261.91,1537.5 262.56,1537.5 263.2,1537.5 263.85,1537.5 264.5,1537.5 265.15,1537.5 265.8,1537.5 266.44,1537.5 267.09,1537.5 267.74,1537.5 268.39,1537.5 269.04,1537.5 269.68,1537.5 270.33,1537.5 270.98,1537.5 271.63,1537.5 272.28,1537.5 272.92,1537.5 273.57,1537.5 274.22,1537.5 274.87,1537.5 275.52,1537.47 276.16,1537.42 276.81,1537.37 277.46,1537.31 278.11,1537.26 278.76,1537.19 279.4,1537.13 280.05,1537.06 280.7,1536.99 281.35,1536.92 282,1536.84 282.64,1536.76 283.29,1536.68 283.94,1536.59 284.59,1536.5 285.24,1536.41 285.88,1536.31 286.53,1536.21 287.18,1536.1 287.83,1535.98 288.48,1535.85 289.12,1535.7 289.77,1535.54 290.42,1535.37 291.07,1535.18 291.72,1534.97 292.36,1534.73 293.01,1534.48 293.66,1534.2 294.31,1533.89 294.96,1533.56 295.6,1533.19 296.25,1532.79 296.9,1532.36 297.55,1531.9 298.2,1531.4 298.84,1530.86 299.49,1530.28 300.14,1529.66 300.79,1528.99 301.44,1528.28 302.08,1527.53 302.73,1526.73 303.38,1525.9 304.03,1525.02 304.68,1524.11 305.32,1523.17 305.97,1522.2 306.62,1521.2 307.27,1520.18 307.92,1519.13 308.56,1518.06 309.21,1516.97 309.86,1515.87 310.51,1514.75 311.16,1513.62 311.8,1512.48 312.45,1511.34 313.1,1510.19 313.75,1509.04 314.4,1507.88 315.04,1506.74 315.69,1505.59 316.34,1504.45 316.99,1503.32 317.64,1502.21 318.28,1501.1 318.93,1500.02 319.58,1498.95 320.23,1497.9 320.88,1496.88 321.52,1495.87 322.17,1494.89 322.82,1493.93 323.47,1492.99 324.12,1492.08 324.76,1491.19 325.41,1490.33 326.06,1489.5 326.71,1488.7 327.36,1487.92 328,1487.18 328.65,1486.47 329.3,1485.78 329.95,1485.13 330.6,1484.52 331.24,1483.94 331.89,1483.39 332.54,1482.87 333.19,1482.39 333.84,1481.94 334.48,1481.52 335.13,1481.12 335.78,1480.75 336.43,1480.41 337.08,1480.1 337.72,1479.8 338.37,1479.53 339.02,1479.29 339.67,1479.06 340.32,1478.85 340.96,1478.66 341.61,1478.48 342.26,1478.32 342.91,1478.18 343.56,1478.05 344.2,1477.93 344.85,1477.82 345.5,1477.72 346.15,1477.63 346.8,1477.54 347.44,1477.46 348.09,1477.39 348.74,1477.32 349.39,1477.26 350.04,1477.19 350.68,1477.13 351.33,1477.06 351.98,1476.99 352.63,1476.92 353.28,1476.84 353.92,1476.76 354.57,1476.67 355.22,1476.58 355.87,1476.47 356.52,1476.36 357.16,1476.23 357.81,1476.09 358.46,1475.94 359.11,1475.77 359.76,1475.58 360.4,1475.38 361.05,1475.16 361.7,1474.92 362.35,1474.66 363,1474.38 363.64,1474.07 364.29,1473.74 364.94,1473.39 365.59,1473.01 366.24,1472.61 366.88,1472.19 367.53,1471.75 368.18,1471.28 368.83,1470.8 369.48,1470.29 370.12,1469.75 370.77,1469.2 371.42,1468.63 372.07,1468.03 372.72,1467.41 373.36,1466.77 374.01,1466.11 374.66,1465.43 375.31,1464.72 375.96,1464 376.6,1463.26 377.25,1462.49 377.9,1461.7 378.55,1460.9 379.2,1460.07 379.84,1459.23 380.49,1458.36 381.14,1457.47 381.79,1456.57 382.44,1455.64 383.08,1454.7 383.73,1453.73 384.38,1452.75 385.03,1451.75 385.68,1450.73 386.32,1449.69 386.97,1448.63 387.62,1447.55 388.27,1446.46 388.92,1445.34 389.56,1444.21 390.21,1443.06 390.86,1441.89 391.51,1440.69 392.16,1439.49 392.8,1438.26 393.45,1437.01 394.1,1435.74 394.75,1434.45 395.4,1433.15 396.04,1431.82 396.69,1430.47 397.34,1429.11 397.99,1427.72 398.64,1426.32 399.28,1424.89 399.93,1423.44 400.58,1421.98 401.23,1420.49 401.88,1418.98 402.52,1417.45 403.17,1415.9 403.82,1414.33 404.47,1412.74 405.12,1411.14 405.76,1409.51 406.41,1407.87 407.06,1406.21 407.71,1404.53 408.36,1402.84 409,1401.14 409.65,1399.42 410.3,1397.69 410.95,1395.96 411.6,1394.21 412.24,1392.45 412.89,1390.68 413.54,1388.9 414.19,1387.12 414.84,1385.33 415.48,1383.54 416.13,1381.74 416.78,1379.94 417.43,1378.14 418.08,1376.34 418.72,1374.53 419.37,1372.72 420.02,1370.92 420.67,1369.13 421.32,1367.34 421.96,1365.58 422.61,1363.83 423.26,1362.11 423.91,1360.42 424.56,1358.77 425.2,1357.15 425.85,1355.58 426.5,1354.05 427.15,1352.58 427.8,1351.16 428.44,1349.75 429.09,1348.35 429.74,1346.91 430.39,1345.42 431.04,1343.84 431.68,1342.15 432.33,1340.33 432.98,1338.35 433.63,1336.25 434.28,1334.02 434.92,1331.69 435.57,1329.25 436.22,1326.74 436.87,1324.14 437.52,1321.49 438.16,1318.78 438.81,1316.04 439.46,1313.26 440.11,1310.48 440.76,1307.69 441.4,1304.91 442.05,1302.14 442.7,1299.4 443.35,1296.69 444,1294 444.64,1291.36 445.29,1288.76 445.94,1286.21 446.59,1283.71 447.24,1281.26 447.88,1278.86 448.53,1276.49 449.18,1274.15 449.83,1271.84 450.48,1269.55 451.12,1267.27 451.77,1265 452.42,1262.73 453.07,1260.45 453.72,1258.16 454.36,1255.86 455.01,1253.53 455.66,1251.17 456.31,1248.77 456.96,1246.34 457.6,1243.88 458.25,1241.38 458.9,1238.86 459.55,1236.32 460.2,1233.76 460.84,1231.18 461.49,1228.58 462.14,1225.98 462.79,1223.38 463.44,1220.77 464.08,1218.16 464.73,1215.56 465.38,1212.96 466.03,1210.38 466.68,1207.82 467.32,1205.27 467.97,1202.74 468.62,1200.24 469.27,1197.77 469.92,1195.34 470.56,1192.94 471.21,1190.58 471.86,1188.26 472.51,1185.99 473.16,1183.77 473.8,1181.61 474.45,1179.5 475.1,1177.46 475.75,1175.48 476.4,1173.56 477.04,1171.72 477.69,1169.95 478.34,1168.24 478.99,1166.62 479.64,1165.06 480.28,1163.58 480.93,1162.17 481.58,1160.84 482.23,1159.58 482.88,1158.4 483.52,1157.3 484.17,1156.28 484.82,1155.34 485.47,1154.47 486.12,1153.69 486.76,1152.99 487.41,1152.37 488.06,1151.84 488.71,1151.39 489.36,1151.02 490,1150.74 490.65,1150.55 491.3,1150.44" fill="none" stroke="#008a1a" stroke-width="3.8" stroke-linejoin="round"/>
<g fill="#008a1a"><circle cx="102.5" cy="1149.64" r="2.9"/><circle cx="105.74" cy="1151.53" r="2.9"/><circle cx="108.98" cy="1155.88" r="2.9"/><circle cx="112.22" cy="1161.21" r="2.9"/><circle cx="115.46" cy="1167.72" r="2.9"/><circle cx="118.7" cy="1176.2" r="2.9"/><circle cx="121.94" cy="1186.31" r="2.9"/><circle cx="125.18" cy="1197.52" r="2.9"/><circle cx="128.42" cy="1209.37" r="2.9"/><circle cx="131.66" cy="1221.71" r="2.9"/><circle cx="134.9" cy="1234.46" r="2.9"/><circle cx="138.14" cy="1247.51" r="2.9"/><circle cx="141.38" cy="1260.76" r="2.9"/><circle cx="144.62" cy="1274.13" r="2.9"/><circle cx="147.86" cy="1287.53" r="2.9"/><circle cx="151.1" cy="1300.85" r="2.9"/><circle cx="154.34" cy="1314.03" r="2.9"/><circle cx="157.58" cy="1327.03" r="2.9"/><circle cx="160.82" cy="1339.84" r="2.9"/><circle cx="164.06" cy="1352.43" r="2.9"/><circle cx="167.3" cy="1364.77" r="2.9"/><circle cx="170.54" cy="1376.84" r="2.9"/><circle cx="173.78" cy="1388.6" r="2.9"/><circle cx="177.02" cy="1400.05" r="2.9"/><circle cx="180.26" cy="1411.17" r="2.9"/><circle cx="183.5" cy="1421.93" r="2.9"/><circle cx="186.74" cy="1432.32" r="2.9"/><circle cx="189.98" cy="1442.32" r="2.9"/><circle cx="193.22" cy="1451.9" r="2.9"/><circle cx="196.46" cy="1461.06" r="2.9"/><circle cx="199.7" cy="1469.77" r="2.9"/><circle cx="202.94" cy="1478.01" r="2.9"/><circle cx="206.18" cy="1485.77" r="2.9"/><circle cx="209.42" cy="1493.02" r="2.9"/><circle cx="212.66" cy="1499.75" r="2.9"/><circle cx="215.9" cy="1505.94" r="2.9"/><circle cx="219.14" cy="1511.57" r="2.9"/><circle cx="222.38" cy="1516.62" r="2.9"/><circle cx="225.62" cy="1521.07" r="2.9"/><circle cx="228.86" cy="1524.91" r="2.9"/><circle cx="232.1" cy="1528.17" r="2.9"/><circle cx="235.34" cy="1530.88" r="2.9"/><circle cx="238.58" cy="1533.04" r="2.9"/><circle cx="241.82" cy="1534.71" r="2.9"/><circle cx="245.06" cy="1535.94" r="2.9"/><circle cx="248.3" cy="1536.82" r="2.9"/><circle cx="251.54" cy="1537.43" r="2.9"/><circle cx="254.78" cy="1537.5" r="2.9"/><circle cx="258.02" cy="1537.5" r="2.9"/><circle cx="261.26" cy="1537.5" r="2.9"/><circle cx="264.5" cy="1537.5" r="2.9"/><circle cx="267.74" cy="1537.5" r="2.9"/><circle cx="270.98" cy="1537.5" r="2.9"/><circle cx="274.22" cy="1537.5" r="2.9"/><circle cx="277.46" cy="1537.31" r="2.9"/><circle cx="280.7" cy="1536.99" r="2.9"/><circle cx="283.94" cy="1536.59" r="2.9"/><circle cx="287.18" cy="1536.1" r="2.9"/><circle cx="290.42" cy="1535.37" r="2.9"/><circle cx="293.66" cy="1534.2" r="2.9"/><circle cx="296.9" cy="1532.36" r="2.9"/><circle cx="300.14" cy="1529.66" r="2.9"/><circle cx="303.38" cy="1525.9" r="2.9"/><circle cx="306.62" cy="1521.2" r="2.9"/><circle cx="309.86" cy="1515.87" r="2.9"/><circle cx="313.1" cy="1510.19" r="2.9"/><circle cx="316.34" cy="1504.45" r="2.9"/><circle cx="319.58" cy="1498.95" r="2.9"/><circle cx="322.82" cy="1493.93" r="2.9"/><circle cx="326.06" cy="1489.5" r="2.9"/><circle cx="329.3" cy="1485.78" r="2.9"/><circle cx="332.54" cy="1482.87" r="2.9"/><circle cx="335.78" cy="1480.75" r="2.9"/><circle cx="339.02" cy="1479.29" r="2.9"/><circle cx="342.26" cy="1478.32" r="2.9"/><circle cx="345.5" cy="1477.72" r="2.9"/><circle cx="348.74" cy="1477.32" r="2.9"/><circle cx="351.98" cy="1476.99" r="2.9"/><circle cx="355.22" cy="1476.58" r="2.9"/><circle cx="358.46" cy="1475.94" r="2.9"/><circle cx="361.7" cy="1474.92" r="2.9"/><circle cx="364.94" cy="1473.39" r="2.9"/><circle cx="368.18" cy="1471.28" r="2.9"/><circle cx="371.42" cy="1468.63" r="2.9"/><circle cx="374.66" cy="1465.43" r="2.9"/><circle cx="377.9" cy="1461.7" r="2.9"/><circle cx="381.14" cy="1457.47" r="2.9"/><circle cx="384.38" cy="1452.75" r="2.9"/><circle cx="387.62" cy="1447.55" r="2.9"/><circle cx="390.86" cy="1441.89" r="2.9"/><circle cx="394.1" cy="1435.74" r="2.9"/><circle cx="397.34" cy="1429.11" r="2.9"/><circle cx="400.58" cy="1421.98" r="2.9"/><circle cx="403.82" cy="1414.33" r="2.9"/><circle cx="407.06" cy="1406.21" r="2.9"/><circle cx="410.3" cy="1397.69" r="2.9"/><circle cx="413.54" cy="1388.9" r="2.9"/><circle cx="416.78" cy="1379.94" r="2.9"/><circle cx="420.02" cy="1370.92" r="2.9"/><circle cx="423.26" cy="1362.11" r="2.9"/><circle cx="426.5" cy="1354.05" r="2.9"/><circle cx="429.74" cy="1346.91" r="2.9"/><circle cx="432.98" cy="1338.35" r="2.9"/><circle cx="436.22" cy="1326.74" r="2.9"/><circle cx="439.46" cy="1313.26" r="2.9"/><circle cx="442.7" cy="1299.4" r="2.9"/><circle cx="445.94" cy="1286.21" r="2.9"/><circle cx="449.18" cy="1274.15" r="2.9"/><circle cx="452.42" cy="1262.73" r="2.9"/><circle cx="455.66" cy="1251.17" r="2.9"/><circle cx="458.9" cy="1238.86" r="2.9"/><circle cx="462.14" cy="1225.98" r="2.9"/><circle cx="465.38" cy="1212.96" r="2.9"/><circle cx="468.62" cy="1200.24" r="2.9"/><circle cx="471.86" cy="1188.26" r="2.9"/><circle cx="475.1" cy="1177.46" r="2.9"/><circle cx="478.34" cy="1168.24" r="2.9"/><circle cx="481.58" cy="1160.84" r="2.9"/><circle cx="484.82" cy="1155.34" r="2.9"/><circle cx="488.06" cy="1151.84" r="2.9"/><circle cx="491.3" cy="1150.44" r="2.9"/></g></g>
<g clip-path="url(#ce)"><polyline points="102.5,1149.26 103.15,1149.4 103.8,1149.78 104.44,1150.4 105.09,1151.24 105.74,1152.31 106.39,1153.57 107.04,1155.03 107.68,1156.67 108.33,1158.48 108.98,1160.45 109.63,1162.57 110.28,1164.82 110.92,1167.21 111.57,1169.71 112.22,1172.31 112.87,1175.01 113.52,1177.8 114.16,1180.65 114.81,1183.58 115.46,1186.59 116.11,1189.7 116.76,1192.94 117.4,1196.31 118.05,1199.83 118.7,1203.52 119.35,1207.39 120,1211.47 120.64,1215.77 121.29,1220.3 121.94,1225.03 122.59,1229.93 123.24,1234.99 123.88,1240.17 124.53,1245.44 125.18,1250.78 125.83,1256.15 126.48,1261.53 127.12,1266.89 127.77,1272.2 128.42,1277.44 129.07,1282.57 129.72,1287.57 130.36,1292.42 131.01,1297.12 131.66,1301.7 132.31,1306.15 132.96,1310.48 133.6,1314.71 134.25,1318.85 134.9,1322.91 135.55,1326.89 136.2,1330.81 136.84,1334.68 137.49,1338.5 138.14,1342.29 138.79,1346.06 139.44,1349.8 140.08,1353.51 140.73,1357.21 141.38,1360.87 142.03,1364.52 142.68,1368.14 143.32,1371.73 143.97,1375.3 144.62,1378.85 145.27,1382.38 145.92,1385.88 146.56,1389.36 147.21,1392.82 147.86,1396.26 148.51,1399.67 149.16,1403.07 149.8,1406.44 150.45,1409.79 151.1,1413.12 151.75,1416.42 152.4,1419.71 153.04,1422.98 153.69,1426.22 154.34,1429.45 154.99,1432.66 155.64,1435.84 156.28,1439.01 156.93,1442.15 157.58,1445.27 158.23,1448.37 158.88,1451.44 159.52,1454.48 160.17,1457.49 160.82,1460.47 161.47,1463.42 162.12,1466.33 162.76,1469.21 163.41,1472.04 164.06,1474.84 164.71,1477.6 165.36,1480.31 166,1482.98 166.65,1485.6 167.3,1488.18 167.95,1490.71 168.6,1493.18 169.24,1495.61 169.89,1497.97 170.54,1500.29 171.19,1502.54 171.84,1504.74 172.48,1506.88 173.13,1508.95 173.78,1510.96 174.43,1512.9 175.08,1514.78 175.72,1516.59 176.37,1518.33 177.02,1520 177.67,1521.59 178.32,1523.11 178.96,1524.55 179.61,1525.91 180.26,1527.19 180.91,1528.4 181.56,1529.51 182.2,1530.55 182.85,1531.49 183.5,1532.36 184.15,1533.15 184.8,1533.86 185.44,1534.5 186.09,1535.08 186.74,1535.59 187.39,1536.03 188.04,1536.42 188.68,1536.75 189.33,1537.03 189.98,1537.26 190.63,1537.45 191.28,1537.5 191.92,1537.5 192.57,1537.5 193.22,1537.5 193.87,1537.5 194.52,1537.5 195.16,1537.5 195.81,1537.5 196.46,1537.5 197.11,1537.5 197.76,1537.44 198.4,1537.34 199.05,1537.23 199.7,1537.13 200.35,1537.03 201,1536.93 201.64,1536.85 202.29,1536.78 202.94,1536.72 203.59,1536.66 204.24,1536.62 204.88,1536.58 205.53,1536.56 206.18,1536.54 206.83,1536.53 207.48,1536.52 208.12,1536.53 208.77,1536.54 209.42,1536.55 210.07,1536.57 210.72,1536.6 211.36,1536.64 212.01,1536.67 212.66,1536.71 213.31,1536.76 213.96,1536.81 214.6,1536.86 215.25,1536.92 215.9,1536.98 216.55,1537.04 217.2,1537.1 217.84,1537.17 218.49,1537.23 219.14,1537.3 219.79,1537.37 220.44,1537.43 221.08,1537.5 221.73,1537.5 222.38,1537.5 223.03,1537.5 223.68,1537.5 224.32,1537.5 224.97,1537.5 225.62,1537.5 226.27,1537.5 226.92,1537.5 227.56,1537.5 228.21,1537.5 228.86,1537.5 229.51,1537.5 230.16,1537.5 230.8,1537.5 231.45,1537.5 232.1,1537.5 232.75,1537.5 233.4,1537.5 234.04,1537.5 234.69,1537.5 235.34,1537.5 235.99,1537.5 236.64,1537.49 237.28,1537.36 237.93,1537.22 238.58,1537.06 239.23,1536.89 239.88,1536.71 240.52,1536.5 241.17,1536.28 241.82,1536.04 242.47,1535.78 243.12,1535.5 243.76,1535.2 244.41,1534.89 245.06,1534.55 245.71,1534.19 246.36,1533.81 247,1533.42 247.65,1533.01 248.3,1532.58 248.95,1532.15 249.6,1531.7 250.24,1531.24 250.89,1530.78 251.54,1530.32 252.19,1529.85 252.84,1529.38 253.48,1528.91 254.13,1528.45 254.78,1527.99 255.43,1527.53 256.08,1527.08 256.72,1526.65 257.37,1526.22 258.02,1525.81 258.67,1525.42 259.32,1525.03 259.96,1524.67 260.61,1524.32 261.26,1523.98 261.91,1523.67 262.56,1523.38 263.2,1523.1 263.85,1522.85 264.5,1522.62 265.15,1522.41 265.8,1522.23 266.44,1522.07 267.09,1521.93 267.74,1521.82 268.39,1521.74 269.04,1521.69 269.68,1521.67 270.33,1521.67 270.98,1521.71 271.63,1521.78 272.28,1521.88 272.92,1522.02 273.57,1522.19 274.22,1522.4 274.87,1522.64 275.52,1522.91 276.16,1523.23 276.81,1523.57 277.46,1523.93 278.11,1524.32 278.76,1524.72 279.4,1525.14 280.05,1525.56 280.7,1525.98 281.35,1526.4 282,1526.82 282.64,1527.22 283.29,1527.61 283.94,1527.98 284.59,1528.32 285.24,1528.64 285.88,1528.92 286.53,1529.17 287.18,1529.38 287.83,1529.53 288.48,1529.64 289.12,1529.69 289.77,1529.69 290.42,1529.61 291.07,1529.48 291.72,1529.28 292.36,1529.01 293.01,1528.68 293.66,1528.28 294.31,1527.82 294.96,1527.3 295.6,1526.71 296.25,1526.06 296.9,1525.35 297.55,1524.57 298.2,1523.73 298.84,1522.83 299.49,1521.87 300.14,1520.85 300.79,1519.77 301.44,1518.62 302.08,1517.42 302.73,1516.15 303.38,1514.83 304.03,1513.44 304.68,1512 305.32,1510.49 305.97,1508.93 306.62,1507.31 307.27,1505.63 307.92,1503.9 308.56,1502.11 309.21,1500.28 309.86,1498.4 310.51,1496.48 311.16,1494.53 311.8,1492.54 312.45,1490.53 313.1,1488.49 313.75,1486.43 314.4,1484.35 315.04,1482.27 315.69,1480.17 316.34,1478.08 316.99,1475.98 317.64,1473.89 318.28,1471.81 318.93,1469.73 319.58,1467.68 320.23,1465.65 320.88,1463.64 321.52,1461.66 322.17,1459.71 322.82,1457.8 323.47,1455.93 324.12,1454.11 324.76,1452.33 325.41,1450.61 326.06,1448.94 326.71,1447.32 327.36,1445.76 328,1444.26 328.65,1442.8 329.3,1441.4 329.95,1440.05 330.6,1438.75 331.24,1437.51 331.89,1436.31 332.54,1435.17 333.19,1434.07 333.84,1433.03 334.48,1432.03 335.13,1431.09 335.78,1430.19 336.43,1429.34 337.08,1428.55 337.72,1427.79 338.37,1427.09 339.02,1426.43 339.67,1425.82 340.32,1425.26 340.96,1424.74 341.61,1424.27 342.26,1423.84 342.91,1423.46 343.56,1423.12 344.2,1422.83 344.85,1422.58 345.5,1422.38 346.15,1422.22 346.8,1422.1 347.44,1422.03 348.09,1422 348.74,1422.01 349.39,1422.07 350.04,1422.17 350.68,1422.32 351.33,1422.51 351.98,1422.74 352.63,1423.01 353.28,1423.33 353.92,1423.69 354.57,1424.09 355.22,1424.53 355.87,1425.02 356.52,1425.55 357.16,1426.11 357.81,1426.71 358.46,1427.35 359.11,1428.02 359.76,1428.72 360.4,1429.45 361.05,1430.2 361.7,1430.99 362.35,1431.8 363,1432.63 363.64,1433.48 364.29,1434.36 364.94,1435.25 365.59,1436.15 366.24,1437.08 366.88,1438.01 367.53,1438.95 368.18,1439.91 368.83,1440.87 369.48,1441.84 370.12,1442.81 370.77,1443.78 371.42,1444.76 372.07,1445.73 372.72,1446.7 373.36,1447.67 374.01,1448.63 374.66,1449.58 375.31,1450.52 375.96,1451.46 376.6,1452.38 377.25,1453.29 377.9,1454.19 378.55,1455.08 379.2,1455.95 379.84,1456.82 380.49,1457.67 381.14,1458.51 381.79,1459.34 382.44,1460.16 383.08,1460.96 383.73,1461.75 384.38,1462.53 385.03,1463.29 385.68,1464.04 386.32,1464.78 386.97,1465.5 387.62,1466.21 388.27,1466.9 388.92,1467.58 389.56,1468.25 390.21,1468.89 390.86,1469.53 391.51,1470.15 392.16,1470.75 392.8,1471.34 393.45,1471.91 394.1,1472.47 394.75,1473 395.4,1473.53 396.04,1474.03 396.69,1474.52 397.34,1474.99 397.99,1475.45 398.64,1475.88 399.28,1476.3 399.93,1476.7 400.58,1477.08 401.23,1477.44 401.88,1477.78 402.52,1478.1 403.17,1478.39 403.82,1478.66 404.47,1478.91 405.12,1479.12 405.76,1479.31 406.41,1479.48 407.06,1479.61 407.71,1479.71 408.36,1479.78 409,1479.82 409.65,1479.82 410.3,1479.79 410.95,1479.73 411.6,1479.62 412.24,1479.48 412.89,1479.31 413.54,1479.09 414.19,1478.83 414.84,1478.53 415.48,1478.19 416.13,1477.8 416.78,1477.37 417.43,1476.9 418.08,1476.37 418.72,1475.81 419.37,1475.19 420.02,1474.52 420.67,1473.8 421.32,1473.03 421.96,1472.21 422.61,1471.33 423.26,1470.4 423.91,1469.41 424.56,1468.37 425.2,1467.27 425.85,1466.11 426.5,1464.89 427.15,1463.61 427.8,1462.27 428.44,1460.87 429.09,1459.4 429.74,1457.87 430.39,1456.27 431.04,1454.6 431.68,1452.87 432.33,1451.07 432.98,1449.21 433.63,1447.28 434.28,1445.29 434.92,1443.24 435.57,1441.14 436.22,1438.97 436.87,1436.74 437.52,1434.47 438.16,1432.13 438.81,1429.75 439.46,1427.31 440.11,1424.82 440.76,1422.28 441.4,1419.7 442.05,1417.07 442.7,1414.4 443.35,1411.68 444,1408.92 444.64,1406.12 445.29,1403.28 445.94,1400.41 446.59,1397.49 447.24,1394.55 447.88,1391.56 448.53,1388.55 449.18,1385.5 449.83,1382.43 450.48,1379.33 451.12,1376.2 451.77,1373.05 452.42,1369.87 453.07,1366.68 453.72,1363.47 454.36,1360.24 455.01,1357 455.66,1353.73 456.31,1350.38 456.96,1346.87 457.6,1343.14 458.25,1339.11 458.9,1334.77 459.55,1330.19 460.2,1325.42 460.84,1320.55 461.49,1315.63 462.14,1310.69 462.79,1305.74 463.44,1300.78 464.08,1295.81 464.73,1290.85 465.38,1285.9 466.03,1280.96 466.68,1276.05 467.32,1271.15 467.97,1266.3 468.62,1261.48 469.27,1256.7 469.92,1251.97 470.56,1247.3 471.21,1242.69 471.86,1238.15 472.51,1233.66 473.16,1229.25 473.8,1224.9 474.45,1220.61 475.1,1216.4 475.75,1212.26 476.4,1208.19 477.04,1204.19 477.69,1200.27 478.34,1196.42 478.99,1192.67 479.64,1189.01 480.28,1185.46 480.93,1182.02 481.58,1178.71 482.23,1175.53 482.88,1172.5 483.52,1169.62 484.17,1166.9 484.82,1164.35 485.47,1161.99 486.12,1159.81 486.76,1157.83 487.41,1156.06 488.06,1154.51 488.71,1153.18 489.36,1152.09 490,1151.24 490.65,1150.65 491.3,1150.32" fill="none" stroke="#f00000" stroke-width="3.8" stroke-linejoin="round"/>
<g fill="#f00000"><circle cx="102.5" cy="1149.26" r="2.9"/><circle cx="105.74" cy="1152.31" r="2.9"/><circle cx="108.98" cy="1160.45" r="2.9"/><circle cx="112.22" cy="1172.31" r="2.9"/><circle cx="115.46" cy="1186.59" r="2.9"/><circle cx="118.7" cy="1203.52" r="2.9"/><circle cx="121.94" cy="1225.03" r="2.9"/><circle cx="125.18" cy="1250.78" r="2.9"/><circle cx="128.42" cy="1277.44" r="2.9"/><circle cx="131.66" cy="1301.7" r="2.9"/><circle cx="134.9" cy="1322.91" r="2.9"/><circle cx="138.14" cy="1342.29" r="2.9"/><circle cx="141.38" cy="1360.87" r="2.9"/><circle cx="144.62" cy="1378.85" r="2.9"/><circle cx="147.86" cy="1396.26" r="2.9"/><circle cx="151.1" cy="1413.12" r="2.9"/><circle cx="154.34" cy="1429.45" r="2.9"/><circle cx="157.58" cy="1445.27" r="2.9"/><circle cx="160.82" cy="1460.47" r="2.9"/><circle cx="164.06" cy="1474.84" r="2.9"/><circle cx="167.3" cy="1488.18" r="2.9"/><circle cx="170.54" cy="1500.29" r="2.9"/><circle cx="173.78" cy="1510.96" r="2.9"/><circle cx="177.02" cy="1520" r="2.9"/><circle cx="180.26" cy="1527.19" r="2.9"/><circle cx="183.5" cy="1532.36" r="2.9"/><circle cx="186.74" cy="1535.59" r="2.9"/><circle cx="189.98" cy="1537.26" r="2.9"/><circle cx="193.22" cy="1537.5" r="2.9"/><circle cx="196.46" cy="1537.5" r="2.9"/><circle cx="199.7" cy="1537.13" r="2.9"/><circle cx="202.94" cy="1536.72" r="2.9"/><circle cx="206.18" cy="1536.54" r="2.9"/><circle cx="209.42" cy="1536.55" r="2.9"/><circle cx="212.66" cy="1536.71" r="2.9"/><circle cx="215.9" cy="1536.98" r="2.9"/><circle cx="219.14" cy="1537.3" r="2.9"/><circle cx="222.38" cy="1537.5" r="2.9"/><circle cx="225.62" cy="1537.5" r="2.9"/><circle cx="228.86" cy="1537.5" r="2.9"/><circle cx="232.1" cy="1537.5" r="2.9"/><circle cx="235.34" cy="1537.5" r="2.9"/><circle cx="238.58" cy="1537.06" r="2.9"/><circle cx="241.82" cy="1536.04" r="2.9"/><circle cx="245.06" cy="1534.55" r="2.9"/><circle cx="248.3" cy="1532.58" r="2.9"/><circle cx="251.54" cy="1530.32" r="2.9"/><circle cx="254.78" cy="1527.99" r="2.9"/><circle cx="258.02" cy="1525.81" r="2.9"/><circle cx="261.26" cy="1523.98" r="2.9"/><circle cx="264.5" cy="1522.62" r="2.9"/><circle cx="267.74" cy="1521.82" r="2.9"/><circle cx="270.98" cy="1521.71" r="2.9"/><circle cx="274.22" cy="1522.4" r="2.9"/><circle cx="277.46" cy="1523.93" r="2.9"/><circle cx="280.7" cy="1525.98" r="2.9"/><circle cx="283.94" cy="1527.98" r="2.9"/><circle cx="287.18" cy="1529.38" r="2.9"/><circle cx="290.42" cy="1529.61" r="2.9"/><circle cx="293.66" cy="1528.28" r="2.9"/><circle cx="296.9" cy="1525.35" r="2.9"/><circle cx="300.14" cy="1520.85" r="2.9"/><circle cx="303.38" cy="1514.83" r="2.9"/><circle cx="306.62" cy="1507.31" r="2.9"/><circle cx="309.86" cy="1498.4" r="2.9"/><circle cx="313.1" cy="1488.49" r="2.9"/><circle cx="316.34" cy="1478.08" r="2.9"/><circle cx="319.58" cy="1467.68" r="2.9"/><circle cx="322.82" cy="1457.8" r="2.9"/><circle cx="326.06" cy="1448.94" r="2.9"/><circle cx="329.3" cy="1441.4" r="2.9"/><circle cx="332.54" cy="1435.17" r="2.9"/><circle cx="335.78" cy="1430.19" r="2.9"/><circle cx="339.02" cy="1426.43" r="2.9"/><circle cx="342.26" cy="1423.84" r="2.9"/><circle cx="345.5" cy="1422.38" r="2.9"/><circle cx="348.74" cy="1422.01" r="2.9"/><circle cx="351.98" cy="1422.74" r="2.9"/><circle cx="355.22" cy="1424.53" r="2.9"/><circle cx="358.46" cy="1427.35" r="2.9"/><circle cx="361.7" cy="1430.99" r="2.9"/><circle cx="364.94" cy="1435.25" r="2.9"/><circle cx="368.18" cy="1439.91" r="2.9"/><circle cx="371.42" cy="1444.76" r="2.9"/><circle cx="374.66" cy="1449.58" r="2.9"/><circle cx="377.9" cy="1454.19" r="2.9"/><circle cx="381.14" cy="1458.51" r="2.9"/><circle cx="384.38" cy="1462.53" r="2.9"/><circle cx="387.62" cy="1466.21" r="2.9"/><circle cx="390.86" cy="1469.53" r="2.9"/><circle cx="394.1" cy="1472.47" r="2.9"/><circle cx="397.34" cy="1474.99" r="2.9"/><circle cx="400.58" cy="1477.08" r="2.9"/><circle cx="403.82" cy="1478.66" r="2.9"/><circle cx="407.06" cy="1479.61" r="2.9"/><circle cx="410.3" cy="1479.79" r="2.9"/><circle cx="413.54" cy="1479.09" r="2.9"/><circle cx="416.78" cy="1477.37" r="2.9"/><circle cx="420.02" cy="1474.52" r="2.9"/><circle cx="423.26" cy="1470.4" r="2.9"/><circle cx="426.5" cy="1464.89" r="2.9"/><circle cx="429.74" cy="1457.87" r="2.9"/><circle cx="432.98" cy="1449.21" r="2.9"/><circle cx="436.22" cy="1438.97" r="2.9"/><circle cx="439.46" cy="1427.31" r="2.9"/><circle cx="442.7" cy="1414.4" r="2.9"/><circle cx="445.94" cy="1400.41" r="2.9"/><circle cx="449.18" cy="1385.5" r="2.9"/><circle cx="452.42" cy="1369.87" r="2.9"/><circle cx="455.66" cy="1353.73" r="2.9"/><circle cx="458.9" cy="1334.77" r="2.9"/><circle cx="462.14" cy="1310.69" r="2.9"/><circle cx="465.38" cy="1285.9" r="2.9"/><circle cx="468.62" cy="1261.48" r="2.9"/><circle cx="471.86" cy="1238.15" r="2.9"/><circle cx="475.1" cy="1216.4" r="2.9"/><circle cx="478.34" cy="1196.42" r="2.9"/><circle cx="481.58" cy="1178.71" r="2.9"/><circle cx="484.82" cy="1164.35" r="2.9"/><circle cx="488.06" cy="1154.51" r="2.9"/><circle cx="491.3" cy="1150.32" r="2.9"/></g></g>
<g clip-path="url(#ce)"><polyline points="102.5,1150.45 103.15,1150.63 103.8,1151.17 104.44,1152.03 105.09,1153.2 105.74,1154.65 106.39,1156.37 107.04,1158.33 107.68,1160.52 108.33,1162.91 108.98,1165.47 109.63,1168.2 110.28,1171.06 110.92,1174.04 111.57,1177.12 112.22,1180.27 112.87,1183.48 113.52,1186.79 114.16,1190.19 114.81,1193.71 115.46,1197.37 116.11,1201.18 116.76,1205.17 117.4,1209.34 118.05,1213.73 118.7,1218.32 119.35,1223.11 120,1228.06 120.64,1233.13 121.29,1238.3 121.94,1243.53 122.59,1248.8 123.24,1254.07 123.88,1259.32 124.53,1264.51 125.18,1269.63 125.83,1274.71 126.48,1279.74 127.12,1284.74 127.77,1289.7 128.42,1294.61 129.07,1299.48 129.72,1304.29 130.36,1309.03 131.01,1313.69 131.66,1318.24 132.31,1322.65 132.96,1326.89 133.6,1330.98 134.25,1335.14 134.9,1339.64 135.55,1344.77 136.2,1350.71 136.84,1357.21 137.49,1363.88 138.14,1370.33 138.79,1376.28 139.44,1381.72 140.08,1386.67 140.73,1391.15 141.38,1395.17 142.03,1398.82 142.68,1402.22 143.32,1405.51 143.97,1408.8 144.62,1412.22 145.27,1415.75 145.92,1419.39 146.56,1423.1 147.21,1426.88 147.86,1430.69 148.51,1434.52 149.16,1438.35 149.8,1442.15 150.45,1445.9 151.1,1449.59 151.75,1453.19 152.4,1456.7 153.04,1460.13 153.69,1463.48 154.34,1466.75 154.99,1469.93 155.64,1473.03 156.28,1476.04 156.93,1478.98 157.58,1481.84 158.23,1484.61 158.88,1487.31 159.52,1489.93 160.17,1492.47 160.82,1494.94 161.47,1497.33 162.12,1499.64 162.76,1501.88 163.41,1504.05 164.06,1506.14 164.71,1508.16 165.36,1510.1 166,1511.98 166.65,1513.78 167.3,1515.51 167.95,1517.17 168.6,1518.77 169.24,1520.29 169.89,1521.75 170.54,1523.14 171.19,1524.46 171.84,1525.72 172.48,1526.91 173.13,1528.04 173.78,1529.11 174.43,1530.11 175.08,1531.05 175.72,1531.92 176.37,1532.74 177.02,1533.49 177.67,1534.19 178.32,1534.82 178.96,1535.4 179.61,1535.92 180.26,1536.38 180.91,1536.78 181.56,1537.13 182.2,1537.43 182.85,1537.5 183.5,1537.5 184.15,1537.5 184.8,1537.5 185.44,1537.5 186.09,1537.5 186.74,1537.5 187.39,1537.5 188.04,1537.5 188.68,1537.5 189.33,1537.5 189.98,1537.33 190.63,1537.06 191.28,1536.76 191.92,1536.43 192.57,1536.07 193.22,1535.67 193.87,1535.25 194.52,1534.81 195.16,1534.34 195.81,1533.85 196.46,1533.33 197.11,1532.8 197.76,1532.25 198.4,1531.68 199.05,1531.09 199.7,1530.49 200.35,1529.88 201,1529.25 201.64,1528.62 202.29,1527.97 202.94,1527.32 203.59,1526.67 204.24,1526.01 204.88,1525.35 205.53,1524.68 206.18,1524.02 206.83,1523.36 207.48,1522.7 208.12,1522.05 208.77,1521.4 209.42,1520.76 210.07,1520.13 210.72,1519.51 211.36,1518.9 212.01,1518.3 212.66,1517.72 213.31,1517.16 213.96,1516.61 214.6,1516.09 215.25,1515.58 215.9,1515.09 216.55,1514.63 217.2,1514.18 217.84,1513.75 218.49,1513.34 219.14,1512.94 219.79,1512.56 220.44,1512.19 221.08,1511.83 221.73,1511.48 222.38,1511.14 223.03,1510.81 223.68,1510.49 224.32,1510.18 224.97,1509.87 225.62,1509.56 226.27,1509.26 226.92,1508.96 227.56,1508.66 228.21,1508.36 228.86,1508.06 229.51,1507.76 230.16,1507.45 230.8,1507.14 231.45,1506.82 232.1,1506.5 232.75,1506.17 233.4,1505.82 234.04,1505.47 234.69,1505.11 235.34,1504.73 235.99,1504.34 236.64,1503.94 237.28,1503.51 237.93,1503.08 238.58,1502.62 239.23,1502.14 239.88,1501.65 240.52,1501.13 241.17,1500.59 241.82,1500.02 242.47,1499.43 243.12,1498.82 243.76,1498.18 244.41,1497.51 245.06,1496.82 245.71,1496.12 246.36,1495.4 247,1494.67 247.65,1493.93 248.3,1493.18 248.95,1492.43 249.6,1491.68 250.24,1490.94 250.89,1490.19 251.54,1489.46 252.19,1488.74 252.84,1488.03 253.48,1487.34 254.13,1486.66 254.78,1486.02 255.43,1485.39 256.08,1484.8 256.72,1484.24 257.37,1483.71 258.02,1483.22 258.67,1482.76 259.32,1482.36 259.96,1481.99 260.61,1481.67 261.26,1481.39 261.91,1481.15 262.56,1480.95 263.2,1480.79 263.85,1480.67 264.5,1480.58 265.15,1480.53 265.8,1480.51 266.44,1480.53 267.09,1480.58 267.74,1480.66 268.39,1480.76 269.04,1480.9 269.68,1481.06 270.33,1481.25 270.98,1481.47 271.63,1481.71 272.28,1481.97 272.92,1482.25 273.57,1482.56 274.22,1482.88 274.87,1483.22 275.52,1483.58 276.16,1483.96 276.81,1484.35 277.46,1484.75 278.11,1485.17 278.76,1485.6 279.4,1486.04 280.05,1486.48 280.7,1486.93 281.35,1487.39 282,1487.85 282.64,1488.31 283.29,1488.78 283.94,1489.25 284.59,1489.7 285.24,1490.15 285.88,1490.58 286.53,1490.99 287.18,1491.38 287.83,1491.73 288.48,1492.05 289.12,1492.32 289.77,1492.56 290.42,1492.74 291.07,1492.87 291.72,1492.93 292.36,1492.94 293.01,1492.87 293.66,1492.73 294.31,1492.51 294.96,1492.2 295.6,1491.81 296.25,1491.33 296.9,1490.76 297.55,1490.11 298.2,1489.38 298.84,1488.56 299.49,1487.67 300.14,1486.7 300.79,1485.66 301.44,1484.54 302.08,1483.36 302.73,1482.1 303.38,1480.77 304.03,1479.38 304.68,1477.93 305.32,1476.41 305.97,1474.84 306.62,1473.2 307.27,1471.51 307.92,1469.77 308.56,1467.97 309.21,1466.12 309.86,1464.22 310.51,1462.27 311.16,1460.28 311.8,1458.25 312.45,1456.17 313.1,1454.05 313.75,1451.9 314.4,1449.71 315.04,1447.49 315.69,1445.25 316.34,1442.98 316.99,1440.69 317.64,1438.39 318.28,1436.08 318.93,1433.75 319.58,1431.43 320.23,1429.1 320.88,1426.78 321.52,1424.46 322.17,1422.16 322.82,1419.87 323.47,1417.6 324.12,1415.35 324.76,1413.12 325.41,1410.93 326.06,1408.77 326.71,1406.64 327.36,1404.56 328,1402.52 328.65,1400.53 329.3,1398.59 329.95,1396.71 330.6,1394.88 331.24,1393.12 331.89,1391.43 332.54,1389.8 333.19,1388.23 333.84,1386.74 334.48,1385.3 335.13,1383.94 335.78,1382.64 336.43,1381.4 337.08,1380.24 337.72,1379.14 338.37,1378.1 339.02,1377.14 339.67,1376.24 340.32,1375.4 340.96,1374.64 341.61,1373.94 342.26,1373.31 342.91,1372.74 343.56,1372.24 344.2,1371.81 344.85,1371.45 345.5,1371.16 346.15,1370.93 346.8,1370.77 347.44,1370.68 348.09,1370.66 348.74,1370.71 349.39,1370.82 350.04,1371 350.68,1371.25 351.33,1371.56 351.98,1371.93 352.63,1372.35 353.28,1372.84 353.92,1373.38 354.57,1373.97 355.22,1374.62 355.87,1375.31 356.52,1376.04 357.16,1376.83 357.81,1377.65 358.46,1378.51 359.11,1379.42 359.76,1380.36 360.4,1381.33 361.05,1382.33 361.7,1383.36 362.35,1384.43 363,1385.52 363.64,1386.63 364.29,1387.78 364.94,1388.95 365.59,1390.14 366.24,1391.36 366.88,1392.6 367.53,1393.86 368.18,1395.14 368.83,1396.44 369.48,1397.76 370.12,1399.1 370.77,1400.46 371.42,1401.83 372.07,1403.22 372.72,1404.62 373.36,1406.04 374.01,1407.47 374.66,1408.91 375.31,1410.36 375.96,1411.82 376.6,1413.3 377.25,1414.78 377.9,1416.27 378.55,1417.76 379.2,1419.26 379.84,1420.77 380.49,1422.28 381.14,1423.79 381.79,1425.3 382.44,1426.82 383.08,1428.33 383.73,1429.85 384.38,1431.36 385.03,1432.88 385.68,1434.39 386.32,1435.89 386.97,1437.39 387.62,1438.88 388.27,1440.37 388.92,1441.85 389.56,1443.32 390.21,1444.79 390.86,1446.24 391.51,1447.68 392.16,1449.11 392.8,1450.52 393.45,1451.92 394.1,1453.31 394.75,1454.68 395.4,1456.04 396.04,1457.38 396.69,1458.7 397.34,1460 397.99,1461.28 398.64,1462.54 399.28,1463.77 399.93,1464.99 400.58,1466.18 401.23,1467.34 401.88,1468.48 402.52,1469.6 403.17,1470.68 403.82,1471.73 404.47,1472.75 405.12,1473.74 405.76,1474.7 406.41,1475.62 407.06,1476.51 407.71,1477.35 408.36,1478.16 409,1478.93 409.65,1479.66 410.3,1480.35 410.95,1481 411.6,1481.6 412.24,1482.15 412.89,1482.66 413.54,1483.12 414.19,1483.54 414.84,1483.9 415.48,1484.21 416.13,1484.47 416.78,1484.67 417.43,1484.82 418.08,1484.92 418.72,1484.95 419.37,1484.93 420.02,1484.85 420.67,1484.71 421.32,1484.5 421.96,1484.24 422.61,1483.91 423.26,1483.51 423.91,1483.04 424.56,1482.51 425.2,1481.91 425.85,1481.24 426.5,1480.5 427.15,1479.68 427.8,1478.79 428.44,1477.83 429.09,1476.79 429.74,1475.67 430.39,1474.47 431.04,1473.2 431.68,1471.84 432.33,1470.4 432.98,1468.89 433.63,1467.29 434.28,1465.62 434.92,1463.87 435.57,1462.04 436.22,1460.14 436.87,1458.16 437.52,1456.1 438.16,1453.98 438.81,1451.78 439.46,1449.51 440.11,1447.16 440.76,1444.75 441.4,1442.26 442.05,1439.71 442.7,1437.09 443.35,1434.4 444,1431.64 444.64,1428.81 445.29,1425.92 445.94,1422.97 446.59,1419.95 447.24,1416.86 447.88,1413.72 448.53,1410.51 449.18,1407.24 449.83,1403.9 450.48,1400.51 451.12,1397.07 451.77,1393.56 452.42,1390.01 453.07,1386.4 453.72,1382.74 454.36,1379.04 455.01,1375.28 455.66,1371.49 456.31,1367.65 456.96,1363.77 457.6,1359.85 458.25,1355.89 458.9,1351.9 459.55,1347.88 460.2,1343.82 460.84,1339.73 461.49,1335.58 462.14,1331.37 462.79,1327.08 463.44,1322.69 464.08,1318.19 464.73,1313.57 465.38,1308.84 466.03,1304 466.68,1299.07 467.32,1294.05 467.97,1288.97 468.62,1283.82 469.27,1278.63 469.92,1273.39 470.56,1268.12 471.21,1262.84 471.86,1257.54 472.51,1252.25 473.16,1246.97 473.8,1241.71 474.45,1236.48 475.1,1231.3 475.75,1226.18 476.4,1221.11 477.04,1216.13 477.69,1211.23 478.34,1206.42 478.99,1201.72 479.64,1197.14 480.28,1192.69 480.93,1188.38 481.58,1184.24 482.23,1180.27 482.88,1176.48 483.52,1172.9 484.17,1169.54 484.82,1166.4 485.47,1163.51 486.12,1160.87 486.76,1158.51 487.41,1156.44 488.06,1154.67 488.71,1153.21 489.36,1152.06 490,1151.23 490.65,1150.73 491.3,1150.54" fill="none" stroke="#0a0a0a" stroke-width="3.8" stroke-linejoin="round"/>
<g fill="#0a0a0a"><circle cx="102.5" cy="1150.45" r="2.9"/><circle cx="105.74" cy="1154.65" r="2.9"/><circle cx="108.98" cy="1165.47" r="2.9"/><circle cx="112.22" cy="1180.27" r="2.9"/><circle cx="115.46" cy="1197.37" r="2.9"/><circle cx="118.7" cy="1218.32" r="2.9"/><circle cx="121.94" cy="1243.53" r="2.9"/><circle cx="125.18" cy="1269.63" r="2.9"/><circle cx="128.42" cy="1294.61" r="2.9"/><circle cx="131.66" cy="1318.24" r="2.9"/><circle cx="134.9" cy="1339.64" r="2.9"/><circle cx="138.14" cy="1370.33" r="2.9"/><circle cx="141.38" cy="1395.17" r="2.9"/><circle cx="144.62" cy="1412.22" r="2.9"/><circle cx="147.86" cy="1430.69" r="2.9"/><circle cx="151.1" cy="1449.59" r="2.9"/><circle cx="154.34" cy="1466.75" r="2.9"/><circle cx="157.58" cy="1481.84" r="2.9"/><circle cx="160.82" cy="1494.94" r="2.9"/><circle cx="164.06" cy="1506.14" r="2.9"/><circle cx="167.3" cy="1515.51" r="2.9"/><circle cx="170.54" cy="1523.14" r="2.9"/><circle cx="173.78" cy="1529.11" r="2.9"/><circle cx="177.02" cy="1533.49" r="2.9"/><circle cx="180.26" cy="1536.38" r="2.9"/><circle cx="183.5" cy="1537.5" r="2.9"/><circle cx="186.74" cy="1537.5" r="2.9"/><circle cx="189.98" cy="1537.33" r="2.9"/><circle cx="193.22" cy="1535.67" r="2.9"/><circle cx="196.46" cy="1533.33" r="2.9"/><circle cx="199.7" cy="1530.49" r="2.9"/><circle cx="202.94" cy="1527.32" r="2.9"/><circle cx="206.18" cy="1524.02" r="2.9"/><circle cx="209.42" cy="1520.76" r="2.9"/><circle cx="212.66" cy="1517.72" r="2.9"/><circle cx="215.9" cy="1515.09" r="2.9"/><circle cx="219.14" cy="1512.94" r="2.9"/><circle cx="222.38" cy="1511.14" r="2.9"/><circle cx="225.62" cy="1509.56" r="2.9"/><circle cx="228.86" cy="1508.06" r="2.9"/><circle cx="232.1" cy="1506.5" r="2.9"/><circle cx="235.34" cy="1504.73" r="2.9"/><circle cx="238.58" cy="1502.62" r="2.9"/><circle cx="241.82" cy="1500.02" r="2.9"/><circle cx="245.06" cy="1496.82" r="2.9"/><circle cx="248.3" cy="1493.18" r="2.9"/><circle cx="251.54" cy="1489.46" r="2.9"/><circle cx="254.78" cy="1486.02" r="2.9"/><circle cx="258.02" cy="1483.22" r="2.9"/><circle cx="261.26" cy="1481.39" r="2.9"/><circle cx="264.5" cy="1480.58" r="2.9"/><circle cx="267.74" cy="1480.66" r="2.9"/><circle cx="270.98" cy="1481.47" r="2.9"/><circle cx="274.22" cy="1482.88" r="2.9"/><circle cx="277.46" cy="1484.75" r="2.9"/><circle cx="280.7" cy="1486.93" r="2.9"/><circle cx="283.94" cy="1489.25" r="2.9"/><circle cx="287.18" cy="1491.38" r="2.9"/><circle cx="290.42" cy="1492.74" r="2.9"/><circle cx="293.66" cy="1492.73" r="2.9"/><circle cx="296.9" cy="1490.76" r="2.9"/><circle cx="300.14" cy="1486.7" r="2.9"/><circle cx="303.38" cy="1480.77" r="2.9"/><circle cx="306.62" cy="1473.2" r="2.9"/><circle cx="309.86" cy="1464.22" r="2.9"/><circle cx="313.1" cy="1454.05" r="2.9"/><circle cx="316.34" cy="1442.98" r="2.9"/><circle cx="319.58" cy="1431.43" r="2.9"/><circle cx="322.82" cy="1419.87" r="2.9"/><circle cx="326.06" cy="1408.77" r="2.9"/><circle cx="329.3" cy="1398.59" r="2.9"/><circle cx="332.54" cy="1389.8" r="2.9"/><circle cx="335.78" cy="1382.64" r="2.9"/><circle cx="339.02" cy="1377.14" r="2.9"/><circle cx="342.26" cy="1373.31" r="2.9"/><circle cx="345.5" cy="1371.16" r="2.9"/><circle cx="348.74" cy="1370.71" r="2.9"/><circle cx="351.98" cy="1371.93" r="2.9"/><circle cx="355.22" cy="1374.62" r="2.9"/><circle cx="358.46" cy="1378.51" r="2.9"/><circle cx="361.7" cy="1383.36" r="2.9"/><circle cx="364.94" cy="1388.95" r="2.9"/><circle cx="368.18" cy="1395.14" r="2.9"/><circle cx="371.42" cy="1401.83" r="2.9"/><circle cx="374.66" cy="1408.91" r="2.9"/><circle cx="377.9" cy="1416.27" r="2.9"/><circle cx="381.14" cy="1423.79" r="2.9"/><circle cx="384.38" cy="1431.36" r="2.9"/><circle cx="387.62" cy="1438.88" r="2.9"/><circle cx="390.86" cy="1446.24" r="2.9"/><circle cx="394.1" cy="1453.31" r="2.9"/><circle cx="397.34" cy="1460" r="2.9"/><circle cx="400.58" cy="1466.18" r="2.9"/><circle cx="403.82" cy="1471.73" r="2.9"/><circle cx="407.06" cy="1476.51" r="2.9"/><circle cx="410.3" cy="1480.35" r="2.9"/><circle cx="413.54" cy="1483.12" r="2.9"/><circle cx="416.78" cy="1484.67" r="2.9"/><circle cx="420.02" cy="1484.85" r="2.9"/><circle cx="423.26" cy="1483.51" r="2.9"/><circle cx="426.5" cy="1480.5" r="2.9"/><circle cx="429.74" cy="1475.67" r="2.9"/><circle cx="432.98" cy="1468.89" r="2.9"/><circle cx="436.22" cy="1460.14" r="2.9"/><circle cx="439.46" cy="1449.51" r="2.9"/><circle cx="442.7" cy="1437.09" r="2.9"/><circle cx="445.94" cy="1422.97" r="2.9"/><circle cx="449.18" cy="1407.24" r="2.9"/><circle cx="452.42" cy="1390.01" r="2.9"/><circle cx="455.66" cy="1371.49" r="2.9"/><circle cx="458.9" cy="1351.9" r="2.9"/><circle cx="462.14" cy="1331.37" r="2.9"/><circle cx="465.38" cy="1308.84" r="2.9"/><circle cx="468.62" cy="1283.82" r="2.9"/><circle cx="471.86" cy="1257.54" r="2.9"/><circle cx="475.1" cy="1231.3" r="2.9"/><circle cx="478.34" cy="1206.42" r="2.9"/><circle cx="481.58" cy="1184.24" r="2.9"/><circle cx="484.82" cy="1166.4" r="2.9"/><circle cx="488.06" cy="1154.67" r="2.9"/><circle cx="491.3" cy="1150.54" r="2.9"/></g></g>
<rect x="157.5" y="1176" width="281.1" height="84.5" fill="#fff" fill-opacity="0.9" stroke="#777" stroke-width="1"/>
<line x1="160" y1="1190.8" x2="189.5" y2="1190.8" stroke="#0a0a0a" stroke-width="3.2" />
<circle cx="174.75" cy="1190.8" r="2.7" fill="#0a0a0a"/>
<text x="218.8" y="1199.4" font-size="24.2" text-anchor="start" >U=300meV, r<tspan font-size="14.52" dy="4.5">TF</tspan><tspan dy="-4.5">=0.2a</tspan></text>
<line x1="160" y1="1218" x2="189.5" y2="1218" stroke="#f00000" stroke-width="3.2" />
<circle cx="174.75" cy="1218" r="2.7" fill="#f00000"/>
<text x="218.8" y="1226.6" font-size="24.2" text-anchor="start" >U=300meV, r<tspan font-size="14.52" dy="4.5">TF</tspan><tspan dy="-4.5">=0.27a</tspan></text>
<line x1="160" y1="1245.5" x2="189.5" y2="1245.5" stroke="#008a1a" stroke-width="3.2" />
<circle cx="174.75" cy="1245.5" r="2.7" fill="#008a1a"/>
<text x="218.8" y="1254.1" font-size="24.2" text-anchor="start" >U=300meV, r<tspan font-size="14.52" dy="4.5">TF</tspan><tspan dy="-4.5">=0.4a</tspan></text>
<text x="91" y="1549.1" font-size="34" text-anchor="end" >0</text>
<text x="91" y="1451.85" font-size="34" text-anchor="end" >0.25</text>
<text x="91" y="1354.6" font-size="34" text-anchor="end" >0.5</text>
<text x="91" y="1257.35" font-size="34" text-anchor="end" >0.75</text>
<text x="91" y="1160.1" font-size="34" text-anchor="end" >1</text>
<text x="105.5" y="1575" font-size="35" text-anchor="middle" >Γ</text>
<text x="267" y="1575" font-size="35" text-anchor="middle" >K</text>
<text x="348" y="1575" font-size="35" text-anchor="middle" >M</text>
<text x="494" y="1575" font-size="35" text-anchor="middle" >Γ</text>
<text x="295" y="1597.5" font-size="34" text-anchor="middle" font-weight="bold">q</text>
<text transform="translate(29.5,1343.6) rotate(-90)" font-size="36.3" text-anchor="middle" ><tspan font-style="italic">ω</tspan>(<tspan font-weight="bold">q</tspan>)</text>
<text transform="translate(13,1366) rotate(-90)" font-size="27" text-anchor="middle" >~</text>
<text x="0.5" y="1146" font-size="37" text-anchor="start" >(e)</text>
<clipPath id="cf"><rect x="618.4" y="1145.8" width="396.3" height="395"/></clipPath>
<rect x="621.4" y="1148.8" width="390.3" height="389" fill="#fff" stroke="#666" stroke-width="1.1"/>
<line x1="784" y1="1148.8" x2="784" y2="1153.8" stroke="#666" stroke-width="1" />
<line x1="784" y1="1537.8" x2="784" y2="1532.8" stroke="#666" stroke-width="1" />
<line x1="866" y1="1148.8" x2="866" y2="1153.8" stroke="#666" stroke-width="1" />
<line x1="866" y1="1537.8" x2="866" y2="1532.8" stroke="#666" stroke-width="1" />
<line x1="621.4" y1="1440.55" x2="626.4" y2="1440.55" stroke="#666" stroke-width="1" />
<line x1="1011.7" y1="1440.55" x2="1006.7" y2="1440.55" stroke="#666" stroke-width="1" />
<line x1="621.4" y1="1343.3" x2="626.4" y2="1343.3" stroke="#666" stroke-width="1" />
<line x1="1011.7" y1="1343.3" x2="1006.7" y2="1343.3" stroke="#666" stroke-width="1" />
<line x1="621.4" y1="1246.05" x2="626.4" y2="1246.05" stroke="#666" stroke-width="1" />
<line x1="1011.7" y1="1246.05" x2="1006.7" y2="1246.05" stroke="#666" stroke-width="1" />
<g clip-path="url(#cf)"><polyline points="621.6,1149.78 622.25,1149.93 622.9,1150.18 623.55,1150.52 624.2,1150.95 624.85,1151.47 625.5,1152.07 626.15,1152.77 626.79,1153.55 627.44,1154.41 628.09,1155.35 628.74,1156.38 629.39,1157.49 630.04,1158.67 630.69,1159.93 631.34,1161.27 631.99,1162.67 632.64,1164.16 633.29,1165.71 633.94,1167.33 634.59,1169.02 635.24,1170.78 635.89,1172.6 636.53,1174.48 637.18,1176.43 637.83,1178.44 638.48,1180.5 639.13,1182.63 639.78,1184.81 640.43,1187.05 641.08,1189.34 641.73,1191.68 642.38,1194.07 643.03,1196.51 643.68,1199 644.33,1201.54 644.98,1204.12 645.63,1206.75 646.27,1209.41 646.92,1212.12 647.57,1214.86 648.22,1217.64 648.87,1220.45 649.52,1223.29 650.17,1226.17 650.82,1229.07 651.47,1232 652.12,1234.95 652.77,1237.92 653.42,1240.91 654.07,1243.92 654.72,1246.95 655.37,1249.99 656.01,1253.04 656.66,1256.1 657.31,1259.17 657.96,1262.25 658.61,1265.33 659.26,1268.41 659.91,1271.5 660.56,1274.58 661.21,1277.66 661.86,1280.73 662.51,1283.79 663.16,1286.85 663.81,1289.89 664.46,1292.92 665.11,1295.94 665.75,1298.93 666.4,1301.91 667.05,1304.87 667.7,1307.8 668.35,1310.71 669,1313.59 669.65,1316.44 670.3,1319.26 670.95,1322.05 671.6,1324.81 672.25,1327.54 672.9,1330.26 673.55,1332.95 674.2,1335.62 674.85,1338.28 675.49,1340.92 676.14,1343.56 676.79,1346.19 677.44,1348.81 678.09,1351.43 678.74,1354.06 679.39,1356.68 680.04,1359.31 680.69,1361.94 681.34,1364.57 681.99,1367.19 682.64,1369.8 683.29,1372.41 683.94,1375 684.59,1377.58 685.23,1380.15 685.88,1382.69 686.53,1385.21 687.18,1387.71 687.83,1390.18 688.48,1392.63 689.13,1395.04 689.78,1397.42 690.43,1399.76 691.08,1402.07 691.73,1404.36 692.38,1406.61 693.03,1408.83 693.68,1411.02 694.33,1413.18 694.97,1415.31 695.62,1417.42 696.27,1419.49 696.92,1421.54 697.57,1423.57 698.22,1425.57 698.87,1427.54 699.52,1429.48 700.17,1431.41 700.82,1433.31 701.47,1435.18 702.12,1437.04 702.77,1438.87 703.42,1440.68 704.07,1442.47 704.71,1444.24 705.36,1445.99 706.01,1447.72 706.66,1449.43 707.31,1451.13 707.96,1452.8 708.61,1454.46 709.26,1456.11 709.91,1457.73 710.56,1459.35 711.21,1460.94 711.86,1462.53 712.51,1464.1 713.16,1465.65 713.81,1467.2 714.45,1468.73 715.1,1470.25 715.75,1471.77 716.4,1473.27 717.05,1474.75 717.7,1476.23 718.35,1477.7 719,1479.15 719.65,1480.59 720.3,1482.02 720.95,1483.43 721.6,1484.83 722.25,1486.22 722.9,1487.59 723.55,1488.95 724.19,1490.3 724.84,1491.63 725.49,1492.94 726.14,1494.24 726.79,1495.53 727.44,1496.79 728.09,1498.04 728.74,1499.28 729.39,1500.5 730.04,1501.7 730.69,1502.88 731.34,1504.05 731.99,1505.2 732.64,1506.33 733.29,1507.44 733.93,1508.53 734.58,1509.61 735.23,1510.66 735.88,1511.7 736.53,1512.71 737.18,1513.71 737.83,1514.68 738.48,1515.63 739.13,1516.57 739.78,1517.48 740.43,1518.37 741.08,1519.23 741.73,1520.08 742.38,1520.9 743.03,1521.7 743.67,1522.48 744.32,1523.23 744.97,1523.96 745.62,1524.67 746.27,1525.35 746.92,1526.01 747.57,1526.65 748.22,1527.26 748.87,1527.86 749.52,1528.43 750.17,1528.98 750.82,1529.51 751.47,1530.01 752.12,1530.5 752.77,1530.97 753.41,1531.42 754.06,1531.85 754.71,1532.27 755.36,1532.66 756.01,1533.04 756.66,1533.4 757.31,1533.74 757.96,1534.07 758.61,1534.38 759.26,1534.68 759.91,1534.96 760.56,1535.22 761.21,1535.47 761.86,1535.71 762.51,1535.93 763.15,1536.14 763.8,1536.34 764.45,1536.52 765.1,1536.7 765.75,1536.86 766.4,1537.01 767.05,1537.15 767.7,1537.28 768.35,1537.39 769,1537.5 769.65,1537.5 770.3,1537.5 770.95,1537.5 771.6,1537.5 772.25,1537.5 772.89,1537.5 773.54,1537.5 774.19,1537.5 774.84,1537.5 775.49,1537.5 776.14,1537.5 776.79,1537.5 777.44,1537.5 778.09,1537.5 778.74,1537.5 779.39,1537.5 780.04,1537.5 780.69,1537.5 781.34,1537.5 781.99,1537.5 782.63,1537.5 783.28,1537.5 783.93,1537.5 784.58,1537.5 785.23,1537.5 785.88,1537.5 786.53,1537.5 787.18,1537.5 787.83,1537.5 788.48,1537.5 789.13,1537.5 789.78,1537.5 790.43,1537.5 791.08,1537.5 791.73,1537.5 792.37,1537.5 793.02,1537.5 793.67,1537.5 794.32,1537.5 794.97,1537.5 795.62,1537.5 796.27,1537.5 796.92,1537.5 797.57,1537.5 798.22,1537.5 798.87,1537.5 799.52,1537.5 800.17,1537.5 800.82,1537.5 801.47,1537.5 802.11,1537.5 802.76,1537.5 803.41,1537.48 804.06,1537.39 804.71,1537.3 805.36,1537.2 806.01,1537.1 806.66,1536.99 807.31,1536.87 807.96,1536.74 808.61,1536.61 809.26,1536.46 809.91,1536.31 810.56,1536.15 811.21,1535.97 811.85,1535.77 812.5,1535.55 813.15,1535.31 813.8,1535.04 814.45,1534.74 815.1,1534.41 815.75,1534.04 816.4,1533.63 817.05,1533.19 817.7,1532.69 818.35,1532.16 819,1531.57 819.65,1530.92 820.3,1530.22 820.95,1529.47 821.59,1528.65 822.24,1527.77 822.89,1526.83 823.54,1525.85 824.19,1524.81 824.84,1523.73 825.49,1522.61 826.14,1521.45 826.79,1520.25 827.44,1519.03 828.09,1517.77 828.74,1516.49 829.39,1515.19 830.04,1513.88 830.69,1512.55 831.33,1511.2 831.98,1509.86 832.63,1508.5 833.28,1507.15 833.93,1505.8 834.58,1504.46 835.23,1503.13 835.88,1501.81 836.53,1500.51 837.18,1499.23 837.83,1497.98 838.48,1496.75 839.13,1495.55 839.78,1494.39 840.43,1493.26 841.07,1492.17 841.72,1491.11 842.37,1490.08 843.02,1489.08 843.67,1488.12 844.32,1487.19 844.97,1486.29 845.62,1485.43 846.27,1484.59 846.92,1483.79 847.57,1483.02 848.22,1482.28 848.87,1481.57 849.52,1480.89 850.17,1480.25 850.81,1479.63 851.46,1479.05 852.11,1478.49 852.76,1477.96 853.41,1477.46 854.06,1476.99 854.71,1476.54 855.36,1476.12 856.01,1475.72 856.66,1475.34 857.31,1474.99 857.96,1474.66 858.61,1474.34 859.26,1474.05 859.91,1473.78 860.55,1473.52 861.2,1473.28 861.85,1473.06 862.5,1472.85 863.15,1472.66 863.8,1472.48 864.45,1472.31 865.1,1472.16 865.75,1472.01 866.4,1471.87 867.05,1471.74 867.7,1471.62 868.35,1471.51 869,1471.4 869.65,1471.3 870.29,1471.2 870.94,1471.11 871.59,1471.02 872.24,1470.93 872.89,1470.84 873.54,1470.75 874.19,1470.65 874.84,1470.56 875.49,1470.46 876.14,1470.36 876.79,1470.25 877.44,1470.14 878.09,1470.02 878.74,1469.9 879.39,1469.76 880.03,1469.62 880.68,1469.46 881.33,1469.3 881.98,1469.12 882.63,1468.93 883.28,1468.73 883.93,1468.51 884.58,1468.27 885.23,1468.03 885.88,1467.76 886.53,1467.48 887.18,1467.19 887.83,1466.89 888.48,1466.56 889.13,1466.23 889.77,1465.87 890.42,1465.51 891.07,1465.12 891.72,1464.73 892.37,1464.31 893.02,1463.89 893.67,1463.44 894.32,1462.98 894.97,1462.51 895.62,1462.02 896.27,1461.51 896.92,1460.99 897.57,1460.46 898.22,1459.9 898.87,1459.33 899.51,1458.75 900.16,1458.15 900.81,1457.53 901.46,1456.9 902.11,1456.25 902.76,1455.58 903.41,1454.9 904.06,1454.2 904.71,1453.49 905.36,1452.76 906.01,1452.01 906.66,1451.25 907.31,1450.47 907.96,1449.67 908.61,1448.86 909.25,1448.02 909.9,1447.18 910.55,1446.31 911.2,1445.43 911.85,1444.53 912.5,1443.61 913.15,1442.68 913.8,1441.73 914.45,1440.76 915.1,1439.78 915.75,1438.77 916.4,1437.75 917.05,1436.72 917.7,1435.66 918.35,1434.59 918.99,1433.5 919.64,1432.39 920.29,1431.26 920.94,1430.11 921.59,1428.95 922.24,1427.77 922.89,1426.57 923.54,1425.35 924.19,1424.12 924.84,1422.87 925.49,1421.59 926.14,1420.3 926.79,1418.99 927.44,1417.67 928.09,1416.32 928.73,1414.95 929.38,1413.57 930.03,1412.17 930.68,1410.75 931.33,1409.31 931.98,1407.85 932.63,1406.37 933.28,1404.87 933.93,1403.35 934.58,1401.82 935.23,1400.26 935.88,1398.69 936.53,1397.09 937.18,1395.48 937.83,1393.85 938.47,1392.2 939.12,1390.52 939.77,1388.83 940.42,1387.12 941.07,1385.39 941.72,1383.64 942.37,1381.86 943.02,1380.07 943.67,1378.26 944.32,1376.43 944.97,1374.58 945.62,1372.71 946.27,1370.81 946.92,1368.9 947.57,1366.97 948.21,1365.01 948.86,1363.04 949.51,1361.04 950.16,1359.03 950.81,1356.99 951.46,1354.93 952.11,1352.86 952.76,1350.76 953.41,1348.64 954.06,1346.49 954.71,1344.33 955.36,1342.15 956.01,1339.94 956.66,1337.72 957.31,1335.47 957.95,1333.19 958.6,1330.89 959.25,1328.56 959.9,1326.2 960.55,1323.81 961.2,1321.39 961.85,1318.92 962.5,1316.43 963.15,1313.89 963.8,1311.31 964.45,1308.69 965.1,1306.03 965.75,1303.32 966.4,1300.58 967.05,1297.81 967.69,1295.03 968.34,1292.25 968.99,1289.47 969.64,1286.71 970.29,1283.98 970.94,1281.29 971.59,1278.61 972.24,1275.96 972.89,1273.33 973.54,1270.71 974.19,1268.1 974.84,1265.5 975.49,1262.89 976.14,1260.28 976.79,1257.66 977.43,1255.02 978.08,1252.37 978.73,1249.69 979.38,1246.98 980.03,1244.25 980.68,1241.47 981.33,1238.67 981.98,1235.84 982.63,1232.98 983.28,1230.11 983.93,1227.22 984.58,1224.32 985.23,1221.42 985.88,1218.52 986.53,1215.63 987.17,1212.74 987.82,1209.86 988.47,1207.01 989.12,1204.18 989.77,1201.37 990.42,1198.6 991.07,1195.86 991.72,1193.16 992.37,1190.51 993.02,1187.91 993.67,1185.36 994.32,1182.87 994.97,1180.45 995.62,1178.09 996.27,1175.81 996.91,1173.6 997.56,1171.48 998.21,1169.44 998.86,1167.49 999.51,1165.64 1000.16,1163.89 1000.81,1162.24 1001.46,1160.69 1002.11,1159.25 1002.76,1157.91 1003.41,1156.67 1004.06,1155.53 1004.71,1154.49 1005.36,1153.56 1006.01,1152.72 1006.65,1151.99 1007.3,1151.36 1007.95,1150.83 1008.6,1150.39 1009.25,1150.06 1009.9,1149.82 1010.55,1149.69 1011.2,1149.65" fill="none" stroke="#008a1a" stroke-width="3.8" stroke-linejoin="round"/>
<g fill="#008a1a"><circle cx="621.6" cy="1149.78" r="2.9"/><circle cx="624.85" cy="1151.47" r="2.9"/><circle cx="628.09" cy="1155.35" r="2.9"/><circle cx="631.34" cy="1161.27" r="2.9"/><circle cx="634.59" cy="1169.02" r="2.9"/><circle cx="637.83" cy="1178.44" r="2.9"/><circle cx="641.08" cy="1189.34" r="2.9"/><circle cx="644.33" cy="1201.54" r="2.9"/><circle cx="647.57" cy="1214.86" r="2.9"/><circle cx="650.82" cy="1229.07" r="2.9"/><circle cx="654.07" cy="1243.92" r="2.9"/><circle cx="657.31" cy="1259.17" r="2.9"/><circle cx="660.56" cy="1274.58" r="2.9"/><circle cx="663.81" cy="1289.89" r="2.9"/><circle cx="667.05" cy="1304.87" r="2.9"/><circle cx="670.3" cy="1319.26" r="2.9"/><circle cx="673.55" cy="1332.95" r="2.9"/><circle cx="676.79" cy="1346.19" r="2.9"/><circle cx="680.04" cy="1359.31" r="2.9"/><circle cx="683.29" cy="1372.41" r="2.9"/><circle cx="686.53" cy="1385.21" r="2.9"/><circle cx="689.78" cy="1397.42" r="2.9"/><circle cx="693.03" cy="1408.83" r="2.9"/><circle cx="696.27" cy="1419.49" r="2.9"/><circle cx="699.52" cy="1429.48" r="2.9"/><circle cx="702.77" cy="1438.87" r="2.9"/><circle cx="706.01" cy="1447.72" r="2.9"/><circle cx="709.26" cy="1456.11" r="2.9"/><circle cx="712.51" cy="1464.1" r="2.9"/><circle cx="715.75" cy="1471.77" r="2.9"/><circle cx="719" cy="1479.15" r="2.9"/><circle cx="722.25" cy="1486.22" r="2.9"/><circle cx="725.49" cy="1492.94" r="2.9"/><circle cx="728.74" cy="1499.28" r="2.9"/><circle cx="731.99" cy="1505.2" r="2.9"/><circle cx="735.23" cy="1510.66" r="2.9"/><circle cx="738.48" cy="1515.63" r="2.9"/><circle cx="741.73" cy="1520.08" r="2.9"/><circle cx="744.97" cy="1523.96" r="2.9"/><circle cx="748.22" cy="1527.26" r="2.9"/><circle cx="751.47" cy="1530.01" r="2.9"/><circle cx="754.71" cy="1532.27" r="2.9"/><circle cx="757.96" cy="1534.07" r="2.9"/><circle cx="761.21" cy="1535.47" r="2.9"/><circle cx="764.45" cy="1536.52" r="2.9"/><circle cx="767.7" cy="1537.28" r="2.9"/><circle cx="770.95" cy="1537.5" r="2.9"/><circle cx="774.19" cy="1537.5" r="2.9"/><circle cx="777.44" cy="1537.5" r="2.9"/><circle cx="780.69" cy="1537.5" r="2.9"/><circle cx="783.93" cy="1537.5" r="2.9"/><circle cx="787.18" cy="1537.5" r="2.9"/><circle cx="790.43" cy="1537.5" r="2.9"/><circle cx="793.67" cy="1537.5" r="2.9"/><circle cx="796.92" cy="1537.5" r="2.9"/><circle cx="800.17" cy="1537.5" r="2.9"/><circle cx="803.41" cy="1537.48" r="2.9"/><circle cx="806.66" cy="1536.99" r="2.9"/><circle cx="809.91" cy="1536.31" r="2.9"/><circle cx="813.15" cy="1535.31" r="2.9"/><circle cx="816.4" cy="1533.63" r="2.9"/><circle cx="819.65" cy="1530.92" r="2.9"/><circle cx="822.89" cy="1526.83" r="2.9"/><circle cx="826.14" cy="1521.45" r="2.9"/><circle cx="829.39" cy="1515.19" r="2.9"/><circle cx="832.63" cy="1508.5" r="2.9"/><circle cx="835.88" cy="1501.81" r="2.9"/><circle cx="839.13" cy="1495.55" r="2.9"/><circle cx="842.37" cy="1490.08" r="2.9"/><circle cx="845.62" cy="1485.43" r="2.9"/><circle cx="848.87" cy="1481.57" r="2.9"/><circle cx="852.11" cy="1478.49" r="2.9"/><circle cx="855.36" cy="1476.12" r="2.9"/><circle cx="858.61" cy="1474.34" r="2.9"/><circle cx="861.85" cy="1473.06" r="2.9"/><circle cx="865.1" cy="1472.16" r="2.9"/><circle cx="868.35" cy="1471.51" r="2.9"/><circle cx="871.59" cy="1471.02" r="2.9"/><circle cx="874.84" cy="1470.56" r="2.9"/><circle cx="878.09" cy="1470.02" r="2.9"/><circle cx="881.33" cy="1469.3" r="2.9"/><circle cx="884.58" cy="1468.27" r="2.9"/><circle cx="887.83" cy="1466.89" r="2.9"/><circle cx="891.07" cy="1465.12" r="2.9"/><circle cx="894.32" cy="1462.98" r="2.9"/><circle cx="897.57" cy="1460.46" r="2.9"/><circle cx="900.81" cy="1457.53" r="2.9"/><circle cx="904.06" cy="1454.2" r="2.9"/><circle cx="907.31" cy="1450.47" r="2.9"/><circle cx="910.55" cy="1446.31" r="2.9"/><circle cx="913.8" cy="1441.73" r="2.9"/><circle cx="917.05" cy="1436.72" r="2.9"/><circle cx="920.29" cy="1431.26" r="2.9"/><circle cx="923.54" cy="1425.35" r="2.9"/><circle cx="926.79" cy="1418.99" r="2.9"/><circle cx="930.03" cy="1412.17" r="2.9"/><circle cx="933.28" cy="1404.87" r="2.9"/><circle cx="936.53" cy="1397.09" r="2.9"/><circle cx="939.77" cy="1388.83" r="2.9"/><circle cx="943.02" cy="1380.07" r="2.9"/><circle cx="946.27" cy="1370.81" r="2.9"/><circle cx="949.51" cy="1361.04" r="2.9"/><circle cx="952.76" cy="1350.76" r="2.9"/><circle cx="956.01" cy="1339.94" r="2.9"/><circle cx="959.25" cy="1328.56" r="2.9"/><circle cx="962.5" cy="1316.43" r="2.9"/><circle cx="965.75" cy="1303.32" r="2.9"/><circle cx="968.99" cy="1289.47" r="2.9"/><circle cx="972.24" cy="1275.96" r="2.9"/><circle cx="975.49" cy="1262.89" r="2.9"/><circle cx="978.73" cy="1249.69" r="2.9"/><circle cx="981.98" cy="1235.84" r="2.9"/><circle cx="985.23" cy="1221.42" r="2.9"/><circle cx="988.47" cy="1207.01" r="2.9"/><circle cx="991.72" cy="1193.16" r="2.9"/><circle cx="994.97" cy="1180.45" r="2.9"/><circle cx="998.21" cy="1169.44" r="2.9"/><circle cx="1001.46" cy="1160.69" r="2.9"/><circle cx="1004.71" cy="1154.49" r="2.9"/><circle cx="1007.95" cy="1150.83" r="2.9"/><circle cx="1011.2" cy="1149.65" r="2.9"/></g></g>
<g clip-path="url(#cf)"><polyline points="621.6,1150.21 622.25,1150.35 622.9,1150.78 623.55,1151.5 624.2,1152.48 624.85,1153.71 625.5,1155.19 626.15,1156.88 626.79,1158.78 627.44,1160.88 628.09,1163.15 628.74,1165.59 629.39,1168.17 630.04,1170.89 630.69,1173.73 631.34,1176.67 631.99,1179.7 632.64,1182.8 633.29,1185.96 633.94,1189.17 634.59,1192.4 635.24,1195.65 635.89,1198.91 636.53,1202.18 637.18,1205.46 637.83,1208.76 638.48,1212.08 639.13,1215.42 639.78,1218.8 640.43,1222.2 641.08,1225.65 641.73,1229.13 642.38,1232.66 643.03,1236.24 643.68,1239.86 644.33,1243.54 644.98,1247.27 645.63,1251.04 646.27,1254.86 646.92,1258.73 647.57,1262.63 648.22,1266.59 648.87,1270.58 649.52,1274.61 650.17,1278.68 650.82,1282.79 651.47,1286.93 652.12,1291.11 652.77,1295.32 653.42,1299.56 654.07,1303.84 654.72,1308.14 655.37,1312.48 656.01,1316.86 656.66,1321.34 657.31,1325.95 657.96,1330.73 658.61,1335.73 659.26,1340.98 659.91,1346.51 660.56,1352.08 661.21,1357.26 661.86,1361.83 662.51,1365.89 663.16,1369.55 663.81,1372.95 664.46,1376.21 665.11,1379.44 665.75,1382.74 666.4,1386.1 667.05,1389.5 667.7,1392.93 668.35,1396.36 669,1399.76 669.65,1403.14 670.3,1406.47 670.95,1409.76 671.6,1413.01 672.25,1416.21 672.9,1419.36 673.55,1422.46 674.2,1425.51 674.85,1428.52 675.49,1431.49 676.14,1434.43 676.79,1437.35 677.44,1440.24 678.09,1443.12 678.74,1445.99 679.39,1448.85 680.04,1451.71 680.69,1454.58 681.34,1457.46 681.99,1460.35 682.64,1463.24 683.29,1466.12 683.94,1469 684.59,1471.85 685.23,1474.69 685.88,1477.49 686.53,1480.25 687.18,1482.96 687.83,1485.63 688.48,1488.23 689.13,1490.77 689.78,1493.23 690.43,1495.62 691.08,1497.92 691.73,1500.12 692.38,1502.23 693.03,1504.23 693.68,1506.11 694.33,1507.89 694.97,1509.56 695.62,1511.13 696.27,1512.61 696.92,1514 697.57,1515.3 698.22,1516.52 698.87,1517.66 699.52,1518.73 700.17,1519.74 700.82,1520.68 701.47,1521.56 702.12,1522.39 702.77,1523.17 703.42,1523.91 704.07,1524.6 704.71,1525.27 705.36,1525.9 706.01,1526.5 706.66,1527.08 707.31,1527.63 707.96,1528.15 708.61,1528.65 709.26,1529.12 709.91,1529.57 710.56,1530 711.21,1530.4 711.86,1530.78 712.51,1531.15 713.16,1531.49 713.81,1531.81 714.45,1532.11 715.1,1532.39 715.75,1532.66 716.4,1532.9 717.05,1533.13 717.7,1533.35 718.35,1533.55 719,1533.73 719.65,1533.91 720.3,1534.06 720.95,1534.21 721.6,1534.34 722.25,1534.47 722.9,1534.58 723.55,1534.68 724.19,1534.77 724.84,1534.86 725.49,1534.94 726.14,1535.01 726.79,1535.07 727.44,1535.13 728.09,1535.18 728.74,1535.23 729.39,1535.27 730.04,1535.31 730.69,1535.35 731.34,1535.38 731.99,1535.42 732.64,1535.45 733.29,1535.49 733.93,1535.52 734.58,1535.56 735.23,1535.6 735.88,1535.64 736.53,1535.68 737.18,1535.73 737.83,1535.79 738.48,1535.85 739.13,1535.91 739.78,1535.98 740.43,1536.06 741.08,1536.14 741.73,1536.23 742.38,1536.32 743.03,1536.41 743.67,1536.5 744.32,1536.59 744.97,1536.68 745.62,1536.77 746.27,1536.86 746.92,1536.94 747.57,1537.02 748.22,1537.09 748.87,1537.15 749.52,1537.21 750.17,1537.26 750.82,1537.3 751.47,1537.33 752.12,1537.34 752.77,1537.35 753.41,1537.34 754.06,1537.32 754.71,1537.28 755.36,1537.23 756.01,1537.16 756.66,1537.07 757.31,1536.96 757.96,1536.83 758.61,1536.69 759.26,1536.52 759.91,1536.32 760.56,1536.11 761.21,1535.87 761.86,1535.6 762.51,1535.31 763.15,1534.99 763.8,1534.64 764.45,1534.27 765.1,1533.88 765.75,1533.46 766.4,1533.03 767.05,1532.58 767.7,1532.12 768.35,1531.64 769,1531.16 769.65,1530.67 770.3,1530.18 770.95,1529.69 771.6,1529.2 772.25,1528.71 772.89,1528.22 773.54,1527.74 774.19,1527.28 774.84,1526.82 775.49,1526.38 776.14,1525.96 776.79,1525.56 777.44,1525.18 778.09,1524.82 778.74,1524.49 779.39,1524.19 780.04,1523.92 780.69,1523.68 781.34,1523.48 781.99,1523.32 782.63,1523.19 783.28,1523.1 783.93,1523.03 784.58,1523 785.23,1522.99 785.88,1523.02 786.53,1523.07 787.18,1523.14 787.83,1523.23 788.48,1523.35 789.13,1523.49 789.78,1523.64 790.43,1523.81 791.08,1524 791.73,1524.2 792.37,1524.42 793.02,1524.64 793.67,1524.87 794.32,1525.12 794.97,1525.36 795.62,1525.62 796.27,1525.87 796.92,1526.13 797.57,1526.39 798.22,1526.65 798.87,1526.9 799.52,1527.15 800.17,1527.39 800.82,1527.63 801.47,1527.86 802.11,1528.08 802.76,1528.28 803.41,1528.48 804.06,1528.66 804.71,1528.82 805.36,1528.96 806.01,1529.09 806.66,1529.19 807.31,1529.28 807.96,1529.34 808.61,1529.37 809.26,1529.38 809.91,1529.36 810.56,1529.3 811.21,1529.22 811.85,1529.1 812.5,1528.93 813.15,1528.71 813.8,1528.45 814.45,1528.12 815.1,1527.73 815.75,1527.28 816.4,1526.75 817.05,1526.15 817.7,1525.47 818.35,1524.7 819,1523.85 819.65,1522.89 820.3,1521.84 820.95,1520.68 821.59,1519.42 822.24,1518.06 822.89,1516.6 823.54,1515.05 824.19,1513.43 824.84,1511.74 825.49,1509.99 826.14,1508.19 826.79,1506.34 827.44,1504.45 828.09,1502.54 828.74,1500.59 829.39,1498.62 830.04,1496.63 830.69,1494.62 831.33,1492.59 831.98,1490.56 832.63,1488.51 833.28,1486.46 833.93,1484.41 834.58,1482.36 835.23,1480.31 835.88,1478.27 836.53,1476.24 837.18,1474.23 837.83,1472.23 838.48,1470.26 839.13,1468.31 839.78,1466.38 840.43,1464.49 841.07,1462.63 841.72,1460.81 842.37,1459.02 843.02,1457.29 843.67,1455.6 844.32,1453.95 844.97,1452.37 845.62,1450.84 846.27,1449.36 846.92,1447.94 847.57,1446.58 848.22,1445.27 848.87,1444.02 849.52,1442.82 850.17,1441.67 850.81,1440.58 851.46,1439.54 852.11,1438.55 852.76,1437.61 853.41,1436.72 854.06,1435.88 854.71,1435.09 855.36,1434.36 856.01,1433.67 856.66,1433.02 857.31,1432.43 857.96,1431.88 858.61,1431.38 859.26,1430.93 859.91,1430.52 860.55,1430.15 861.2,1429.83 861.85,1429.56 862.5,1429.32 863.15,1429.13 863.8,1428.99 864.45,1428.88 865.1,1428.82 865.75,1428.8 866.4,1428.81 867.05,1428.87 867.7,1428.97 868.35,1429.1 869,1429.27 869.65,1429.48 870.29,1429.73 870.94,1430.02 871.59,1430.34 872.24,1430.69 872.89,1431.09 873.54,1431.51 874.19,1431.97 874.84,1432.46 875.49,1432.99 876.14,1433.55 876.79,1434.14 877.44,1434.75 878.09,1435.4 878.74,1436.07 879.39,1436.77 880.03,1437.48 880.68,1438.22 881.33,1438.99 881.98,1439.77 882.63,1440.56 883.28,1441.37 883.93,1442.2 884.58,1443.04 885.23,1443.9 885.88,1444.76 886.53,1445.63 887.18,1446.51 887.83,1447.39 888.48,1448.28 889.13,1449.17 889.77,1450.07 890.42,1450.96 891.07,1451.85 891.72,1452.74 892.37,1453.63 893.02,1454.51 893.67,1455.38 894.32,1456.25 894.97,1457.1 895.62,1457.95 896.27,1458.78 896.92,1459.6 897.57,1460.41 898.22,1461.2 898.87,1461.98 899.51,1462.75 900.16,1463.5 900.81,1464.24 901.46,1464.97 902.11,1465.68 902.76,1466.37 903.41,1467.05 904.06,1467.71 904.71,1468.36 905.36,1468.99 906.01,1469.6 906.66,1470.19 907.31,1470.77 907.96,1471.32 908.61,1471.86 909.25,1472.38 909.9,1472.88 910.55,1473.36 911.2,1473.82 911.85,1474.26 912.5,1474.67 913.15,1475.07 913.8,1475.44 914.45,1475.79 915.1,1476.12 915.75,1476.43 916.4,1476.71 917.05,1476.97 917.7,1477.21 918.35,1477.42 918.99,1477.6 919.64,1477.76 920.29,1477.9 920.94,1478 921.59,1478.09 922.24,1478.14 922.89,1478.16 923.54,1478.15 924.19,1478.12 924.84,1478.05 925.49,1477.95 926.14,1477.82 926.79,1477.65 927.44,1477.45 928.09,1477.22 928.73,1476.95 929.38,1476.64 930.03,1476.3 930.68,1475.92 931.33,1475.5 931.98,1475.04 932.63,1474.54 933.28,1474 933.93,1473.42 934.58,1472.8 935.23,1472.13 935.88,1471.42 936.53,1470.67 937.18,1469.87 937.83,1469.02 938.47,1468.13 939.12,1467.19 939.77,1466.21 940.42,1465.17 941.07,1464.08 941.72,1462.95 942.37,1461.76 943.02,1460.52 943.67,1459.23 944.32,1457.89 944.97,1456.49 945.62,1455.04 946.27,1453.53 946.92,1451.96 947.57,1450.34 948.21,1448.66 948.86,1446.92 949.51,1445.13 950.16,1443.27 950.81,1441.35 951.46,1439.38 952.11,1437.34 952.76,1435.24 953.41,1433.09 954.06,1430.89 954.71,1428.64 955.36,1426.35 956.01,1424.01 956.66,1421.63 957.31,1419.21 957.95,1416.76 958.6,1414.28 959.25,1411.77 959.9,1409.23 960.55,1406.66 961.2,1404.08 961.85,1401.47 962.5,1398.85 963.15,1396.22 963.8,1393.58 964.45,1390.93 965.1,1388.27 965.75,1385.62 966.4,1382.96 967.05,1380.31 967.69,1377.66 968.34,1375.02 968.99,1372.39 969.64,1369.78 970.29,1367.16 970.94,1364.52 971.59,1361.85 972.24,1359.12 972.89,1356.32 973.54,1353.43 974.19,1350.44 974.84,1347.33 975.49,1344.07 976.14,1340.66 976.79,1337.09 977.43,1333.38 978.08,1329.56 978.73,1325.65 979.38,1321.67 980.03,1317.64 980.68,1313.57 981.33,1309.45 981.98,1305.3 982.63,1301.1 983.28,1296.88 983.93,1292.62 984.58,1288.34 985.23,1284.04 985.88,1279.72 986.53,1275.38 987.17,1271.03 987.82,1266.68 988.47,1262.32 989.12,1257.96 989.77,1253.6 990.42,1249.24 991.07,1244.9 991.72,1240.57 992.37,1236.26 993.02,1231.97 993.67,1227.7 994.32,1223.45 994.97,1219.24 995.62,1215.07 996.27,1210.93 996.91,1206.83 997.56,1202.78 998.21,1198.78 998.86,1194.85 999.51,1191.01 1000.16,1187.25 1000.81,1183.6 1001.46,1180.07 1002.11,1176.67 1002.76,1173.41 1003.41,1170.3 1004.06,1167.36 1004.71,1164.6 1005.36,1162.03 1006.01,1159.66 1006.65,1157.51 1007.3,1155.58 1007.95,1153.9 1008.6,1152.46 1009.25,1151.29 1009.9,1150.4 1010.55,1149.8 1011.2,1149.49" fill="none" stroke="#f00000" stroke-width="3.8" stroke-linejoin="round"/>
<g fill="#f00000"><circle cx="621.6" cy="1150.21" r="2.9"/><circle cx="624.85" cy="1153.71" r="2.9"/><circle cx="628.09" cy="1163.15" r="2.9"/><circle cx="631.34" cy="1176.67" r="2.9"/><circle cx="634.59" cy="1192.4" r="2.9"/><circle cx="637.83" cy="1208.76" r="2.9"/><circle cx="641.08" cy="1225.65" r="2.9"/><circle cx="644.33" cy="1243.54" r="2.9"/><circle cx="647.57" cy="1262.63" r="2.9"/><circle cx="650.82" cy="1282.79" r="2.9"/><circle cx="654.07" cy="1303.84" r="2.9"/><circle cx="657.31" cy="1325.95" r="2.9"/><circle cx="660.56" cy="1352.08" r="2.9"/><circle cx="663.81" cy="1372.95" r="2.9"/><circle cx="667.05" cy="1389.5" r="2.9"/><circle cx="670.3" cy="1406.47" r="2.9"/><circle cx="673.55" cy="1422.46" r="2.9"/><circle cx="676.79" cy="1437.35" r="2.9"/><circle cx="680.04" cy="1451.71" r="2.9"/><circle cx="683.29" cy="1466.12" r="2.9"/><circle cx="686.53" cy="1480.25" r="2.9"/><circle cx="689.78" cy="1493.23" r="2.9"/><circle cx="693.03" cy="1504.23" r="2.9"/><circle cx="696.27" cy="1512.61" r="2.9"/><circle cx="699.52" cy="1518.73" r="2.9"/><circle cx="702.77" cy="1523.17" r="2.9"/><circle cx="706.01" cy="1526.5" r="2.9"/><circle cx="709.26" cy="1529.12" r="2.9"/><circle cx="712.51" cy="1531.15" r="2.9"/><circle cx="715.75" cy="1532.66" r="2.9"/><circle cx="719" cy="1533.73" r="2.9"/><circle cx="722.25" cy="1534.47" r="2.9"/><circle cx="725.49" cy="1534.94" r="2.9"/><circle cx="728.74" cy="1535.23" r="2.9"/><circle cx="731.99" cy="1535.42" r="2.9"/><circle cx="735.23" cy="1535.6" r="2.9"/><circle cx="738.48" cy="1535.85" r="2.9"/><circle cx="741.73" cy="1536.23" r="2.9"/><circle cx="744.97" cy="1536.68" r="2.9"/><circle cx="748.22" cy="1537.09" r="2.9"/><circle cx="751.47" cy="1537.33" r="2.9"/><circle cx="754.71" cy="1537.28" r="2.9"/><circle cx="757.96" cy="1536.83" r="2.9"/><circle cx="761.21" cy="1535.87" r="2.9"/><circle cx="764.45" cy="1534.27" r="2.9"/><circle cx="767.7" cy="1532.12" r="2.9"/><circle cx="770.95" cy="1529.69" r="2.9"/><circle cx="774.19" cy="1527.28" r="2.9"/><circle cx="777.44" cy="1525.18" r="2.9"/><circle cx="780.69" cy="1523.68" r="2.9"/><circle cx="783.93" cy="1523.03" r="2.9"/><circle cx="787.18" cy="1523.14" r="2.9"/><circle cx="790.43" cy="1523.81" r="2.9"/><circle cx="793.67" cy="1524.87" r="2.9"/><circle cx="796.92" cy="1526.13" r="2.9"/><circle cx="800.17" cy="1527.39" r="2.9"/><circle cx="803.41" cy="1528.48" r="2.9"/><circle cx="806.66" cy="1529.19" r="2.9"/><circle cx="809.91" cy="1529.36" r="2.9"/><circle cx="813.15" cy="1528.71" r="2.9"/><circle cx="816.4" cy="1526.75" r="2.9"/><circle cx="819.65" cy="1522.89" r="2.9"/><circle cx="822.89" cy="1516.6" r="2.9"/><circle cx="826.14" cy="1508.19" r="2.9"/><circle cx="829.39" cy="1498.62" r="2.9"/><circle cx="832.63" cy="1488.51" r="2.9"/><circle cx="835.88" cy="1478.27" r="2.9"/><circle cx="839.13" cy="1468.31" r="2.9"/><circle cx="842.37" cy="1459.02" r="2.9"/><circle cx="845.62" cy="1450.84" r="2.9"/><circle cx="848.87" cy="1444.02" r="2.9"/><circle cx="852.11" cy="1438.55" r="2.9"/><circle cx="855.36" cy="1434.36" r="2.9"/><circle cx="858.61" cy="1431.38" r="2.9"/><circle cx="861.85" cy="1429.56" r="2.9"/><circle cx="865.1" cy="1428.82" r="2.9"/><circle cx="868.35" cy="1429.1" r="2.9"/><circle cx="871.59" cy="1430.34" r="2.9"/><circle cx="874.84" cy="1432.46" r="2.9"/><circle cx="878.09" cy="1435.4" r="2.9"/><circle cx="881.33" cy="1438.99" r="2.9"/><circle cx="884.58" cy="1443.04" r="2.9"/><circle cx="887.83" cy="1447.39" r="2.9"/><circle cx="891.07" cy="1451.85" r="2.9"/><circle cx="894.32" cy="1456.25" r="2.9"/><circle cx="897.57" cy="1460.41" r="2.9"/><circle cx="900.81" cy="1464.24" r="2.9"/><circle cx="904.06" cy="1467.71" r="2.9"/><circle cx="907.31" cy="1470.77" r="2.9"/><circle cx="910.55" cy="1473.36" r="2.9"/><circle cx="913.8" cy="1475.44" r="2.9"/><circle cx="917.05" cy="1476.97" r="2.9"/><circle cx="920.29" cy="1477.9" r="2.9"/><circle cx="923.54" cy="1478.15" r="2.9"/><circle cx="926.79" cy="1477.65" r="2.9"/><circle cx="930.03" cy="1476.3" r="2.9"/><circle cx="933.28" cy="1474" r="2.9"/><circle cx="936.53" cy="1470.67" r="2.9"/><circle cx="939.77" cy="1466.21" r="2.9"/><circle cx="943.02" cy="1460.52" r="2.9"/><circle cx="946.27" cy="1453.53" r="2.9"/><circle cx="949.51" cy="1445.13" r="2.9"/><circle cx="952.76" cy="1435.24" r="2.9"/><circle cx="956.01" cy="1424.01" r="2.9"/><circle cx="959.25" cy="1411.77" r="2.9"/><circle cx="962.5" cy="1398.85" r="2.9"/><circle cx="965.75" cy="1385.62" r="2.9"/><circle cx="968.99" cy="1372.39" r="2.9"/><circle cx="972.24" cy="1359.12" r="2.9"/><circle cx="975.49" cy="1344.07" r="2.9"/><circle cx="978.73" cy="1325.65" r="2.9"/><circle cx="981.98" cy="1305.3" r="2.9"/><circle cx="985.23" cy="1284.04" r="2.9"/><circle cx="988.47" cy="1262.32" r="2.9"/><circle cx="991.72" cy="1240.57" r="2.9"/><circle cx="994.97" cy="1219.24" r="2.9"/><circle cx="998.21" cy="1198.78" r="2.9"/><circle cx="1001.46" cy="1180.07" r="2.9"/><circle cx="1004.71" cy="1164.6" r="2.9"/><circle cx="1007.95" cy="1153.9" r="2.9"/><circle cx="1011.2" cy="1149.49" r="2.9"/></g></g>
<g clip-path="url(#cf)"><polyline points="621.6,1271.25 622.25,1271.45 622.9,1272.1 623.55,1273.17 624.2,1274.61 624.85,1276.36 625.5,1278.4 626.15,1280.66 626.79,1283.1 627.44,1285.68 628.09,1288.35 628.74,1291.08 629.39,1293.86 630.04,1296.7 630.69,1299.62 631.34,1302.62 631.99,1305.7 632.64,1308.87 633.29,1312.14 633.94,1315.52 634.59,1319.01 635.24,1322.62 635.89,1326.34 636.53,1330.19 637.18,1334.15 637.83,1338.24 638.48,1342.45 639.13,1346.78 639.78,1351.22 640.43,1355.77 641.08,1360.4 641.73,1365.1 642.38,1369.85 643.03,1374.64 643.68,1379.46 644.33,1384.29 644.98,1389.12 645.63,1393.92 646.27,1398.7 646.92,1403.42 647.57,1408.09 648.22,1412.69 648.87,1417.22 649.52,1421.68 650.17,1426.08 650.82,1430.41 651.47,1434.67 652.12,1438.85 652.77,1442.96 653.42,1447 654.07,1450.97 654.72,1454.86 655.37,1458.67 656.01,1462.4 656.66,1466.06 657.31,1469.63 657.96,1473.12 658.61,1476.54 659.26,1479.86 659.91,1483.11 660.56,1486.26 661.21,1489.34 661.86,1492.32 662.51,1495.22 663.16,1498.02 663.81,1500.74 664.46,1503.36 665.11,1505.89 665.75,1508.33 666.4,1510.67 667.05,1512.91 667.7,1515.06 668.35,1517.11 669,1519.06 669.65,1520.91 670.3,1522.66 670.95,1524.31 671.6,1525.87 672.25,1527.32 672.9,1528.68 673.55,1529.95 674.2,1531.11 674.85,1532.19 675.49,1533.16 676.14,1534.05 676.79,1534.84 677.44,1535.54 678.09,1536.15 678.74,1536.67 679.39,1537.1 680.04,1537.44 680.69,1537.5 681.34,1537.5 681.99,1537.5 682.64,1537.5 683.29,1537.5 683.94,1537.5 684.59,1537.37 685.23,1537.01 685.88,1536.58 686.53,1536.06 687.18,1535.47 687.83,1534.79 688.48,1534.03 689.13,1533.19 689.78,1532.27 690.43,1531.27 691.08,1530.2 691.73,1529.05 692.38,1527.82 693.03,1526.52 693.68,1525.14 694.33,1523.69 694.97,1522.17 695.62,1520.57 696.27,1518.9 696.92,1517.16 697.57,1515.34 698.22,1513.46 698.87,1511.51 699.52,1509.49 700.17,1507.4 700.82,1505.24 701.47,1503.02 702.12,1500.72 702.77,1498.36 703.42,1495.93 704.07,1493.43 704.71,1490.86 705.36,1488.22 706.01,1485.52 706.66,1482.74 707.31,1479.9 707.96,1476.99 708.61,1474 709.26,1470.95 709.91,1467.84 710.56,1464.65 711.21,1461.39 711.86,1458.07 712.51,1454.67 713.16,1451.22 713.81,1447.72 714.45,1444.18 715.1,1440.62 715.75,1437.04 716.4,1433.45 717.05,1429.88 717.7,1426.32 718.35,1422.8 719,1419.32 719.65,1415.89 720.3,1412.53 720.95,1409.24 721.6,1406.04 722.25,1402.94 722.9,1399.95 723.55,1397.08 724.19,1394.33 724.84,1391.67 725.49,1389.11 726.14,1386.62 726.79,1384.2 727.44,1381.84 728.09,1379.51 728.74,1377.22 729.39,1374.95 730.04,1372.68 730.69,1370.41 731.34,1368.12 731.99,1365.81 732.64,1363.47 733.29,1361.12 733.93,1358.74 734.58,1356.33 735.23,1353.91 735.88,1351.46 736.53,1348.99 737.18,1346.49 737.83,1343.97 738.48,1341.43 739.13,1338.88 739.78,1336.33 740.43,1333.77 741.08,1331.23 741.73,1328.71 742.38,1326.22 743.03,1323.75 743.67,1321.34 744.32,1318.97 744.97,1316.65 745.62,1314.4 746.27,1312.21 746.92,1310.07 747.57,1307.98 748.22,1305.93 748.87,1303.91 749.52,1301.92 750.17,1299.96 750.82,1298 751.47,1296.06 752.12,1294.12 752.77,1292.19 753.41,1290.28 754.06,1288.37 754.71,1286.48 755.36,1284.6 756.01,1282.73 756.66,1280.88 757.31,1279.04 757.96,1277.23 758.61,1275.43 759.26,1273.65 759.91,1271.89 760.56,1270.16 761.21,1268.45 761.86,1266.76 762.51,1265.1 763.15,1263.46 763.8,1261.85 764.45,1260.27 765.1,1258.72 765.75,1257.21 766.4,1255.72 767.05,1254.27 767.7,1252.85 768.35,1251.46 769,1250.11 769.65,1248.8 770.3,1247.53 770.95,1246.3 771.6,1245.11 772.25,1243.96 772.89,1242.85 773.54,1241.79 774.19,1240.77 774.84,1239.8 775.49,1238.88 776.14,1238 776.79,1237.18 777.44,1236.4 778.09,1235.68 778.74,1235.01 779.39,1234.39 780.04,1233.83 780.69,1233.33 781.34,1232.88 781.99,1232.49 782.63,1232.16 783.28,1231.89 783.93,1231.69 784.58,1231.54 785.23,1231.46 785.88,1231.45 786.53,1231.5 787.18,1231.62 787.83,1231.8 788.48,1232.06 789.13,1232.38 789.78,1232.78 790.43,1233.25 791.08,1233.8 791.73,1234.41 792.37,1235.1 793.02,1235.85 793.67,1236.65 794.32,1237.51 794.97,1238.41 795.62,1239.35 796.27,1240.32 796.92,1241.32 797.57,1242.35 798.22,1243.39 798.87,1244.44 799.52,1245.49 800.17,1246.54 800.82,1247.59 801.47,1248.62 802.11,1249.63 802.76,1250.62 803.41,1251.58 804.06,1252.5 804.71,1253.38 805.36,1254.22 806.01,1255.01 806.66,1255.75 807.31,1256.45 807.96,1257.09 808.61,1257.68 809.26,1258.21 809.91,1258.68 810.56,1259.1 811.21,1259.45 811.85,1259.74 812.5,1259.96 813.15,1260.12 813.8,1260.2 814.45,1260.21 815.1,1260.15 815.75,1260.02 816.4,1259.81 817.05,1259.52 817.7,1259.16 818.35,1258.73 819,1258.22 819.65,1257.64 820.3,1256.99 820.95,1256.26 821.59,1255.46 822.24,1254.6 822.89,1253.66 823.54,1252.65 824.19,1251.57 824.84,1250.42 825.49,1249.21 826.14,1247.92 826.79,1246.57 827.44,1245.15 828.09,1243.66 828.74,1242.11 829.39,1240.49 830.04,1238.8 830.69,1237.05 831.33,1235.23 831.98,1233.35 832.63,1231.41 833.28,1229.42 833.93,1227.38 834.58,1225.29 835.23,1223.17 835.88,1221 836.53,1218.81 837.18,1216.58 837.83,1214.34 838.48,1212.07 839.13,1209.79 839.78,1207.5 840.43,1205.2 841.07,1202.9 841.72,1200.6 842.37,1198.31 843.02,1196.03 843.67,1193.76 844.32,1191.52 844.97,1189.3 845.62,1187.11 846.27,1184.95 846.92,1182.82 847.57,1180.74 848.22,1178.7 848.87,1176.72 849.52,1174.79 850.17,1172.91 850.81,1171.1 851.46,1169.35 852.11,1167.67 852.76,1166.05 853.41,1164.49 854.06,1163 854.71,1161.57 855.36,1160.21 856.01,1158.92 856.66,1157.69 857.31,1156.54 857.96,1155.45 858.61,1154.43 859.26,1153.48 859.91,1152.6 860.55,1151.8 861.2,1151.06 861.85,1150.4 862.5,1149.81 863.15,1149.3 863.8,1148.86 864.45,1148.8 865.1,1148.8 865.75,1148.8 866.4,1148.8 867.05,1148.8 867.7,1148.8 868.35,1148.8 869,1148.8 869.65,1148.8 870.29,1149.08 870.94,1149.67 871.59,1150.38 872.24,1151.22 872.89,1152.19 873.54,1153.3 874.19,1154.55 874.84,1155.95 875.49,1157.5 876.14,1159.2 876.79,1161.04 877.44,1163.01 878.09,1165.1 878.74,1167.29 879.39,1169.59 880.03,1171.98 880.68,1174.45 881.33,1177 881.98,1179.6 882.63,1182.26 883.28,1184.97 883.93,1187.71 884.58,1190.47 885.23,1193.26 885.88,1196.06 886.53,1198.87 887.18,1201.68 887.83,1204.5 888.48,1207.31 889.13,1210.11 889.77,1212.9 890.42,1215.67 891.07,1218.42 891.72,1221.14 892.37,1223.82 893.02,1226.47 893.67,1229.07 894.32,1231.62 894.97,1234.14 895.62,1236.64 896.27,1239.16 896.92,1241.71 897.57,1244.33 898.22,1247.03 898.87,1249.83 899.51,1252.72 900.16,1255.68 900.81,1258.71 901.46,1261.78 902.11,1264.9 902.76,1268.04 903.41,1271.19 904.06,1274.35 904.71,1277.49 905.36,1280.62 906.01,1283.74 906.66,1286.83 907.31,1289.9 907.96,1292.95 908.61,1295.97 909.25,1298.95 909.9,1301.9 910.55,1304.84 911.2,1307.91 911.85,1311.35 912.5,1315.35 913.15,1320.14 913.8,1325.67 914.45,1331.38 915.1,1336.64 915.75,1341.13 916.4,1345.25 917.05,1349.52 917.7,1354.47 918.35,1360.25 918.99,1366.39 919.64,1372.37 920.29,1377.7 920.94,1382.18 921.59,1386.05 922.24,1389.52 922.89,1392.83 923.54,1396.19 924.19,1399.64 924.84,1403.17 925.49,1406.76 926.14,1410.39 926.79,1414.03 927.44,1417.68 928.09,1421.3 928.73,1424.89 929.38,1428.42 930.03,1431.88 930.68,1435.29 931.33,1438.63 931.98,1441.91 932.63,1445.12 933.28,1448.28 933.93,1451.38 934.58,1454.43 935.23,1457.41 935.88,1460.35 936.53,1463.22 937.18,1466.05 937.83,1468.82 938.47,1471.55 939.12,1474.22 939.77,1476.83 940.42,1479.39 941.07,1481.89 941.72,1484.33 942.37,1486.7 943.02,1489.01 943.67,1491.24 944.32,1493.4 944.97,1495.49 945.62,1497.5 946.27,1499.44 946.92,1501.29 947.57,1503.05 948.21,1504.73 948.86,1506.32 949.51,1507.82 950.16,1509.22 950.81,1510.52 951.46,1511.73 952.11,1512.83 952.76,1513.83 953.41,1514.73 954.06,1515.51 954.71,1516.18 955.36,1516.74 956.01,1517.18 956.66,1517.5 957.31,1517.7 957.95,1517.77 958.6,1517.72 959.25,1517.54 959.9,1517.23 960.55,1516.78 961.2,1516.2 961.85,1515.47 962.5,1514.61 963.15,1513.6 963.8,1512.44 964.45,1511.14 965.1,1509.68 965.75,1508.07 966.4,1506.3 967.05,1504.38 967.69,1502.29 968.34,1500.05 968.99,1497.66 969.64,1495.12 970.29,1492.44 970.94,1489.63 971.59,1486.7 972.24,1483.64 972.89,1480.46 973.54,1477.18 974.19,1473.78 974.84,1470.29 975.49,1466.7 976.14,1463.03 976.79,1459.27 977.43,1455.43 978.08,1451.52 978.73,1447.54 979.38,1443.5 980.03,1439.41 980.68,1435.26 981.33,1431.07 981.98,1426.84 982.63,1422.58 983.28,1418.29 983.93,1413.97 984.58,1409.64 985.23,1405.3 985.88,1400.95 986.53,1396.6 987.17,1392.25 987.82,1387.92 988.47,1383.6 989.12,1379.31 989.77,1375.06 990.42,1370.86 991.07,1366.74 991.72,1362.69 992.37,1358.73 993.02,1354.88 993.67,1351.15 994.32,1347.56 994.97,1344.08 995.62,1340.65 996.27,1337.24 996.91,1333.78 997.56,1330.22 998.21,1326.51 998.86,1322.63 999.51,1318.61 1000.16,1314.51 1000.81,1310.36 1001.46,1306.21 1002.11,1302.1 1002.76,1298.06 1003.41,1294.16 1004.06,1290.42 1004.71,1286.9 1005.36,1283.63 1006.01,1280.65 1006.65,1278.01 1007.3,1275.76 1007.95,1273.91 1008.6,1272.44 1009.25,1271.35 1009.9,1270.64 1010.55,1270.28 1011.2,1270.27" fill="none" stroke="#0a0a0a" stroke-width="3.8" stroke-linejoin="round"/>
<g fill="#0a0a0a"><circle cx="621.6" cy="1271.25" r="2.9"/><circle cx="624.85" cy="1276.36" r="2.9"/><circle cx="628.09" cy="1288.35" r="2.9"/><circle cx="631.34" cy="1302.62" r="2.9"/><circle cx="634.59" cy="1319.01" r="2.9"/><circle cx="637.83" cy="1338.24" r="2.9"/><circle cx="641.08" cy="1360.4" r="2.9"/><circle cx="644.33" cy="1384.29" r="2.9"/><circle cx="647.57" cy="1408.09" r="2.9"/><circle cx="650.82" cy="1430.41" r="2.9"/><circle cx="654.07" cy="1450.97" r="2.9"/><circle cx="657.31" cy="1469.63" r="2.9"/><circle cx="660.56" cy="1486.26" r="2.9"/><circle cx="663.81" cy="1500.74" r="2.9"/><circle cx="667.05" cy="1512.91" r="2.9"/><circle cx="670.3" cy="1522.66" r="2.9"/><circle cx="673.55" cy="1529.95" r="2.9"/><circle cx="676.79" cy="1534.84" r="2.9"/><circle cx="680.04" cy="1537.44" r="2.9"/><circle cx="683.29" cy="1537.5" r="2.9"/><circle cx="686.53" cy="1536.06" r="2.9"/><circle cx="689.78" cy="1532.27" r="2.9"/><circle cx="693.03" cy="1526.52" r="2.9"/><circle cx="696.27" cy="1518.9" r="2.9"/><circle cx="699.52" cy="1509.49" r="2.9"/><circle cx="702.77" cy="1498.36" r="2.9"/><circle cx="706.01" cy="1485.52" r="2.9"/><circle cx="709.26" cy="1470.95" r="2.9"/><circle cx="712.51" cy="1454.67" r="2.9"/><circle cx="715.75" cy="1437.04" r="2.9"/><circle cx="719" cy="1419.32" r="2.9"/><circle cx="722.25" cy="1402.94" r="2.9"/><circle cx="725.49" cy="1389.11" r="2.9"/><circle cx="728.74" cy="1377.22" r="2.9"/><circle cx="731.99" cy="1365.81" r="2.9"/><circle cx="735.23" cy="1353.91" r="2.9"/><circle cx="738.48" cy="1341.43" r="2.9"/><circle cx="741.73" cy="1328.71" r="2.9"/><circle cx="744.97" cy="1316.65" r="2.9"/><circle cx="748.22" cy="1305.93" r="2.9"/><circle cx="751.47" cy="1296.06" r="2.9"/><circle cx="754.71" cy="1286.48" r="2.9"/><circle cx="757.96" cy="1277.23" r="2.9"/><circle cx="761.21" cy="1268.45" r="2.9"/><circle cx="764.45" cy="1260.27" r="2.9"/><circle cx="767.7" cy="1252.85" r="2.9"/><circle cx="770.95" cy="1246.3" r="2.9"/><circle cx="774.19" cy="1240.77" r="2.9"/><circle cx="777.44" cy="1236.4" r="2.9"/><circle cx="780.69" cy="1233.33" r="2.9"/><circle cx="783.93" cy="1231.69" r="2.9"/><circle cx="787.18" cy="1231.62" r="2.9"/><circle cx="790.43" cy="1233.25" r="2.9"/><circle cx="793.67" cy="1236.65" r="2.9"/><circle cx="796.92" cy="1241.32" r="2.9"/><circle cx="800.17" cy="1246.54" r="2.9"/><circle cx="803.41" cy="1251.58" r="2.9"/><circle cx="806.66" cy="1255.75" r="2.9"/><circle cx="809.91" cy="1258.68" r="2.9"/><circle cx="813.15" cy="1260.12" r="2.9"/><circle cx="816.4" cy="1259.81" r="2.9"/><circle cx="819.65" cy="1257.64" r="2.9"/><circle cx="822.89" cy="1253.66" r="2.9"/><circle cx="826.14" cy="1247.92" r="2.9"/><circle cx="829.39" cy="1240.49" r="2.9"/><circle cx="832.63" cy="1231.41" r="2.9"/><circle cx="835.88" cy="1221" r="2.9"/><circle cx="839.13" cy="1209.79" r="2.9"/><circle cx="842.37" cy="1198.31" r="2.9"/><circle cx="845.62" cy="1187.11" r="2.9"/><circle cx="848.87" cy="1176.72" r="2.9"/><circle cx="852.11" cy="1167.67" r="2.9"/><circle cx="855.36" cy="1160.21" r="2.9"/><circle cx="858.61" cy="1154.43" r="2.9"/><circle cx="861.85" cy="1150.4" r="2.9"/><circle cx="865.1" cy="1148.8" r="2.9"/><circle cx="868.35" cy="1148.8" r="2.9"/><circle cx="871.59" cy="1150.38" r="2.9"/><circle cx="874.84" cy="1155.95" r="2.9"/><circle cx="878.09" cy="1165.1" r="2.9"/><circle cx="881.33" cy="1177" r="2.9"/><circle cx="884.58" cy="1190.47" r="2.9"/><circle cx="887.83" cy="1204.5" r="2.9"/><circle cx="891.07" cy="1218.42" r="2.9"/><circle cx="894.32" cy="1231.62" r="2.9"/><circle cx="897.57" cy="1244.33" r="2.9"/><circle cx="900.81" cy="1258.71" r="2.9"/><circle cx="904.06" cy="1274.35" r="2.9"/><circle cx="907.31" cy="1289.9" r="2.9"/><circle cx="910.55" cy="1304.84" r="2.9"/><circle cx="913.8" cy="1325.67" r="2.9"/><circle cx="917.05" cy="1349.52" r="2.9"/><circle cx="920.29" cy="1377.7" r="2.9"/><circle cx="923.54" cy="1396.19" r="2.9"/><circle cx="926.79" cy="1414.03" r="2.9"/><circle cx="930.03" cy="1431.88" r="2.9"/><circle cx="933.28" cy="1448.28" r="2.9"/><circle cx="936.53" cy="1463.22" r="2.9"/><circle cx="939.77" cy="1476.83" r="2.9"/><circle cx="943.02" cy="1489.01" r="2.9"/><circle cx="946.27" cy="1499.44" r="2.9"/><circle cx="949.51" cy="1507.82" r="2.9"/><circle cx="952.76" cy="1513.83" r="2.9"/><circle cx="956.01" cy="1517.18" r="2.9"/><circle cx="959.25" cy="1517.54" r="2.9"/><circle cx="962.5" cy="1514.61" r="2.9"/><circle cx="965.75" cy="1508.07" r="2.9"/><circle cx="968.99" cy="1497.66" r="2.9"/><circle cx="972.24" cy="1483.64" r="2.9"/><circle cx="975.49" cy="1466.7" r="2.9"/><circle cx="978.73" cy="1447.54" r="2.9"/><circle cx="981.98" cy="1426.84" r="2.9"/><circle cx="985.23" cy="1405.3" r="2.9"/><circle cx="988.47" cy="1383.6" r="2.9"/><circle cx="991.72" cy="1362.69" r="2.9"/><circle cx="994.97" cy="1344.08" r="2.9"/><circle cx="998.21" cy="1326.51" r="2.9"/><circle cx="1001.46" cy="1306.21" r="2.9"/><circle cx="1004.71" cy="1286.9" r="2.9"/><circle cx="1007.95" cy="1273.91" r="2.9"/><circle cx="1011.2" cy="1270.27" r="2.9"/></g></g>
<rect x="721.2" y="1149" width="276.8" height="88.2" fill="#fff" fill-opacity="0.9" stroke="#777" stroke-width="1"/>
<line x1="725.2" y1="1168" x2="752" y2="1168" stroke="#0a0a0a" stroke-width="3.2" />
<circle cx="738.6" cy="1168" r="2.7" fill="#0a0a0a"/>
<text x="782" y="1176.6" font-size="24.2" text-anchor="start" >U=300meV, r<tspan font-size="14.52" dy="4.5">TF</tspan><tspan dy="-4.5">=0.2a</tspan></text>
<line x1="725.2" y1="1194.2" x2="752" y2="1194.2" stroke="#f00000" stroke-width="3.2" />
<circle cx="738.6" cy="1194.2" r="2.7" fill="#f00000"/>
<text x="782" y="1202.8" font-size="24.2" text-anchor="start" >U=300meV, r<tspan font-size="14.52" dy="4.5">TF</tspan><tspan dy="-4.5">=0.33a</tspan></text>
<line x1="725.2" y1="1221.2" x2="752" y2="1221.2" stroke="#008a1a" stroke-width="3.2" />
<circle cx="738.6" cy="1221.2" r="2.7" fill="#008a1a"/>
<text x="782" y="1229.8" font-size="24.2" text-anchor="start" >U=300meV, r<tspan font-size="14.52" dy="4.5">TF</tspan><tspan dy="-4.5">=0.4a</tspan></text>
<text x="608" y="1549.1" font-size="34" text-anchor="end" >0</text>
<text x="608" y="1451.85" font-size="34" text-anchor="end" >0.25</text>
<text x="608" y="1354.6" font-size="34" text-anchor="end" >0.5</text>
<text x="608" y="1257.35" font-size="34" text-anchor="end" >0.75</text>
<text x="608" y="1160.1" font-size="34" text-anchor="end" >1</text>
<text x="623" y="1575" font-size="35" text-anchor="middle" >Γ</text>
<text x="786" y="1575" font-size="35" text-anchor="middle" >K</text>
<text x="867" y="1575" font-size="35" text-anchor="middle" >M</text>
<text x="1014" y="1575" font-size="35" text-anchor="middle" >Γ</text>
<text x="815" y="1597.5" font-size="34" text-anchor="middle" font-weight="bold">q</text>
<text transform="translate(545.5,1343.6) rotate(-90)" font-size="36.3" text-anchor="middle" ><tspan font-style="italic">ω</tspan>(<tspan font-weight="bold">q</tspan>)</text>
<text transform="translate(529,1366) rotate(-90)" font-size="27" text-anchor="middle" >~</text>
<text x="516" y="1146" font-size="37" text-anchor="start" >(f)</text>
</svg>
</body></html>
